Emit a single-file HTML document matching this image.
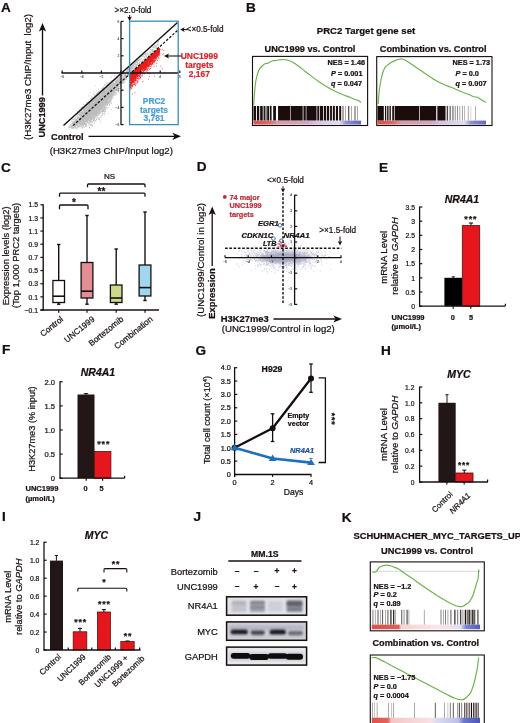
<!DOCTYPE html>
<html lang="en"><head><meta charset="utf-8"><title>Figure</title>
<style>
html,body{margin:0;padding:0;background:#fff}
svg{display:block;font-family:"Liberation Sans",sans-serif;fill:#170f0e}
text{stroke-width:0.22px}
</style></head><body>
<svg width="520" height="723" viewBox="0 0 520 723">
<defs>
<linearGradient id="rwb" x1="0" x2="1" y1="0" y2="0">
<stop offset="0" stop-color="#d9504c"/><stop offset="0.15" stop-color="#dc6a68"/><stop offset="0.22" stop-color="#d998a6"/>
<stop offset="0.5" stop-color="#cfa6c2"/><stop offset="0.58" stop-color="#d6c2dc"/><stop offset="0.8" stop-color="#dedef1"/>
<stop offset="0.86" stop-color="#8d90d0"/><stop offset="1" stop-color="#6368bd"/>
</linearGradient>
<linearGradient id="rwb2" x1="0" x2="1" y1="0" y2="0">
<stop offset="0" stop-color="#dc504b"/><stop offset="0.25" stop-color="#e0605b"/>
<stop offset="0.27" stop-color="#f6d2d2"/><stop offset="0.62" stop-color="#f9e6e8"/>
<stop offset="0.82" stop-color="#dfe0f2"/><stop offset="0.87" stop-color="#7f86d2"/><stop offset="1" stop-color="#5059bd"/>
</linearGradient>
<linearGradient id="rwb3" x1="0" x2="1" y1="0" y2="0">
<stop offset="0" stop-color="#e0504b"/><stop offset="0.15" stop-color="#e4645f"/>
<stop offset="0.18" stop-color="#f5c6c5"/><stop offset="0.55" stop-color="#f8e2e4"/>
<stop offset="0.6" stop-color="#dcdcf1"/><stop offset="0.8" stop-color="#bcc0e8"/><stop offset="0.85" stop-color="#6f77cc"/><stop offset="1" stop-color="#4a54ba"/>
</linearGradient>
<filter id="b1" x="-5%" y="-5%" width="110%" height="110%"><feGaussianBlur stdDeviation="0.35"/></filter>
<filter id="b2" x="-10%" y="-30%" width="120%" height="160%"><feGaussianBlur stdDeviation="1.1"/></filter>
<filter id="soft" filterUnits="userSpaceOnUse" x="0" y="0" width="520" height="723"><feGaussianBlur stdDeviation="0.3"/></filter>
</defs>
<rect width="520" height="723" fill="#fff"/>
<g filter="url(#soft)">
<g id="panelA">
<text x="0.90" y="11.80" font-size="13.6" font-weight="bold" stroke="#170f0e">A</text>
<path d="M81.4 116.1h0.85M109.7 95.1h0.85M80.1 119.6h0.85M103.1 92.2h0.85M81.5 124.9h0.85M106.0 93.7h0.85M116.5 80.6h0.85M95.7 107.2h0.85M129.7 70.6h0.85M87.0 120.2h0.85M98.2 102.4h0.85M92.6 108.6h0.85M100.5 97.0h0.85M111.0 89.9h0.85M74.2 121.6h0.85M78.9 121.1h0.85M78.2 120.9h0.85M87.1 111.8h0.85M96.4 99.7h0.85M80.1 120.7h0.85M105.4 97.5h0.85M101.7 99.6h0.85M84.2 112.3h0.85M86.6 101.9h0.85M90.6 105.8h0.85M97.0 98.5h0.85M89.3 104.9h0.85M95.4 98.0h0.85M104.9 96.6h0.85M87.0 108.4h0.85M103.0 89.0h0.85M92.2 105.2h0.85M103.5 97.0h0.85M99.6 100.9h0.85M89.4 117.4h0.85M91.9 105.2h0.85M116.2 80.9h0.85M110.4 87.6h0.85M105.9 95.5h0.85M106.8 85.6h0.85M92.8 112.3h0.85M122.0 77.8h0.85M109.4 88.2h0.85M119.6 81.6h0.85M118.9 83.6h0.85M106.4 93.9h0.85M99.5 106.2h0.85M92.3 113.3h0.85M89.7 125.8h0.85M106.3 103.7h0.85M98.7 100.3h0.85M91.0 102.0h0.85M119.9 79.7h0.85M88.2 108.4h0.85M116.4 82.3h0.85M88.9 114.1h0.85M104.9 98.8h0.85M87.6 108.9h0.85M81.6 118.8h0.85M104.6 98.1h0.85M92.3 107.5h0.85M113.2 84.6h0.85M82.9 119.1h0.85M124.9 75.1h0.85M99.2 103.2h0.85M110.7 88.3h0.85M99.9 107.3h0.85M109.2 89.6h0.85M74.4 126.2h0.85M81.2 117.3h0.85M100.1 100.4h0.85M96.4 109.6h0.85M86.0 114.7h0.85M85.9 111.7h0.85M97.0 114.1h0.85M91.0 101.4h0.85M84.8 118.2h0.85M75.3 120.1h0.85M91.0 115.0h0.85M71.8 123.9h0.85M87.4 109.7h0.85M89.1 117.4h0.85M108.3 95.7h0.85M93.7 119.8h0.85M82.9 123.8h0.85M110.4 96.5h0.85M90.3 108.9h0.85M92.5 108.4h0.85M93.9 112.8h0.85M88.3 110.8h0.85M116.6 90.5h0.85M97.3 99.9h0.85M92.3 103.3h0.85M97.8 105.5h0.85M89.3 104.6h0.85M121.2 81.5h0.85M85.4 110.3h0.85M89.9 112.7h0.85M89.7 121.0h0.85M106.7 85.7h0.85M83.5 121.9h0.85M108.2 95.3h0.85M103.3 110.7h0.85M97.5 98.2h0.85M80.7 114.7h0.85M93.8 103.9h0.85M109.2 93.6h0.85M105.7 103.7h0.85M106.2 101.3h0.85M97.4 94.7h0.85M102.1 102.0h0.85M81.0 121.8h0.85M118.0 80.9h0.85M97.8 105.0h0.85M97.8 101.5h0.85M88.8 110.4h0.85M100.0 106.3h0.85M86.9 119.4h0.85M83.4 111.2h0.85M89.2 115.1h0.85M98.2 96.3h0.85M98.0 104.4h0.85M89.2 112.0h0.85M108.6 95.8h0.85M82.4 124.2h0.85M82.9 124.6h0.85M111.0 89.2h0.85M94.0 98.0h0.85M88.6 107.1h0.85M107.2 103.9h0.85M77.2 126.0h0.85M108.5 86.7h0.85M81.4 112.5h0.85M92.1 111.1h0.85M90.0 112.6h0.85M81.2 115.6h0.85M92.7 106.8h0.85M86.2 103.6h0.85M83.6 117.6h0.85M101.3 107.9h0.85M102.8 98.4h0.85M82.4 107.3h0.85M101.1 90.6h0.85M105.9 94.1h0.85M107.2 94.5h0.85M90.2 105.9h0.85M109.3 94.5h0.85M98.4 99.4h0.85M101.6 105.4h0.85M95.2 107.1h0.85M93.5 112.4h0.85M92.9 116.7h0.85M113.7 85.3h0.85M91.9 99.2h0.85M94.5 104.3h0.85M112.0 96.5h0.85M102.8 108.3h0.85M110.4 97.2h0.85M91.3 110.2h0.85M92.6 114.4h0.85M89.3 114.4h0.85M98.1 113.8h0.85M106.5 90.7h0.85M88.5 113.5h0.85M104.6 107.8h0.85M77.4 116.1h0.85M113.1 85.5h0.85M98.2 102.0h0.85M116.2 86.8h0.85M107.7 96.5h0.85M92.9 108.4h0.85M90.5 114.8h0.85M96.4 102.5h0.85M111.8 94.4h0.85M101.8 106.7h0.85M105.1 95.1h0.85M104.3 103.9h0.85M83.6 127.2h0.85M92.4 117.7h0.85M80.8 117.7h0.85M117.8 80.1h0.85M71.5 128.0h0.85M107.1 91.8h0.85M96.7 104.0h0.85M117.5 83.8h0.85M102.7 96.1h0.85M85.4 113.8h0.85M90.6 117.7h0.85M108.1 90.5h0.85M97.9 109.2h0.85M71.4 125.1h0.85M95.7 115.9h0.85M96.2 114.5h0.85M96.7 103.8h0.85M101.5 99.1h0.85M99.2 109.5h0.85M92.1 111.8h0.85M94.0 105.4h0.85M104.9 87.7h0.85M108.9 92.9h0.85M85.7 121.6h0.85M100.2 109.2h0.85M104.3 88.6h0.85M98.6 100.8h0.85M90.3 120.0h0.85M103.0 102.5h0.85M101.7 96.5h0.85M110.1 81.0h0.85M99.6 105.6h0.85M72.7 128.3h0.85M87.6 118.6h0.85M88.1 101.0h0.85M94.5 107.3h0.85M125.0 75.4h0.85M74.9 122.1h0.85M85.1 104.9h0.85M81.1 121.4h0.85M76.5 121.9h0.85M84.1 116.1h0.85M92.2 112.4h0.85M109.0 88.2h0.85M97.8 109.3h0.85M83.4 114.8h0.85M127.4 73.7h0.85M87.0 117.5h0.85M83.0 122.2h0.85M94.4 97.8h0.85M97.0 107.6h0.85M76.4 121.5h0.85M96.6 112.3h0.85M83.1 116.8h0.85M109.9 88.9h0.85M99.6 104.1h0.85M101.1 100.9h0.85M124.7 79.0h0.85M92.3 100.7h0.85M93.6 98.5h0.85M96.4 104.0h0.85M92.3 117.1h0.85M105.2 100.7h0.85M98.4 111.7h0.85M108.0 101.6h0.85M94.1 110.3h0.85M104.8 101.8h0.85M83.5 118.2h0.85M116.8 84.7h0.85M99.0 102.5h0.85M100.8 95.3h0.85M114.8 94.1h0.85M114.3 87.2h0.85M94.8 100.8h0.85M89.4 127.5h0.85M101.8 99.9h0.85M112.5 82.1h0.85M89.2 128.1h0.85M104.0 94.9h0.85M81.2 112.7h0.85M108.8 96.9h0.85M99.4 95.1h0.85M102.0 95.2h0.85M106.7 98.9h0.85M84.8 115.7h0.85M113.8 94.9h0.85M107.7 113.6h0.85M88.5 102.2h0.85M90.9 109.5h0.85M103.2 90.4h0.85M83.1 120.4h0.85M88.5 113.1h0.85M116.2 90.4h0.85M90.2 117.3h0.85M81.2 116.8h0.85M105.9 83.7h0.85M93.4 105.4h0.85M98.1 104.3h0.85M110.3 93.5h0.85M92.8 110.3h0.85M95.7 97.6h0.85M106.9 103.2h0.85M91.4 114.3h0.85M107.4 93.7h0.85M108.3 94.3h0.85M72.7 124.1h0.85M99.9 98.7h0.85M80.4 118.5h0.85M88.2 116.3h0.85M101.5 98.3h0.85M85.6 124.9h0.85M111.3 90.9h0.85M102.4 89.3h0.85M111.9 88.2h0.85M99.5 108.7h0.85M91.2 111.5h0.85M87.1 112.7h0.85M92.0 106.7h0.85M115.3 82.9h0.85M102.3 101.2h0.85M77.6 121.9h0.85M103.9 104.5h0.85M113.0 90.3h0.85M101.7 102.3h0.85M81.0 107.5h0.85M82.2 112.3h0.85M89.9 108.9h0.85M86.7 116.0h0.85M108.7 83.0h0.85M86.2 113.8h0.85M109.1 96.5h0.85M106.0 101.0h0.85M104.7 95.0h0.85M112.4 87.6h0.85M81.8 114.1h0.85M83.0 112.5h0.85M116.2 82.5h0.85M89.9 103.2h0.85M99.1 110.2h0.85M92.5 99.6h0.85M93.1 107.0h0.85M92.6 118.7h0.85M90.5 107.9h0.85M99.6 103.1h0.85M69.8 124.4h0.85M106.2 90.4h0.85M113.6 90.1h0.85M89.3 109.2h0.85M118.3 89.4h0.85M94.1 111.4h0.85M104.1 89.2h0.85M93.2 115.4h0.85M97.6 105.6h0.85M77.3 117.6h0.85M90.3 106.0h0.85M80.2 113.5h0.85M78.6 115.4h0.85M73.9 119.2h0.85M92.2 118.2h0.85M94.0 104.9h0.85M84.4 118.4h0.85M100.4 102.4h0.85M102.4 97.8h0.85M109.8 95.8h0.85M129.5 68.1h0.85M101.0 94.2h0.85M109.1 92.5h0.85M89.1 105.0h0.85M102.4 111.4h0.85M82.9 114.1h0.85M98.4 101.4h0.85M105.2 96.4h0.85M117.2 86.5h0.85M91.9 106.9h0.85M106.5 91.5h0.85M115.9 87.4h0.85M111.9 87.7h0.85M83.7 116.8h0.85M123.6 74.3h0.85M91.0 124.5h0.85M87.6 117.0h0.85M98.0 89.2h0.85M106.5 101.3h0.85M107.3 99.6h0.85M96.0 96.2h0.85M95.8 105.3h0.85M98.9 108.6h0.85M99.1 99.7h0.85M77.7 123.4h0.85M92.4 105.4h0.85M106.4 96.8h0.85M122.6 82.6h0.85M95.2 101.1h0.85M96.6 108.2h0.85M95.4 105.7h0.85M96.3 99.8h0.85M74.8 123.1h0.85M92.2 109.8h0.85M117.1 80.2h0.85M105.3 111.5h0.85M103.2 109.4h0.85M84.0 119.2h0.85M118.2 90.5h0.85M111.1 82.9h0.85M109.9 90.5h0.85M112.4 92.2h0.85M95.8 102.8h0.85M87.4 113.7h0.85M101.7 102.6h0.85M110.4 92.6h0.85M85.2 115.8h0.85M91.4 114.7h0.85M105.7 86.0h0.85M92.0 109.3h0.85M95.3 112.8h0.85M111.0 90.5h0.85M113.4 89.0h0.85M97.5 92.9h0.85M95.8 103.1h0.85M114.0 88.7h0.85M109.0 97.6h0.85M94.3 109.9h0.85M107.8 96.6h0.85M88.5 108.7h0.85M116.6 89.5h0.85M123.9 81.0h0.85M89.1 117.0h0.85M117.8 81.5h0.85M100.8 93.3h0.85M107.7 95.5h0.85M89.2 120.8h0.85M111.0 92.8h0.85M93.9 106.5h0.85M104.4 93.5h0.85M109.6 100.0h0.85M95.7 104.3h0.85M73.5 127.6h0.85M104.5 98.7h0.85M98.2 111.2h0.85M108.5 84.2h0.85M94.4 111.2h0.85M82.2 112.4h0.85M98.3 108.1h0.85M112.5 85.6h0.85M104.7 108.2h0.85M95.7 101.7h0.85M81.4 113.1h0.85M115.2 81.6h0.85M87.8 116.8h0.85M109.0 87.9h0.85M112.6 83.3h0.85M95.7 108.0h0.85M73.4 122.1h0.85M126.0 75.4h0.85M90.9 105.7h0.85M101.8 108.7h0.85M87.9 119.2h0.85M122.7 80.1h0.85M107.9 83.9h0.85M121.1 74.5h0.85M117.8 88.4h0.85M92.6 112.8h0.85M93.3 91.4h0.85M75.6 124.9h0.85M93.1 105.5h0.85M87.6 109.0h0.85M91.3 119.8h0.85M86.3 110.7h0.85M111.7 89.0h0.85M98.5 95.3h0.85M131.0 65.0h0.85M90.1 113.7h0.85M114.8 87.1h0.85M84.5 124.3h0.85M84.4 111.5h0.85M97.9 107.0h0.85M98.4 109.2h0.85M107.8 91.4h0.85M110.7 91.9h0.85M113.4 91.5h0.85M112.9 81.9h0.85M101.5 90.8h0.85M122.4 81.1h0.85M88.5 119.2h0.85M106.4 99.7h0.85M77.1 121.8h0.85M82.3 106.7h0.85M96.2 101.2h0.85M86.7 120.8h0.85M103.6 92.3h0.85M88.3 118.6h0.85M94.9 101.8h0.85M90.7 100.6h0.85M103.9 90.3h0.85M84.9 123.3h0.85M84.8 117.8h0.85M113.1 86.4h0.85M99.8 108.9h0.85M101.9 101.7h0.85M99.5 104.8h0.85M82.3 116.9h0.85M107.9 97.7h0.85M102.7 87.0h0.85M108.7 99.0h0.85M107.9 92.8h0.85M117.8 91.3h0.85M85.8 105.3h0.85M110.1 87.4h0.85M108.1 94.0h0.85M96.9 104.3h0.85M107.7 95.5h0.85M101.1 91.8h0.85M82.6 121.2h0.85M104.2 99.7h0.85M102.3 114.2h0.85M97.3 97.2h0.85M94.9 104.8h0.85M107.3 84.6h0.85M84.3 111.7h0.85M119.9 83.5h0.85M108.4 88.6h0.85M120.1 78.2h0.85M96.7 107.3h0.85M90.8 108.3h0.85M94.2 99.0h0.85M109.7 96.8h0.85M122.2 74.7h0.85M82.3 111.7h0.85M111.7 85.2h0.85M91.7 105.1h0.85M101.3 104.0h0.85M115.8 84.7h0.85M104.6 96.9h0.85M115.7 84.6h0.85M85.1 121.5h0.85M74.5 126.6h0.85M92.1 113.2h0.85M124.6 76.8h0.85M88.1 113.9h0.85M92.7 101.5h0.85M95.5 113.2h0.85M94.2 98.8h0.85M101.8 101.2h0.85M106.4 95.3h0.85M91.9 111.2h0.85M117.9 83.2h0.85M107.3 98.5h0.85M102.1 110.6h0.85M116.4 87.5h0.85M97.0 112.8h0.85M90.7 115.7h0.85M111.4 89.2h0.85M82.0 128.1h0.85M96.1 108.2h0.85M82.8 113.5h0.85M94.6 105.8h0.85M89.5 114.5h0.85M91.1 119.5h0.85M105.0 95.0h0.85M75.0 123.2h0.85M111.7 89.0h0.85M113.5 89.4h0.85M97.0 112.4h0.85M85.5 125.7h0.85M85.6 112.9h0.85M103.6 91.4h0.85M98.7 109.1h0.85M102.5 100.5h0.85M119.7 73.8h0.85M109.2 99.0h0.85M90.3 109.1h0.85M87.9 109.1h0.85M105.7 91.8h0.85M99.9 107.3h0.85M86.3 114.6h0.85M113.9 80.4h0.85M109.5 90.8h0.85M105.6 92.0h0.85M113.5 84.2h0.85M77.4 117.2h0.85M101.9 102.9h0.85M103.7 96.7h0.85M96.3 115.5h0.85M98.4 99.7h0.85M96.4 114.8h0.85M102.8 94.8h0.85M99.3 99.7h0.85M92.5 112.4h0.85M103.7 100.7h0.85M106.1 96.8h0.85M87.8 112.6h0.85M113.1 88.3h0.85M111.1 86.4h0.85M92.0 117.9h0.85M127.7 72.8h0.85M94.7 113.8h0.85M107.5 90.1h0.85M101.2 104.9h0.85M82.7 122.4h0.85M100.0 98.4h0.85M86.6 112.7h0.85M88.3 114.3h0.85M103.6 102.1h0.85M94.7 105.2h0.85M105.5 101.9h0.85M99.2 121.0h0.85M110.1 96.3h0.85M74.1 123.4h0.85M109.0 85.8h0.85M105.6 99.9h0.85M104.7 93.8h0.85M97.9 104.0h0.85M109.7 85.0h0.85M87.7 113.3h0.85M109.0 86.1h0.85M121.6 82.8h0.85M113.7 89.5h0.85M69.6 125.7h0.85M98.4 105.1h0.85M100.5 97.2h0.85M89.4 110.1h0.85M81.7 112.7h0.85M101.3 100.5h0.85M100.7 96.3h0.85M110.9 86.7h0.85M99.2 109.4h0.85M104.3 91.7h0.85M112.0 90.3h0.85M117.4 84.9h0.85M90.8 108.4h0.85M106.9 96.9h0.85M84.4 124.5h0.85M113.7 87.3h0.85M107.5 97.1h0.85M104.3 96.6h0.85M97.7 109.2h0.85M85.0 109.0h0.85M115.1 83.6h0.85M92.7 111.6h0.85M79.5 110.1h0.85M89.9 109.8h0.85M114.9 82.5h0.85M104.2 99.7h0.85M99.8 106.0h0.85M104.6 102.6h0.85M97.2 100.8h0.85M107.8 97.8h0.85M98.2 105.7h0.85M88.9 106.8h0.85M103.4 101.9h0.85M100.4 109.7h0.85M87.2 122.1h0.85M90.5 104.0h0.85M98.8 104.3h0.85M100.4 103.1h0.85M99.4 110.5h0.85M97.5 109.4h0.85M99.2 102.5h0.85M99.8 109.4h0.85M119.0 84.7h0.85M93.0 109.8h0.85M89.9 119.0h0.85M100.4 95.8h0.85M93.6 120.5h0.85M83.0 115.6h0.85M79.3 123.6h0.85M88.0 116.6h0.85M102.2 93.7h0.85M115.9 83.2h0.85M98.6 108.3h0.85M96.5 115.7h0.85M123.9 75.3h0.85M103.7 97.2h0.85M116.1 85.2h0.85M97.5 109.9h0.85M93.5 106.9h0.85M111.8 93.7h0.85M84.0 121.1h0.85M85.5 106.6h0.85M107.2 91.6h0.85M89.8 112.8h0.85M77.8 125.9h0.85M90.3 115.5h0.85M86.8 118.9h0.85M92.2 110.9h0.85M117.6 86.4h0.85M95.0 106.1h0.85M108.3 91.1h0.85M110.7 89.9h0.85M100.3 98.9h0.85M99.5 103.1h0.85M91.0 119.8h0.85M103.6 102.3h0.85M97.9 95.2h0.85M77.8 117.8h0.85M100.2 112.6h0.85M95.9 113.0h0.85M109.7 92.6h0.85M117.2 85.7h0.85M107.2 94.6h0.85M72.5 123.6h0.85M82.5 124.8h0.85M106.5 103.7h0.85M80.2 118.3h0.85M90.7 116.5h0.85M110.2 91.4h0.85M105.1 89.4h0.85M84.7 117.5h0.85M84.7 119.2h0.85M81.5 118.6h0.85M90.8 104.9h0.85M99.7 104.3h0.85M104.8 90.2h0.85M99.6 108.0h0.85M98.3 107.3h0.85M118.3 81.0h0.85M88.2 118.8h0.85M108.1 92.7h0.85M109.6 101.6h0.85M90.5 107.8h0.85M103.3 87.6h0.85M115.5 85.9h0.85M111.7 86.9h0.85M104.7 89.9h0.85M99.0 97.3h0.85M111.0 91.5h0.85M106.0 101.9h0.85M98.3 103.3h0.85M107.6 91.7h0.85M100.8 122.1h0.85M101.5 96.7h0.85M121.4 82.8h0.85M98.3 101.1h0.85M85.0 107.7h0.85M102.7 104.2h0.85M82.2 119.6h0.85M126.7 67.6h0.85M105.4 97.6h0.85M89.2 107.5h0.85M98.3 101.5h0.85M100.4 108.0h0.85M113.5 90.2h0.85M111.2 87.2h0.85M97.6 103.0h0.85M96.5 115.9h0.85M93.0 105.2h0.85M110.6 87.3h0.85M77.8 119.1h0.85M96.5 98.9h0.85M93.0 109.2h0.85M87.7 111.4h0.85M95.5 109.6h0.85M92.7 112.7h0.85M104.9 103.5h0.85M77.6 125.8h0.85M110.6 93.9h0.85M105.2 92.9h0.85M90.7 105.3h0.85M103.4 99.0h0.85M88.2 112.4h0.85M81.0 119.8h0.85M89.8 108.0h0.85M101.4 104.4h0.85M107.9 87.9h0.85M97.9 108.1h0.85M103.4 113.6h0.85M89.7 107.2h0.85M122.2 80.8h0.85M120.7 77.5h0.85M94.9 114.3h0.85M107.9 92.5h0.85M106.1 102.6h0.85M104.3 109.4h0.85M127.0 70.7h0.85M111.5 95.5h0.85M109.7 90.7h0.85M114.1 80.6h0.85M80.7 123.0h0.85M86.1 116.8h0.85M94.4 101.7h0.85M80.4 126.3h0.85M102.5 104.9h0.85M103.1 98.0h0.85M114.1 92.4h0.85M90.2 101.8h0.85M100.6 109.1h0.85M102.6 111.4h0.85M80.5 115.5h0.85M108.7 84.7h0.85M96.1 109.1h0.85M116.2 80.8h0.85M96.1 103.0h0.85M92.1 101.5h0.85M96.1 104.0h0.85M121.3 84.3h0.85M72.8 122.5h0.85M94.0 95.5h0.85M107.2 96.2h0.85M87.6 110.2h0.85M83.9 127.3h0.85M91.2 107.8h0.85M106.7 97.1h0.85M93.1 118.1h0.85M89.4 115.7h0.85M97.5 100.1h0.85M73.2 124.7h0.85M81.0 110.6h0.85M84.3 112.3h0.85M106.9 94.3h0.85M99.0 109.6h0.85M118.0 82.1h0.85M91.5 106.7h0.85M108.5 89.4h0.85M82.7 115.2h0.85M94.1 102.7h0.85M96.3 113.7h0.85M78.1 121.4h0.85M88.6 114.9h0.85M85.2 109.2h0.85M98.1 106.9h0.85M113.5 89.3h0.85M114.0 88.5h0.85M89.4 104.4h0.85M111.1 93.4h0.85M98.4 92.2h0.85M117.2 87.0h0.85M89.3 104.4h0.85M89.5 120.4h0.85M90.0 106.4h0.85M91.0 107.8h0.85M87.9 117.2h0.85M102.6 105.2h0.85M82.4 115.4h0.85M108.0 96.2h0.85M94.3 111.1h0.85M87.8 114.9h0.85M104.3 101.6h0.85M108.7 100.0h0.85M68.5 127.5h0.85M81.0 112.8h0.85M85.8 118.2h0.85M109.2 90.8h0.85M94.3 100.2h0.85M107.2 96.6h0.85M90.5 118.8h0.85M97.4 97.6h0.85M115.2 79.2h0.85M96.9 98.0h0.85M84.1 106.5h0.85M107.0 101.5h0.85M91.4 110.1h0.85M101.4 102.2h0.85M88.9 106.9h0.85M93.8 116.3h0.85M81.9 108.0h0.85M99.6 102.5h0.85M87.4 118.0h0.85M87.8 107.2h0.85M89.3 102.7h0.85M91.1 118.7h0.85M111.6 94.8h0.85M81.0 116.5h0.85M96.9 110.5h0.85M100.0 104.1h0.85M89.6 106.7h0.85M96.4 107.2h0.85M102.2 107.9h0.85M109.9 89.5h0.85M100.8 106.1h0.85M82.7 117.2h0.85M87.3 109.2h0.85M77.9 120.8h0.85M90.6 111.0h0.85M97.4 94.5h0.85M73.3 124.5h0.85M95.3 110.4h0.85M109.7 94.9h0.85M95.7 104.3h0.85M86.5 116.8h0.85M96.7 107.6h0.85M94.2 100.5h0.85M105.0 100.1h0.85M118.2 82.7h0.85M110.2 88.5h0.85M100.0 109.3h0.85M101.9 111.8h0.85M103.3 89.3h0.85M112.1 82.4h0.85M124.9 78.3h0.85M95.0 115.6h0.85M80.5 113.6h0.85M94.0 103.4h0.85M97.5 99.8h0.85M78.1 121.6h0.85M89.8 112.2h0.85M96.4 100.9h0.85M103.9 89.8h0.85M93.1 106.7h0.85M93.8 109.4h0.85M99.6 102.3h0.85M103.2 94.1h0.85M91.4 118.3h0.85M98.3 91.9h0.85M76.9 126.9h0.85M90.8 104.7h0.85M89.7 113.8h0.85M116.9 84.5h0.85M109.2 98.5h0.85M103.2 103.1h0.85M107.5 96.6h0.85M98.2 102.2h0.85M93.1 115.5h0.85M94.2 110.4h0.85M102.3 94.9h0.85M104.2 100.8h0.85M110.5 90.5h0.85M118.0 83.6h0.85M97.1 117.7h0.85M115.4 80.1h0.85M97.7 98.0h0.85M94.0 111.8h0.85M89.9 113.3h0.85M113.6 91.5h0.85M91.1 117.0h0.85M97.2 104.1h0.85M92.8 104.1h0.85M102.3 101.1h0.85M119.5 88.1h0.85M108.4 97.5h0.85M103.0 100.2h0.85M94.6 111.2h0.85M118.5 81.2h0.85M79.2 112.1h0.85M104.5 89.7h0.85M102.3 113.2h0.85M87.6 113.5h0.85M94.9 96.7h0.85M88.4 112.5h0.85M96.3 105.5h0.85M83.8 123.1h0.85M94.5 105.3h0.85M83.5 116.2h0.85M84.6 121.3h0.85M101.4 96.5h0.85M104.5 98.0h0.85M92.1 99.9h0.85M113.1 91.6h0.85M83.1 114.4h0.85M101.2 106.4h0.85M126.4 79.5h0.85M86.4 112.2h0.85M109.8 102.0h0.85M91.5 100.2h0.85M115.1 87.4h0.85M97.5 109.4h0.85M102.1 106.4h0.85M97.8 111.9h0.85M111.3 84.1h0.85M109.9 88.7h0.85M111.6 88.9h0.85M108.2 91.5h0.85M107.1 101.0h0.85M88.6 117.9h0.85M107.7 91.8h0.85M87.0 119.3h0.85M89.7 105.3h0.85M95.6 107.1h0.85M88.2 112.8h0.85M117.6 86.4h0.85M92.5 97.7h0.85M106.3 102.8h0.85M111.1 97.3h0.85M104.2 113.4h0.85M84.3 110.0h0.85M89.4 115.5h0.85M97.8 103.7h0.85M91.1 113.8h0.85M120.2 75.1h0.85M101.3 107.7h0.85M90.3 112.0h0.85M103.3 88.8h0.85M90.4 109.2h0.85M91.6 108.2h0.85M88.2 109.7h0.85M112.0 91.8h0.85M92.9 107.2h0.85M80.2 109.7h0.85M79.9 121.2h0.85M85.7 104.9h0.85M90.8 112.9h0.85M121.3 79.7h0.85M87.1 113.1h0.85M99.6 106.7h0.85M94.7 107.6h0.85M106.4 91.7h0.85M107.8 95.2h0.85M107.3 96.2h0.85M112.0 87.8h0.85M91.6 101.4h0.85M77.7 125.8h0.85M86.9 114.0h0.85M81.3 124.6h0.85M72.9 125.1h0.85M107.0 94.5h0.85M88.0 118.0h0.85M100.6 103.2h0.85M96.4 107.5h0.85M104.5 95.0h0.85M95.1 97.6h0.85M109.0 95.7h0.85M94.4 101.3h0.85M96.2 103.5h0.85M93.7 108.4h0.85M92.9 100.1h0.85M100.1 92.3h0.85M94.9 99.6h0.85M79.4 121.8h0.85M96.3 108.9h0.85M95.6 111.3h0.85M95.0 110.2h0.85M97.0 106.1h0.85M84.3 117.9h0.85M97.4 111.9h0.85M98.3 95.4h0.85M94.2 103.4h0.85M105.1 102.0h0.85M114.0 75.9h0.85M84.0 105.5h0.85M85.6 113.2h0.85M96.0 113.5h0.85M98.1 106.8h0.85M80.9 127.8h0.85M77.6 116.6h0.85M105.0 95.9h0.85M96.2 95.6h0.85M113.6 87.0h0.85M96.2 93.6h0.85M101.8 103.0h0.85M82.7 125.2h0.85M86.7 113.4h0.85M96.6 94.8h0.85M106.4 85.4h0.85M93.3 112.3h0.85M103.3 99.5h0.85M98.8 102.2h0.85M87.1 119.5h0.85M89.0 116.1h0.85M113.4 91.5h0.85M99.6 99.3h0.85M91.6 106.3h0.85M104.9 107.8h0.85M99.9 104.1h0.85M105.1 99.8h0.85M88.8 116.3h0.85M95.6 102.8h0.85M91.3 108.8h0.85M107.7 98.9h0.85M115.0 90.1h0.85M77.0 123.7h0.85M95.7 105.1h0.85M87.5 111.4h0.85M109.9 87.2h0.85M96.2 113.5h0.85M119.0 78.2h0.85M96.2 97.9h0.85M113.9 86.8h0.85M85.7 112.8h0.85M84.9 116.8h0.85M113.6 88.3h0.85M82.5 116.7h0.85M95.1 112.1h0.85M108.2 91.0h0.85M122.1 70.8h0.85M89.7 118.6h0.85M121.7 75.5h0.85M112.7 86.1h0.85M94.2 100.7h0.85M111.4 84.5h0.85M83.2 110.5h0.85M92.6 110.4h0.85M101.6 102.4h0.85M126.8 71.6h0.85M100.5 102.4h0.85M100.3 102.9h0.85M104.6 92.5h0.85M107.9 101.4h0.85M92.9 107.4h0.85M81.5 115.9h0.85M95.3 105.5h0.85M102.0 103.8h0.85M117.1 79.8h0.85M90.1 107.5h0.85M106.6 100.2h0.85M92.6 103.9h0.85M101.3 96.7h0.85M85.3 109.4h0.85M125.5 74.0h0.85M96.6 104.2h0.85M84.1 112.3h0.85M99.4 97.6h0.85M115.4 85.8h0.85M99.5 100.1h0.85M119.4 87.0h0.85M97.1 108.1h0.85M98.8 97.6h0.85M98.0 98.8h0.85M99.5 106.5h0.85M88.7 120.2h0.85M100.0 104.1h0.85M107.9 89.0h0.85M85.8 120.9h0.85M104.9 102.6h0.85M99.8 98.0h0.85M92.2 97.4h0.85M87.2 110.3h0.85M91.9 126.7h0.85M94.9 107.1h0.85M104.6 98.5h0.85M87.8 115.6h0.85M93.2 102.9h0.85M93.6 99.6h0.85M108.1 98.2h0.85M110.4 103.3h0.85M97.5 110.0h0.85M95.9 98.1h0.85M97.1 105.2h0.85M113.5 91.6h0.85M86.5 107.4h0.85M105.0 105.8h0.85M99.1 97.6h0.85M95.1 108.5h0.85M98.9 101.3h0.85M88.1 106.9h0.85M77.0 122.3h0.85M124.5 79.0h0.85M96.7 118.7h0.85M86.5 120.7h0.85M97.9 106.6h0.85M120.6 83.4h0.85M96.8 103.2h0.85M105.4 91.7h0.85M77.1 111.8h0.85M93.2 112.1h0.85M76.1 124.6h0.85M74.5 123.4h0.85M89.5 108.9h0.85M87.0 112.6h0.85M125.6 71.2h0.85M99.2 108.5h0.85M115.8 92.9h0.85M79.1 113.7h0.85M89.5 102.6h0.85M104.4 84.6h0.85M119.9 81.8h0.85M104.6 101.2h0.85M76.8 115.9h0.85M95.3 98.8h0.85M111.5 81.0h0.85M106.2 95.1h0.85M74.8 120.2h0.85M85.2 106.6h0.85M90.7 116.0h0.85M97.6 104.6h0.85M99.2 96.6h0.85M116.2 84.2h0.85M115.4 85.0h0.85M77.6 125.4h0.85M95.9 105.9h0.85M105.1 102.7h0.85M81.5 113.5h0.85M84.6 107.3h0.85M91.7 98.6h0.85M91.9 111.4h0.85M105.9 103.2h0.85M102.6 109.6h0.85M100.5 101.3h0.85M105.5 100.8h0.85M92.4 109.5h0.85M101.3 95.1h0.85M100.8 115.9h0.85M91.8 113.1h0.85M86.9 117.1h0.85M102.2 115.3h0.85M102.2 95.0h0.85M106.4 99.9h0.85M77.1 127.9h0.85M85.8 118.2h0.85M95.6 105.4h0.85M92.6 103.6h0.85M110.1 93.2h0.85M117.1 84.6h0.85M85.9 113.1h0.85M78.7 121.9h0.85M83.5 118.8h0.85M99.5 117.4h0.85M102.0 98.4h0.85M94.2 102.4h0.85M101.3 102.8h0.85M84.1 111.4h0.85M106.6 104.3h0.85M87.7 119.9h0.85M107.6 98.0h0.85M81.0 110.5h0.85M102.8 97.9h0.85M100.1 102.8h0.85M97.4 98.5h0.85M102.6 102.3h0.85M98.2 91.8h0.85M89.8 118.9h0.85M98.4 110.3h0.85M130.5 67.5h0.85M104.4 95.7h0.85M122.1 82.0h0.85M96.3 115.4h0.85M112.8 89.3h0.85M119.5 82.4h0.85M83.6 120.3h0.85M107.2 99.9h0.85M100.2 106.1h0.85M87.8 116.0h0.85M117.7 87.8h0.85M101.0 95.9h0.85M87.4 122.3h0.85M116.1 77.7h0.85M93.7 114.8h0.85M108.0 94.6h0.85M86.3 116.2h0.85M81.3 125.3h0.85M104.3 96.4h0.85M118.6 93.0h0.85M88.3 117.3h0.85M113.8 83.0h0.85M98.4 102.7h0.85M87.2 116.3h0.85M91.1 125.4h0.85M121.2 77.0h0.85M123.6 72.9h0.85M103.2 93.9h0.85M75.1 127.9h0.85M107.7 96.8h0.85M76.0 122.9h0.85M80.2 119.2h0.85M116.9 89.2h0.85M91.0 106.3h0.85M96.4 103.8h0.85M85.9 116.3h0.85M113.3 93.8h0.85M94.4 102.4h0.85M112.5 83.7h0.85M85.3 117.3h0.85M119.4 83.4h0.85M100.4 106.8h0.85M89.7 124.7h0.85M83.7 122.0h0.85M114.2 83.9h0.85M101.9 103.5h0.85M78.8 118.1h0.85M86.0 114.9h0.85M108.9 94.5h0.85M96.3 111.4h0.85M110.2 89.2h0.85M105.8 87.2h0.85M75.7 123.1h0.85M105.0 95.5h0.85M100.6 98.4h0.85M76.9 122.5h0.85M111.7 90.6h0.85M94.1 101.8h0.85M74.1 123.0h0.85M116.3 86.2h0.85M86.0 110.9h0.85M90.8 115.1h0.85M98.8 113.4h0.85M105.3 104.4h0.85M89.6 106.5h0.85M96.3 103.6h0.85M114.4 80.2h0.85M123.6 78.6h0.85M108.5 103.0h0.85M107.0 88.1h0.85M87.3 110.2h0.85M107.5 95.9h0.85M88.4 102.6h0.85M79.6 118.9h0.85M109.0 92.1h0.85M117.1 78.0h0.85M102.7 88.4h0.85M106.4 103.5h0.85M92.5 106.8h0.85M99.1 113.3h0.85M126.4 78.1h0.85M82.1 115.1h0.85M99.3 92.9h0.85M99.6 99.9h0.85M106.1 100.8h0.85M80.0 121.8h0.85M109.8 93.9h0.85M112.9 91.6h0.85M106.5 96.0h0.85M107.6 94.9h0.85M99.3 105.4h0.85M112.8 89.2h0.85M103.2 95.0h0.85M85.2 120.0h0.85M96.2 97.2h0.85M83.1 122.6h0.85M84.0 118.3h0.85M83.0 121.5h0.85M103.6 105.5h0.85M96.6 112.2h0.85M94.1 103.7h0.85M70.9 127.2h0.85M99.7 102.5h0.85M100.1 99.2h0.85M80.0 120.0h0.85M105.1 89.6h0.85M79.2 123.1h0.85M79.1 120.3h0.85M83.0 122.4h0.85M106.7 82.9h0.85M70.2 127.3h0.85M92.7 107.8h0.85M130.9 71.6h0.85M92.9 112.5h0.85M120.6 91.2h0.85M115.4 83.4h0.85M107.1 97.0h0.85M92.2 122.1h0.85M85.5 124.1h0.85M105.5 103.4h0.85M87.8 109.2h0.85M109.6 86.1h0.85M85.8 112.8h0.85M110.6 95.9h0.85M93.9 114.9h0.85M88.5 107.5h0.85M98.0 105.9h0.85M89.6 101.4h0.85M106.5 103.2h0.85M124.7 76.9h0.85M94.9 109.4h0.85M89.5 107.1h0.85M78.2 120.8h0.85M92.6 97.4h0.85M101.9 97.5h0.85M103.6 95.0h0.85M98.4 118.5h0.85M102.3 101.8h0.85M105.9 94.8h0.85M89.8 116.3h0.85M83.8 114.4h0.85M95.5 111.3h0.85M92.2 106.5h0.85M88.3 112.9h0.85M89.0 127.6h0.85M98.0 103.2h0.85M107.3 87.8h0.85M87.5 109.0h0.85M100.3 101.1h0.85M107.5 90.0h0.85M80.6 111.1h0.85M94.6 110.7h0.85M88.0 113.8h0.85M82.4 111.1h0.85M102.4 105.4h0.85M107.4 93.7h0.85M97.9 97.7h0.85M95.7 107.2h0.85M103.3 110.3h0.85M81.5 115.3h0.85M110.6 100.1h0.85M97.0 108.6h0.85M93.2 104.0h0.85M116.0 77.7h0.85M109.0 89.8h0.85M98.7 114.6h0.85M101.9 107.5h0.85M82.6 116.4h0.85M76.6 114.4h0.85M104.6 95.6h0.85M103.1 97.6h0.85M97.7 99.4h0.85M88.3 110.4h0.85M99.0 97.8h0.85M82.8 115.5h0.85M95.2 102.1h0.85M103.8 97.3h0.85M102.8 96.6h0.85M114.3 85.8h0.85M103.7 104.3h0.85M94.3 102.1h0.85M110.3 96.8h0.85M96.4 106.7h0.85M97.6 106.9h0.85M91.5 109.7h0.85M98.5 96.8h0.85M86.0 120.1h0.85M107.0 92.7h0.85M94.5 113.8h0.85M110.4 97.3h0.85M111.4 89.3h0.85M95.0 107.3h0.85M107.3 95.0h0.85M74.7 126.9h0.85M69.5 127.3h0.85M108.7 88.0h0.85M79.7 108.9h0.85M120.1 81.1h0.85M90.0 92.8h0.85M70.1 126.0h0.85M107.2 98.0h0.85M94.3 106.3h0.85M92.5 111.8h0.85M89.5 114.7h0.85M112.6 87.2h0.85M109.9 82.6h0.85M109.1 94.3h0.85M89.2 108.8h0.85M90.1 115.7h0.85M92.9 107.7h0.85M97.0 98.9h0.85M97.1 107.3h0.85M94.0 108.8h0.85M95.0 110.5h0.85M76.7 121.3h0.85M115.5 93.9h0.85M87.2 110.4h0.85M88.2 108.9h0.85M96.2 111.9h0.85M94.1 110.2h0.85M103.8 114.1h0.85M102.1 91.7h0.85M98.8 101.4h0.85M90.0 108.5h0.85M95.0 114.2h0.85M102.4 98.6h0.85M110.8 89.9h0.85M105.7 104.6h0.85M73.0 127.6h0.85M92.7 106.0h0.85M95.2 107.1h0.85M97.4 102.5h0.85M99.4 100.3h0.85M90.4 110.8h0.85M78.1 126.3h0.85M93.4 105.0h0.85M87.2 121.8h0.85M109.1 97.6h0.85M74.9 127.8h0.85M91.9 98.4h0.85M87.4 118.0h0.85M111.5 90.1h0.85M95.5 97.3h0.85M81.8 118.1h0.85M103.3 97.7h0.85M81.9 122.8h0.85M119.6 81.7h0.85M93.5 100.8h0.85M74.0 124.8h0.85M74.4 118.7h0.85M84.2 115.0h0.85M85.1 114.1h0.85M100.9 100.9h0.85M92.8 106.6h0.85M93.8 110.4h0.85M104.9 92.4h0.85M79.7 124.7h0.85M87.0 111.4h0.85M79.0 112.6h0.85M97.4 103.1h0.85M108.0 98.4h0.85M101.6 97.8h0.85M113.3 93.3h0.85M114.6 84.3h0.85M100.1 95.1h0.85M93.7 108.5h0.85M107.6 96.8h0.85M110.7 84.3h0.85M99.7 100.9h0.85M88.7 117.4h0.85M115.3 90.7h0.85M98.0 101.7h0.85M85.6 118.6h0.85M93.9 109.0h0.85M124.5 79.2h0.85M88.7 115.3h0.85M92.5 121.5h0.85M98.0 105.2h0.85M90.0 110.6h0.85M103.4 102.3h0.85M86.4 115.4h0.85M107.3 87.0h0.85M97.7 109.4h0.85M79.7 115.8h0.85M95.0 113.0h0.85M101.2 98.8h0.85M108.5 84.8h0.85M78.7 120.3h0.85M88.9 107.0h0.85M110.7 85.5h0.85M82.6 121.4h0.85M99.2 110.9h0.85M121.0 86.3h0.85M81.6 113.5h0.85M87.8 108.0h0.85M84.7 108.7h0.85M89.9 106.0h0.85M110.0 99.7h0.85M86.0 124.7h0.85M83.2 111.1h0.85M96.9 99.1h0.85M115.4 81.4h0.85M106.5 98.3h0.85M92.4 106.3h0.85M108.4 87.8h0.85M101.1 102.4h0.85M96.4 94.5h0.85M88.6 111.1h0.85M93.6 101.1h0.85M93.4 97.7h0.85M114.8 85.4h0.85M100.7 106.4h0.85M99.3 99.4h0.85M117.0 80.8h0.85M95.2 106.6h0.85M80.5 116.8h0.85M95.6 104.2h0.85M86.5 110.8h0.85M108.8 94.2h0.85M119.7 84.8h0.85M91.1 111.0h0.85M99.0 105.2h0.85M91.6 110.1h0.85M107.9 91.3h0.85M122.5 83.1h0.85M97.9 112.5h0.85M75.2 122.3h0.85M93.4 110.7h0.85M84.1 116.9h0.85M77.0 122.7h0.85M90.8 117.3h0.85M102.7 110.6h0.85M103.0 97.3h0.85M104.2 97.0h0.85M107.6 96.0h0.85M83.8 113.6h0.85M87.5 114.7h0.85M99.0 108.1h0.85M110.0 99.8h0.85M113.0 88.6h0.85M119.0 77.5h0.85M106.1 94.5h0.85M99.0 110.9h0.85M90.4 115.7h0.85M88.5 112.4h0.85M87.4 111.7h0.85M94.3 109.4h0.85M102.5 96.4h0.85M80.5 120.2h0.85M97.7 100.7h0.85M86.3 107.5h0.85M117.0 81.6h0.85M95.8 105.0h0.85M73.5 122.6h0.85M93.6 104.6h0.85M102.2 98.2h0.85M124.1 73.2h0.85M89.2 107.2h0.85M105.5 96.4h0.85M115.4 87.4h0.85M75.3 127.7h0.85M102.4 105.5h0.85M99.4 111.3h0.85M102.4 101.0h0.85M86.0 117.2h0.85M94.1 101.1h0.85M100.5 102.3h0.85M99.5 96.4h0.85M103.4 87.7h0.85M88.4 106.6h0.85M99.1 106.2h0.85M105.1 92.1h0.85M109.9 89.5h0.85M86.4 112.4h0.85M102.4 89.2h0.85M99.1 101.4h0.85M117.3 83.4h0.85M91.8 106.9h0.85M107.3 94.0h0.85M76.3 124.1h0.85M110.2 95.4h0.85M108.4 92.8h0.85M87.4 107.6h0.85M77.9 118.5h0.85M94.0 102.9h0.85M96.5 103.7h0.85M90.9 111.9h0.85M110.0 87.9h0.85M80.7 115.5h0.85M123.1 74.8h0.85M85.6 109.6h0.85M100.3 103.2h0.85M109.8 85.7h0.85M90.9 108.7h0.85M92.6 108.0h0.85M117.6 85.1h0.85M104.7 95.8h0.85M98.6 109.6h0.85M105.4 103.2h0.85M106.7 96.1h0.85M99.3 105.0h0.85M86.7 119.4h0.85M97.7 104.1h0.85M101.1 102.3h0.85M107.3 94.1h0.85M99.1 103.8h0.85M97.3 99.9h0.85M88.7 118.8h0.85M102.4 96.8h0.85M97.9 101.9h0.85M81.1 123.2h0.85M97.5 103.9h0.85M81.9 114.9h0.85M73.6 120.0h0.85M84.3 118.5h0.85M84.4 123.1h0.85M93.5 118.8h0.85M93.3 106.4h0.85M93.7 107.1h0.85M80.9 112.9h0.85M101.4 111.2h0.85M118.9 79.5h0.85M111.1 85.6h0.85M113.8 95.3h0.85M98.4 107.6h0.85M121.7 76.4h0.85M97.4 105.4h0.85M71.0 126.8h0.85M86.9 104.7h0.85M106.7 96.0h0.85M92.5 101.4h0.85M90.8 102.9h0.85M100.0 103.2h0.85M102.1 89.1h0.85M77.4 118.1h0.85M106.7 97.0h0.85M115.8 82.5h0.85M104.3 103.8h0.85M104.7 105.0h0.85M103.8 85.2h0.85M86.2 111.8h0.85M88.9 111.2h0.85M111.1 95.1h0.85M83.4 126.8h0.85M129.0 70.9h0.85M99.3 98.8h0.85M101.7 101.7h0.85M72.7 123.0h0.85M99.4 101.7h0.85M119.4 79.2h0.85M91.0 96.7h0.85M116.9 85.3h0.85M82.9 117.0h0.85M75.2 126.8h0.85M96.4 113.9h0.85M94.0 111.0h0.85M113.2 80.8h0.85M124.0 75.8h0.85M105.8 82.8h0.85M89.3 104.6h0.85M76.2 120.2h0.85M82.1 109.5h0.85M106.3 90.6h0.85M76.1 121.2h0.85M98.2 104.2h0.85M72.8 128.1h0.85M80.2 120.8h0.85M85.5 115.9h0.85M93.3 99.6h0.85M85.0 112.7h0.85M83.6 114.4h0.85M110.4 94.4h0.85M82.4 116.8h0.85M97.7 107.5h0.85M102.7 98.7h0.85M105.9 104.3h0.85M106.9 88.3h0.85M100.3 102.4h0.85M79.5 122.5h0.85M106.2 88.6h0.85M105.1 88.8h0.85M103.4 91.0h0.85M87.0 122.0h0.85M82.7 107.0h0.85M91.1 102.7h0.85M96.1 96.7h0.85M98.6 110.9h0.85M77.6 124.8h0.85M97.7 95.5h0.85M95.4 99.4h0.85M79.5 114.2h0.85M96.2 100.1h0.85M89.3 105.7h0.85M97.8 115.2h0.85M129.0 72.4h0.85M103.3 99.9h0.85M91.6 111.2h0.85M109.0 88.1h0.85M109.1 101.6h0.85M107.7 102.8h0.85M126.7 72.2h0.85M111.8 90.0h0.85M99.1 106.7h0.85M122.7 78.8h0.85M111.2 94.6h0.85M95.5 107.9h0.85M96.0 108.2h0.85M105.4 92.9h0.85M77.0 123.8h0.85M80.7 113.0h0.85M81.4 115.4h0.85M99.3 102.5h0.85M72.6 119.5h0.85M95.5 101.3h0.85M110.8 96.1h0.85M84.8 104.6h0.85M122.0 81.2h0.85M96.3 98.9h0.85M95.5 97.4h0.85M105.1 97.6h0.85M105.9 99.1h0.85M113.5 91.1h0.85M114.0 75.9h0.85M75.1 120.8h0.85M92.4 107.2h0.85M92.1 110.9h0.85M115.1 87.4h0.85M81.7 108.2h0.85M97.2 92.2h0.85M106.9 101.7h0.85M97.3 94.6h0.85M100.4 94.0h0.85M100.8 92.8h0.85M88.3 104.6h0.85M110.6 92.8h0.85M86.1 112.8h0.85M80.4 124.4h0.85M105.0 98.1h0.85M107.3 91.1h0.85M89.4 110.3h0.85M84.9 114.9h0.85M97.6 93.8h0.85M92.1 100.4h0.85M95.1 102.7h0.85M99.9 93.7h0.85M102.3 110.8h0.85M74.9 124.6h0.85M105.9 96.0h0.85M104.1 91.2h0.85M99.6 107.3h0.85M102.9 94.1h0.85M93.7 103.8h0.85M83.1 115.5h0.85M98.9 112.5h0.85M80.5 111.2h0.85M103.2 97.9h0.85M116.3 81.6h0.85M79.2 119.9h0.85M104.4 84.7h0.85M91.2 111.4h0.85M95.9 114.5h0.85M117.5 80.5h0.85M103.9 93.4h0.85M102.9 97.3h0.85M110.0 97.7h0.85M84.6 109.2h0.85M106.0 90.6h0.85M101.7 98.5h0.85M87.7 110.5h0.85M88.4 120.5h0.85M111.0 84.5h0.85M97.4 113.6h0.85M92.4 99.4h0.85M90.7 109.2h0.85M105.4 101.8h0.85M98.2 105.9h0.85M95.2 108.2h0.85M84.6 112.4h0.85M99.0 91.6h0.85M87.2 108.5h0.85M88.4 108.2h0.85M96.2 107.3h0.85M98.1 101.6h0.85M100.8 98.3h0.85M80.6 121.3h0.85M97.9 105.7h0.85M91.6 103.6h0.85M109.7 98.2h0.85M79.0 118.9h0.85M90.9 110.9h0.85M103.7 100.0h0.85M97.2 97.9h0.85M82.7 114.6h0.85M83.2 107.2h0.85M84.3 110.4h0.85M76.7 121.3h0.85M108.5 85.1h0.85M104.5 115.2h0.85M103.2 100.6h0.85M110.1 82.8h0.85M72.0 126.0h0.85M70.6 125.2h0.85M92.3 110.2h0.85M93.9 113.9h0.85M96.7 106.7h0.85M95.0 108.6h0.85M98.2 113.2h0.85M108.6 94.3h0.85M100.6 90.9h0.85M104.6 103.3h0.85M91.5 105.1h0.85M108.2 91.6h0.85M99.5 96.5h0.85M103.4 91.2h0.85M115.1 93.2h0.85M80.7 121.6h0.85M94.5 108.5h0.85M121.0 84.1h0.85M87.7 113.9h0.85M94.0 104.9h0.85M109.9 85.2h0.85M91.6 101.5h0.85M101.7 112.3h0.85M112.9 87.9h0.85M105.3 95.7h0.85M97.3 99.7h0.85M72.9 125.2h0.85M98.8 106.9h0.85M92.6 118.5h0.85M78.5 120.7h0.85M86.7 117.5h0.85M90.4 109.8h0.85M87.2 106.7h0.85M83.0 112.7h0.85M89.6 103.0h0.85M92.2 109.0h0.85M115.4 86.9h0.85M102.8 91.1h0.85M101.3 100.5h0.85M102.8 98.7h0.85M90.0 110.3h0.85M86.8 122.7h0.85M119.4 78.1h0.85M75.7 117.3h0.85M94.9 98.3h0.85M90.0 115.3h0.85M91.4 115.1h0.85M108.4 93.7h0.85M115.2 81.5h0.85M81.7 117.7h0.85M100.0 106.2h0.85M107.1 91.3h0.85M83.8 123.8h0.85M95.0 114.9h0.85M90.7 117.2h0.85M91.3 109.1h0.85M103.5 110.6h0.85M106.8 91.2h0.85M93.5 114.1h0.85M90.0 114.2h0.85M99.3 101.8h0.85M91.8 108.3h0.85M107.2 94.2h0.85M105.0 91.0h0.85M104.4 93.8h0.85M113.1 93.9h0.85M86.5 122.1h0.85M99.1 104.5h0.85M110.6 92.7h0.85M88.8 112.5h0.85M80.2 112.1h0.85M94.2 116.9h0.85M90.4 111.6h0.85M108.9 101.2h0.85M105.5 97.6h0.85M86.7 104.8h0.85M96.5 106.8h0.85M100.6 93.0h0.85M98.8 104.4h0.85M79.7 118.5h0.85M83.6 116.5h0.85M79.7 123.8h0.85M85.0 118.8h0.85M82.8 109.7h0.85M107.3 96.8h0.85M84.1 109.1h0.85M94.2 103.1h0.85M110.2 93.8h0.85M103.0 96.2h0.85M91.9 109.8h0.85M92.4 98.0h0.85M110.3 77.5h0.85M98.3 111.6h0.85M102.8 102.9h0.85M98.9 106.8h0.85M107.8 92.7h0.85M92.4 115.2h0.85M93.5 117.8h0.85M89.6 115.3h0.85M90.4 102.1h0.85M92.2 109.7h0.85M112.9 87.8h0.85M94.1 111.2h0.85M85.2 115.6h0.85M104.3 97.2h0.85M110.6 97.5h0.85M105.1 98.3h0.85M114.6 94.9h0.85M100.8 99.5h0.85M88.2 104.4h0.85M94.7 108.8h0.85M105.4 98.5h0.85M83.7 117.8h0.85M88.0 109.2h0.85M89.3 106.6h0.85M87.0 119.7h0.85M106.7 102.8h0.85M94.7 120.5h0.85M85.4 114.7h0.85M91.4 108.2h0.85M96.8 93.7h0.85M104.6 97.9h0.85M100.1 98.4h0.85M110.3 91.1h0.85M94.9 105.7h0.85M98.7 97.8h0.85M100.6 117.5h0.85M98.9 110.0h0.85M81.9 119.5h0.85M88.6 116.6h0.85M107.5 85.1h0.85M115.4 88.9h0.85M97.9 114.8h0.85M98.2 104.5h0.85M113.8 84.9h0.85M102.1 97.1h0.85M111.0 92.4h0.85M88.5 114.9h0.85M81.3 118.1h0.85M82.4 115.4h0.85M99.3 100.0h0.85M93.4 109.9h0.85M102.2 99.3h0.85M88.9 112.6h0.85M95.2 95.5h0.85M90.2 109.2h0.85M87.0 117.8h0.85M77.7 123.0h0.85M108.8 101.5h0.85M97.2 93.4h0.85M102.3 97.8h0.85M88.9 111.7h0.85M87.3 114.8h0.85M109.7 94.3h0.85M109.3 104.6h0.85M76.2 120.5h0.85M84.1 115.4h0.85M110.3 86.4h0.85M114.1 90.7h0.85M90.6 103.1h0.85M89.1 106.5h0.85M97.2 104.9h0.85M81.8 116.9h0.85M109.5 85.8h0.85M96.7 98.4h0.85M97.2 95.8h0.85M79.5 116.6h0.85M77.1 118.2h0.85M91.3 110.3h0.85M87.3 112.7h0.85M96.5 108.4h0.85M92.6 110.5h0.85M98.2 100.2h0.85M124.4 74.8h0.85M108.9 94.4h0.85M117.7 82.9h0.85M95.0 107.8h0.85M97.5 106.3h0.85M99.3 91.6h0.85M98.0 108.0h0.85M74.1 124.8h0.85M84.6 119.7h0.85M98.9 100.6h0.85M102.9 92.2h0.85M85.3 118.5h0.85M86.2 119.9h0.85M89.0 116.5h0.85M105.6 102.9h0.85M124.2 82.3h0.85M107.3 103.6h0.85M91.0 116.9h0.85M97.1 101.4h0.85M91.9 112.8h0.85M84.8 120.1h0.85M86.4 117.7h0.85M97.7 98.5h0.85M88.3 124.2h0.85M92.4 103.6h0.85M84.2 113.6h0.85M82.6 124.0h0.85M99.6 113.3h0.85M91.8 125.3h0.85M83.8 113.9h0.85M90.6 114.4h0.85M103.3 104.5h0.85M82.5 119.4h0.85M95.8 104.8h0.85M94.4 99.7h0.85M103.6 99.6h0.85M125.0 79.8h0.85M99.6 106.9h0.85M123.1 76.6h0.85M106.7 93.7h0.85M114.7 89.4h0.85M107.8 103.9h0.85M103.6 92.0h0.85M107.3 92.0h0.85M73.5 124.8h0.85M92.4 99.5h0.85M103.2 95.3h0.85M112.7 86.8h0.85M79.7 123.6h0.85M70.8 123.6h0.85M94.1 114.8h0.85M102.6 102.2h0.85M92.8 100.5h0.85M95.3 107.6h0.85M110.4 93.6h0.85M102.9 89.1h0.85M79.7 126.7h0.85M87.7 114.0h0.85M83.0 115.5h0.85M87.0 106.7h0.85M102.7 95.5h0.85M99.2 101.5h0.85M76.4 123.6h0.85M74.5 119.1h0.85M82.5 122.3h0.85M102.4 103.5h0.85M115.4 87.9h0.85M106.0 88.0h0.85M104.0 93.2h0.85M88.7 107.8h0.85M92.1 105.9h0.85M92.4 106.8h0.85M100.4 107.0h0.85M93.8 113.5h0.85M122.9 78.7h0.85M90.3 121.7h0.85M122.2 82.4h0.85M82.4 113.3h0.85M108.0 92.1h0.85M88.6 104.1h0.85M118.3 82.4h0.85M108.9 90.8h0.85M72.6 125.1h0.85M92.1 111.2h0.85M92.3 112.4h0.85M87.2 117.2h0.85M110.4 93.2h0.85M95.5 100.4h0.85M108.4 95.2h0.85M97.7 96.1h0.85M107.0 93.0h0.85M94.5 113.7h0.85M90.1 119.1h0.85M100.4 100.3h0.85M101.8 95.5h0.85M101.3 96.0h0.85M99.2 101.5h0.85M75.8 124.1h0.85M100.0 99.4h0.85M96.3 107.5h0.85M106.4 91.0h0.85M90.5 99.7h0.85M81.5 118.2h0.85M94.9 105.2h0.85M102.4 105.2h0.85M99.8 104.5h0.85M82.5 114.2h0.85M99.8 99.9h0.85M124.6 78.4h0.85M113.0 88.7h0.85M95.1 114.4h0.85M89.2 110.7h0.85M88.3 117.2h0.85M95.4 107.4h0.85M95.3 103.0h0.85M98.2 110.4h0.85M92.0 98.3h0.85M86.5 114.2h0.85M96.4 104.7h0.85M100.2 100.9h0.85M122.4 79.8h0.85M78.3 122.6h0.85M107.8 90.9h0.85M87.0 117.3h0.85M90.3 114.9h0.85M92.1 112.2h0.85M83.6 115.8h0.85M92.8 108.4h0.85M98.0 93.7h0.85M104.3 92.0h0.85M114.5 87.3h0.85M94.8 116.9h0.85M109.4 93.8h0.85M80.1 114.0h0.85M111.1 89.9h0.85M94.8 98.5h0.85M94.2 119.0h0.85M77.5 121.8h0.85M113.4 84.9h0.85M112.9 91.6h0.85M81.8 117.3h0.85M90.2 108.3h0.85M104.4 87.8h0.85M93.4 107.7h0.85M79.0 126.3h0.85M92.3 111.7h0.85M104.7 98.8h0.85M82.9 117.1h0.85M102.1 95.7h0.85M100.0 98.3h0.85M114.7 85.1h0.85M92.1 112.7h0.85M109.7 94.0h0.85M68.9 127.2h0.85M88.5 117.4h0.85M96.6 114.9h0.85M95.3 103.7h0.85M94.6 116.7h0.85M91.9 110.7h0.85M96.7 108.5h0.85M102.2 108.0h0.85M93.7 109.1h0.85M83.3 109.4h0.85M99.7 100.9h0.85M75.7 118.8h0.85M90.7 113.2h0.85M118.1 79.2h0.85M107.9 101.6h0.85M102.7 89.5h0.85M104.8 97.3h0.85M108.0 86.7h0.85M97.8 108.6h0.85M119.2 78.3h0.85M124.4 77.2h0.85M92.1 109.8h0.85M95.8 114.3h0.85M107.5 103.0h0.85M83.5 114.7h0.85M82.4 124.6h0.85M93.3 94.5h0.85M95.2 104.7h0.85M82.7 121.5h0.85M112.8 90.5h0.85M93.5 117.8h0.85M106.2 88.8h0.85M88.8 110.0h0.85M95.1 100.2h0.85M95.4 113.6h0.85M95.1 104.1h0.85M102.0 110.1h0.85M108.5 101.9h0.85M106.5 94.2h0.85M86.6 112.3h0.85M100.8 104.8h0.85M110.9 90.6h0.85M99.9 101.4h0.85M83.4 121.2h0.85M92.3 109.1h0.85M82.6 119.5h0.85M94.0 102.9h0.85M105.2 91.6h0.85M85.7 108.2h0.85M92.3 112.9h0.85M89.3 114.1h0.85M96.8 108.8h0.85M79.7 124.1h0.85M101.8 107.4h0.85M128.7 75.0h0.85M100.2 107.2h0.85M95.1 97.4h0.85M102.5 96.8h0.85M112.3 85.5h0.85M75.2 117.4h0.85M102.4 106.8h0.85M91.0 105.1h0.85M102.8 98.3h0.85M104.4 101.5h0.85M132.6 66.3h0.85M80.9 112.3h0.85M109.6 89.6h0.85M95.3 107.0h0.85M107.0 97.9h0.85M94.7 108.6h0.85M101.8 99.0h0.85M104.3 112.0h0.85M110.5 94.6h0.85M115.5 81.7h0.85M74.8 124.2h0.85M86.0 120.0h0.85M100.4 98.4h0.85M108.8 90.6h0.85M97.4 107.2h0.85M120.0 75.8h0.85M100.2 93.4h0.85M85.9 117.3h0.85M92.9 105.2h0.85M92.9 113.6h0.85M78.0 126.2h0.85M108.9 90.7h0.85M79.2 110.9h0.85M90.9 112.6h0.85M94.9 106.0h0.85M92.2 108.8h0.85M106.8 90.5h0.85M88.4 112.9h0.85M87.5 115.4h0.85M95.8 107.4h0.85M104.5 103.3h0.85M101.9 95.5h0.85M93.0 109.8h0.85M104.7 99.9h0.85M92.8 106.8h0.85M100.1 98.1h0.85M79.6 121.8h0.85M102.6 96.1h0.85M89.5 113.7h0.85M116.3 83.8h0.85M112.6 95.5h0.85M102.4 103.0h0.85M90.6 102.2h0.85M83.7 121.5h0.85M88.2 113.6h0.85M97.4 101.5h0.85M112.7 86.8h0.85M119.3 77.6h0.85M103.9 99.2h0.85M114.4 88.5h0.85M109.5 92.4h0.85M90.0 106.5h0.85M105.7 95.0h0.85M110.8 90.6h0.85M87.8 111.9h0.85M120.6 83.6h0.85M74.1 124.5h0.85M84.1 107.9h0.85M99.1 108.3h0.85M96.3 110.8h0.85M103.2 93.3h0.85M112.3 84.4h0.85M96.8 97.3h0.85M103.2 106.7h0.85M114.2 91.3h0.85M89.6 120.4h0.85M86.6 126.4h0.85M81.5 122.4h0.85M82.0 119.6h0.85M107.0 97.1h0.85M102.5 92.8h0.85M89.4 102.0h0.85M96.5 105.2h0.85M101.5 92.1h0.85M81.7 112.8h0.85M90.9 109.2h0.85M111.8 86.4h0.85M83.7 121.3h0.85M81.9 117.9h0.85M122.8 78.2h0.85M75.6 120.1h0.85M85.6 124.1h0.85M101.9 100.1h0.85M99.2 98.1h0.85M109.1 104.1h0.85M99.2 95.4h0.85M112.7 94.0h0.85M101.9 101.3h0.85M107.3 96.1h0.85M81.0 124.3h0.85M94.0 101.9h0.85M115.7 90.0h0.85M102.6 99.9h0.85M82.3 123.7h0.85M116.7 86.4h0.85M95.9 102.6h0.85M101.6 96.1h0.85M86.8 115.7h0.85M100.2 99.4h0.85M87.8 122.9h0.85M107.9 89.8h0.85M109.0 93.9h0.85M74.3 125.9h0.85M122.6 76.9h0.85M100.2 111.6h0.85M88.8 105.6h0.85M101.2 101.5h0.85M112.8 85.5h0.85M103.9 99.3h0.85M102.3 93.3h0.85M101.0 108.6h0.85M94.8 108.1h0.85M102.3 91.9h0.85M96.1 107.8h0.85M106.3 93.5h0.85M87.1 110.2h0.85M99.4 100.2h0.85M109.3 87.6h0.85M80.7 111.1h0.85M82.7 121.4h0.85M124.3 79.9h0.85M105.9 91.8h0.85M111.0 87.6h0.85M100.2 92.1h0.85M96.0 104.6h0.85M102.0 102.0h0.85M95.2 98.5h0.85M117.5 81.2h0.85M95.7 108.6h0.85M92.1 110.9h0.85M91.5 109.8h0.85M94.2 100.2h0.85M79.2 122.0h0.85M107.3 97.3h0.85M91.9 105.5h0.85M96.0 111.1h0.85M99.0 98.7h0.85M75.7 119.2h0.85M75.4 120.4h0.85M80.4 117.7h0.85M96.5 98.4h0.85M96.1 107.7h0.85M87.7 111.2h0.85M94.1 101.5h0.85M102.3 92.0h0.85M106.1 95.3h0.85M96.3 101.1h0.85M106.8 103.1h0.85M102.2 102.0h0.85M101.2 95.7h0.85M72.9 125.9h0.85M109.8 101.2h0.85M100.0 101.6h0.85M90.0 104.9h0.85M108.8 93.2h0.85M115.0 79.9h0.85M99.7 96.7h0.85M108.2 84.6h0.85M107.4 91.1h0.85M98.8 98.3h0.85M117.1 84.3h0.85M96.0 111.1h0.85M129.7 70.9h0.85M91.0 113.0h0.85M112.2 87.7h0.85M71.7 126.0h0.85M120.5 80.4h0.85M105.4 96.0h0.85M118.9 83.8h0.85M95.9 114.5h0.85M126.6 72.5h0.85M90.5 99.9h0.85M82.7 118.5h0.85M103.5 104.0h0.85M101.7 103.3h0.85M90.4 105.7h0.85M109.3 91.3h0.85M130.5 68.9h0.85M103.0 105.6h0.85M106.2 94.6h0.85M98.5 108.2h0.85M108.1 90.9h0.85M91.1 111.0h0.85M85.4 109.1h0.85M96.6 111.1h0.85M106.8 95.9h0.85M97.0 106.9h0.85M110.8 94.5h0.85M107.9 85.5h0.85M102.0 102.2h0.85M120.8 86.1h0.85M83.1 108.7h0.85M93.9 114.9h0.85M88.6 108.3h0.85M105.9 105.8h0.85M101.5 101.2h0.85M79.0 123.5h0.85M97.5 102.7h0.85M114.4 92.0h0.85M94.4 112.1h0.85M75.4 120.4h0.85M114.0 83.5h0.85M93.2 114.4h0.85M114.2 89.2h0.85M103.2 101.6h0.85M88.1 109.4h0.85M75.7 123.0h0.85M124.9 75.6h0.85M117.9 92.0h0.85M94.8 116.3h0.85M108.0 91.3h0.85M91.0 109.5h0.85M107.0 98.6h0.85M97.2 101.6h0.85M85.8 115.5h0.85M114.1 89.5h0.85M90.2 108.8h0.85M115.5 83.8h0.85M85.6 119.0h0.85M83.9 116.1h0.85M100.6 102.4h0.85M99.6 91.1h0.85M92.4 103.3h0.85M87.3 110.8h0.85M97.3 106.9h0.85M78.0 123.6h0.85M85.6 106.1h0.85M86.1 107.1h0.85M105.9 93.5h0.85M80.7 121.3h0.85M93.6 107.0h0.85M72.3 127.9h0.85M95.8 101.2h0.85M90.3 113.4h0.85M101.0 99.4h0.85M78.4 127.7h0.85M99.3 110.6h0.85M114.5 93.3h0.85M95.5 99.6h0.85M127.0 74.0h0.85M85.6 121.1h0.85M93.9 104.8h0.85M92.6 104.3h0.85M84.4 121.8h0.85M105.6 96.8h0.85M106.9 92.3h0.85M109.2 96.0h0.85M99.5 106.0h0.85M83.1 108.5h0.85M91.5 99.6h0.85M81.9 122.3h0.85M108.8 92.5h0.85M109.3 93.4h0.85M92.1 115.4h0.85M87.9 116.6h0.85M95.3 100.8h0.85M99.8 92.5h0.85M102.4 98.0h0.85M100.7 110.2h0.85M96.5 109.0h0.85M94.6 106.6h0.85M93.8 107.4h0.85M101.8 98.1h0.85M88.8 105.8h0.85M98.0 101.1h0.85M119.5 75.0h0.85M125.1 75.8h0.85M102.6 96.3h0.85M98.6 103.7h0.85M107.9 88.0h0.85M125.3 76.4h0.85M103.2 103.4h0.85M93.9 121.6h0.85M124.3 80.8h0.85M98.7 113.7h0.85M93.0 114.1h0.85M94.4 107.3h0.85M72.6 123.4h0.85M93.3 114.5h0.85M116.6 87.5h0.85M100.2 92.1h0.85M98.0 104.0h0.85M109.5 94.8h0.85M98.2 104.2h0.85M92.4 103.7h0.85M100.8 92.2h0.85M102.2 108.4h0.85M102.3 101.4h0.85M94.0 100.9h0.85M102.5 109.3h0.85M122.8 78.1h0.85M76.5 123.8h0.85M103.4 105.6h0.85M86.3 124.8h0.85M100.7 104.3h0.85M116.6 83.4h0.85M100.3 105.2h0.85M109.7 99.5h0.85M100.8 98.0h0.85M87.3 120.2h0.85M111.9 80.9h0.85M102.2 88.4h0.85M103.1 100.1h0.85M92.1 116.1h0.85M108.9 96.3h0.85M89.1 109.0h0.85M103.4 103.3h0.85M99.9 102.7h0.85M98.9 103.5h0.85M91.8 123.9h0.85M89.6 103.4h0.85M93.0 106.7h0.85M104.9 103.4h0.85M98.1 105.0h0.85M101.8 96.4h0.85M98.1 104.6h0.85M109.3 92.2h0.85M78.3 114.7h0.85M102.9 102.7h0.85M96.4 110.7h0.85M98.9 111.8h0.85M110.0 89.6h0.85M84.5 112.3h0.85M78.6 123.0h0.85M84.4 111.3h0.85M106.0 104.3h0.85M99.4 99.1h0.85M120.9 86.2h0.85M93.1 113.4h0.85M96.5 112.1h0.85M111.4 92.3h0.85M84.3 122.3h0.85M91.5 112.0h0.85M84.7 117.8h0.85M87.7 122.3h0.85M100.3 95.8h0.85M102.1 111.9h0.85M90.4 110.3h0.85M93.3 105.8h0.85M85.7 110.3h0.85M89.5 111.7h0.85M105.3 89.1h0.85M84.0 116.4h0.85M83.9 115.6h0.85M89.5 118.4h0.85M111.2 88.9h0.85M97.0 96.2h0.85M76.0 121.1h0.85M117.4 85.2h0.85M85.8 119.2h0.85M112.6 84.0h0.85M101.1 95.1h0.85M88.4 114.4h0.85M107.4 100.2h0.85M99.7 102.3h0.85M86.0 112.8h0.85M80.6 122.2h0.85M85.6 112.3h0.85M97.0 112.3h0.85M111.1 88.0h0.85M118.2 87.1h0.85M104.1 105.8h0.85M86.5 114.0h0.85M104.0 92.6h0.85M105.1 103.8h0.85M119.7 82.0h0.85M80.6 120.7h0.85M72.9 121.6h0.85M101.0 104.3h0.85M112.6 93.3h0.85M83.6 108.8h0.85M79.7 115.9h0.85M79.0 120.4h0.85M120.5 83.9h0.85M84.5 114.6h0.85M92.9 117.0h0.85M109.6 89.0h0.85M93.6 98.6h0.85M102.3 95.2h0.85M96.9 99.5h0.85M73.7 127.9h0.85M85.4 121.4h0.85M97.9 109.7h0.85M80.4 115.7h0.85M102.7 89.4h0.85M120.1 84.3h0.85M123.0 74.6h0.85M98.1 100.2h0.85M88.3 115.9h0.85M104.5 90.4h0.85M81.6 119.4h0.85M79.4 120.3h0.85M100.5 111.1h0.85M90.5 121.3h0.85M79.1 118.8h0.85M101.0 99.2h0.85M78.6 118.4h0.85M82.7 116.6h0.85M104.2 98.7h0.85M96.8 95.8h0.85M89.4 106.7h0.85M116.2 78.0h0.85M81.3 115.6h0.85M95.5 107.9h0.85M85.9 115.2h0.85M110.0 93.7h0.85M98.6 104.2h0.85M106.6 94.8h0.85M86.8 107.5h0.85M89.0 107.8h0.85M82.8 115.8h0.85M103.3 92.0h0.85M82.3 120.7h0.85M96.1 111.9h0.85M92.6 102.2h0.85M89.5 108.7h0.85M103.9 102.3h0.85M80.3 121.1h0.85M106.2 91.8h0.85M107.7 89.5h0.85M93.9 119.2h0.85M102.8 100.4h0.85M78.7 118.6h0.85M75.5 116.1h0.85M71.3 126.7h0.85M108.5 91.5h0.85M89.0 122.6h0.85M71.8 126.3h0.85M97.8 110.1h0.85M93.0 115.1h0.85M117.7 77.7h0.85M112.0 98.4h0.85M99.0 91.9h0.85M111.5 88.9h0.85M92.1 101.7h0.85M85.1 109.7h0.85M77.3 118.5h0.85M91.4 113.5h0.85M100.0 97.4h0.85M90.8 104.1h0.85M75.3 123.6h0.85M106.8 96.1h0.85M92.7 101.0h0.85M115.1 86.1h0.85M113.6 86.5h0.85M86.3 116.9h0.85M108.0 94.6h0.85M103.0 98.8h0.85M98.2 93.2h0.85M96.2 110.9h0.85M102.6 101.9h0.85M99.2 94.5h0.85M74.9 125.2h0.85M90.8 117.3h0.85M100.9 93.2h0.85M99.1 102.9h0.85M91.7 104.4h0.85M96.3 94.3h0.85M92.9 110.6h0.85M89.6 123.1h0.85M99.3 101.9h0.85M75.9 128.2h0.85M82.6 119.1h0.85M83.3 112.3h0.85M111.6 93.7h0.85M96.6 111.6h0.85M113.2 93.9h0.85M86.2 114.1h0.85M110.9 88.4h0.85M81.5 114.7h0.85M101.7 104.5h0.85M109.2 97.3h0.85M83.9 117.6h0.85M112.3 91.7h0.85M85.2 116.0h0.85M87.2 111.7h0.85M87.6 111.0h0.85M107.7 92.1h0.85M115.5 84.7h0.85M119.9 76.4h0.85M92.8 103.5h0.85M86.9 114.8h0.85M95.2 111.2h0.85M100.3 102.4h0.85M121.7 76.4h0.85M93.2 112.2h0.85M89.5 115.6h0.85M86.8 113.6h0.85M79.1 121.8h0.85M102.6 103.4h0.85M82.1 120.5h0.85M107.2 99.7h0.85M116.1 92.6h0.85M86.1 110.5h0.85M113.4 89.4h0.85M75.3 124.8h0.85M84.8 119.5h0.85M91.6 113.2h0.85M95.8 104.9h0.85M92.6 119.6h0.85M94.0 123.5h0.85M97.2 107.1h0.85M113.4 94.1h0.85M102.2 96.4h0.85M94.9 115.2h0.85M112.4 88.3h0.85M106.5 85.5h0.85M95.0 106.4h0.85M95.5 105.1h0.85M119.1 86.3h0.85M96.8 105.0h0.85M106.2 98.0h0.85M84.3 123.7h0.85M91.1 110.7h0.85M97.6 93.9h0.85M105.8 92.7h0.85M108.9 95.6h0.85M107.6 88.2h0.85M83.8 107.6h0.85M81.1 110.8h0.85M100.6 104.6h0.85M83.7 117.8h0.85M117.1 77.7h0.85M87.4 105.7h0.85M126.0 71.5h0.85M116.2 85.9h0.85M109.8 86.6h0.85M82.8 115.6h0.85M98.4 99.6h0.85M106.7 102.1h0.85M96.6 114.9h0.85M83.9 111.6h0.85M90.9 101.2h0.85M76.8 118.9h0.85M93.8 101.4h0.85M100.1 100.8h0.85M97.5 102.8h0.85M85.9 111.3h0.85M99.8 103.2h0.85M102.7 99.7h0.85M102.8 104.4h0.85M97.5 95.5h0.85M95.6 104.8h0.85M110.1 86.2h0.85M96.6 94.2h0.85M88.6 105.6h0.85M94.7 100.2h0.85M105.3 99.4h0.85M72.2 122.5h0.85M74.7 121.7h0.85M85.4 115.7h0.85M93.5 116.3h0.85M64.2 127.0h0.85M117.8 79.0h0.85M93.4 117.2h0.85M76.1 121.5h0.85M115.2 84.4h0.85M105.7 101.2h0.85M95.8 115.0h0.85M75.1 123.6h0.85M90.6 109.7h0.85M75.9 123.9h0.85M104.3 92.2h0.85M98.0 104.3h0.85M104.7 101.8h0.85M84.1 108.8h0.85M87.6 114.9h0.85M104.4 92.6h0.85M128.8 76.3h0.85M93.0 117.2h0.85M86.1 126.6h0.85M100.8 98.1h0.85M98.4 104.2h0.85M84.2 116.5h0.85M112.5 92.5h0.85M97.7 101.5h0.85M81.1 117.2h0.85M80.5 117.4h0.85M108.1 92.2h0.85M102.1 104.4h0.85M100.0 98.1h0.85M120.8 82.7h0.85M87.6 109.6h0.85M79.2 112.5h0.85M123.4 81.3h0.85M108.9 99.6h0.85M119.6 75.3h0.85M107.4 87.1h0.85M94.8 105.0h0.85M91.7 113.1h0.85M103.1 101.5h0.85M90.2 116.1h0.85M106.9 94.2h0.85M89.0 101.5h0.85M101.0 115.2h0.85M101.4 96.8h0.85M89.2 107.4h0.85M102.8 89.4h0.85M112.8 88.7h0.85M104.4 94.0h0.85M93.3 101.0h0.85M116.3 87.6h0.85M96.8 100.6h0.85M82.7 124.2h0.85M94.5 113.8h0.85M95.0 111.6h0.85M116.8 86.6h0.85M102.0 107.3h0.85M109.5 95.6h0.85M110.1 93.6h0.85M107.6 96.2h0.85M80.7 119.3h0.85M73.7 127.2h0.85M101.6 103.5h0.85M92.7 115.4h0.85M91.8 107.2h0.85M129.2 74.7h0.85M94.3 114.7h0.85M106.7 93.3h0.85M94.4 104.3h0.85M88.4 107.8h0.85M92.9 106.8h0.85M118.1 75.7h0.85M88.3 113.6h0.85M85.5 112.6h0.85M89.1 111.0h0.85M96.0 119.7h0.85M103.3 105.9h0.85M77.7 122.3h0.85M93.6 105.6h0.85M74.6 121.9h0.85M95.3 107.4h0.85M98.8 104.5h0.85M89.1 111.8h0.85M94.1 102.6h0.85M82.0 123.3h0.85M108.3 98.3h0.85M100.3 100.9h0.85M102.7 97.7h0.85M101.8 95.5h0.85M111.6 82.5h0.85M87.7 107.0h0.85M98.7 106.7h0.85M93.3 107.6h0.85M87.1 115.2h0.85M86.9 118.7h0.85M78.9 120.2h0.85M90.5 122.7h0.85M129.1 71.5h0.85M104.1 106.7h0.85M99.6 106.0h0.85M104.9 86.6h0.85M94.6 106.0h0.85M96.8 107.9h0.85M101.6 104.6h0.85M100.4 107.3h0.85M79.1 122.9h0.85M95.2 110.1h0.85M93.3 110.9h0.85M97.7 93.0h0.85M104.5 92.7h0.85M109.7 87.9h0.85M102.4 94.4h0.85M110.7 92.0h0.85M93.7 107.3h0.85M96.5 101.9h0.85M91.6 111.6h0.85M100.1 98.6h0.85M95.9 114.3h0.85M94.1 101.7h0.85M94.4 99.0h0.85M90.8 111.2h0.85M107.2 88.7h0.85M93.5 98.5h0.85M99.6 99.6h0.85M119.7 78.0h0.85M94.5 106.8h0.85M85.9 107.3h0.85M101.7 88.8h0.85M112.5 89.0h0.85M89.6 112.6h0.85M113.0 89.2h0.85M111.5 84.2h0.85M116.0 84.2h0.85M106.2 103.4h0.85M101.6 100.0h0.85M108.9 102.4h0.85M93.4 93.4h0.85M117.7 78.1h0.85M108.2 93.6h0.85M99.2 98.3h0.85M93.1 107.8h0.85M105.5 97.7h0.85M92.1 113.9h0.85M111.2 93.9h0.85M75.5 123.1h0.85M84.1 118.2h0.85M107.6 85.9h0.85M87.2 118.0h0.85M111.2 91.1h0.85M96.6 108.4h0.85M85.6 107.7h0.85M94.7 85.7h0.85M84.6 122.8h0.85M94.1 96.4h0.85M106.0 101.4h0.85M80.0 122.3h0.85M97.0 102.5h0.85M103.4 91.9h0.85M80.6 126.5h0.85M96.1 101.4h0.85M90.3 108.4h0.85M96.2 97.9h0.85M94.6 109.2h0.85M103.6 92.4h0.85M89.1 111.8h0.85M88.2 118.8h0.85M127.8 73.6h0.85M93.2 109.7h0.85M87.0 113.9h0.85M96.1 102.8h0.85M90.3 118.7h0.85M95.6 101.2h0.85M113.1 88.8h0.85M93.9 111.5h0.85M116.0 87.8h0.85M90.8 110.0h0.85M94.4 106.2h0.85M102.5 89.1h0.85M103.6 95.9h0.85M78.8 109.6h0.85M103.8 93.0h0.85M93.2 108.1h0.85M92.5 109.2h0.85M92.2 103.6h0.85M110.7 91.4h0.85M93.5 102.2h0.85M94.6 102.9h0.85M89.1 102.6h0.85M91.5 105.7h0.85M118.8 80.6h0.85M94.0 102.3h0.85M116.4 94.0h0.85M92.4 109.1h0.85M108.1 102.2h0.85M107.4 94.5h0.85M104.4 103.8h0.85M105.3 88.9h0.85M116.9 84.9h0.85M99.6 102.0h0.85M101.2 91.8h0.85M103.1 99.8h0.85M87.6 120.7h0.85M124.0 75.1h0.85M92.2 103.1h0.85M101.2 108.2h0.85M93.9 108.6h0.85M91.8 111.4h0.85M106.8 104.4h0.85M86.1 121.1h0.85M120.7 81.1h0.85M94.4 112.3h0.85M101.5 98.8h0.85M98.5 119.1h0.85M74.7 126.6h0.85M99.9 98.2h0.85M97.9 107.3h0.85M106.0 97.9h0.85M96.8 105.7h0.85M89.8 117.8h0.85M100.5 105.6h0.85M117.4 82.3h0.85M119.5 80.8h0.85M79.1 117.8h0.85M100.0 96.4h0.85M115.8 85.1h0.85M71.3 125.4h0.85M103.5 89.9h0.85M104.5 103.6h0.85M112.3 85.9h0.85M112.6 89.9h0.85M110.5 102.1h0.85M80.2 115.9h0.85M117.8 80.9h0.85M99.5 103.1h0.85M92.0 101.8h0.85M74.5 122.9h0.85M116.6 91.6h0.85M97.3 100.6h0.85M90.0 105.5h0.85M90.7 119.7h0.85M110.3 91.6h0.85M88.9 121.6h0.85M106.5 101.0h0.85M80.1 123.1h0.85M104.9 93.7h0.85M113.0 92.7h0.85M116.6 77.8h0.85M102.9 92.6h0.85M118.7 80.7h0.85M86.3 110.3h0.85M102.1 95.4h0.85M131.1 68.2h0.85M94.4 98.8h0.85M97.9 111.1h0.85M101.5 94.0h0.85M76.6 114.6h0.85M122.1 82.2h0.85M100.6 98.5h0.85M104.6 95.8h0.85M106.5 100.2h0.85M94.3 107.1h0.85M108.8 96.1h0.85M99.0 101.7h0.85M96.8 104.2h0.85M93.3 109.3h0.85M111.3 98.2h0.85M102.5 108.3h0.85M88.5 107.1h0.85M101.3 101.7h0.85M111.4 92.6h0.85M100.0 100.3h0.85M100.3 93.1h0.85M103.2 90.8h0.85M93.1 105.0h0.85M113.6 91.9h0.85M97.3 102.5h0.85M87.6 113.3h0.85M100.6 100.5h0.85M125.8 78.9h0.85M99.7 106.9h0.85M97.6 108.3h0.85M109.0 95.5h0.85M111.3 85.7h0.85M99.0 97.4h0.85M106.6 108.2h0.85M91.7 99.9h0.85M77.6 125.0h0.85M100.6 99.4h0.85M91.7 110.6h0.85M100.1 97.7h0.85M77.5 118.8h0.85M93.3 102.6h0.85M80.1 124.5h0.85M93.2 105.4h0.85M87.3 119.2h0.85M93.7 97.4h0.85M82.5 121.5h0.85M104.1 101.8h0.85M114.2 90.6h0.85M81.7 125.8h0.85M94.5 99.5h0.85M97.5 107.4h0.85M77.7 120.0h0.85M82.0 116.0h0.85M89.4 109.4h0.85M105.2 109.4h0.85M91.3 117.8h0.85M121.0 79.2h0.85M105.2 95.0h0.85M72.1 126.5h0.85M99.1 93.0h0.85M99.2 93.1h0.85M94.3 109.2h0.85M103.2 111.3h0.85M94.7 113.9h0.85M93.6 106.7h0.85M104.0 97.8h0.85M107.8 107.5h0.85M102.3 100.3h0.85M106.1 97.2h0.85M107.7 96.4h0.85M99.3 95.8h0.85M105.9 96.5h0.85M106.3 94.0h0.85M83.3 124.1h0.85M89.7 111.4h0.85M68.3 128.2h0.85M95.8 105.5h0.85M94.1 103.4h0.85M103.7 96.1h0.85M102.3 98.5h0.85M120.2 79.7h0.85M82.4 126.0h0.85M90.5 112.2h0.85M94.2 110.8h0.85M99.1 119.3h0.85M103.4 97.0h0.85M107.6 101.8h0.85M87.8 114.6h0.85M109.0 105.5h0.85M105.2 92.1h0.85M90.6 110.8h0.85M94.7 104.8h0.85M115.1 88.8h0.85M110.5 85.0h0.85M95.2 109.8h0.85M82.6 117.2h0.85M94.9 105.3h0.85M85.2 111.8h0.85M100.7 94.9h0.85M124.2 72.9h0.85M86.6 114.2h0.85M80.7 120.7h0.85M79.2 114.3h0.85M69.3 126.8h0.85M99.0 112.1h0.85M107.4 87.6h0.85M120.1 81.6h0.85M107.0 94.2h0.85M115.8 85.4h0.85M111.7 95.1h0.85M88.8 118.2h0.85M95.0 113.9h0.85M99.2 105.8h0.85M79.4 118.6h0.85M111.9 87.3h0.85M101.7 101.6h0.85M95.0 116.0h0.85M122.5 83.5h0.85M85.8 120.5h0.85M83.4 115.3h0.85M87.7 115.9h0.85M101.8 107.6h0.85M82.9 114.0h0.85M90.8 121.2h0.85M104.9 106.0h0.85M97.0 104.2h0.85M100.9 99.2h0.85M91.9 109.0h0.85M75.9 121.7h0.85M72.9 122.8h0.85M87.7 107.1h0.85M96.4 101.7h0.85M91.2 111.0h0.85M103.3 94.7h0.85M92.1 125.7h0.85M98.9 98.2h0.85M113.5 89.3h0.85M110.8 109.4h0.85M91.8 112.9h0.85M123.7 77.4h0.85M130.4 69.0h0.85M91.5 112.8h0.85M86.3 112.9h0.85M99.0 108.8h0.85M119.9 76.9h0.85M93.1 104.4h0.85M94.9 109.3h0.85M86.1 118.1h0.85M119.9 74.5h0.85M95.5 107.7h0.85M111.8 94.2h0.85M106.7 104.6h0.85M102.3 95.0h0.85M107.9 85.5h0.85M112.7 91.0h0.85M83.4 117.1h0.85M106.1 85.9h0.85M105.3 96.4h0.85M87.8 113.3h0.85M94.8 105.4h0.85M94.5 108.7h0.85M95.5 102.9h0.85M94.0 111.1h0.85M93.9 107.7h0.85M86.3 116.0h0.85M104.0 100.4h0.85M82.3 116.9h0.85M95.0 102.5h0.85M93.9 107.1h0.85M107.4 94.7h0.85M89.9 107.3h0.85M93.7 113.5h0.85M83.8 120.9h0.85M89.8 124.6h0.85M78.8 123.2h0.85M92.2 109.4h0.85M104.9 103.8h0.85M117.3 82.2h0.85M84.5 112.0h0.85M120.2 85.8h0.85M98.7 109.5h0.85M78.1 117.7h0.85M108.3 97.7h0.85M92.2 116.2h0.85M88.6 113.1h0.85M95.0 101.4h0.85M99.9 102.0h0.85M98.6 98.8h0.85M104.6 105.9h0.85M94.8 103.5h0.85M87.2 122.1h0.85M84.3 122.8h0.85M94.4 107.5h0.85M104.2 109.8h0.85M103.2 93.7h0.85M131.7 68.4h0.85M107.0 105.4h0.85M111.3 82.1h0.85M100.7 104.8h0.85M116.9 88.4h0.85M120.5 84.2h0.85M103.5 96.6h0.85M99.7 105.6h0.85M84.0 107.4h0.85M103.2 104.4h0.85M80.2 115.0h0.85M114.9 86.7h0.85M91.6 105.4h0.85M103.7 90.7h0.85M95.3 110.2h0.85M96.3 113.4h0.85M83.0 119.7h0.85M95.1 105.5h0.85M78.7 122.1h0.85M123.0 83.1h0.85M92.5 111.3h0.85M105.3 101.8h0.85M126.8 74.7h0.85M100.5 100.2h0.85M115.2 84.2h0.85M79.2 119.7h0.85M89.3 103.8h0.85M104.2 95.8h0.85M96.1 109.7h0.85M110.9 86.2h0.85M126.7 74.0h0.85M111.8 95.3h0.85M104.4 97.7h0.85M83.3 119.9h0.85M98.6 104.3h0.85M93.5 109.1h0.85M97.2 106.9h0.85M75.2 123.0h0.85M119.6 81.9h0.85M99.1 107.6h0.85M86.8 119.3h0.85M79.9 119.2h0.85M85.3 112.6h0.85M98.5 112.0h0.85M125.8 75.4h0.85M98.9 105.5h0.85M82.1 117.6h0.85M103.9 111.3h0.85M97.6 103.0h0.85M120.8 87.1h0.85M87.9 105.2h0.85M87.6 108.6h0.85M84.3 122.4h0.85M106.9 98.7h0.85M83.1 116.4h0.85M112.3 90.0h0.85M126.2 77.5h0.85M118.5 81.3h0.85M108.4 89.7h0.85M93.5 109.3h0.85M79.8 123.2h0.85M87.8 106.1h0.85M91.2 107.3h0.85M74.7 125.8h0.85M108.1 102.1h0.85M84.1 111.4h0.85M94.9 104.2h0.85M101.6 101.5h0.85M79.7 112.5h0.85M105.2 92.0h0.85M82.1 124.8h0.85M115.7 90.5h0.85M85.4 113.3h0.85M105.5 96.3h0.85M130.7 69.1h0.85M66.5 122.0h0.85M96.8 106.2h0.85M90.1 113.0h0.85M93.4 97.8h0.85M100.1 96.1h0.85M108.2 93.9h0.85M94.9 103.3h0.85M107.7 91.4h0.85M123.0 73.7h0.85M96.4 99.0h0.85M118.4 79.8h0.85M98.9 100.4h0.85M77.6 114.0h0.85M109.4 95.6h0.85M92.6 109.4h0.85M114.5 91.4h0.85M86.6 113.0h0.85M88.2 114.1h0.85M87.6 113.9h0.85M103.2 98.6h0.85M100.3 108.0h0.85M78.3 121.3h0.85M96.7 100.6h0.85M79.2 115.5h0.85M95.4 112.6h0.85M89.3 114.1h0.85M114.2 89.4h0.85M101.0 106.4h0.85M79.3 123.6h0.85M75.9 124.4h0.85M93.9 96.4h0.85M90.6 103.2h0.85M105.0 92.6h0.85M99.4 103.3h0.85M103.0 91.9h0.85M86.4 121.6h0.85M89.1 120.4h0.85M91.1 111.7h0.85M87.0 114.5h0.85M112.1 89.5h0.85M111.1 91.7h0.85M98.1 112.0h0.85M112.6 87.7h0.85M115.5 86.4h0.85M119.6 84.3h0.85M84.6 118.6h0.85M86.0 115.0h0.85M101.0 103.4h0.85M108.6 94.0h0.85M80.8 116.0h0.85M90.5 102.3h0.85M121.2 77.1h0.85M117.4 78.6h0.85M111.1 97.7h0.85M97.0 108.3h0.85M92.9 108.9h0.85M96.4 115.8h0.85M100.4 94.9h0.85M112.9 85.0h0.85M95.6 107.7h0.85M77.1 127.9h0.85M109.1 82.6h0.85M96.7 103.6h0.85M115.5 82.2h0.85M105.9 85.8h0.85M92.1 107.7h0.85M101.6 105.4h0.85M97.7 103.3h0.85M92.4 101.8h0.85M80.2 119.0h0.85M97.8 103.4h0.85M107.2 99.1h0.85M92.5 121.3h0.85M79.6 124.2h0.85M98.6 98.8h0.85M106.1 97.2h0.85M90.0 114.4h0.85M90.4 106.3h0.85M109.5 92.8h0.85M91.7 108.4h0.85M100.1 103.8h0.85M101.5 104.5h0.85M97.3 102.3h0.85M77.7 112.1h0.85M89.6 106.6h0.85M96.6 109.2h0.85M98.5 119.2h0.85M99.3 103.8h0.85M101.4 111.2h0.85M101.6 108.2h0.85M112.0 85.3h0.85M84.1 119.0h0.85M97.9 107.5h0.85M84.2 109.8h0.85M128.0 76.6h0.85M104.5 100.9h0.85M83.3 113.1h0.85M92.0 108.2h0.85M77.4 113.7h0.85M78.4 113.8h0.85M108.9 97.4h0.85M127.2 76.3h0.85M114.0 87.2h0.85M107.5 96.2h0.85M92.2 105.9h0.85M109.1 97.8h0.85M82.6 121.1h0.85M109.3 96.7h0.85M83.8 117.9h0.85M79.8 108.1h0.85M88.0 118.1h0.85M112.4 85.7h0.85M110.8 89.6h0.85M100.1 95.7h0.85M98.6 98.6h0.85M91.0 108.4h0.85M96.8 94.7h0.85M116.8 79.6h0.85M89.5 108.7h0.85M98.7 108.8h0.85M96.6 104.5h0.85M81.4 115.3h0.85M103.2 97.1h0.85M108.7 99.4h0.85M86.3 102.5h0.85M93.4 101.0h0.85M102.4 111.4h0.85M95.4 98.3h0.85M82.3 119.9h0.85M75.3 121.9h0.85M96.9 97.9h0.85M84.9 126.3h0.85M96.7 98.9h0.85M87.1 112.1h0.85M99.5 90.6h0.85M85.2 114.4h0.85M108.9 88.8h0.85M104.0 103.2h0.85M77.0 124.9h0.85M86.4 114.0h0.85M87.6 115.9h0.85M85.9 123.7h0.85M104.0 108.2h0.85M104.2 94.7h0.85M88.1 119.9h0.85M107.7 98.3h0.85M101.6 99.4h0.85M112.1 87.9h0.85M95.4 104.2h0.85M100.9 102.2h0.85M84.3 107.2h0.85M93.4 111.5h0.85M110.5 92.8h0.85M102.9 105.0h0.85M112.4 87.1h0.85M89.0 114.3h0.85M107.4 89.5h0.85M103.0 94.2h0.85M104.8 98.5h0.85M102.3 90.9h0.85M86.9 104.0h0.85M104.3 99.9h0.85M87.0 108.1h0.85M80.2 117.8h0.85M94.4 110.0h0.85M83.0 125.2h0.85M88.4 109.3h0.85M96.7 96.2h0.85M103.4 95.9h0.85M90.8 100.8h0.85M96.2 112.8h0.85M104.1 93.6h0.85M112.9 97.6h0.85M102.9 99.0h0.85M107.2 91.7h0.85M106.9 98.4h0.85M82.2 118.7h0.85M103.0 100.6h0.85M118.6 77.0h0.85M132.3 66.2h0.85M90.4 98.6h0.85M97.4 95.1h0.85M102.0 106.3h0.85M96.8 105.6h0.85M95.8 105.4h0.85M72.6 122.9h0.85M99.4 100.1h0.85M89.9 103.8h0.85M94.6 105.9h0.85M98.3 99.1h0.85M104.7 87.9h0.85M91.7 106.4h0.85M108.6 96.7h0.85M94.7 102.6h0.85M99.9 102.3h0.85M91.5 116.4h0.85M103.5 95.4h0.85M81.9 123.2h0.85M78.0 121.1h0.85M107.5 91.7h0.85M92.2 112.1h0.85M109.6 93.5h0.85M76.8 125.3h0.85M89.4 102.2h0.85M94.6 117.1h0.85M92.2 103.5h0.85M85.0 118.2h0.85M80.8 117.5h0.85M97.4 107.5h0.85M98.5 99.9h0.85M88.4 112.4h0.85M104.8 99.2h0.85M76.4 120.0h0.85M95.9 102.9h0.85M99.3 92.7h0.85M79.0 110.5h0.85M103.1 94.7h0.85M85.5 114.3h0.85M95.3 103.1h0.85M75.8 123.2h0.85M72.0 118.9h0.85M88.3 116.1h0.85M90.1 106.7h0.85M108.9 89.9h0.85M74.8 125.4h0.85M99.8 101.2h0.85M107.1 98.3h0.85M92.9 120.5h0.85M95.5 101.9h0.85M99.0 107.7h0.85M96.4 104.9h0.85M85.1 118.1h0.85M99.1 98.6h0.85M121.4 82.6h0.85M92.8 103.0h0.85M90.8 105.0h0.85M73.0 119.1h0.85M109.0 92.6h0.85M80.3 121.2h0.85M86.8 104.7h0.85M90.4 108.6h0.85M104.3 100.1h0.85M88.7 125.4h0.85M107.4 86.8h0.85M99.1 108.2h0.85M103.0 100.8h0.85M71.3 128.0h0.85M82.0 113.0h0.85M77.0 121.3h0.85M95.0 115.9h0.85M97.5 108.2h0.85M84.0 124.3h0.85M96.8 108.4h0.85M94.9 106.5h0.85M115.1 87.5h0.85M97.5 95.6h0.85M90.7 102.6h0.85M102.7 111.3h0.85M115.6 86.5h0.85M82.1 119.0h0.85M98.9 101.4h0.85M123.4 82.6h0.85M100.9 104.4h0.85M91.1 112.5h0.85M87.1 103.3h0.85M98.8 103.2h0.85M100.7 110.7h0.85M94.7 109.7h0.85M84.6 107.3h0.85M99.2 98.8h0.85M89.3 110.6h0.85M96.4 101.3h0.85M98.4 100.4h0.85M87.1 110.1h0.85M102.1 96.9h0.85M93.0 106.6h0.85M95.9 103.6h0.85M96.5 107.9h0.85M90.2 109.7h0.85M95.5 108.2h0.85M99.6 98.6h0.85M101.0 102.6h0.85M98.7 113.4h0.85M103.7 104.1h0.85M86.7 110.6h0.85M88.6 117.6h0.85M93.2 114.1h0.85M106.5 102.5h0.85M95.3 99.5h0.85M86.0 110.2h0.85M92.3 110.3h0.85M93.8 110.1h0.85M95.1 100.8h0.85M117.9 75.1h0.85M107.3 100.2h0.85M88.2 119.5h0.85M102.4 101.5h0.85M103.9 107.6h0.85M93.0 105.6h0.85M112.6 84.1h0.85M118.5 82.4h0.85M84.6 120.8h0.85M120.9 81.1h0.85M99.0 105.8h0.85M85.4 105.6h0.85M113.9 87.0h0.85M105.0 101.8h0.85M95.3 109.3h0.85M109.1 86.6h0.85M89.8 121.4h0.85M106.9 84.2h0.85M84.4 104.8h0.85M100.7 99.6h0.85M77.1 122.7h0.85M78.5 117.7h0.85M125.4 74.2h0.85M87.9 116.3h0.85M95.3 105.1h0.85M114.8 86.3h0.85M98.3 109.6h0.85M85.1 113.6h0.85M95.4 107.0h0.85M103.0 89.5h0.85M85.2 110.8h0.85M108.8 96.3h0.85M80.6 125.2h0.85M98.7 102.3h0.85M101.4 96.5h0.85M109.7 85.7h0.85M117.7 83.6h0.85M99.0 108.2h0.85M82.0 117.7h0.85M83.2 109.2h0.85M87.3 102.8h0.85M87.8 113.4h0.85M110.4 89.7h0.85M114.3 91.1h0.85M106.2 98.8h0.85M102.9 107.6h0.85M86.0 115.9h0.85M102.4 106.1h0.85M85.2 125.6h0.85M89.8 100.9h0.85M89.2 123.1h0.85M79.5 125.3h0.85M91.0 108.1h0.85M107.8 97.4h0.85M104.6 98.3h0.85M105.0 91.3h0.85M106.8 105.0h0.85M106.0 98.6h0.85M93.7 115.0h0.85M72.6 124.0h0.85M100.4 97.5h0.85M88.4 109.0h0.85M97.2 100.6h0.85M88.6 117.1h0.85M91.9 116.6h0.85M105.6 94.8h0.85M95.3 114.5h0.85M106.7 93.9h0.85M79.6 119.9h0.85M99.9 100.8h0.85M113.2 83.5h0.85M86.6 118.5h0.85M89.8 110.7h0.85M99.9 106.5h0.85M95.1 104.0h0.85M94.2 119.2h0.85M110.9 95.6h0.85M91.4 107.7h0.85M108.9 93.4h0.85M75.6 125.5h0.85M104.6 107.7h0.85M76.7 124.6h0.85M72.8 125.3h0.85M94.6 109.5h0.85M89.7 115.4h0.85M76.6 121.3h0.85M89.2 113.7h0.85M102.4 95.1h0.85M79.4 125.6h0.85M91.2 110.1h0.85M83.0 110.6h0.85M125.6 74.0h0.85M82.3 120.8h0.85M93.7 107.1h0.85M101.2 106.5h0.85M77.0 122.2h0.85M105.3 101.4h0.85M101.3 100.4h0.85M87.4 113.2h0.85M109.9 86.9h0.85M81.4 115.9h0.85M101.7 91.6h0.85M103.0 101.2h0.85M90.7 112.4h0.85M121.4 73.9h0.85M103.3 94.6h0.85M80.6 122.3h0.85M116.0 80.5h0.85M89.3 117.2h0.85M82.2 120.2h0.85M97.5 110.4h0.85M98.0 106.5h0.85M83.7 115.8h0.85M105.5 97.0h0.85M80.4 118.5h0.85M88.7 114.6h0.85M99.1 99.9h0.85M107.4 97.1h0.85M128.2 69.2h0.85M106.4 86.1h0.85M111.6 82.5h0.85M112.2 91.5h0.85M108.0 88.0h0.85M107.3 87.6h0.85M105.3 101.8h0.85M94.9 112.0h0.85M80.8 107.9h0.85M108.2 87.1h0.85M80.9 114.2h0.85M91.6 104.6h0.85M106.8 88.2h0.85M87.4 104.8h0.85M110.4 89.5h0.85M83.8 123.0h0.85M107.3 103.9h0.85M87.4 110.8h0.85M91.1 106.5h0.85M112.7 91.4h0.85M105.7 90.4h0.85M97.0 98.0h0.85M96.8 103.2h0.85M109.0 94.2h0.85M95.3 102.3h0.85M110.6 96.6h0.85M111.8 88.9h0.85M100.3 92.7h0.85M85.9 119.4h0.85M83.4 115.2h0.85M103.8 107.2h0.85M103.5 105.7h0.85M111.9 96.8h0.85M111.8 85.6h0.85M93.0 119.2h0.85M104.4 100.9h0.85M97.5 102.8h0.85M108.3 92.0h0.85M97.1 95.1h0.85M82.1 115.3h0.85M87.4 121.2h0.85M121.5 75.6h0.85M101.4 107.2h0.85M112.9 94.9h0.85M93.3 100.3h0.85M88.5 109.9h0.85M111.6 91.5h0.85M124.7 75.1h0.85M91.4 114.6h0.85M82.2 116.9h0.85M89.9 113.2h0.85M94.0 112.3h0.85M102.4 103.6h0.85M107.3 97.8h0.85M96.4 107.3h0.85M96.1 105.7h0.85M93.7 107.8h0.85M97.1 101.4h0.85M82.9 125.9h0.85M102.0 94.9h0.85M102.5 103.3h0.85M98.0 109.1h0.85M100.1 96.4h0.85M110.0 94.5h0.85M99.6 106.4h0.85M95.0 111.1h0.85M92.3 110.2h0.85M80.1 114.6h0.85M97.2 103.9h0.85M85.5 112.9h0.85M71.9 121.2h0.85M87.4 119.1h0.85M103.5 94.2h0.85M102.5 100.4h0.85M119.7 80.0h0.85M79.4 119.3h0.85M83.5 119.7h0.85M87.8 105.0h0.85M98.4 98.0h0.85M86.6 108.5h0.85M89.8 110.8h0.85M104.5 102.5h0.85M101.7 96.2h0.85M104.0 88.1h0.85M90.5 114.0h0.85M101.4 106.0h0.85M97.2 107.9h0.85M90.0 118.2h0.85M81.9 118.3h0.85M105.8 103.6h0.85M90.2 102.0h0.85M81.2 124.3h0.85M100.5 99.4h0.85M80.8 114.9h0.85M105.6 90.3h0.85M109.6 91.1h0.85M79.2 115.3h0.85M101.4 91.2h0.85M99.1 102.5h0.85M88.5 112.3h0.85M93.0 99.2h0.85M120.0 79.7h0.85M115.0 79.5h0.85M88.3 118.3h0.85M100.7 104.1h0.85M101.3 99.0h0.85M81.9 117.1h0.85M82.5 116.7h0.85M106.8 89.0h0.85M110.7 96.2h0.85M96.9 98.6h0.85M95.1 108.7h0.85M104.1 98.9h0.85M106.5 102.0h0.85M96.0 116.8h0.85M101.6 105.4h0.85M111.0 103.1h0.85M94.8 118.1h0.85M80.3 121.2h0.85M103.4 95.8h0.85M119.7 78.8h0.85M103.9 97.0h0.85M93.2 109.5h0.85M84.8 112.6h0.85M127.3 71.5h0.85M90.2 105.1h0.85M110.7 92.0h0.85M100.9 108.9h0.85M98.2 96.6h0.85M111.1 100.1h0.85M95.0 95.2h0.85M84.5 120.4h0.85M101.4 104.6h0.85M87.1 117.6h0.85M99.7 100.3h0.85M101.8 109.3h0.85M76.0 119.4h0.85M95.9 104.6h0.85M102.2 90.8h0.85M111.5 93.1h0.85M107.0 92.5h0.85M115.6 81.8h0.85M126.4 67.4h0.85M101.3 106.3h0.85M104.4 102.3h0.85M96.9 98.0h0.85M89.3 123.2h0.85M89.8 116.9h0.85M76.4 119.8h0.85M104.3 96.3h0.85M111.8 90.8h0.85M124.1 75.4h0.85M109.2 96.8h0.85M103.3 100.7h0.85M82.6 115.5h0.85M85.6 108.3h0.85M114.1 84.5h0.85M93.0 119.8h0.85M88.9 109.9h0.85M122.4 80.2h0.85M119.3 88.2h0.85M118.3 80.0h0.85M88.3 103.4h0.85M98.4 107.9h0.85M92.7 102.6h0.85M90.3 114.6h0.85M95.3 106.7h0.85M81.3 110.4h0.85M121.0 80.1h0.85M103.8 99.5h0.85M83.9 113.8h0.85M84.4 124.4h0.85M90.2 107.7h0.85M91.6 103.7h0.85M106.4 90.3h0.85M115.6 88.0h0.85M107.1 91.5h0.85M102.2 103.0h0.85M104.6 96.5h0.85M107.1 95.8h0.85M90.6 119.0h0.85M96.4 93.5h0.85M100.2 101.3h0.85M87.5 110.5h0.85M98.8 101.6h0.85M94.3 113.1h0.85M86.4 117.4h0.85M85.3 121.1h0.85M101.3 100.5h0.85M91.1 110.4h0.85M111.8 96.0h0.85M105.8 108.5h0.85M117.8 81.2h0.85M125.0 69.8h0.85M99.4 98.1h0.85M103.3 111.0h0.85M109.7 88.2h0.85M108.2 92.5h0.85M82.7 120.6h0.85M87.8 116.0h0.85M111.3 90.6h0.85M78.9 126.2h0.85M84.2 108.3h0.85M80.5 117.1h0.85M105.0 110.1h0.85M115.2 89.4h0.85M118.5 84.3h0.85M116.2 76.2h0.85M89.5 105.0h0.85M118.6 81.9h0.85M103.4 93.9h0.85M85.1 118.6h0.85M99.0 94.3h0.85M88.0 108.2h0.85M87.5 120.1h0.85M98.8 101.8h0.85M98.4 108.0h0.85M90.3 104.5h0.85M78.9 123.4h0.85M82.5 116.7h0.85M113.8 89.6h0.85M88.5 114.1h0.85M98.0 106.5h0.85M85.0 113.0h0.85M116.6 83.7h0.85M88.5 103.7h0.85M97.8 101.2h0.85M95.4 103.1h0.85M80.5 119.1h0.85M95.0 107.6h0.85M84.7 123.8h0.85M124.0 76.8h0.85M111.1 98.9h0.85M96.6 105.6h0.85M83.3 120.3h0.85M74.4 123.0h0.85M109.0 100.5h0.85M88.0 113.7h0.85M95.6 105.3h0.85M109.0 88.3h0.85M83.8 116.9h0.85M113.3 91.9h0.85M128.8 72.7h0.85M72.4 127.5h0.85M101.3 99.7h0.85M89.2 104.9h0.85M79.6 115.4h0.85M84.5 116.3h0.85M94.6 107.1h0.85M103.3 91.8h0.85M103.1 92.4h0.85M102.7 97.2h0.85M103.8 92.7h0.85M84.0 113.1h0.85M109.1 91.5h0.85M93.9 110.5h0.85M103.6 98.0h0.85M104.2 98.7h0.85M85.5 109.1h0.85M96.0 106.8h0.85M85.3 114.4h0.85M92.5 103.6h0.85M96.0 105.6h0.85M85.8 106.6h0.85M98.7 95.3h0.85M112.8 88.6h0.85M101.0 108.9h0.85M92.9 114.1h0.85M81.3 107.1h0.85M105.6 93.4h0.85M77.2 117.9h0.85M97.4 100.5h0.85M122.3 78.7h0.85M109.7 90.2h0.85M117.0 80.9h0.85M106.8 95.5h0.85M84.9 113.9h0.85M112.1 86.8h0.85M116.1 84.0h0.85M88.4 106.2h0.85M100.8 89.0h0.85M98.7 109.1h0.85M88.4 116.9h0.85M90.6 118.3h0.85M92.6 105.3h0.85M88.3 108.0h0.85M108.0 89.8h0.85M100.3 113.6h0.85M95.4 121.3h0.85M77.2 118.9h0.85M89.3 107.0h0.85M114.8 87.0h0.85M84.0 112.2h0.85M80.4 118.8h0.85M96.3 98.2h0.85M74.8 123.0h0.85M121.3 80.0h0.85M121.7 75.7h0.85M76.2 120.2h0.85M101.7 104.6h0.85M94.2 118.3h0.85M119.0 79.9h0.85M93.0 102.6h0.85M116.2 85.6h0.85M96.3 101.2h0.85M95.0 95.1h0.85M110.5 90.4h0.85M91.8 122.1h0.85M82.9 104.4h0.85M96.3 99.3h0.85M92.0 111.8h0.85M72.7 123.6h0.85M81.5 113.2h0.85M78.8 111.0h0.85M84.0 113.2h0.85M91.2 113.4h0.85M109.6 88.3h0.85M72.0 128.0h0.85M96.3 119.0h0.85M90.2 113.6h0.85M114.4 85.1h0.85M84.2 124.1h0.85M105.3 94.7h0.85M107.4 94.8h0.85M101.6 99.9h0.85M121.0 79.7h0.85M84.0 110.4h0.85M107.0 97.2h0.85M114.5 84.4h0.85M87.5 118.1h0.85M118.1 79.1h0.85M81.7 124.2h0.85M111.8 87.3h0.85M99.9 97.7h0.85M68.5 126.2h0.85M107.3 89.9h0.85M82.3 107.1h0.85M85.6 113.3h0.85M101.8 96.5h0.85M91.0 98.6h0.85M111.2 89.2h0.85M111.8 85.1h0.85M109.5 89.2h0.85M102.3 102.0h0.85M104.7 96.1h0.85M82.5 118.6h0.85M95.5 110.3h0.85M107.7 92.7h0.85M89.7 103.4h0.85M101.8 99.8h0.85M100.5 95.8h0.85M106.2 100.4h0.85M101.4 101.1h0.85M93.1 109.8h0.85M111.3 90.1h0.85M130.2 70.9h0.85M108.9 87.1h0.85M92.3 107.8h0.85M111.4 81.1h0.85M95.7 106.5h0.85M101.6 95.7h0.85M92.1 103.0h0.85M103.5 98.2h0.85M84.8 110.5h0.85M73.7 126.2h0.85M94.1 109.0h0.85M88.2 107.3h0.85M101.2 93.0h0.85M102.0 107.4h0.85M72.9 123.3h0.85M100.6 100.7h0.85M107.5 84.7h0.85M108.1 91.1h0.85M103.1 100.1h0.85M93.5 106.9h0.85M86.1 111.6h0.85M80.5 119.2h0.85M119.5 75.5h0.85M85.9 108.5h0.85M104.6 91.7h0.85M102.7 100.9h0.85M112.3 84.1h0.85M81.4 117.6h0.85M92.8 114.4h0.85M98.2 105.3h0.85M70.7 120.9h0.85M98.2 104.1h0.85M99.9 107.5h0.85M86.2 103.0h0.85M91.4 119.9h0.85M101.3 94.8h0.85M87.2 116.7h0.85M113.9 83.4h0.85M80.8 120.9h0.85M91.8 110.0h0.85M79.9 120.3h0.85M83.1 112.4h0.85M99.3 105.4h0.85M92.9 110.8h0.85M108.6 90.9h0.85M105.1 109.7h0.85M105.8 97.2h0.85M91.2 118.2h0.85M111.6 82.4h0.85M97.0 105.3h0.85M87.5 107.4h0.85M97.9 107.9h0.85M113.6 85.5h0.85M100.5 101.6h0.85M93.4 112.5h0.85M90.1 113.7h0.85M108.2 99.3h0.85M116.1 80.5h0.85M88.6 116.5h0.85M74.5 120.6h0.85M106.0 86.9h0.85M100.6 98.6h0.85M92.7 115.8h0.85M105.3 99.0h0.85M96.1 109.9h0.85M103.3 109.3h0.85M80.8 112.8h0.85M104.5 103.6h0.85M100.0 99.4h0.85M110.1 86.3h0.85M109.9 95.1h0.85M121.8 78.7h0.85M105.8 93.1h0.85M116.0 80.7h0.85M95.2 110.7h0.85M109.4 84.6h0.85M113.8 92.5h0.85M103.6 92.7h0.85M106.2 90.8h0.85M131.5 65.8h0.85M102.4 96.0h0.85M101.0 103.2h0.85M96.9 110.0h0.85M84.1 115.1h0.85M85.4 118.2h0.85M88.3 119.0h0.85M114.3 86.2h0.85M87.8 105.4h0.85M101.7 108.8h0.85M95.8 105.0h0.85M85.5 111.1h0.85M78.1 120.8h0.85M106.2 107.2h0.85M104.4 92.7h0.85M85.9 121.2h0.85M94.3 106.8h0.85M94.3 108.7h0.85M82.2 127.4h0.85M87.4 107.1h0.85M106.6 91.8h0.85M94.1 110.6h0.85M90.1 109.4h0.85M78.9 118.5h0.85M102.3 103.5h0.85M108.3 90.1h0.85M95.2 120.4h0.85M104.8 91.8h0.85M103.5 99.6h0.85M115.3 85.8h0.85M100.7 98.2h0.85M111.3 99.1h0.85M108.6 91.8h0.85M115.0 85.6h0.85M95.7 109.7h0.85M97.5 107.6h0.85M103.5 98.4h0.85M87.2 108.8h0.85M96.1 107.6h0.85M114.5 85.1h0.85M102.5 104.2h0.85M113.2 85.7h0.85M81.7 119.4h0.85M113.0 84.2h0.85M95.6 104.3h0.85M99.3 116.8h0.85M106.1 88.1h0.85M89.9 110.0h0.85M109.3 91.5h0.85M110.3 91.5h0.85M93.8 111.4h0.85M95.8 113.4h0.85M81.7 117.3h0.85M85.3 113.8h0.85M95.7 106.5h0.85M103.9 101.2h0.85M83.6 117.7h0.85M94.4 98.5h0.85M109.8 99.2h0.85M104.0 109.5h0.85M108.3 95.8h0.85M111.2 89.6h0.85M85.0 117.4h0.85M99.3 95.2h0.85M93.4 111.2h0.85M98.4 108.0h0.85M103.4 96.5h0.85M108.1 98.9h0.85M111.5 76.4h0.85M114.8 81.7h0.85M97.9 103.8h0.85M75.8 128.0h0.85M127.0 73.9h0.85M117.3 83.7h0.85M95.9 110.8h0.85M98.5 101.9h0.85M92.4 109.1h0.85M94.5 112.1h0.85M88.0 96.0h0.85M80.4 120.5h0.85M85.2 120.1h0.85M89.7 111.6h0.85M90.9 116.9h0.85M92.0 104.4h0.85M90.2 117.9h0.85M108.9 98.3h0.85M87.9 115.9h0.85M91.5 103.6h0.85M104.3 107.6h0.85M93.2 112.2h0.85M89.8 107.2h0.85M87.8 102.0h0.85M104.2 111.9h0.85M92.0 110.4h0.85M98.5 110.5h0.85M109.4 92.0h0.85M115.6 84.9h0.85M115.7 78.8h0.85M98.4 101.4h0.85M109.1 90.6h0.85M95.8 90.9h0.85M112.3 94.8h0.85M90.6 118.6h0.85M101.5 99.0h0.85M90.7 114.5h0.85M108.8 92.1h0.85M142.4 62.3h0.85M149.5 51.2h0.85M132.4 71.1h0.85M149.8 53.0h0.85M127.4 69.2h0.85M146.6 54.1h0.85M143.1 55.7h0.85M144.0 57.4h0.85M127.8 68.8h0.85M130.3 68.6h0.85M138.6 65.4h0.85M129.1 68.2h0.85M138.3 60.3h0.85M126.9 72.4h0.85M134.5 66.8h0.85M137.5 59.9h0.85M135.3 62.0h0.85M127.4 74.5h0.85M153.7 52.2h0.85M146.0 56.4h0.85M137.3 63.3h0.85M131.9 70.7h0.85M136.1 67.3h0.85M133.0 65.1h0.85M142.2 60.4h0.85M136.8 61.6h0.85M127.5 72.8h0.85M128.1 73.8h0.85M135.9 66.1h0.85M130.8 71.9h0.85M130.1 73.1h0.85M127.3 73.7h0.85M131.4 71.6h0.85M140.9 61.8h0.85M138.8 63.8h0.85M131.1 67.8h0.85M143.1 54.9h0.85M131.2 66.4h0.85M128.8 68.8h0.85M127.0 72.7h0.85M134.7 67.2h0.85M156.3 47.3h0.85M142.9 61.2h0.85M156.4 46.1h0.85M151.7 50.0h0.85M135.9 62.6h0.85M146.4 53.4h0.85M131.8 67.6h0.85M126.9 74.6h0.85M126.9 69.7h0.85M153.2 51.2h0.85M126.9 70.2h0.85M134.5 62.2h0.85M130.0 68.5h0.85M157.3 42.4h0.85M144.5 54.7h0.85M141.7 55.8h0.85M146.8 58.0h0.85M127.2 75.5h0.85M151.5 49.3h0.85M136.7 60.1h0.85M128.9 67.3h0.85M132.6 65.5h0.85M127.3 68.8h0.85M129.0 67.3h0.85M128.2 73.7h0.85M134.9 62.3h0.85M151.8 48.1h0.85M129.7 66.5h0.85M150.5 51.3h0.85M140.0 60.9h0.85M151.2 54.0h0.85M148.9 53.3h0.85M144.5 54.8h0.85M151.7 50.7h0.85M127.0 71.0h0.85M155.6 45.6h0.85M127.9 75.0h0.85M134.9 65.8h0.85M133.1 65.2h0.85M132.0 71.0h0.85M136.9 65.1h0.85M141.3 57.9h0.85M153.7 51.9h0.85M128.2 67.9h0.85M145.6 53.3h0.85M151.8 50.4h0.85M137.8 61.2h0.85M139.1 60.2h0.85M126.9 72.6h0.85M152.1 51.4h0.85M136.1 66.8h0.85M127.1 70.0h0.85M133.2 63.3h0.85M127.5 74.0h0.85M136.3 65.2h0.85M129.0 73.5h0.85M154.4 47.0h0.85M129.2 69.2h0.85M131.1 67.8h0.85M144.0 59.3h0.85M153.4 50.0h0.85M149.8 53.3h0.85M127.4 69.5h0.85M130.0 66.7h0.85M130.5 70.4h0.85M146.4 54.9h0.85M138.8 62.9h0.85M144.0 56.8h0.85M133.1 67.1h0.85M140.0 58.1h0.85M135.9 64.4h0.85M147.1 53.0h0.85M156.2 48.2h0.85M141.6 59.5h0.85M128.7 69.6h0.85M131.7 68.0h0.85M127.4 68.4h0.85M158.1 41.4h0.85M131.4 67.6h0.85M157.6 44.2h0.85M131.2 68.5h0.85M141.8 62.0h0.85M144.2 54.1h0.85M153.5 52.0h0.85M127.7 74.0h0.85M154.0 51.0h0.85M154.9 46.4h0.85M142.1 61.0h0.85M150.3 52.6h0.85M152.6 50.9h0.85M133.6 69.7h0.85M134.4 62.8h0.85M154.0 47.6h0.85M148.6 56.1h0.85M148.0 55.2h0.85M132.1 67.9h0.85M133.9 68.4h0.85M131.8 67.6h0.85M147.7 51.2h0.85M148.3 54.0h0.85M143.7 58.9h0.85M130.2 72.3h0.85M141.5 58.5h0.85M127.8 69.4h0.85M127.0 70.7h0.85M128.2 67.8h0.85M127.2 69.2h0.85M129.6 67.0h0.85M131.6 65.3h0.85M128.5 71.5h0.85M133.4 68.0h0.85M129.9 70.8h0.85M131.0 68.2h0.85M130.4 66.3h0.85M158.1 43.1h0.85M126.9 73.2h0.85M127.2 69.2h0.85M129.8 67.6h0.85M133.4 65.5h0.85M131.7 70.2h0.85M133.6 69.4h0.85M144.7 59.5h0.85M135.1 64.0h0.85M140.0 64.5h0.85M127.4 73.2h0.85M149.9 52.5h0.85M128.0 75.0h0.85M132.1 70.8h0.85M136.4 61.2h0.85M138.4 60.8h0.85M131.7 71.0h0.85M153.4 49.6h0.85M142.9 59.5h0.85M135.6 66.7h0.85M141.0 63.6h0.85M148.9 55.8h0.85M127.0 72.0h0.85M128.4 69.6h0.85M127.4 74.6h0.85M135.8 64.9h0.85M150.0 54.0h0.85M151.9 47.0h0.85M127.7 71.5h0.85M140.2 64.2h0.85M132.8 64.6h0.85M130.2 66.7h0.85M146.6 55.4h0.85M130.3 71.2h0.85M133.6 64.2h0.85M127.3 74.0h0.85M150.1 53.5h0.85M156.2 50.0h0.85M126.9 69.7h0.85M137.3 63.3h0.85M132.8 65.1h0.85M130.6 72.5h0.85M137.0 62.9h0.85M146.3 57.0h0.85M148.8 55.2h0.85M131.7 66.3h0.85M137.3 65.0h0.85M130.7 72.0h0.85M128.0 69.5h0.85M133.7 64.0h0.85M128.1 69.9h0.85M126.9 73.1h0.85M138.9 59.2h0.85M146.3 54.7h0.85M138.8 64.7h0.85M137.2 60.4h0.85M132.3 65.1h0.85M152.8 47.7h0.85M127.3 71.6h0.85M132.3 69.6h0.85M127.0 70.3h0.85M131.8 65.2h0.85M137.7 65.8h0.85M154.5 48.8h0.85M126.9 73.3h0.85M128.4 71.3h0.85M141.5 62.8h0.85M139.6 59.4h0.85M127.5 73.7h0.85M132.8 65.8h0.85M138.7 63.3h0.85M140.9 56.5h0.85M150.5 52.8h0.85M152.0 51.6h0.85M142.9 56.6h0.85M132.6 70.5h0.85M131.8 71.0h0.85M130.5 68.8h0.85M156.5 47.4h0.85M137.9 59.1h0.85M134.0 63.4h0.85M139.5 64.8h0.85M130.5 72.3h0.85M154.5 45.7h0.85M152.7 51.2h0.85M128.7 68.2h0.85M141.2 62.5h0.85M131.5 70.3h0.85M142.3 56.1h0.85M144.8 55.1h0.85M128.7 70.4h0.85M127.0 75.0h0.85M127.0 75.8h0.85M157.6 48.3h0.85M140.6 63.9h0.85M127.1 71.2h0.85M136.4 61.5h0.85M144.1 59.6h0.85M135.5 61.5h0.85M132.2 70.3h0.85M157.6 44.6h0.85M126.9 75.0h0.85M144.8 53.3h0.85M137.3 62.3h0.85M157.8 45.8h0.85M154.8 47.3h0.85M132.6 67.5h0.85M127.5 71.1h0.85M131.8 65.7h0.85M150.5 52.2h0.85M145.4 56.9h0.85M129.8 68.2h0.85M129.0 71.4h0.85M131.6 65.5h0.85M149.8 49.6h0.85M157.0 44.6h0.85M143.6 61.3h0.85M130.2 72.3h0.85M132.2 67.9h0.85M135.7 64.9h0.85M143.9 59.3h0.85M133.5 67.9h0.85M152.2 50.2h0.85M136.3 63.9h0.85M129.0 71.3h0.85M130.6 68.2h0.85M154.8 46.3h0.85M132.3 68.8h0.85M140.9 62.6h0.85M128.0 69.6h0.85M128.8 68.0h0.85M134.0 68.1h0.85M150.2 49.6h0.85M145.0 54.2h0.85M135.7 61.9h0.85M130.0 71.9h0.85M145.3 56.1h0.85M152.8 46.8h0.85M131.4 69.7h0.85M128.1 70.9h0.85M134.9 62.9h0.85M130.9 67.1h0.85M138.7 60.8h0.85M139.6 60.0h0.85M145.5 58.8h0.85M141.3 62.1h0.85M136.1 61.3h0.85M153.2 47.0h0.85M127.4 73.7h0.85M127.6 71.8h0.85M134.9 62.0h0.85M135.7 61.8h0.85M144.6 59.3h0.85M134.7 66.0h0.85M133.9 66.9h0.85M156.7 44.3h0.85M140.6 56.8h0.85M154.1 45.2h0.85M134.9 64.3h0.85M138.8 60.1h0.85M128.9 70.8h0.85M149.5 55.9h0.85M134.5 63.8h0.85M132.0 65.1h0.85M152.1 52.4h0.85M128.2 74.2h0.85M137.1 64.1h0.85M141.9 61.0h0.85M129.5 69.0h0.85M138.9 62.7h0.85M145.5 54.0h0.85M129.2 71.6h0.85M134.9 68.8h0.85M156.1 50.1h0.85M157.3 48.5h0.85" stroke="#bdbdbd" stroke-width="0.85" fill="none" opacity="1.0"/>
<path d="M152.2 55.9h0.85M152.3 55.6h0.85M155.8 51.5h0.85M138.4 67.5h0.85M136.7 81.8h0.85M157.0 50.7h0.85M134.1 76.5h0.85M158.9 48.9h0.85M139.1 65.8h0.85M156.1 52.6h0.85M141.9 72.4h0.85M132.1 81.9h0.85M158.1 50.7h0.85M142.0 64.2h0.85M156.1 53.4h0.85M145.9 60.4h0.85M144.2 70.5h0.85M152.6 59.3h0.85M131.8 75.3h0.85M130.8 78.7h0.85M131.3 76.2h0.85M141.5 64.5h0.85M152.1 57.6h0.85M148.9 59.5h0.85M149.3 59.1h0.85M129.7 77.2h0.85M153.7 54.7h0.85M138.3 67.2h0.85M141.0 65.0h0.85M132.7 73.0h0.85M140.4 66.1h0.85M144.9 62.5h0.85M149.3 59.6h0.85M145.0 61.1h0.85M142.8 66.0h0.85M139.6 66.3h0.85M130.2 86.2h0.85M141.7 66.6h0.85M158.3 52.5h0.85M146.1 62.6h0.85M158.6 50.8h0.85M149.1 60.2h0.85M152.9 55.8h0.85M138.6 69.4h0.85M155.3 53.5h0.85M133.1 71.3h0.85M155.8 55.4h0.85M146.2 66.7h0.85M130.0 79.6h0.85M150.3 56.0h0.85M131.0 73.4h0.85M157.1 51.9h0.85M141.1 65.6h0.85M134.6 75.1h0.85M140.5 65.7h0.85M130.8 74.8h0.85M157.6 50.0h0.85M157.5 52.6h0.85M137.2 71.2h0.85M134.5 77.4h0.85M154.3 56.8h0.85M152.0 56.6h0.85M137.1 76.5h0.85M149.7 59.4h0.85M158.9 51.5h0.85M158.0 54.1h0.85M139.0 71.0h0.85M131.8 75.2h0.85M134.3 75.2h0.85M130.3 76.6h0.85M136.0 69.6h0.85M131.0 73.8h0.85M137.4 67.8h0.85M155.9 51.4h0.85M153.7 53.3h0.85M139.2 69.8h0.85M158.5 51.8h0.85M150.2 63.6h0.85M131.1 85.7h0.85M131.4 74.6h0.85M139.4 68.8h0.85M142.2 63.7h0.85M130.6 81.1h0.85M133.2 74.4h0.85M142.1 73.8h0.85M130.5 77.3h0.85M152.9 54.3h0.85M155.5 53.7h0.85M151.0 58.8h0.85M140.4 66.1h0.85M161.8 69.0h0.85M147.4 59.5h0.85M144.8 63.6h0.85M157.3 52.8h0.85M136.8 72.3h0.85M129.8 77.7h0.85M130.0 76.8h0.85M145.0 67.4h0.85M140.5 73.1h0.85M155.9 53.4h0.85M129.9 80.1h0.85M132.1 77.0h0.85M138.4 72.1h0.85M153.9 59.2h0.85M136.0 70.0h0.85M131.1 77.0h0.85M132.8 75.7h0.85M143.8 68.5h0.85M153.9 55.3h0.85M146.1 63.4h0.85M144.0 62.8h0.85M134.4 92.7h0.85M151.6 56.1h0.85M145.8 61.8h0.85M140.1 73.8h0.85M136.7 73.2h0.85M136.5 70.3h0.85M130.5 79.6h0.85M152.3 58.8h0.85M152.2 54.6h0.85M130.5 78.7h0.85M155.5 54.5h0.85M149.7 66.2h0.85M151.4 55.0h0.85M138.8 69.2h0.85M132.9 75.8h0.85M140.2 68.5h0.85M135.5 77.0h0.85M138.1 68.9h0.85M141.8 64.6h0.85M146.3 66.9h0.85M131.1 76.1h0.85M130.4 78.5h0.85M150.6 64.1h0.85M134.1 71.4h0.85M145.7 61.1h0.85M138.9 66.1h0.85M156.4 63.3h0.85M154.1 53.1h0.85M155.5 55.1h0.85M149.5 57.2h0.85M154.1 53.8h0.85M133.0 74.6h0.85M148.8 65.0h0.85M152.9 58.2h0.85M132.6 71.8h0.85M158.0 50.2h0.85M137.3 67.4h0.85M156.6 50.9h0.85M158.3 49.6h0.85M145.0 66.5h0.85M147.6 62.4h0.85M141.3 64.4h0.85M152.5 59.7h0.85M157.7 49.8h0.85M152.5 56.7h0.85M136.6 75.4h0.85M153.3 53.8h0.85M156.7 53.1h0.85M145.6 61.3h0.85M155.3 54.4h0.85M133.3 71.4h0.85M142.2 64.4h0.85M139.1 67.6h0.85M145.5 65.1h0.85M134.9 79.0h0.85M145.6 61.1h0.85M137.5 78.6h0.85M147.2 59.8h0.85M133.4 81.3h0.85M155.9 52.7h0.85M129.6 74.1h0.85M142.1 65.2h0.85M149.0 57.5h0.85M135.2 70.0h0.85M139.0 66.7h0.85M151.4 59.2h0.85M139.8 65.9h0.85M140.4 68.6h0.85M144.4 63.8h0.85M145.4 60.4h0.85M155.4 53.0h0.85M150.9 56.3h0.85M130.7 74.2h0.85M140.0 68.2h0.85M142.4 65.0h0.85M153.3 54.2h0.85M138.6 68.3h0.85M134.9 71.7h0.85M146.9 64.4h0.85M138.2 69.3h0.85M137.0 75.9h0.85M144.9 61.6h0.85M146.0 66.1h0.85M156.5 56.3h0.85M144.5 61.3h0.85M140.1 65.6h0.85M150.8 58.9h0.85M149.4 59.6h0.85M152.1 60.1h0.85M140.3 65.6h0.85M136.7 76.4h0.85M141.2 68.5h0.85M145.6 64.2h0.85M141.0 64.7h0.85M135.6 68.8h0.85M136.5 69.5h0.85M153.4 55.5h0.85M132.7 81.1h0.85M144.8 61.7h0.85M153.7 57.2h0.85M141.0 64.1h0.85M134.0 80.2h0.85M130.7 73.9h0.85M155.2 51.8h0.85M129.8 77.3h0.85M145.2 67.4h0.85M138.5 68.6h0.85M131.4 80.5h0.85M145.2 68.6h0.85M158.8 53.0h0.85M132.8 72.4h0.85M156.7 52.4h0.85M146.7 61.8h0.85M133.6 73.1h0.85M134.5 70.9h0.85M143.3 66.2h0.85M140.8 64.7h0.85M139.7 68.4h0.85M159.4 55.6h0.85M152.2 62.3h0.85M154.8 53.9h0.85M141.4 68.4h0.85M157.2 53.9h0.85M138.2 70.3h0.85M130.9 73.7h0.85M146.9 59.5h0.85M130.0 74.6h0.85M143.5 62.1h0.85M132.7 74.3h0.85M154.3 56.5h0.85M154.9 52.3h0.85M129.7 78.5h0.85M139.8 68.7h0.85M142.5 73.7h0.85M149.8 58.2h0.85M153.8 56.4h0.85M131.1 74.0h0.85M132.8 81.4h0.85M140.5 68.5h0.85M139.6 65.5h0.85M156.2 50.8h0.85M134.4 70.0h0.85M141.5 64.1h0.85M150.8 60.6h0.85M130.1 75.2h0.85M131.8 76.5h0.85M158.4 48.8h0.85M134.0 74.3h0.85M142.2 66.3h0.85M132.7 75.7h0.85M139.6 66.4h0.85M135.1 69.4h0.85M156.9 50.5h0.85M145.7 64.7h0.85M135.3 72.5h0.85M150.6 61.6h0.85M136.5 71.0h0.85M151.5 61.0h0.85M146.2 63.1h0.85M156.8 53.0h0.85M133.6 73.1h0.85M144.8 61.3h0.85M156.8 55.7h0.85M148.1 65.9h0.85M142.7 63.0h0.85M134.7 70.9h0.85M157.7 52.4h0.85M132.7 84.4h0.85M136.8 72.5h0.85M155.6 52.1h0.85M142.4 65.9h0.85M135.1 72.1h0.85M135.9 79.7h0.85M140.4 68.2h0.85M155.9 52.3h0.85M144.0 62.4h0.85M135.7 72.0h0.85M158.7 51.2h0.85M132.7 73.3h0.85M144.6 63.7h0.85M158.5 52.3h0.85M135.1 77.2h0.85M142.5 64.6h0.85M149.8 60.1h0.85M139.0 70.8h0.85M147.6 64.2h0.85M157.4 51.8h0.85M143.9 62.9h0.85M131.8 76.6h0.85M153.3 54.6h0.85M143.4 63.9h0.85M134.7 70.8h0.85M140.7 64.9h0.85M144.8 65.0h0.85M130.0 75.9h0.85M155.9 51.7h0.85M145.1 62.9h0.85M134.6 78.5h0.85M133.2 71.0h0.85M135.6 75.1h0.85M145.5 61.9h0.85M132.2 72.5h0.85M154.2 53.0h0.85M132.6 80.1h0.85M157.6 56.5h0.85M151.6 56.0h0.85M151.0 56.4h0.85M133.7 81.2h0.85M140.0 67.6h0.85M151.6 60.2h0.85M145.6 61.9h0.85M152.2 54.6h0.85M142.2 65.0h0.85M134.7 73.5h0.85M157.2 50.4h0.85M134.7 74.1h0.85M148.9 64.4h0.85M136.4 71.3h0.85M154.5 54.9h0.85M137.0 68.6h0.85M150.6 59.8h0.85M140.8 69.4h0.85M131.8 79.1h0.85M135.0 71.0h0.85M144.2 67.2h0.85M144.1 67.7h0.85M153.1 56.6h0.85M155.4 55.3h0.85M151.3 61.5h0.85M153.8 57.8h0.85M136.8 69.1h0.85M132.2 75.1h0.85M152.3 55.2h0.85M155.1 53.3h0.85M150.4 57.5h0.85M156.5 50.5h0.85M162.5 54.8h0.85M156.0 66.0h0.85M132.7 79.6h0.85M155.0 57.6h0.85M145.5 64.9h0.85M154.7 55.8h0.85M151.8 60.4h0.85M137.5 81.5h0.85M132.8 78.5h0.85M150.9 59.0h0.85M154.5 56.4h0.85M129.9 79.1h0.85M151.0 59.1h0.85M141.5 69.1h0.85M132.0 73.0h0.85M134.2 71.3h0.85M142.2 63.7h0.85M147.2 73.3h0.85M135.9 69.9h0.85M137.4 68.2h0.85M131.9 85.4h0.85M140.7 64.3h0.85M129.9 77.6h0.85M157.3 52.8h0.85M131.4 79.0h0.85M145.6 64.1h0.85M138.1 69.7h0.85M155.9 51.5h0.85M157.9 53.2h0.85M157.3 50.1h0.85M129.9 76.0h0.85M150.9 59.0h0.85M138.4 69.4h0.85M130.3 75.0h0.85M155.2 60.0h0.85M158.8 50.2h0.85M154.7 52.1h0.85M154.4 56.2h0.85M147.2 59.6h0.85M151.5 60.7h0.85M147.1 63.9h0.85M130.2 74.7h0.85M141.8 67.6h0.85M130.6 80.5h0.85M131.7 72.9h0.85M137.6 69.0h0.85M134.9 69.8h0.85M148.6 60.3h0.85M143.9 66.6h0.85M154.8 53.9h0.85M153.0 58.6h0.85M136.1 70.5h0.85M152.9 56.0h0.85M134.2 77.6h0.85M154.2 53.0h0.85M145.8 62.9h0.85M146.3 61.1h0.85M137.3 73.0h0.85M147.0 61.4h0.85M142.8 68.7h0.85M154.1 54.1h0.85M157.4 50.7h0.85M134.7 80.2h0.85M130.3 75.6h0.85M140.1 70.8h0.85M156.1 53.8h0.85M146.2 64.2h0.85M131.5 82.6h0.85M156.6 57.2h0.85M135.6 76.1h0.85M156.7 50.3h0.85M138.9 70.2h0.85M150.2 56.8h0.85M155.1 52.8h0.85M143.7 73.9h0.85M130.5 83.5h0.85M148.7 58.0h0.85M156.6 53.7h0.85M138.0 76.1h0.85M152.1 56.6h0.85M130.0 76.1h0.85M144.0 61.8h0.85M158.3 52.9h0.85M130.4 81.4h0.85M132.1 75.3h0.85M136.6 70.1h0.85M141.2 66.5h0.85M131.2 79.4h0.85M158.2 50.2h0.85M145.5 62.9h0.85M147.5 58.7h0.85M132.8 73.1h0.85M137.5 74.4h0.85M152.7 55.2h0.85M137.0 70.5h0.85M155.6 53.7h0.85M130.1 76.4h0.85M137.1 73.4h0.85M133.8 78.4h0.85M133.7 75.5h0.85M147.6 63.4h0.85M137.8 72.3h0.85M130.2 77.6h0.85M139.1 67.3h0.85M142.4 65.7h0.85M134.1 72.9h0.85M135.1 76.8h0.85M148.2 67.1h0.85M145.0 62.6h0.85M154.8 52.9h0.85M148.4 58.2h0.85M156.6 51.1h0.85M163.4 50.5h0.85M132.3 76.8h0.85M144.3 73.0h0.85M142.4 64.8h0.85M149.6 64.2h0.85M154.2 55.0h0.85M139.9 66.6h0.85M154.4 54.1h0.85M131.6 86.5h0.85M144.4 65.4h0.85M144.1 67.3h0.85M133.6 71.0h0.85M136.9 69.3h0.85M141.1 65.1h0.85M147.1 60.8h0.85M137.6 72.7h0.85M158.8 49.7h0.85M139.7 68.1h0.85M140.0 66.7h0.85M149.2 76.5h0.85M140.1 67.7h0.85M137.3 71.2h0.85M157.2 50.1h0.85M145.6 64.9h0.85M141.2 67.3h0.85M153.4 59.9h0.85M150.9 55.7h0.85M146.1 62.5h0.85M134.8 72.2h0.85M155.6 53.9h0.85M147.7 64.0h0.85M150.0 57.9h0.85M157.8 52.0h0.85M135.0 76.9h0.85M154.1 56.7h0.85M152.4 60.5h0.85M157.7 52.9h0.85M133.8 76.3h0.85M136.6 77.0h0.85M142.7 64.3h0.85M153.6 57.5h0.85M151.7 56.1h0.85M153.1 53.9h0.85M133.4 73.4h0.85M140.3 76.7h0.85M149.7 58.6h0.85M159.0 51.7h0.85M134.5 72.3h0.85M137.8 71.0h0.85M140.1 69.1h0.85M133.2 78.2h0.85M129.8 85.2h0.85M149.0 63.3h0.85M145.8 64.7h0.85M149.7 62.2h0.85M131.3 73.2h0.85M146.7 60.3h0.85M147.5 61.1h0.85M141.5 71.3h0.85M139.8 65.4h0.85M159.8 49.6h0.85M145.7 62.8h0.85M155.5 53.6h0.85M139.1 65.8h0.85M136.1 75.1h0.85M129.7 82.1h0.85M136.2 73.5h0.85M139.9 68.6h0.85M156.4 52.9h0.85M143.9 62.6h0.85M131.9 73.1h0.85M141.7 66.6h0.85M142.6 65.8h0.85M136.9 75.1h0.85M151.4 56.9h0.85M140.1 71.1h0.85M151.4 58.7h0.85M140.4 67.8h0.85M155.1 54.0h0.85M139.9 70.7h0.85M153.4 61.5h0.85M146.0 61.9h0.85M148.6 61.4h0.85M139.2 76.4h0.85M143.2 67.7h0.85M147.1 62.2h0.85M131.2 85.3h0.85M136.4 71.9h0.85M150.5 57.7h0.85M153.5 54.0h0.85M146.4 65.0h0.85M138.1 67.5h0.85M155.1 52.3h0.85M153.3 54.4h0.85M144.7 62.7h0.85M153.5 57.2h0.85M133.1 72.0h0.85M157.4 50.8h0.85M131.7 78.3h0.85M132.8 79.4h0.85M145.1 64.8h0.85M135.6 72.5h0.85M144.6 65.2h0.85M150.1 58.9h0.85M139.7 69.9h0.85M140.0 65.9h0.85M142.7 65.2h0.85M152.1 54.4h0.85M134.6 82.9h0.85M135.8 77.1h0.85M146.9 66.9h0.85M149.4 58.0h0.85M154.2 60.7h0.85M140.0 68.2h0.85M130.2 79.1h0.85M137.1 82.8h0.85M145.7 63.8h0.85M136.5 71.4h0.85M158.7 54.7h0.85M132.5 74.5h0.85M152.7 54.4h0.85M134.9 70.7h0.85M146.7 59.5h0.85M134.4 84.3h0.85M137.6 68.9h0.85M138.5 67.4h0.85M150.6 56.2h0.85M158.0 50.6h0.85M149.1 61.3h0.85M155.4 54.8h0.85M137.0 67.7h0.85M156.6 53.4h0.85M151.5 56.0h0.85M133.8 77.7h0.85M149.7 66.4h0.85M131.2 77.7h0.85M136.7 69.5h0.85M148.6 72.9h0.85M139.6 68.0h0.85M157.5 49.7h0.85M155.4 53.7h0.85M156.5 51.9h0.85M130.9 78.3h0.85M150.3 58.5h0.85M137.9 70.4h0.85M132.7 75.0h0.85M141.5 68.0h0.85M141.2 68.5h0.85M135.6 71.5h0.85M130.6 74.0h0.85M135.4 76.8h0.85M158.3 52.8h0.85M143.8 66.1h0.85M139.7 66.1h0.85M155.3 53.5h0.85M150.8 59.4h0.85M139.2 76.3h0.85M153.3 57.7h0.85M135.9 72.6h0.85M138.4 69.0h0.85M147.7 58.6h0.85M154.9 57.1h0.85M145.7 65.2h0.85M134.4 70.4h0.85M140.4 68.2h0.85M149.3 65.8h0.85M133.5 72.1h0.85M147.1 69.5h0.85M153.5 55.8h0.85M130.1 74.5h0.85M141.1 65.3h0.85M142.0 66.4h0.85M149.9 62.7h0.85M142.5 66.4h0.85M137.7 68.0h0.85M160.5 66.2h0.85M133.0 71.2h0.85M156.0 51.0h0.85M157.7 50.6h0.85M154.0 76.1h0.85M147.6 65.3h0.85M155.3 60.0h0.85M133.7 71.0h0.85M130.7 73.4h0.85M131.4 76.1h0.85M138.9 67.7h0.85M148.4 59.0h0.85M133.0 82.1h0.85M157.1 50.3h0.85M150.0 60.5h0.85M130.5 74.1h0.85M130.1 87.7h0.85M140.9 68.3h0.85M142.9 66.7h0.85M152.9 53.9h0.85M136.6 68.4h0.85M146.7 63.6h0.85M157.6 50.9h0.85M145.8 62.3h0.85M141.0 66.2h0.85M137.1 70.2h0.85M148.8 58.6h0.85M152.5 60.5h0.85M138.8 76.1h0.85M136.2 71.4h0.85M155.3 54.1h0.85M139.1 73.2h0.85M135.7 74.3h0.85M135.6 69.6h0.85M138.1 67.0h0.85M146.6 61.6h0.85M145.1 63.8h0.85M134.8 77.2h0.85M143.8 62.4h0.85M134.3 74.0h0.85M139.7 71.0h0.85M132.6 72.2h0.85M148.5 57.8h0.85M151.6 60.2h0.85M141.1 65.4h0.85M135.6 83.6h0.85M136.3 78.6h0.85M153.9 52.9h0.85M149.5 64.0h0.85M139.2 67.4h0.85M154.0 53.4h0.85M150.1 58.5h0.85M154.3 56.9h0.85M148.3 65.1h0.85M133.7 72.4h0.85M136.6 76.3h0.85M153.1 54.2h0.85M148.4 58.5h0.85M146.7 60.9h0.85M158.7 51.3h0.85M151.0 59.2h0.85M129.8 84.7h0.85M151.1 56.7h0.85M132.5 74.9h0.85M138.7 70.0h0.85M131.8 76.6h0.85M137.1 71.4h0.85M134.5 70.3h0.85M139.0 69.9h0.85M158.7 49.7h0.85M129.6 76.0h0.85M148.0 58.7h0.85M150.1 57.5h0.85M133.6 76.8h0.85M144.9 61.8h0.85M149.3 69.2h0.85M141.6 67.3h0.85M136.9 69.1h0.85M146.5 66.4h0.85M154.6 52.2h0.85M137.9 71.1h0.85M135.3 84.1h0.85M135.6 75.1h0.85M141.4 69.5h0.85M131.7 76.0h0.85M139.6 69.8h0.85M138.3 67.4h0.85M132.6 82.6h0.85M131.4 77.5h0.85M131.6 78.9h0.85M155.6 51.4h0.85M143.0 68.2h0.85M139.1 67.2h0.85M132.5 81.2h0.85M136.1 74.5h0.85M143.7 65.9h0.85M132.5 80.2h0.85M138.8 71.4h0.85M143.2 71.3h0.85M158.4 52.2h0.85M129.9 79.4h0.85M148.5 60.4h0.85M148.4 58.6h0.85M145.3 61.3h0.85M155.1 52.4h0.85M134.8 71.5h0.85M150.3 61.7h0.85M135.9 71.6h0.85M136.7 72.7h0.85M151.6 56.3h0.85M157.5 51.0h0.85M155.8 57.6h0.85M156.9 51.7h0.85M155.3 55.4h0.85M145.5 66.0h0.85M144.4 70.7h0.85M135.5 69.8h0.85M151.7 56.6h0.85M152.5 54.8h0.85M132.2 77.0h0.85M153.1 57.1h0.85M145.3 67.4h0.85M132.6 73.1h0.85M150.9 55.7h0.85M135.4 71.7h0.85M150.8 57.2h0.85M134.6 71.9h0.85M139.2 71.0h0.85M145.6 66.6h0.85M147.5 65.6h0.85M154.0 58.2h0.85M132.9 76.2h0.85M157.1 54.7h0.85M151.4 56.3h0.85M130.6 78.6h0.85M156.5 53.5h0.85M145.6 62.3h0.85M146.4 63.0h0.85M134.5 72.6h0.85M134.6 75.7h0.85M154.5 57.5h0.85M131.0 81.9h0.85M153.3 56.4h0.85M140.7 72.0h0.85M146.6 66.4h0.85M142.8 64.9h0.85M150.3 59.5h0.85M142.3 68.3h0.85M154.6 53.7h0.85M141.7 66.9h0.85M131.7 75.6h0.85M138.2 68.4h0.85M138.7 67.1h0.85M129.8 74.8h0.85M146.3 67.5h0.85M138.6 71.5h0.85M142.7 66.4h0.85M153.3 57.4h0.85M153.6 56.9h0.85M155.7 52.1h0.85M149.8 57.3h0.85M144.8 64.4h0.85M131.1 76.9h0.85M137.8 78.2h0.85M144.3 66.4h0.85M155.1 54.2h0.85M136.4 72.4h0.85M131.0 82.3h0.85M151.4 57.4h0.85M132.6 78.4h0.85M150.6 56.6h0.85M137.8 67.3h0.85M155.3 52.0h0.85M130.1 84.2h0.85M129.8 78.8h0.85M151.3 55.4h0.85M134.8 70.6h0.85M153.2 53.5h0.85M151.5 64.3h0.85M145.5 62.4h0.85M139.3 66.6h0.85M138.4 66.5h0.85M148.3 62.4h0.85M130.0 74.2h0.85M141.8 63.7h0.85M144.7 61.4h0.85M156.1 53.1h0.85M144.5 61.0h0.85M146.0 60.2h0.85M148.7 61.6h0.85M132.8 73.4h0.85M149.7 63.0h0.85M158.2 49.6h0.85M155.2 52.9h0.85M157.8 51.0h0.85M135.1 76.6h0.85M144.8 62.3h0.85M149.2 59.8h0.85M143.1 64.2h0.85M159.0 51.2h0.85M151.5 55.6h0.85M132.4 78.6h0.85M135.3 72.6h0.85M153.6 56.5h0.85M131.6 73.2h0.85M147.1 62.7h0.85M141.4 65.7h0.85M138.5 71.3h0.85M158.6 49.2h0.85M136.9 72.3h0.85M131.4 77.2h0.85M152.5 56.1h0.85M154.1 52.7h0.85M136.2 69.2h0.85M145.7 60.2h0.85M152.5 56.6h0.85M135.9 72.8h0.85M136.6 71.4h0.85M132.1 77.9h0.85M144.4 70.1h0.85M147.3 61.3h0.85M137.5 68.4h0.85M140.5 71.2h0.85M150.8 57.6h0.85M139.1 67.2h0.85M134.6 76.4h0.85M144.5 62.4h0.85M157.1 51.8h0.85M137.1 68.4h0.85M143.4 67.7h0.85M136.2 73.4h0.85M148.5 57.6h0.85M131.5 74.2h0.85M130.9 88.7h0.85M137.2 69.0h0.85M145.0 64.2h0.85M139.0 69.5h0.85M149.0 63.7h0.85M155.3 52.2h0.85M133.2 78.3h0.85M152.6 59.8h0.85M150.5 62.2h0.85M154.6 57.2h0.85M157.1 52.6h0.85M145.7 61.1h0.85M147.6 58.6h0.85M148.9 57.5h0.85M151.9 54.5h0.85M156.0 54.4h0.85M133.4 81.2h0.85M149.7 59.6h0.85M148.2 60.8h0.85M130.3 87.0h0.85M131.6 84.8h0.85M151.5 55.0h0.85M148.5 57.9h0.85M148.1 62.7h0.85M153.6 66.6h0.85M145.0 60.7h0.85M130.1 76.8h0.85M152.4 58.1h0.85M141.8 68.3h0.85M145.3 62.4h0.85M154.4 58.4h0.85M129.7 84.4h0.85M148.8 62.9h0.85M156.0 55.1h0.85M137.2 80.7h0.85M146.1 59.7h0.85M154.1 54.9h0.85M130.1 82.2h0.85M134.1 75.2h0.85M151.6 55.9h0.85M147.0 59.2h0.85M131.2 75.4h0.85M147.0 63.6h0.85M145.9 61.3h0.85M153.9 56.3h0.85M153.0 57.8h0.85M130.4 74.8h0.85M152.5 54.2h0.85M149.4 60.6h0.85M145.8 66.5h0.85M144.4 64.3h0.85M144.5 63.0h0.85M130.3 73.8h0.85M135.4 69.0h0.85M152.7 55.7h0.85M138.7 69.9h0.85M152.7 54.5h0.85M143.1 64.3h0.85M130.4 78.8h0.85M131.2 81.4h0.85M134.5 74.4h0.85M130.0 85.1h0.85M133.9 71.1h0.85M144.5 62.9h0.85M131.4 76.3h0.85M156.6 50.6h0.85M153.8 53.7h0.85M133.6 77.8h0.85M140.9 68.2h0.85M130.8 88.4h0.85M143.5 62.8h0.85M129.6 74.9h0.85M158.8 49.7h0.85M151.1 64.8h0.85M150.7 58.8h0.85M130.5 73.9h0.85M139.2 71.4h0.85M157.2 51.7h0.85M152.0 63.8h0.85M133.2 73.6h0.85M147.4 65.6h0.85M156.9 52.3h0.85M138.2 70.9h0.85M142.5 64.7h0.85M136.0 70.4h0.85M130.4 80.5h0.85M146.2 69.1h0.85M136.9 72.6h0.85M135.7 68.9h0.85M155.7 52.7h0.85M155.3 55.8h0.85M134.1 73.5h0.85M155.3 54.1h0.85M132.4 78.7h0.85M143.0 63.8h0.85M133.4 72.7h0.85M158.4 50.7h0.85M155.7 52.9h0.85M154.6 52.4h0.85M158.1 52.7h0.85M134.1 70.8h0.85M129.9 86.7h0.85M138.3 75.7h0.85M155.2 56.2h0.85M151.4 59.5h0.85M158.7 49.5h0.85M158.8 51.5h0.85M130.9 74.2h0.85M157.3 50.8h0.85M141.5 66.8h0.85M129.8 75.4h0.85M146.7 60.2h0.85M149.6 61.4h0.85M140.9 68.9h0.85M147.4 62.2h0.85M130.2 76.7h0.85M152.3 56.7h0.85M149.9 63.6h0.85M136.0 75.2h0.85M144.7 61.2h0.85M157.1 51.8h0.85M154.8 52.9h0.85M130.5 78.0h0.85M133.7 71.0h0.85M155.1 54.1h0.85M154.9 51.8h0.85M131.5 76.9h0.85M145.8 60.5h0.85M139.9 65.4h0.85M152.8 57.3h0.85M130.4 77.8h0.85M149.0 61.9h0.85M150.3 59.9h0.85M152.1 56.0h0.85M149.8 58.8h0.85M135.0 74.4h0.85M159.0 52.0h0.85M154.4 53.1h0.85M148.9 60.8h0.85M136.0 73.4h0.85M133.4 72.2h0.85M158.2 52.3h0.85M134.3 77.2h0.85M154.0 55.6h0.85M148.3 58.4h0.85M150.3 61.5h0.85M140.0 70.5h0.85M138.4 70.8h0.85M151.7 56.6h0.85M138.6 67.0h0.85M134.8 77.8h0.85M131.9 93.9h0.85M134.8 70.5h0.85M135.9 75.4h0.85M143.9 61.6h0.85M157.8 53.4h0.85M130.1 81.9h0.85M143.9 62.0h0.85M138.1 71.8h0.85M131.3 78.4h0.85M138.0 71.9h0.85M142.2 67.4h0.85M133.1 74.4h0.85M130.2 76.0h0.85M139.9 70.9h0.85M130.4 73.8h0.85M146.7 59.7h0.85M130.5 82.2h0.85M131.2 81.8h0.85M142.8 66.6h0.85M151.3 59.6h0.85M156.6 56.3h0.85M137.5 68.0h0.85M130.7 74.1h0.85M131.7 73.7h0.85M142.2 64.5h0.85M143.9 62.1h0.85M157.0 51.4h0.85M151.3 57.5h0.85M137.7 72.2h0.85M136.1 77.1h0.85M142.3 65.6h0.85M156.4 59.7h0.85M158.1 50.2h0.85M133.7 79.8h0.85M147.1 61.7h0.85M135.3 79.5h0.85M134.2 75.6h0.85M139.9 67.4h0.85M133.7 76.9h0.85M131.8 80.2h0.85M142.1 66.8h0.85M146.7 61.3h0.85M149.8 58.6h0.85M149.3 58.4h0.85M131.6 78.8h0.85M133.0 73.4h0.85M157.9 49.6h0.85M135.6 70.2h0.85M133.8 70.9h0.85M150.0 64.2h0.85M148.4 62.6h0.85M135.6 71.9h0.85M155.4 52.3h0.85M142.5 63.0h0.85M143.6 64.8h0.85M152.5 54.6h0.85M133.6 75.9h0.85M133.7 74.9h0.85M154.0 56.2h0.85M143.9 70.0h0.85M137.5 68.2h0.85M153.6 53.0h0.85M141.9 75.7h0.85M140.7 66.4h0.85M137.5 69.9h0.85M145.0 62.6h0.85M140.4 66.4h0.85M144.1 66.8h0.85M145.9 61.5h0.85M131.6 74.8h0.85M130.9 77.5h0.85M132.8 78.7h0.85M138.8 68.2h0.85M148.6 59.2h0.85M144.0 70.0h0.85M155.0 51.9h0.85M146.2 60.5h0.85M154.7 54.3h0.85M157.4 52.0h0.85M136.0 71.0h0.85M147.0 58.8h0.85M140.6 73.7h0.85M149.7 60.1h0.85M134.5 75.5h0.85M130.7 78.2h0.85M145.5 65.5h0.85M146.2 61.0h0.85M144.5 63.1h0.85M139.4 72.5h0.85M155.8 58.0h0.85M134.9 80.3h0.85M136.6 70.7h0.85M138.7 68.1h0.85M140.3 71.2h0.85M135.4 70.9h0.85M136.9 74.0h0.85M137.1 73.7h0.85M132.7 76.9h0.85M131.5 77.1h0.85M149.7 59.8h0.85M150.5 59.9h0.85M147.7 58.3h0.85M130.4 76.1h0.85M134.6 71.4h0.85M143.4 67.7h0.85M144.2 68.6h0.85M147.1 61.1h0.85M156.0 57.9h0.85M139.9 67.8h0.85M144.1 70.0h0.85M157.6 55.5h0.85M129.8 86.5h0.85M158.7 50.3h0.85M139.7 67.6h0.85M135.4 78.2h0.85M148.7 63.9h0.85M135.6 70.1h0.85M146.7 62.1h0.85M130.3 74.3h0.85M137.9 72.7h0.85M138.7 70.4h0.85M135.8 71.9h0.85M138.5 69.9h0.85M140.2 67.7h0.85M138.7 70.7h0.85M142.1 68.7h0.85M149.1 58.7h0.85M143.7 62.9h0.85M129.9 79.9h0.85M146.5 62.7h0.85M156.8 50.3h0.85M140.0 66.0h0.85M139.3 78.7h0.85M138.9 71.5h0.85M134.6 72.2h0.85M152.6 62.1h0.85M140.3 68.1h0.85M158.0 51.6h0.85M140.3 66.3h0.85M140.8 67.9h0.85M130.1 76.7h0.85M130.2 78.8h0.85M152.8 60.1h0.85M149.4 59.2h0.85M153.5 53.3h0.85M150.7 56.8h0.85M146.8 68.4h0.85M139.5 71.2h0.85M153.9 54.8h0.85M142.6 66.2h0.85M140.8 65.4h0.85M136.2 68.7h0.85M154.1 55.4h0.85M137.9 73.6h0.85M151.4 56.8h0.85M155.1 55.2h0.85M143.7 70.2h0.85M147.7 60.1h0.85M141.6 70.1h0.85M130.8 75.1h0.85M130.6 75.0h0.85M130.0 75.2h0.85M130.6 74.5h0.85M131.3 82.2h0.85M156.6 53.3h0.85M143.6 67.3h0.85M144.8 62.5h0.85M142.9 64.2h0.85M138.6 70.6h0.85M130.3 74.0h0.85M142.7 65.3h0.85M154.2 54.5h0.85M137.9 66.9h0.85M154.3 58.7h0.85M131.1 78.0h0.85M138.9 66.9h0.85M136.5 74.7h0.85M152.4 54.8h0.85M136.4 69.7h0.85M145.0 69.4h0.85M133.3 74.8h0.85M139.8 67.3h0.85M136.3 69.0h0.85M149.0 59.0h0.85M147.2 60.5h0.85M138.7 71.8h0.85M132.0 72.9h0.85M134.5 80.5h0.85M131.9 85.0h0.85M148.2 66.5h0.85M145.0 63.1h0.85M133.1 74.7h0.85M130.1 77.6h0.85M133.5 82.8h0.85M140.1 69.7h0.85M129.9 82.7h0.85M135.7 73.2h0.85M132.8 78.7h0.85M140.2 66.1h0.85M130.1 77.8h0.85M132.6 76.8h0.85M143.9 61.8h0.85M156.4 58.6h0.85M140.6 69.4h0.85M131.7 78.5h0.85M149.0 60.6h0.85M145.8 61.2h0.85M154.9 52.3h0.85M149.4 62.7h0.85M141.5 67.9h0.85M140.6 67.7h0.85M141.5 65.5h0.85M138.5 68.3h0.85M153.2 58.2h0.85M149.2 60.3h0.85M130.4 77.5h0.85M154.5 55.6h0.85M137.2 68.9h0.85M136.2 71.6h0.85M138.6 70.6h0.85M150.1 63.8h0.85M150.0 59.8h0.85M151.0 61.4h0.85M134.4 75.1h0.85M151.8 62.7h0.85M155.0 57.3h0.85M153.1 56.9h0.85M139.9 68.6h0.85M155.5 51.4h0.85M137.9 77.3h0.85M158.3 49.8h0.85M158.9 50.9h0.85M156.4 53.5h0.85M148.5 59.5h0.85M142.0 68.3h0.85M147.3 62.1h0.85M141.1 65.9h0.85M133.0 75.5h0.85M155.3 53.5h0.85M153.8 54.9h0.85M158.8 49.4h0.85M157.0 50.4h0.85M158.6 52.0h0.85M142.9 68.7h0.85M131.8 75.4h0.85M130.7 79.5h0.85M157.7 50.5h0.85M158.6 48.6h0.85M135.7 74.2h0.85M133.1 72.5h0.85M157.8 52.1h0.85M130.2 78.9h0.85M159.0 49.4h0.85M150.8 55.9h0.85M161.9 49.6h0.85M140.7 68.0h0.85M146.9 60.6h0.85M135.6 69.6h0.85M131.3 78.7h0.85M135.4 76.2h0.85M154.5 55.9h0.85M141.8 70.3h0.85M137.1 70.5h0.85M142.4 68.4h0.85M129.9 85.5h0.85M133.8 71.9h0.85M147.1 72.4h0.85M139.7 69.8h0.85M150.3 63.4h0.85M149.5 61.0h0.85M132.3 77.6h0.85M155.4 53.4h0.85M134.4 72.3h0.85M152.9 56.6h0.85M158.0 50.2h0.85M136.8 68.2h0.85M147.3 59.9h0.85M154.3 53.4h0.85M134.1 74.9h0.85M132.7 79.9h0.85M146.4 65.5h0.85M145.2 67.3h0.85M135.1 70.5h0.85M143.8 63.3h0.85M148.7 64.9h0.85M141.3 65.0h0.85M146.9 61.5h0.85M156.8 51.8h0.85M152.9 53.8h0.85M131.7 85.9h0.85M146.3 59.7h0.85M148.3 60.1h0.85M137.5 75.7h0.85M155.6 51.3h0.85M150.6 61.6h0.85M149.5 59.9h0.85M159.5 53.6h0.85M158.4 53.8h0.85M157.4 54.2h0.85M142.0 68.2h0.85M138.9 72.1h0.85M157.9 51.1h0.85M152.7 56.3h0.85M137.8 71.6h0.85M137.8 69.5h0.85M156.4 51.2h0.85M156.1 56.1h0.85M147.0 63.3h0.85M133.0 79.0h0.85M135.0 71.8h0.85M151.6 54.9h0.85M153.3 57.6h0.85M152.0 58.5h0.85M147.8 60.2h0.85M156.3 56.1h0.85M136.0 77.9h0.85M145.3 62.1h0.85M132.4 78.5h0.85M134.8 71.9h0.85M133.7 74.1h0.85M133.3 78.4h0.85M129.7 84.6h0.85M153.3 55.2h0.85M158.0 53.2h0.85M143.2 63.8h0.85M150.3 61.0h0.85M156.4 51.6h0.85M136.9 74.7h0.85M149.9 61.5h0.85M143.9 63.4h0.85M133.8 77.2h0.85M133.3 78.4h0.85M156.2 51.5h0.85M133.6 70.7h0.85M152.0 56.5h0.85M153.9 55.8h0.85M147.9 65.1h0.85M142.5 63.5h0.85M135.5 74.1h0.85M135.0 85.6h0.85M134.3 77.5h0.85M145.3 61.8h0.85M148.6 64.8h0.85M136.9 72.6h0.85M139.0 70.4h0.85M138.5 68.2h0.85M154.6 53.8h0.85M143.7 65.4h0.85M130.5 80.8h0.85M139.7 66.0h0.85M154.8 53.2h0.85M149.5 60.5h0.85M154.8 52.3h0.85M133.5 74.7h0.85M158.7 49.9h0.85M140.4 65.9h0.85M136.3 73.6h0.85M129.7 75.0h0.85M142.1 64.5h0.85M129.7 89.8h0.85M140.5 71.7h0.85M144.3 69.2h0.85M141.5 64.4h0.85M145.7 60.5h0.85M136.2 75.3h0.85M151.9 60.6h0.85M139.6 68.8h0.85M151.0 65.0h0.85M129.8 79.2h0.85M147.2 65.9h0.85M142.1 64.6h0.85M141.6 65.9h0.85M157.7 49.9h0.85M147.9 59.6h0.85M157.0 60.4h0.85M151.7 60.9h0.85M136.2 70.2h0.85M136.3 71.4h0.85M162.8 53.6h0.85M157.5 53.3h0.85M148.4 60.5h0.85M131.3 72.6h0.85M157.3 53.1h0.85M155.9 52.4h0.85M139.1 68.1h0.85M155.0 55.1h0.85M151.7 55.5h0.85M134.5 81.2h0.85M138.0 72.9h0.85M140.1 67.5h0.85M140.6 66.2h0.85M139.3 67.3h0.85M132.8 79.6h0.85M136.1 71.8h0.85M152.2 54.2h0.85M136.4 71.7h0.85M150.6 58.9h0.85M157.1 52.2h0.85M158.2 54.1h0.85M143.6 66.2h0.85M137.8 72.4h0.85M135.8 72.5h0.85M140.6 68.2h0.85M132.9 80.6h0.85M138.6 67.6h0.85M140.7 65.3h0.85M138.0 69.4h0.85M139.7 66.5h0.85M138.5 68.8h0.85M145.3 62.3h0.85M137.0 72.4h0.85M156.4 51.2h0.85M147.8 62.4h0.85M156.8 56.3h0.85M134.4 72.7h0.85M131.2 76.2h0.85M132.4 76.1h0.85M146.9 60.0h0.85M133.7 78.4h0.85M138.1 72.0h0.85M148.5 59.2h0.85M141.5 68.6h0.85M150.4 56.4h0.85M158.0 49.9h0.85M157.1 50.0h0.85M154.9 53.2h0.85M130.1 75.6h0.85M134.0 71.9h0.85M136.8 68.1h0.85M134.1 84.6h0.85M141.7 64.9h0.85M133.3 73.9h0.85M133.9 72.5h0.85M137.1 70.6h0.85M148.9 58.0h0.85M144.5 66.4h0.85M134.4 74.6h0.85M130.5 74.3h0.85M158.7 49.5h0.85M130.3 77.8h0.85M138.9 70.3h0.85M133.5 76.2h0.85M134.1 73.0h0.85M153.3 55.4h0.85M130.6 74.6h0.85M149.3 59.9h0.85M130.9 74.5h0.85M152.3 56.8h0.85M142.6 66.6h0.85M156.8 50.9h0.85M144.2 70.5h0.85M133.7 84.1h0.85M148.3 64.3h0.85M138.8 66.3h0.85M142.4 66.4h0.85M154.9 60.2h0.85M145.9 66.4h0.85M133.9 75.1h0.85M137.4 69.1h0.85M143.2 71.0h0.85M157.8 50.8h0.85M130.5 74.3h0.85M139.8 74.0h0.85M138.5 71.5h0.85M142.2 63.6h0.85M136.1 69.3h0.85M136.1 73.3h0.85M132.0 79.0h0.85M146.1 60.7h0.85M147.6 61.4h0.85M136.1 72.9h0.85M140.2 68.3h0.85M131.9 82.3h0.85M158.0 51.8h0.85M132.7 73.2h0.85M143.9 63.1h0.85M151.6 58.6h0.85M146.1 60.0h0.85M151.1 59.2h0.85M142.1 64.9h0.85M154.5 56.9h0.85M158.0 55.2h0.85M131.5 79.8h0.85M147.1 59.6h0.85M141.2 66.3h0.85M139.5 69.5h0.85M137.8 68.6h0.85M153.2 53.7h0.85M138.7 67.5h0.85M133.4 77.1h0.85M142.3 63.0h0.85M130.6 82.6h0.85M148.9 64.9h0.85M145.6 69.6h0.85M157.1 53.8h0.85M140.3 74.5h0.85M150.6 56.8h0.85M154.8 53.1h0.85M155.3 53.6h0.85M145.3 63.4h0.85M138.4 66.8h0.85M152.9 54.1h0.85M131.8 75.1h0.85M155.7 51.7h0.85M141.4 66.1h0.85M133.2 81.7h0.85M132.1 81.1h0.85M130.5 76.8h0.85M130.4 85.6h0.85M153.1 57.7h0.85M137.7 68.9h0.85M158.2 49.7h0.85M131.7 76.2h0.85M131.4 87.6h0.85M138.7 72.7h0.85M137.9 69.4h0.85M151.8 57.6h0.85M139.9 69.1h0.85M144.4 63.2h0.85M136.1 68.9h0.85M152.1 56.2h0.85M143.3 62.9h0.85M154.6 60.3h0.85M149.8 64.2h0.85M137.2 71.6h0.85M151.3 64.0h0.85M154.6 52.7h0.85M132.9 78.0h0.85M131.7 75.1h0.85M135.8 75.7h0.85M156.0 53.0h0.85M146.3 60.0h0.85M133.8 75.2h0.85M133.2 77.4h0.85M141.6 66.9h0.85M134.9 71.1h0.85M148.9 57.2h0.85M156.8 50.3h0.85M131.6 76.4h0.85M149.1 59.8h0.85M157.6 51.1h0.85M142.7 69.4h0.85M133.8 74.8h0.85M137.3 78.6h0.85M154.6 52.8h0.85M153.5 57.8h0.85M156.8 50.6h0.85M148.5 62.8h0.85M132.6 71.5h0.85M145.1 60.7h0.85M158.0 50.5h0.85M134.7 81.9h0.85M137.8 73.7h0.85M156.6 53.4h0.85M155.0 56.8h0.85M132.8 72.2h0.85M130.4 78.3h0.85M156.9 55.8h0.85M133.2 72.1h0.85M135.5 72.1h0.85M141.6 66.5h0.85M138.8 71.4h0.85M154.5 52.5h0.85M141.8 65.5h0.85M147.8 66.0h0.85M142.9 67.7h0.85M143.6 65.0h0.85M142.7 64.4h0.85M155.5 57.9h0.85M141.7 69.6h0.85M153.5 58.5h0.85M152.5 55.4h0.85M155.9 51.0h0.85M145.7 68.5h0.85M141.6 66.3h0.85M155.6 51.7h0.85M131.2 83.4h0.85M129.6 75.9h0.85M155.0 57.3h0.85M147.2 60.1h0.85M132.5 75.7h0.85M133.1 72.1h0.85M146.0 61.2h0.85M136.7 69.2h0.85M153.3 54.1h0.85M137.7 68.1h0.85M147.9 62.7h0.85M156.0 53.4h0.85M154.2 55.4h0.85M144.4 65.6h0.85M155.8 53.0h0.85M147.6 59.9h0.85M129.8 74.7h0.85M140.3 65.3h0.85M155.5 53.8h0.85M138.8 68.5h0.85M140.7 69.1h0.85M151.3 63.1h0.85M153.9 53.3h0.85M137.7 70.6h0.85M148.8 59.7h0.85M144.8 63.5h0.85M132.3 74.9h0.85M134.9 78.3h0.85M154.2 61.1h0.85M137.0 72.0h0.85M129.7 74.6h0.85M156.0 52.3h0.85M137.1 68.2h0.85M150.4 59.1h0.85M132.4 74.4h0.85M132.2 86.6h0.85M135.2 71.7h0.85M138.7 75.2h0.85M152.7 54.7h0.85M155.2 53.7h0.85M147.1 69.9h0.85M147.0 66.2h0.85M157.7 50.4h0.85M157.3 51.7h0.85M152.0 55.7h0.85M142.9 66.1h0.85M151.8 62.0h0.85M138.3 74.5h0.85M137.2 69.8h0.85M133.7 70.6h0.85M145.7 71.2h0.85M137.8 69.5h0.85M130.7 76.1h0.85M149.2 59.4h0.85M153.0 60.9h0.85M158.9 48.5h0.85M158.3 51.5h0.85M131.3 73.0h0.85M134.1 71.7h0.85M143.6 63.3h0.85M146.0 62.4h0.85M152.7 56.0h0.85M134.2 70.1h0.85M149.7 56.4h0.85M149.9 61.9h0.85M131.2 73.8h0.85M139.1 72.0h0.85M136.3 74.3h0.85M144.1 65.0h0.85M140.4 65.5h0.85M152.8 57.6h0.85M132.9 74.3h0.85M150.4 56.2h0.85M142.7 66.7h0.85M151.2 56.0h0.85M153.9 56.1h0.85M148.0 79.2h0.85M159.0 49.5h0.85M141.2 72.0h0.85M136.4 68.2h0.85M146.2 59.8h0.85M155.1 58.5h0.85M132.3 73.4h0.85M143.5 64.3h0.85M149.4 59.0h0.85M145.3 68.8h0.85M133.6 80.5h0.85M132.4 71.9h0.85M130.1 80.9h0.85M135.7 72.3h0.85M157.2 52.2h0.85M134.1 75.1h0.85M132.0 76.2h0.85M153.4 56.1h0.85M153.1 59.7h0.85M154.9 52.9h0.85M132.8 72.3h0.85M134.7 78.5h0.85M129.7 87.6h0.85M130.4 78.9h0.85M133.3 79.3h0.85M130.6 84.9h0.85M146.5 64.4h0.85M131.9 72.1h0.85M136.2 73.1h0.85M156.5 51.4h0.85M131.5 76.3h0.85M139.1 68.7h0.85M138.4 68.9h0.85M138.3 69.6h0.85M132.4 73.5h0.85M144.7 61.0h0.85M135.2 70.7h0.85M154.1 57.8h0.85M133.1 76.8h0.85M151.6 59.2h0.85M137.4 69.7h0.85M132.2 76.2h0.85M135.1 70.8h0.85M147.6 65.0h0.85M133.7 70.6h0.85M135.1 72.6h0.85M153.0 56.0h0.85M132.1 73.9h0.85M145.1 65.2h0.85M140.2 69.1h0.85M129.7 79.0h0.85M136.5 70.9h0.85M137.5 71.8h0.85M156.8 53.3h0.85M142.7 64.0h0.85M148.3 57.8h0.85M138.5 70.6h0.85M139.3 69.6h0.85M134.0 76.7h0.85M148.5 59.9h0.85M132.8 74.5h0.85M155.7 52.4h0.85M131.2 82.5h0.85M157.1 50.2h0.85M148.6 73.8h0.85M130.2 87.1h0.85M143.1 70.9h0.85M133.9 75.4h0.85M137.9 72.9h0.85M158.6 50.8h0.85M132.4 74.7h0.85M158.4 51.2h0.85M137.3 68.1h0.85M156.0 53.9h0.85M150.2 56.6h0.85M134.0 76.8h0.85M130.2 80.5h0.85M132.6 81.1h0.85M138.2 69.8h0.85M145.4 62.1h0.85M150.7 66.8h0.85M156.6 52.5h0.85M153.9 55.3h0.85M133.6 70.9h0.85M148.8 60.0h0.85M143.1 65.1h0.85M155.2 53.1h0.85M132.7 77.2h0.85M156.8 54.9h0.85M137.7 78.3h0.85M130.0 77.0h0.85M132.5 73.3h0.85M131.4 76.0h0.85M132.0 80.5h0.85M156.3 51.7h0.85M156.9 50.8h0.85M145.4 64.9h0.85M131.3 73.0h0.85M155.8 53.6h0.85M142.7 64.5h0.85M129.8 74.2h0.85M136.9 68.6h0.85M151.3 56.5h0.85M145.9 63.9h0.85M136.9 71.0h0.85M144.0 64.9h0.85M143.9 66.4h0.85M143.7 66.1h0.85M136.0 73.8h0.85M138.0 72.3h0.85M129.7 77.5h0.85M158.2 57.6h0.85M142.5 81.5h0.85M138.4 79.7h0.85M158.4 49.7h0.85M136.4 70.7h0.85M144.3 63.3h0.85M138.6 70.1h0.85M142.5 65.6h0.85M155.6 52.0h0.85M133.8 74.4h0.85M143.6 65.0h0.85M146.2 60.0h0.85M151.1 61.0h0.85M131.1 74.8h0.85M156.1 54.9h0.85M130.4 75.2h0.85M144.8 65.0h0.85M142.1 65.7h0.85M133.3 72.2h0.85M156.1 55.7h0.85M133.7 82.7h0.85M142.0 66.6h0.85M153.8 57.0h0.85M143.3 68.0h0.85M149.2 61.8h0.85M156.8 51.1h0.85M146.8 65.5h0.85M147.1 60.9h0.85M132.5 82.7h0.85M130.2 74.2h0.85M151.1 56.1h0.85M131.5 83.1h0.85M141.9 72.2h0.85M156.2 51.6h0.85M138.3 71.8h0.85M146.2 60.4h0.85M158.7 53.2h0.85M142.8 67.4h0.85M135.5 74.4h0.85M134.7 76.8h0.85M134.6 72.0h0.85M156.3 55.3h0.85M152.7 55.4h0.85M141.6 63.8h0.85M150.0 58.0h0.85M149.9 60.4h0.85M135.1 74.3h0.85M141.3 65.9h0.85M155.6 53.0h0.85M138.6 69.0h0.85M149.1 58.7h0.85M153.1 54.5h0.85M143.7 62.4h0.85M155.8 51.4h0.85M129.9 77.6h0.85M146.6 59.8h0.85M132.5 77.6h0.85M130.6 75.1h0.85M154.9 54.9h0.85M156.2 53.9h0.85M133.5 74.1h0.85M130.0 85.5h0.85M137.6 67.8h0.85M152.4 56.5h0.85M146.9 63.3h0.85M150.0 62.7h0.85M150.8 61.7h0.85M154.9 54.7h0.85M143.1 63.1h0.85M135.0 80.3h0.85M155.1 52.5h0.85M149.1 58.5h0.85M140.3 73.6h0.85M132.7 71.8h0.85M142.8 63.9h0.85M138.0 75.3h0.85M146.1 61.0h0.85M151.0 56.6h0.85M147.6 58.9h0.85M131.2 75.3h0.85M140.6 67.2h0.85M150.1 60.6h0.85M138.1 68.7h0.85M140.2 74.0h0.85M139.2 65.8h0.85M135.7 75.4h0.85M156.6 51.2h0.85M129.9 76.7h0.85M149.7 58.7h0.85M158.6 58.6h0.85M157.2 51.5h0.85M134.4 73.7h0.85M154.1 57.6h0.85M155.4 53.9h0.85M149.9 68.5h0.85M147.1 64.1h0.85M131.1 78.5h0.85M130.1 74.5h0.85M131.5 78.8h0.85M134.6 81.0h0.85M129.7 82.3h0.85M146.3 63.6h0.85M134.3 71.1h0.85M142.8 63.2h0.85M155.2 55.9h0.85M146.1 60.4h0.85M133.4 74.4h0.85M138.5 70.6h0.85M145.3 62.5h0.85M149.3 58.4h0.85M137.0 70.9h0.85M130.1 82.0h0.85M139.7 68.7h0.85M132.0 82.7h0.85M131.3 83.5h0.85M133.0 71.3h0.85M154.6 56.1h0.85M134.3 71.8h0.85M153.9 55.8h0.85M153.5 56.1h0.85M135.4 74.4h0.85M150.1 58.6h0.85M143.9 62.3h0.85M147.2 59.2h0.85M155.5 51.5h0.85M144.2 62.3h0.85M141.8 69.1h0.85M143.1 64.2h0.85M132.2 74.5h0.85M150.8 56.6h0.85M148.8 59.7h0.85M150.4 61.5h0.85M136.9 71.8h0.85M141.7 65.7h0.85M146.5 66.4h0.85M143.1 68.2h0.85M143.5 63.0h0.85M151.1 56.8h0.85M134.0 75.3h0.85M133.2 73.0h0.85M130.6 75.5h0.85M156.9 51.0h0.85M142.3 69.2h0.85M144.1 63.7h0.85M142.1 67.7h0.85M142.0 67.2h0.85M130.6 84.2h0.85M152.7 62.5h0.85M158.8 49.4h0.85M134.9 79.4h0.85M141.9 64.0h0.85M137.1 70.6h0.85M140.4 69.6h0.85M136.7 72.9h0.85M146.0 65.7h0.85M152.9 55.8h0.85M154.8 57.9h0.85M155.2 52.7h0.85M149.1 59.4h0.85M147.5 59.8h0.85M155.9 53.5h0.85M135.1 70.3h0.85M130.9 77.6h0.85M140.9 66.7h0.85M130.4 79.2h0.85M130.4 79.6h0.85M140.5 67.1h0.85M144.5 62.7h0.85M135.7 72.8h0.85M141.3 69.6h0.85M137.5 69.6h0.85M142.7 63.5h0.85M158.1 50.3h0.85M136.7 69.9h0.85M153.3 54.7h0.85M133.0 71.7h0.85M130.4 82.9h0.85M143.5 68.9h0.85M154.4 56.9h0.85M136.7 70.4h0.85M144.5 63.9h0.85M154.3 57.7h0.85M150.8 59.8h0.85M146.4 59.9h0.85M158.2 50.4h0.85M157.5 53.4h0.85M146.0 64.7h0.85M150.4 57.8h0.85M140.3 69.2h0.85M139.6 66.9h0.85M137.1 75.8h0.85M141.9 63.8h0.85M153.7 53.2h0.85M159.0 49.3h0.85M156.7 51.7h0.85M144.7 67.8h0.85M144.3 65.8h0.85M132.4 80.4h0.85M131.5 80.0h0.85M131.0 75.9h0.85M137.6 71.0h0.85M150.3 57.4h0.85M136.0 73.1h0.85M145.2 62.8h0.85M152.0 63.9h0.85M134.7 72.7h0.85M146.9 60.8h0.85M150.9 56.0h0.85M143.6 66.6h0.85M140.3 67.0h0.85M156.5 55.7h0.85M139.7 66.3h0.85M131.7 78.9h0.85M158.3 53.1h0.85M137.7 74.6h0.85M139.0 74.7h0.85M150.1 63.7h0.85M133.3 71.4h0.85M146.3 66.2h0.85M129.9 80.5h0.85M150.2 56.3h0.85M156.8 51.0h0.85M158.2 54.7h0.85M147.7 59.1h0.85M157.8 49.6h0.85M149.5 58.3h0.85M158.1 51.0h0.85M140.5 69.9h0.85M155.3 52.7h0.85M130.7 82.0h0.85M136.9 69.3h0.85M151.9 63.5h0.85M138.0 72.9h0.85M157.1 55.5h0.85M129.6 79.8h0.85M157.0 50.3h0.85M135.9 71.7h0.85M153.0 57.1h0.85M141.3 65.5h0.85M145.6 61.1h0.85M132.7 75.6h0.85M154.3 52.6h0.85M132.8 72.5h0.85M132.0 72.9h0.85M146.7 59.4h0.85M146.3 65.3h0.85M136.0 69.2h0.85M134.0 75.6h0.85M132.7 80.9h0.85M143.3 70.7h0.85M130.4 73.8h0.85M157.9 53.3h0.85M138.2 67.6h0.85M144.5 66.3h0.85M150.5 61.3h0.85M132.6 71.7h0.85M133.5 75.2h0.85M157.9 50.7h0.85M137.5 69.1h0.85M135.4 72.1h0.85M150.0 60.4h0.85M153.5 60.5h0.85M153.8 62.2h0.85M135.7 73.0h0.85M152.2 57.4h0.85M134.7 73.2h0.85M146.9 65.2h0.85M152.0 62.7h0.85M152.4 54.1h0.85M136.7 71.0h0.85M149.9 58.1h0.85M135.6 72.7h0.85M134.3 74.3h0.85M135.6 74.5h0.85M144.0 62.9h0.85M144.4 61.9h0.85M135.3 73.5h0.85M135.9 71.3h0.85M145.2 61.4h0.85M157.0 52.5h0.85M144.4 65.0h0.85M154.5 54.1h0.85M140.1 78.1h0.85M158.4 51.2h0.85M145.7 66.4h0.85M149.6 57.2h0.85M157.7 50.2h0.85M131.8 75.3h0.85M147.3 63.7h0.85M139.0 68.1h0.85M134.0 73.0h0.85M134.6 70.7h0.85M158.4 50.5h0.85M155.0 55.1h0.85M147.7 65.7h0.85M157.4 50.7h0.85M156.4 54.1h0.85M146.5 60.5h0.85M157.4 51.2h0.85M158.3 49.8h0.85M131.9 80.4h0.85M142.9 64.4h0.85M140.3 68.0h0.85M130.2 77.5h0.85M130.3 76.2h0.85M157.9 50.4h0.85M135.2 69.6h0.85M134.6 71.2h0.85M143.2 63.7h0.85M131.1 77.1h0.85M153.2 54.1h0.85M136.0 74.5h0.85M157.9 54.1h0.85M153.5 58.6h0.85M138.2 69.6h0.85M134.9 75.4h0.85M158.0 50.7h0.85M131.1 75.5h0.85M139.2 68.6h0.85M141.9 70.3h0.85M156.7 53.5h0.85M156.0 51.5h0.85M139.4 66.3h0.85M143.4 67.4h0.85M134.0 70.9h0.85M143.8 62.0h0.85M146.4 62.7h0.85M143.3 63.8h0.85M157.1 52.5h0.85M134.1 70.5h0.85M153.8 58.0h0.85M133.2 75.8h0.85M135.1 72.3h0.85M143.6 62.0h0.85M131.5 79.1h0.85M140.0 72.0h0.85M138.2 73.2h0.85M143.9 63.5h0.85M149.2 62.1h0.85M156.0 51.3h0.85M148.9 61.2h0.85M134.1 75.3h0.85M146.4 60.8h0.85M132.0 73.8h0.85M131.6 83.6h0.85M135.8 80.5h0.85M132.7 72.3h0.85M158.2 49.7h0.85M153.5 55.6h0.85M147.1 59.4h0.85M154.6 55.8h0.85M139.2 66.7h0.85M146.0 66.8h0.85M144.3 65.3h0.85M130.0 75.1h0.85M136.3 75.9h0.85M155.4 53.3h0.85M154.4 52.7h0.85M132.8 84.9h0.85M148.8 59.7h0.85M133.3 79.8h0.85M136.3 69.5h0.85M131.9 77.0h0.85M135.8 70.7h0.85M131.3 77.2h0.85M132.9 72.2h0.85M152.5 56.0h0.85M130.5 82.2h0.85M146.7 64.4h0.85M142.2 65.3h0.85M153.8 54.2h0.85M136.4 73.7h0.85M130.5 83.5h0.85M149.6 57.1h0.85M133.4 77.9h0.85M150.7 59.6h0.85M131.4 80.7h0.85M141.2 66.1h0.85M144.5 66.3h0.85M151.1 57.7h0.85M144.7 66.5h0.85M134.5 70.3h0.85M143.2 68.8h0.85M143.8 63.1h0.85M146.5 63.2h0.85M148.0 68.4h0.85M137.6 69.5h0.85M136.7 82.1h0.85M146.9 59.1h0.85M148.2 58.5h0.85M136.1 71.5h0.85M153.6 61.1h0.85M146.3 60.6h0.85M143.1 64.9h0.85M135.5 70.4h0.85M131.4 79.6h0.85M146.2 68.1h0.85M140.2 68.3h0.85M130.9 76.2h0.85M139.7 65.2h0.85M146.0 60.3h0.85M145.6 64.7h0.85M143.2 66.0h0.85M130.8 80.4h0.85M148.9 63.6h0.85M145.0 69.4h0.85M133.8 70.5h0.85M156.5 52.0h0.85M136.4 71.5h0.85M141.1 66.7h0.85M155.8 52.0h0.85M130.8 82.3h0.85M135.1 78.3h0.85M154.3 55.6h0.85M130.0 83.2h0.85M135.0 72.3h0.85M154.1 62.2h0.85M149.3 64.5h0.85M146.1 63.3h0.85M137.4 68.4h0.85M135.0 73.4h0.85M152.0 61.4h0.85M137.8 69.0h0.85M150.5 57.1h0.85M147.3 60.5h0.85M133.2 71.3h0.85M144.8 65.4h0.85M132.6 71.8h0.85M129.6 76.7h0.85M159.2 49.5h0.85M152.0 60.4h0.85M148.5 60.7h0.85M133.3 77.4h0.85M155.9 52.4h0.85M152.0 55.7h0.85M131.0 76.7h0.85M153.0 55.5h0.85M140.1 72.3h0.85M141.6 68.2h0.85M130.4 74.4h0.85M149.7 60.6h0.85M136.8 69.5h0.85M136.7 68.5h0.85M141.8 72.9h0.85M134.3 74.9h0.85M130.0 79.9h0.85M145.2 69.2h0.85M132.6 75.8h0.85M145.7 66.8h0.85M154.5 56.2h0.85M141.5 68.9h0.85M137.5 70.5h0.85M144.4 61.1h0.85M142.5 64.8h0.85M130.5 84.8h0.85M130.1 78.1h0.85M142.0 68.0h0.85M156.6 52.6h0.85M137.3 69.6h0.85M151.4 55.9h0.85M152.2 54.8h0.85M146.4 59.9h0.85M136.9 76.7h0.85M146.8 61.0h0.85M157.6 51.4h0.85M137.8 70.0h0.85M152.8 61.4h0.85M154.0 54.0h0.85M139.8 77.7h0.85M132.2 81.5h0.85M141.1 66.5h0.85M158.1 54.3h0.85M154.2 54.9h0.85M135.3 69.8h0.85M152.2 55.4h0.85M130.6 79.7h0.85M145.0 63.2h0.85M149.6 59.0h0.85M152.9 56.1h0.85M136.1 73.2h0.85M136.4 73.0h0.85M151.9 60.1h0.85M139.3 70.0h0.85M132.5 78.4h0.85M149.1 64.4h0.85M131.7 72.5h0.85M158.9 54.8h0.85M155.0 54.0h0.85M151.0 55.8h0.85M153.4 64.0h0.85M147.1 60.9h0.85M143.2 68.2h0.85M141.9 67.2h0.85M151.5 55.8h0.85M131.5 72.9h0.85M154.4 55.4h0.85M146.5 70.8h0.85M148.6 60.1h0.85M136.9 71.2h0.85M135.0 71.8h0.85M134.0 79.4h0.85M134.3 78.9h0.85M148.4 66.5h0.85M148.0 60.1h0.85M140.9 64.9h0.85M145.5 63.7h0.85M149.6 57.1h0.85M157.0 51.4h0.85M153.1 57.8h0.85M141.8 65.3h0.85M140.0 69.4h0.85M147.1 62.2h0.85M145.3 63.4h0.85M131.3 76.2h0.85M143.6 66.6h0.85M150.4 57.3h0.85M140.3 66.1h0.85M143.4 63.2h0.85M140.3 67.4h0.85" stroke="#e8211d" stroke-width="0.85" fill="none" opacity="1.0"/>
<line x1="121.00" y1="21.50" x2="121.00" y2="125.00" stroke="#170f0e" stroke-width="1.28"/>
<line x1="61.50" y1="73.00" x2="179.00" y2="73.00" stroke="#170f0e" stroke-width="1.28"/>
<line x1="121.00" y1="124.60" x2="123.60" y2="124.60" stroke="#170f0e" stroke-width="1.18"/>
<line x1="62.20" y1="73.00" x2="62.20" y2="70.60" stroke="#170f0e" stroke-width="1.18"/>
<text x="119.20" y="125.80" font-size="3.2" text-anchor="end" fill="#777" stroke="#777">−6</text>
<text x="62.20" y="77.60" font-size="3.2" text-anchor="middle" fill="#777" stroke="#777">−6</text>
<line x1="121.00" y1="107.40" x2="123.60" y2="107.40" stroke="#170f0e" stroke-width="1.18"/>
<line x1="81.80" y1="73.00" x2="81.80" y2="70.60" stroke="#170f0e" stroke-width="1.18"/>
<text x="119.20" y="108.60" font-size="3.2" text-anchor="end" fill="#777" stroke="#777">−4</text>
<text x="81.80" y="77.60" font-size="3.2" text-anchor="middle" fill="#777" stroke="#777">−4</text>
<line x1="121.00" y1="90.20" x2="123.60" y2="90.20" stroke="#170f0e" stroke-width="1.18"/>
<line x1="101.40" y1="73.00" x2="101.40" y2="70.60" stroke="#170f0e" stroke-width="1.18"/>
<text x="119.20" y="91.40" font-size="3.2" text-anchor="end" fill="#777" stroke="#777">−2</text>
<text x="101.40" y="77.60" font-size="3.2" text-anchor="middle" fill="#777" stroke="#777">−2</text>
<line x1="121.00" y1="73.00" x2="123.60" y2="73.00" stroke="#170f0e" stroke-width="1.18"/>
<line x1="121.00" y1="73.00" x2="121.00" y2="70.60" stroke="#170f0e" stroke-width="1.18"/>
<line x1="121.00" y1="55.80" x2="123.60" y2="55.80" stroke="#170f0e" stroke-width="1.18"/>
<line x1="140.60" y1="73.00" x2="140.60" y2="70.60" stroke="#170f0e" stroke-width="1.18"/>
<text x="119.20" y="57.00" font-size="3.2" text-anchor="end" fill="#777" stroke="#777">2</text>
<text x="140.60" y="77.60" font-size="3.2" text-anchor="middle" fill="#777" stroke="#777">2</text>
<line x1="121.00" y1="38.60" x2="123.60" y2="38.60" stroke="#170f0e" stroke-width="1.18"/>
<line x1="160.20" y1="73.00" x2="160.20" y2="70.60" stroke="#170f0e" stroke-width="1.18"/>
<text x="119.20" y="39.80" font-size="3.2" text-anchor="end" fill="#777" stroke="#777">4</text>
<text x="160.20" y="77.60" font-size="3.2" text-anchor="middle" fill="#777" stroke="#777">4</text>
<line x1="121.00" y1="21.40" x2="123.60" y2="21.40" stroke="#170f0e" stroke-width="1.18"/>
<line x1="179.80" y1="73.00" x2="179.80" y2="70.60" stroke="#170f0e" stroke-width="1.18"/>
<text x="119.20" y="22.60" font-size="3.2" text-anchor="end" fill="#777" stroke="#777">6</text>
<text x="179.80" y="77.60" font-size="3.2" text-anchor="middle" fill="#777" stroke="#777">6</text>
<line x1="63.50" y1="125.60" x2="177.50" y2="22.50" stroke="#170f0e" stroke-width="1.38"/>
<line x1="73.00" y1="125.60" x2="177.50" y2="30.50" stroke="#170f0e" stroke-width="1.28" stroke-dasharray="2.6 1.6"/>
<rect x="129.60" y="21.20" width="48.60" height="103.40" fill="none" stroke="#3b8fb5" stroke-width="1.3"/>
<text x="114.50" y="13.30" font-size="8.2" stroke="#170f0e">&gt;×2.0-fold</text>
<line x1="129.60" y1="15.00" x2="129.60" y2="18.10" stroke="#170f0e" stroke-width="1.03"/>
<polygon points="129.60,21.00 127.30,16.60 129.60,17.60 131.90,16.60" fill="#170f0e"/>
<text x="186.60" y="32.40" font-size="8.2" stroke="#170f0e">&lt;×0.5-fold</text>
<line x1="187.50" y1="29.60" x2="183.10" y2="29.60" stroke="#170f0e" stroke-width="1.03"/>
<polygon points="180.20,29.60 184.60,27.30 183.60,29.60 184.60,31.90" fill="#170f0e"/>
<text x="199.30" y="59.00" font-size="8.5" font-weight="bold" text-anchor="middle" fill="#d7262c" stroke="#d7262c">UNC1999</text>
<text x="199.30" y="68.30" font-size="8.5" font-weight="bold" text-anchor="middle" fill="#d7262c" stroke="#d7262c">targets</text>
<text x="199.30" y="77.20" font-size="8.5" font-weight="bold" text-anchor="middle" fill="#d7262c" stroke="#d7262c">2,167</text>
<line x1="181.50" y1="56.00" x2="167.40" y2="56.00" stroke="#170f0e" stroke-width="1.08"/>
<polygon points="164.00,56.00 169.00,53.60 167.90,56.00 169.00,58.40" fill="#170f0e"/>
<text x="154.00" y="104.00" font-size="8.4" font-weight="bold" text-anchor="middle" fill="#4a9ed6" stroke="#4a9ed6">PRC2</text>
<text x="154.00" y="113.00" font-size="8.4" font-weight="bold" text-anchor="middle" fill="#4a9ed6" stroke="#4a9ed6">targets</text>
<text x="154.00" y="121.40" font-size="8.4" font-weight="bold" text-anchor="middle" fill="#4a9ed6" stroke="#4a9ed6">3,781</text>
<text x="30.80" y="77.00" font-size="9.6" text-anchor="middle" stroke="#170f0e" transform="rotate(-90 30.80 77.00)" xml:space="preserve">(H3K27me3 ChIP/Input  log2)</text>
<text x="45.00" y="137.50" font-size="9.2" font-weight="bold" stroke="#170f0e" transform="rotate(-90 45.00 137.50)">UNC1999</text>
<line x1="42.50" y1="95.50" x2="42.50" y2="28.90" stroke="#170f0e" stroke-width="1.33"/>
<polygon points="42.50,23.00 46.10,31.60 42.50,29.40 38.90,31.60" fill="#170f0e"/>
<text x="51.00" y="140.00" font-size="9.2" font-weight="bold" stroke="#170f0e">Control</text>
<line x1="88.50" y1="136.30" x2="175.10" y2="136.30" stroke="#170f0e" stroke-width="1.33"/>
<polygon points="181.00,136.30 172.40,139.90 174.60,136.30 172.40,132.70" fill="#170f0e"/>
<text x="111.30" y="154.00" font-size="9.6" text-anchor="middle" stroke="#170f0e">(H3K27me3 ChIP/Input log2)</text>
</g>
<g id="panelB">
<text x="246.00" y="12.00" font-size="13.6" font-weight="bold" stroke="#170f0e">B</text>
<text x="366.00" y="34.40" font-size="9.6" font-weight="bold" text-anchor="middle" stroke="#170f0e">PRC2 Target gene set</text>
<text x="310.00" y="51.60" font-size="9.2" font-weight="bold" text-anchor="middle" stroke="#170f0e">UNC1999 vs. Control</text>
<text x="433.20" y="51.60" font-size="9.2" font-weight="bold" text-anchor="middle" stroke="#170f0e">Combination vs. Control</text>
<rect x="253.50" y="120.60" width="107.50" height="3.90" fill="url(#rwb)"/>
<path d="M253.46 106.0H256.00V120.6H253.46ZM256.92 106.0H259.23V120.6H256.92ZM260.15 106.0H262.75V120.6H260.15ZM263.56 106.0H264.94V120.6H263.56ZM265.52 106.0H266.50V120.6H265.52ZM267.19 106.0H269.21V120.6H267.19ZM270.02 106.0H271.58V120.6H270.02ZM273.19 106.0H275.96V120.6H273.19ZM278.04 106.0H290.10V120.6H278.04ZM290.68 106.0H302.73V120.6H290.68ZM303.43 106.0H305.79V120.6H303.43ZM306.37 106.0H316.58V120.6H306.37ZM317.27 106.0H319.12V120.6H317.27ZM319.81 106.0H322.99V120.6H319.81ZM323.79 106.0H325.99V120.6H323.79ZM326.79 106.0H329.16V120.6H326.79ZM330.08 106.0H331.93V120.6H330.08ZM332.85 106.0H334.87V120.6H332.85ZM335.91 106.0H338.05V120.6H335.91ZM339.20 106.0H341.16V120.6H339.20ZM342.66 106.0H343.35V120.6H342.66ZM348.32 106.0H349.24V120.6H348.32ZM354.66 106.0H355.35V120.6H354.66Z" fill="#1c1011"/>
<path d="M344.97 106.0H345.66V120.6H344.97ZM351.20 106.0H351.89V120.6H351.20ZM357.20 106.0H357.89V120.6H357.20Z" fill="#8b8587"/>
<path d="M253.7 105.5C253.8 103.2 254.2 96.2 254.6 92.0C255.0 87.8 255.3 83.6 256.0 80.0C256.7 76.4 257.7 72.8 258.7 70.5C259.7 68.2 260.9 67.1 262.0 66.0C263.1 64.9 264.0 64.2 265.0 63.7C266.0 63.2 266.8 63.7 268.0 63.2C269.2 62.8 270.8 61.4 272.0 61.0C273.2 60.6 273.8 60.8 275.0 60.6C276.2 60.4 277.6 60.2 279.0 60.0C280.4 59.8 282.2 59.5 283.7 59.5C285.2 59.5 286.5 59.9 288.0 60.3C289.5 60.7 290.8 61.1 292.5 62.0C294.2 62.9 295.9 64.3 298.0 65.8C300.1 67.3 302.7 69.4 305.0 71.2C307.3 73.0 309.5 74.7 312.0 76.6C314.5 78.5 317.7 80.9 320.0 82.5C322.3 84.1 323.9 85.0 326.0 86.3C328.1 87.5 330.3 88.9 332.5 90.0C334.7 91.1 336.9 92.1 339.0 93.0C341.1 93.9 343.2 94.8 345.0 95.5C346.8 96.2 348.3 96.6 350.0 97.3C351.7 98.0 353.7 99.0 355.0 99.5C356.3 100.0 357.0 99.8 358.0 100.3C359.0 100.8 360.5 102.1 361.0 102.5" fill="none" stroke="#6db24a" stroke-width="1.18" stroke-linejoin="round"/>
<rect x="252.50" y="56.40" width="115.10" height="69.10" fill="none" stroke="#170f0e" stroke-width="1.1"/>
<text x="327.50" y="65.20" font-size="7.3" font-weight="bold" stroke="#170f0e">NES = 1.46</text>
<text x="331.00" y="75.50" font-size="7.3" font-weight="bold" stroke="#170f0e"><tspan font-style="italic">P</tspan> = 0.001</text>
<text x="331.00" y="85.80" font-size="7.3" font-weight="bold" stroke="#170f0e"><tspan font-style="italic">q</tspan> = 0.047</text>
<rect x="377.50" y="120.60" width="108.50" height="3.90" fill="url(#rwb)"/>
<path d="M377.46 106.0H383.81V120.6H377.46ZM384.96 106.0H386.23V120.6H384.96ZM387.15 106.0H388.54V120.6H387.15ZM389.46 106.0H390.85V120.6H389.46ZM392.23 106.0H393.96V120.6H392.23ZM394.66 106.0H419.12V120.6H394.66ZM419.81 106.0H436.20V120.6H419.81ZM437.35 106.0H445.54V120.6H437.35Z" fill="#1c1011"/>
<path d="M446.70 106.0H448.08V120.6H446.70Z" fill="#4a4244"/>
<path d="M449.58 106.0H450.74V120.6H449.58Z" fill="#5a5254"/>
<path d="M452.35 106.0H453.51V120.6H452.35Z" fill="#6a6264"/>
<path d="M454.78 106.0H455.70V120.6H454.78ZM457.08 106.0H458.01V120.6H457.08ZM459.51 106.0H460.20V120.6H459.51ZM467.81 106.0H468.51V120.6H467.81Z" fill="#8b8587"/>
<path d="M461.93 106.0H462.85V120.6H461.93ZM464.35 106.0H465.05V120.6H464.35Z" fill="#9b9597"/>
<path d="M470.70 106.0H471.16V120.6H470.70Z" fill="#aaa"/>
<path d="M475.32 106.0H475.78V120.6H475.32Z" fill="#555"/>
<path d="M378.2 104.0C378.3 102.2 378.6 96.6 379.0 93.0C379.4 89.4 379.9 85.8 380.5 82.5C381.1 79.2 381.8 76.0 382.5 73.5C383.2 71.0 384.2 68.8 385.0 67.5C385.8 66.2 386.0 66.4 387.0 65.6C388.0 64.8 389.7 63.3 391.0 62.5C392.3 61.7 393.5 61.2 395.0 60.6C396.5 60.0 398.7 59.2 400.0 59.0C401.3 58.8 402.2 59.0 403.0 59.2C403.8 59.4 403.5 59.1 405.0 60.0C406.5 60.9 409.5 62.9 412.0 64.6C414.5 66.3 417.3 68.2 420.0 70.0C422.7 71.8 425.5 73.7 428.0 75.4C430.5 77.1 433.0 78.8 435.0 80.0C437.0 81.2 438.3 82.0 440.0 82.8C441.7 83.6 443.2 84.3 445.0 85.0C446.8 85.7 448.9 86.4 451.0 87.2C453.1 88.0 455.3 89.1 457.5 90.0C459.7 90.9 461.9 92.0 464.0 92.8C466.1 93.6 468.3 94.3 470.0 95.0C471.7 95.7 472.8 96.4 474.0 96.8C475.2 97.2 476.3 96.8 477.5 97.3C478.7 97.8 479.6 98.6 481.0 99.5C482.4 100.4 485.2 102.0 486.0 102.5" fill="none" stroke="#6db24a" stroke-width="1.18" stroke-linejoin="round"/>
<rect x="376.70" y="56.60" width="115.30" height="68.90" fill="none" stroke="#170f0e" stroke-width="1.1"/>
<text x="452.50" y="65.20" font-size="7.3" font-weight="bold" stroke="#170f0e">NES = 1.73</text>
<text x="455.50" y="75.50" font-size="7.3" font-weight="bold" stroke="#170f0e"><tspan font-style="italic">P</tspan> = 0.0</text>
<text x="455.50" y="85.80" font-size="7.3" font-weight="bold" stroke="#170f0e"><tspan font-style="italic">q</tspan> = 0.007</text>
</g>
<g id="panelC">
<text x="1.10" y="171.80" font-size="13.6" font-weight="bold" stroke="#170f0e">C</text>
<line x1="43.20" y1="204.30" x2="43.20" y2="310.50" stroke="#170f0e" stroke-width="1.38"/>
<line x1="40.40" y1="310.00" x2="159.00" y2="310.00" stroke="#170f0e" stroke-width="1.38"/>
<line x1="40.40" y1="204.80" x2="43.20" y2="204.80" stroke="#170f0e" stroke-width="1.18"/>
<text x="38.00" y="207.50" font-size="7.6" text-anchor="end" stroke="#170f0e" transform="translate(38.00 207.50) scale(0.9 1) translate(-38.00 -207.50)">1.5</text>
<line x1="40.40" y1="217.95" x2="43.20" y2="217.95" stroke="#170f0e" stroke-width="1.18"/>
<text x="38.00" y="220.65" font-size="7.6" text-anchor="end" stroke="#170f0e" transform="translate(38.00 220.65) scale(0.9 1) translate(-38.00 -220.65)">1.3</text>
<line x1="40.40" y1="231.10" x2="43.20" y2="231.10" stroke="#170f0e" stroke-width="1.18"/>
<text x="38.00" y="233.80" font-size="7.6" text-anchor="end" stroke="#170f0e" transform="translate(38.00 233.80) scale(0.9 1) translate(-38.00 -233.80)">1.1</text>
<line x1="40.40" y1="244.25" x2="43.20" y2="244.25" stroke="#170f0e" stroke-width="1.18"/>
<text x="38.00" y="246.95" font-size="7.6" text-anchor="end" stroke="#170f0e" transform="translate(38.00 246.95) scale(0.9 1) translate(-38.00 -246.95)">0.9</text>
<line x1="40.40" y1="257.40" x2="43.20" y2="257.40" stroke="#170f0e" stroke-width="1.18"/>
<text x="38.00" y="260.10" font-size="7.6" text-anchor="end" stroke="#170f0e" transform="translate(38.00 260.10) scale(0.9 1) translate(-38.00 -260.10)">0.7</text>
<line x1="40.40" y1="270.55" x2="43.20" y2="270.55" stroke="#170f0e" stroke-width="1.18"/>
<text x="38.00" y="273.25" font-size="7.6" text-anchor="end" stroke="#170f0e" transform="translate(38.00 273.25) scale(0.9 1) translate(-38.00 -273.25)">0.5</text>
<line x1="40.40" y1="283.70" x2="43.20" y2="283.70" stroke="#170f0e" stroke-width="1.18"/>
<text x="38.00" y="286.40" font-size="7.6" text-anchor="end" stroke="#170f0e" transform="translate(38.00 286.40) scale(0.9 1) translate(-38.00 -286.40)">0.3</text>
<line x1="40.40" y1="296.85" x2="43.20" y2="296.85" stroke="#170f0e" stroke-width="1.18"/>
<text x="38.00" y="299.55" font-size="7.6" text-anchor="end" stroke="#170f0e" transform="translate(38.00 299.55) scale(0.9 1) translate(-38.00 -299.55)">0.1</text>
<line x1="40.40" y1="310.00" x2="43.20" y2="310.00" stroke="#170f0e" stroke-width="1.18"/>
<text x="38.00" y="312.70" font-size="7.6" text-anchor="end" stroke="#170f0e" transform="translate(38.00 312.70) scale(0.9 1) translate(-38.00 -312.70)">−0.1</text>
<line x1="58.70" y1="244.50" x2="58.70" y2="280.50" stroke="#170f0e" stroke-width="1.38"/>
<line x1="58.70" y1="302.50" x2="58.70" y2="304.20" stroke="#170f0e" stroke-width="1.38"/>
<line x1="57.00" y1="244.50" x2="60.40" y2="244.50" stroke="#170f0e" stroke-width="1.38"/>
<line x1="57.00" y1="304.20" x2="60.40" y2="304.20" stroke="#170f0e" stroke-width="1.38"/>
<rect x="52.90" y="280.50" width="11.60" height="22.00" fill="#ffffff" stroke="#170f0e" stroke-width="1.3"/>
<line x1="52.90" y1="296.20" x2="64.50" y2="296.20" stroke="#170f0e" stroke-width="1.58"/>
<line x1="58.70" y1="310.00" x2="58.70" y2="312.80" stroke="#170f0e" stroke-width="1.18"/>
<line x1="87.00" y1="215.50" x2="87.00" y2="262.50" stroke="#170f0e" stroke-width="1.38"/>
<line x1="87.00" y1="298.00" x2="87.00" y2="304.20" stroke="#170f0e" stroke-width="1.38"/>
<line x1="85.30" y1="215.50" x2="88.70" y2="215.50" stroke="#170f0e" stroke-width="1.38"/>
<line x1="85.30" y1="304.20" x2="88.70" y2="304.20" stroke="#170f0e" stroke-width="1.38"/>
<rect x="81.10" y="262.50" width="11.80" height="35.50" fill="#e38d94" stroke="#170f0e" stroke-width="1.3"/>
<line x1="81.10" y1="291.20" x2="92.90" y2="291.20" stroke="#170f0e" stroke-width="1.58"/>
<line x1="87.00" y1="310.00" x2="87.00" y2="312.80" stroke="#170f0e" stroke-width="1.18"/>
<line x1="116.20" y1="249.00" x2="116.20" y2="285.00" stroke="#170f0e" stroke-width="1.38"/>
<line x1="116.20" y1="302.50" x2="116.20" y2="304.20" stroke="#170f0e" stroke-width="1.38"/>
<line x1="114.50" y1="249.00" x2="117.90" y2="249.00" stroke="#170f0e" stroke-width="1.38"/>
<line x1="114.50" y1="304.20" x2="117.90" y2="304.20" stroke="#170f0e" stroke-width="1.38"/>
<rect x="110.40" y="285.00" width="11.60" height="17.50" fill="#ccd98a" stroke="#170f0e" stroke-width="1.3"/>
<line x1="110.40" y1="298.00" x2="122.00" y2="298.00" stroke="#170f0e" stroke-width="1.58"/>
<line x1="116.20" y1="310.00" x2="116.20" y2="312.80" stroke="#170f0e" stroke-width="1.18"/>
<line x1="145.00" y1="212.00" x2="145.00" y2="265.00" stroke="#170f0e" stroke-width="1.38"/>
<line x1="145.00" y1="296.00" x2="145.00" y2="300.50" stroke="#170f0e" stroke-width="1.38"/>
<line x1="143.30" y1="212.00" x2="146.70" y2="212.00" stroke="#170f0e" stroke-width="1.38"/>
<line x1="143.30" y1="300.50" x2="146.70" y2="300.50" stroke="#170f0e" stroke-width="1.38"/>
<rect x="139.10" y="265.00" width="11.80" height="31.00" fill="#9fd7ef" stroke="#170f0e" stroke-width="1.3"/>
<line x1="139.10" y1="287.60" x2="150.90" y2="287.60" stroke="#170f0e" stroke-width="1.58"/>
<line x1="145.00" y1="310.00" x2="145.00" y2="312.80" stroke="#170f0e" stroke-width="1.18"/>
<path d="M87.5 187.2V185Q87.5 184 88.5 184H144Q145 184 145 185V187.2" fill="none" stroke="#170f0e" stroke-width="1.28"/>
<path d="M59.5 196.79999999999998V194.2Q59.5 193.2 60.5 193.2H144Q145 193.2 145 194.2V196.79999999999998" fill="none" stroke="#170f0e" stroke-width="1.28"/>
<path d="M59.5 209.2V206Q59.5 205 60.5 205H87Q88 205 88 206V209.2" fill="none" stroke="#170f0e" stroke-width="1.28"/>
<text x="109.60" y="178.80" font-size="8" text-anchor="middle" stroke="#170f0e">NS</text>
<text x="101.40" y="194.60" font-size="10" font-weight="bold" text-anchor="middle" stroke="#170f0e">**</text>
<text x="74.00" y="205.80" font-size="10" font-weight="bold" text-anchor="middle" stroke="#170f0e">*</text>
<text x="63.80" y="320.20" font-size="8.3" text-anchor="end" stroke="#170f0e" transform="rotate(-39 63.80 320.20)">Control</text>
<text x="95.30" y="320.20" font-size="8.3" text-anchor="end" stroke="#170f0e" transform="rotate(-39 95.30 320.20)">UNC1999</text>
<text x="124.00" y="320.20" font-size="8.3" text-anchor="end" stroke="#170f0e" transform="rotate(-39 124.00 320.20)">Bortezomib</text>
<text x="153.30" y="320.20" font-size="8.3" text-anchor="end" stroke="#170f0e" transform="rotate(-39 153.30 320.20)">Combination</text>
<text x="8.70" y="255.80" font-size="9.3" text-anchor="middle" stroke="#170f0e" transform="rotate(-90 8.70 255.80)">Expression levels (log2)</text>
<text x="19.40" y="255.50" font-size="9.3" text-anchor="middle" stroke="#170f0e" transform="rotate(-90 19.40 255.50)">(Top 1,000 PRC2 targets)</text>
</g>
<g id="panelD">
<text x="196.70" y="171.30" font-size="13.6" font-weight="bold" stroke="#170f0e">D</text>
<path d="M284.7 254.0h0.85M321.6 256.7h0.85M283.1 255.4h0.85M260.8 256.4h0.85M279.1 258.4h0.85M293.6 259.7h0.85M281.5 258.1h0.85M299.0 262.4h0.85M278.7 262.6h0.85M294.3 258.6h0.85M256.8 255.2h0.85M304.8 258.9h0.85M276.4 258.9h0.85M275.0 255.7h0.85M260.8 260.2h0.85M305.2 259.5h0.85M280.1 258.7h0.85M309.3 258.6h0.85M281.7 259.1h0.85M320.4 271.1h0.85M302.2 254.8h0.85M289.5 255.5h0.85M286.1 257.9h0.85M302.2 256.1h0.85M308.7 262.4h0.85M280.1 258.4h0.85M287.6 254.7h0.85M285.6 256.6h0.85M271.6 251.1h0.85M273.8 255.2h0.85M273.4 260.1h0.85M262.5 261.6h0.85M267.0 242.9h0.85M261.8 253.8h0.85M300.3 256.8h0.85M299.5 255.9h0.85M278.7 259.5h0.85M261.4 270.5h0.85M283.5 254.4h0.85M278.6 255.0h0.85M272.4 254.7h0.85M255.0 261.5h0.85M280.4 255.5h0.85M284.1 255.6h0.85M281.8 258.5h0.85M272.0 252.9h0.85M288.1 258.6h0.85M268.7 261.8h0.85M284.5 256.0h0.85M291.6 252.8h0.85M287.6 255.3h0.85M269.7 261.0h0.85M290.5 255.7h0.85M282.1 254.9h0.85M272.6 256.0h0.85M284.2 257.1h0.85M309.7 262.6h0.85M283.1 268.3h0.85M276.5 254.2h0.85M286.4 259.2h0.85M299.0 259.6h0.85M304.4 260.7h0.85M275.2 249.7h0.85M271.1 257.7h0.85M298.7 262.5h0.85M248.7 259.8h0.85M293.8 253.2h0.85M257.0 265.7h0.85M263.8 258.6h0.85M293.8 256.6h0.85M286.8 256.6h0.85M286.7 258.2h0.85M279.3 255.2h0.85M273.8 260.1h0.85M254.8 260.6h0.85M265.4 252.1h0.85M286.0 259.8h0.85M274.3 259.3h0.85M264.6 257.2h0.85M254.5 259.5h0.85M295.1 256.1h0.85M304.4 261.6h0.85M274.3 257.0h0.85M290.5 260.9h0.85M288.3 261.1h0.85M278.3 257.8h0.85M290.4 257.2h0.85M293.2 260.0h0.85M300.6 264.6h0.85M299.1 262.9h0.85M284.6 258.0h0.85M283.9 270.7h0.85M293.6 256.4h0.85M284.2 249.8h0.85M283.9 259.9h0.85M274.6 255.8h0.85M296.0 255.7h0.85M272.1 266.4h0.85M276.8 260.1h0.85M311.1 252.3h0.85M296.3 258.9h0.85M292.4 250.5h0.85M280.1 255.5h0.85M293.3 257.9h0.85M263.2 254.6h0.85M264.9 256.9h0.85M289.0 255.1h0.85M284.6 258.7h0.85M267.2 256.8h0.85M295.0 261.5h0.85M264.3 256.8h0.85M267.5 254.8h0.85M278.2 265.9h0.85M289.8 253.6h0.85M290.9 253.5h0.85M291.1 258.5h0.85M278.6 254.7h0.85M288.2 256.7h0.85M280.6 254.9h0.85M282.9 257.6h0.85M241.9 264.7h0.85M279.6 249.4h0.85M302.9 253.7h0.85M307.4 253.7h0.85M271.3 264.9h0.85M286.9 259.2h0.85M301.3 258.2h0.85M294.3 255.3h0.85M279.9 261.2h0.85M290.9 253.8h0.85M294.6 252.3h0.85M268.7 249.8h0.85M270.9 259.2h0.85M312.6 253.9h0.85M284.0 260.6h0.85M277.5 255.7h0.85M286.1 257.8h0.85M283.9 252.7h0.85M277.4 254.9h0.85M285.1 259.7h0.85M310.2 251.3h0.85M256.0 253.0h0.85M291.7 261.3h0.85M259.0 258.9h0.85M286.3 255.4h0.85M305.1 256.4h0.85M295.0 258.1h0.85M268.6 259.2h0.85M279.6 259.4h0.85M267.1 256.9h0.85M304.5 257.2h0.85M268.8 257.1h0.85M255.7 257.6h0.85M268.8 256.1h0.85M288.7 258.2h0.85M280.8 257.9h0.85M284.1 256.2h0.85M293.3 258.3h0.85M281.4 258.6h0.85M261.2 260.9h0.85M282.9 259.7h0.85M305.6 259.5h0.85M291.8 257.0h0.85M285.8 255.8h0.85M278.8 260.4h0.85M277.4 259.1h0.85M309.5 262.9h0.85M275.7 255.4h0.85M292.9 248.1h0.85M287.2 254.3h0.85M293.4 255.4h0.85M265.0 255.8h0.85M282.4 258.1h0.85M281.3 256.9h0.85M284.6 256.1h0.85M292.3 254.1h0.85M286.4 256.7h0.85M280.2 252.7h0.85M280.6 247.3h0.85M262.7 271.1h0.85M294.3 255.8h0.85M287.5 257.1h0.85M290.2 258.3h0.85M261.8 256.6h0.85M286.6 257.5h0.85M273.8 247.1h0.85M292.7 255.5h0.85M282.1 266.7h0.85M291.5 260.2h0.85M288.3 263.9h0.85M282.7 255.7h0.85M268.5 259.9h0.85M276.6 257.2h0.85M297.1 256.9h0.85M299.9 264.3h0.85M301.4 261.0h0.85M299.4 259.9h0.85M280.4 256.5h0.85M289.1 257.6h0.85M287.4 256.6h0.85M268.1 263.5h0.85M292.4 257.1h0.85M286.5 253.9h0.85M286.8 260.8h0.85M316.5 252.6h0.85M285.6 256.9h0.85M270.5 256.7h0.85M291.6 260.5h0.85M285.3 262.6h0.85M297.7 264.1h0.85M286.9 258.9h0.85M271.3 252.3h0.85M297.5 255.8h0.85M268.0 255.5h0.85M286.1 254.9h0.85M286.5 254.3h0.85M301.4 259.1h0.85M300.3 257.6h0.85M271.2 257.9h0.85M308.0 261.0h0.85M285.4 260.0h0.85M292.5 258.3h0.85M285.8 256.2h0.85M279.5 254.2h0.85M267.6 255.5h0.85M297.4 254.7h0.85M286.6 266.3h0.85M317.2 258.4h0.85M278.5 256.2h0.85M269.1 256.5h0.85M244.1 254.9h0.85M285.1 258.3h0.85M293.7 254.9h0.85M286.9 263.8h0.85M304.8 257.9h0.85M267.8 255.5h0.85M278.5 253.7h0.85M304.3 256.0h0.85M270.9 260.1h0.85M286.0 267.5h0.85M260.6 257.6h0.85M258.0 267.0h0.85M294.9 258.9h0.85M303.7 259.4h0.85M296.4 249.8h0.85M298.9 257.5h0.85M275.6 254.9h0.85M274.7 251.3h0.85M263.4 254.6h0.85M261.9 260.8h0.85M273.7 257.1h0.85M288.4 257.9h0.85M273.5 255.0h0.85M295.1 259.3h0.85M266.6 254.0h0.85M279.7 250.9h0.85M294.3 254.5h0.85M286.6 255.4h0.85M263.8 258.0h0.85M274.1 243.6h0.85M292.3 256.4h0.85M288.5 243.5h0.85M313.7 258.0h0.85M284.9 261.1h0.85M292.0 252.7h0.85M313.1 255.3h0.85M279.3 256.4h0.85M290.4 255.3h0.85M300.8 245.2h0.85M254.6 246.7h0.85M264.7 256.9h0.85M294.7 257.0h0.85M286.7 260.7h0.85M270.8 258.0h0.85M287.6 258.8h0.85M320.9 260.0h0.85M323.8 256.6h0.85M293.9 265.2h0.85M263.6 259.1h0.85M293.6 254.4h0.85M271.8 257.4h0.85M273.2 254.5h0.85M305.9 259.3h0.85M300.8 253.0h0.85M282.3 259.7h0.85M277.2 250.5h0.85M268.7 256.8h0.85M298.5 257.6h0.85M280.2 258.0h0.85M296.0 262.0h0.85M245.1 261.1h0.85M261.4 255.1h0.85M276.9 255.6h0.85M274.1 255.8h0.85M287.7 252.3h0.85M277.3 253.5h0.85M298.5 256.7h0.85M264.1 258.2h0.85M297.7 262.3h0.85M281.0 258.5h0.85M273.6 255.2h0.85M281.8 255.6h0.85M282.7 257.0h0.85M266.1 253.3h0.85M268.0 255.7h0.85M278.5 256.8h0.85M281.7 258.3h0.85M306.7 257.2h0.85M260.8 254.6h0.85M277.4 254.9h0.85M289.7 258.5h0.85M306.2 260.3h0.85M246.0 255.4h0.85M273.9 257.8h0.85M271.5 246.1h0.85M293.6 254.9h0.85M270.8 253.7h0.85M303.7 255.4h0.85M280.5 255.7h0.85M288.4 252.5h0.85M303.3 253.3h0.85M264.7 257.6h0.85M268.2 254.4h0.85M278.0 262.4h0.85M290.2 256.1h0.85M275.2 258.1h0.85M287.5 253.4h0.85M292.7 253.3h0.85M267.6 258.2h0.85M279.7 257.0h0.85M292.6 259.7h0.85M280.6 251.7h0.85M287.5 252.5h0.85M260.9 250.1h0.85M292.0 253.5h0.85M246.3 259.5h0.85M268.6 256.8h0.85M270.2 256.3h0.85M285.9 264.7h0.85M275.2 252.0h0.85M248.4 259.3h0.85M270.2 265.8h0.85M275.4 254.8h0.85M283.6 253.2h0.85M279.2 256.4h0.85M273.9 255.3h0.85M305.5 255.4h0.85M303.9 253.5h0.85M305.3 259.8h0.85M265.7 245.3h0.85M305.5 253.0h0.85M274.9 256.5h0.85M289.8 254.1h0.85M286.3 255.5h0.85M288.6 261.5h0.85M299.0 254.9h0.85M285.7 254.4h0.85M276.4 261.5h0.85M271.8 257.4h0.85M283.1 260.4h0.85M259.0 259.6h0.85M275.5 260.6h0.85M284.3 260.4h0.85M294.9 260.8h0.85M298.5 256.4h0.85M316.3 258.7h0.85M256.0 259.9h0.85M255.2 265.8h0.85M288.5 263.1h0.85M246.1 255.0h0.85M278.1 249.1h0.85M285.1 256.7h0.85M290.5 262.9h0.85M288.1 260.0h0.85M279.6 255.6h0.85M276.5 256.3h0.85M277.2 254.1h0.85M301.9 256.8h0.85M286.2 265.2h0.85M273.2 261.0h0.85M290.6 264.0h0.85M306.1 253.7h0.85M296.1 257.6h0.85M261.6 257.6h0.85M284.0 251.3h0.85M273.9 268.5h0.85M286.7 257.8h0.85M278.9 254.5h0.85M281.4 256.0h0.85M296.7 258.4h0.85M301.0 255.1h0.85M285.3 260.4h0.85M299.4 255.3h0.85M264.0 269.1h0.85M266.7 255.3h0.85M273.0 255.4h0.85M293.8 256.9h0.85M266.3 251.2h0.85M282.4 263.9h0.85M285.9 250.2h0.85M294.3 255.6h0.85M274.2 257.3h0.85M273.4 258.2h0.85M302.7 256.2h0.85M286.9 253.6h0.85M289.0 253.9h0.85M282.8 258.5h0.85M271.8 256.9h0.85M276.2 256.6h0.85M271.9 260.6h0.85M292.4 252.0h0.85M291.2 269.5h0.85M295.4 254.8h0.85M277.2 252.3h0.85M294.1 262.8h0.85M278.3 254.7h0.85M283.5 256.8h0.85M278.7 254.9h0.85M282.6 256.2h0.85M283.9 255.4h0.85M287.0 251.6h0.85M280.8 255.5h0.85M272.2 258.3h0.85M276.7 252.5h0.85M284.1 253.8h0.85M301.6 251.5h0.85M278.1 256.8h0.85M296.6 258.9h0.85M292.9 258.4h0.85M304.0 253.8h0.85M273.6 254.1h0.85M283.5 255.9h0.85M308.0 256.5h0.85M274.1 251.2h0.85M250.0 256.8h0.85M264.3 255.6h0.85M289.0 256.2h0.85M271.7 257.0h0.85M290.3 259.4h0.85M282.4 257.0h0.85M269.4 256.9h0.85M293.8 257.9h0.85M288.6 258.5h0.85M283.3 256.2h0.85M296.1 261.6h0.85M287.6 257.4h0.85M299.6 254.5h0.85M282.8 262.0h0.85M272.6 262.1h0.85M316.0 252.2h0.85M291.8 249.0h0.85M297.7 256.5h0.85M287.8 253.2h0.85M268.4 260.4h0.85M291.5 257.1h0.85M291.9 257.6h0.85M299.9 253.6h0.85M279.5 267.6h0.85M305.7 247.2h0.85M272.4 256.3h0.85M280.2 259.5h0.85M324.6 251.8h0.85M281.5 260.8h0.85M299.0 254.5h0.85M274.2 258.8h0.85M275.6 259.7h0.85M270.0 259.5h0.85M269.6 257.7h0.85M288.6 259.4h0.85M270.5 257.0h0.85M260.2 260.4h0.85M305.1 259.2h0.85M274.3 258.2h0.85M262.9 255.2h0.85M304.3 256.0h0.85M279.0 253.7h0.85M259.5 257.2h0.85M281.1 256.5h0.85M273.7 254.8h0.85M316.2 251.5h0.85M275.7 258.2h0.85M280.7 258.0h0.85M280.8 253.5h0.85M298.2 261.0h0.85M291.2 255.0h0.85M309.2 255.2h0.85M300.7 259.0h0.85M293.1 257.6h0.85M289.1 256.1h0.85M300.2 254.8h0.85M298.4 260.4h0.85M270.0 253.2h0.85M271.6 262.1h0.85M300.5 259.1h0.85M263.4 257.5h0.85M275.8 255.5h0.85M270.6 262.8h0.85M288.9 254.0h0.85M308.2 258.6h0.85M301.6 267.0h0.85M304.1 257.5h0.85M285.3 264.9h0.85M288.8 259.5h0.85M298.4 259.5h0.85M271.5 258.3h0.85M273.6 257.5h0.85M295.1 249.1h0.85M279.7 264.3h0.85M272.2 254.8h0.85M271.5 260.8h0.85M295.7 255.1h0.85M274.7 260.2h0.85M304.8 256.4h0.85M274.5 258.4h0.85M316.6 261.8h0.85M263.4 256.5h0.85M276.4 257.5h0.85M285.5 258.4h0.85M247.9 252.1h0.85M276.1 258.9h0.85M267.6 252.8h0.85M283.5 248.0h0.85M295.0 255.1h0.85M274.1 258.6h0.85M290.9 260.4h0.85M278.1 254.9h0.85M289.6 247.8h0.85M285.8 255.7h0.85M299.9 250.9h0.85M288.7 263.3h0.85M284.2 256.5h0.85M274.0 258.1h0.85M260.0 248.2h0.85M274.4 261.2h0.85M286.8 257.9h0.85M267.3 260.7h0.85M290.4 256.6h0.85M289.4 257.1h0.85M300.9 260.9h0.85M260.2 259.1h0.85M296.8 255.3h0.85M277.6 257.0h0.85M265.8 259.3h0.85M287.4 251.8h0.85M282.9 255.9h0.85M300.4 260.3h0.85M255.7 253.1h0.85M298.4 258.4h0.85M293.0 261.7h0.85M288.9 259.9h0.85M300.2 259.4h0.85M278.1 248.9h0.85M300.7 257.6h0.85M292.0 261.1h0.85M283.5 255.7h0.85M289.3 253.1h0.85M270.1 258.9h0.85M288.8 255.6h0.85M287.8 253.4h0.85M259.7 252.9h0.85M297.6 258.4h0.85M280.3 258.9h0.85M271.7 258.7h0.85M301.8 259.8h0.85M295.4 254.0h0.85M303.0 258.4h0.85M279.1 260.7h0.85M269.1 256.0h0.85M262.5 258.3h0.85M279.6 260.8h0.85M287.2 258.0h0.85M276.3 258.6h0.85M290.8 256.2h0.85M299.1 254.2h0.85M282.1 265.0h0.85M273.5 259.6h0.85M297.0 256.5h0.85M274.6 259.0h0.85M303.8 259.0h0.85M289.6 256.3h0.85M288.8 255.0h0.85M273.0 254.2h0.85M288.1 260.9h0.85M277.2 253.8h0.85M271.5 258.9h0.85M289.0 253.3h0.85M292.6 256.8h0.85M303.1 254.9h0.85M293.9 261.5h0.85M274.9 255.8h0.85M313.2 250.2h0.85M283.8 254.9h0.85M271.7 258.2h0.85M276.1 254.7h0.85M283.9 255.6h0.85M273.2 252.2h0.85M299.1 261.9h0.85M291.5 259.7h0.85M267.5 258.5h0.85M302.3 268.4h0.85M275.0 258.1h0.85M285.8 255.7h0.85M295.6 258.0h0.85M263.4 250.7h0.85M283.8 258.3h0.85M282.1 257.1h0.85M287.0 257.6h0.85M292.5 258.7h0.85M286.0 260.1h0.85M298.5 261.4h0.85M289.9 253.5h0.85M267.9 256.9h0.85M292.2 251.8h0.85M309.8 252.8h0.85M265.7 248.4h0.85M279.6 251.5h0.85M289.7 258.3h0.85M288.3 256.2h0.85M277.7 253.0h0.85M287.6 257.9h0.85M293.6 257.6h0.85M285.1 256.9h0.85M286.5 259.8h0.85M273.3 258.1h0.85M264.5 260.4h0.85M281.1 253.6h0.85M292.0 256.6h0.85M273.8 257.4h0.85M282.7 251.5h0.85M292.9 246.2h0.85M272.2 255.9h0.85M273.2 251.7h0.85M286.0 248.3h0.85M273.0 259.0h0.85M296.3 262.8h0.85M266.8 251.7h0.85M282.0 256.8h0.85M270.8 259.6h0.85M294.0 263.0h0.85M245.2 252.3h0.85M285.0 253.8h0.85M263.4 257.2h0.85M271.5 261.5h0.85M275.8 258.6h0.85M280.9 257.9h0.85M292.4 262.3h0.85M287.1 255.3h0.85M274.5 255.8h0.85M286.6 254.2h0.85M297.4 255.4h0.85M278.1 262.5h0.85M302.6 253.8h0.85M287.5 261.0h0.85M266.4 258.7h0.85M298.8 261.3h0.85M287.6 254.1h0.85M269.0 253.1h0.85M277.7 260.3h0.85M306.9 262.1h0.85M282.2 255.6h0.85M298.9 261.8h0.85M265.0 255.7h0.85M274.0 256.5h0.85M292.8 256.9h0.85M287.3 256.5h0.85M273.1 255.0h0.85M281.4 259.6h0.85M307.2 257.3h0.85M276.3 258.9h0.85M271.8 254.8h0.85M286.0 271.0h0.85M284.2 255.6h0.85M289.8 257.6h0.85M292.2 258.2h0.85M277.3 252.8h0.85M277.4 257.1h0.85M297.0 255.3h0.85M303.7 257.4h0.85M283.6 258.7h0.85M306.2 258.9h0.85M291.7 261.1h0.85M282.9 256.8h0.85M284.3 255.1h0.85M274.4 254.8h0.85M324.5 251.6h0.85M271.5 260.1h0.85M309.9 257.2h0.85M275.0 259.2h0.85M280.7 263.7h0.85M290.0 255.2h0.85M272.2 254.7h0.85M269.6 261.0h0.85M303.3 261.9h0.85M288.7 257.1h0.85M296.7 260.4h0.85M277.7 257.6h0.85M291.8 257.3h0.85M294.0 260.4h0.85M285.1 253.0h0.85M292.4 259.2h0.85M288.0 259.7h0.85M278.9 266.9h0.85M287.8 257.0h0.85M262.7 261.2h0.85M269.7 253.1h0.85M265.6 257.6h0.85M295.4 251.3h0.85M269.9 258.2h0.85M282.3 256.3h0.85M288.1 258.0h0.85M253.0 250.5h0.85M282.4 255.5h0.85M305.4 257.9h0.85M263.1 258.5h0.85M288.7 259.2h0.85M295.0 250.1h0.85M259.3 254.6h0.85M281.4 258.7h0.85M276.9 263.0h0.85M282.3 254.2h0.85M282.1 262.5h0.85M277.6 262.1h0.85M301.6 256.3h0.85M276.5 262.4h0.85M265.1 260.8h0.85M291.3 255.9h0.85M276.5 254.7h0.85M275.1 261.6h0.85M297.5 251.8h0.85M278.9 257.5h0.85M273.3 257.1h0.85M294.3 258.2h0.85M273.4 256.5h0.85M281.3 254.1h0.85M237.4 253.8h0.85M280.2 248.2h0.85M272.9 265.6h0.85M284.3 254.1h0.85M281.8 254.0h0.85M257.6 257.9h0.85M261.9 257.9h0.85M287.9 254.5h0.85M268.7 254.1h0.85M292.0 257.6h0.85M330.1 252.0h0.85M330.5 269.4h0.85M273.3 262.7h0.85M280.7 255.7h0.85M324.9 254.6h0.85M296.5 261.3h0.85M269.1 256.3h0.85M278.8 254.3h0.85M250.5 251.0h0.85M280.5 249.8h0.85M294.3 255.5h0.85M268.0 254.4h0.85M279.8 252.9h0.85M270.2 259.3h0.85M265.9 264.8h0.85M258.4 256.0h0.85M268.6 258.4h0.85M263.0 258.9h0.85M275.5 262.2h0.85M287.0 251.5h0.85M280.1 257.3h0.85M284.9 255.2h0.85M265.9 258.7h0.85M284.7 263.4h0.85M270.5 254.5h0.85M285.6 265.8h0.85M293.0 269.3h0.85M289.5 257.5h0.85M284.9 258.7h0.85M276.7 246.9h0.85M265.0 259.7h0.85M297.3 253.1h0.85M266.5 255.6h0.85M282.4 253.3h0.85M283.2 255.7h0.85M279.2 261.1h0.85M299.9 260.0h0.85M283.1 261.2h0.85M289.5 255.0h0.85M283.6 259.5h0.85M298.2 255.7h0.85M296.0 258.3h0.85M281.3 254.6h0.85M300.9 259.7h0.85M287.6 259.6h0.85M276.8 255.4h0.85M280.3 259.5h0.85M263.8 259.2h0.85M270.0 255.7h0.85M303.9 256.2h0.85M293.2 260.2h0.85M288.4 250.7h0.85M259.7 251.9h0.85M283.4 255.8h0.85M292.7 251.9h0.85M295.1 259.4h0.85M283.4 256.4h0.85M284.6 256.2h0.85M267.9 258.1h0.85M267.6 264.7h0.85M285.0 255.3h0.85M304.1 255.5h0.85M292.9 254.5h0.85M294.5 255.8h0.85M313.5 257.7h0.85M281.9 257.4h0.85M284.7 252.8h0.85M289.7 255.6h0.85M294.0 254.7h0.85M276.4 261.1h0.85M296.7 258.5h0.85M297.7 267.2h0.85M293.7 265.8h0.85M270.7 254.4h0.85M303.7 257.1h0.85M300.8 261.3h0.85M278.9 258.1h0.85M292.8 252.5h0.85M295.7 258.7h0.85M276.0 247.9h0.85M276.3 255.6h0.85M260.0 255.5h0.85M289.9 259.7h0.85M249.1 255.0h0.85M301.1 263.6h0.85M277.3 256.4h0.85M261.1 258.1h0.85M288.0 257.2h0.85M284.7 253.9h0.85M284.4 259.2h0.85M260.4 257.2h0.85M287.1 261.2h0.85M285.3 254.1h0.85M268.5 259.3h0.85M283.5 256.9h0.85M284.5 266.4h0.85M307.2 251.3h0.85M281.3 259.6h0.85M267.4 255.9h0.85M286.7 254.9h0.85M295.0 259.5h0.85M273.9 255.0h0.85M281.6 260.0h0.85M297.5 261.7h0.85M289.6 254.8h0.85M292.2 262.1h0.85M304.9 257.3h0.85M278.0 256.8h0.85M286.6 262.7h0.85M284.9 258.3h0.85M280.8 257.1h0.85M279.8 252.7h0.85M282.4 254.9h0.85M284.2 256.9h0.85M284.9 255.3h0.85M285.5 262.0h0.85M300.0 254.7h0.85M283.0 254.0h0.85M325.1 255.6h0.85M286.5 258.8h0.85M290.7 253.2h0.85M258.1 261.0h0.85M274.6 272.8h0.85M260.8 255.6h0.85M281.7 254.4h0.85M269.2 256.9h0.85M291.7 254.9h0.85M262.5 256.6h0.85M300.6 254.5h0.85M271.9 258.3h0.85M302.0 259.3h0.85M268.9 251.9h0.85M287.1 257.8h0.85M270.9 255.7h0.85M276.3 255.4h0.85M295.4 259.2h0.85M280.6 253.4h0.85M274.7 270.7h0.85M256.1 255.9h0.85M258.0 255.0h0.85M290.1 256.8h0.85M281.3 256.5h0.85M271.4 252.2h0.85M288.8 254.7h0.85M269.0 258.4h0.85M314.9 261.5h0.85M297.0 264.4h0.85M281.2 260.0h0.85M317.1 249.3h0.85M282.8 256.3h0.85M292.4 255.3h0.85M284.9 254.5h0.85M309.1 258.8h0.85M289.1 257.7h0.85M295.7 255.9h0.85M281.5 262.5h0.85M300.0 258.3h0.85M289.5 251.9h0.85M285.7 259.6h0.85M258.2 252.7h0.85M279.9 258.9h0.85M281.1 259.3h0.85M268.5 259.1h0.85M277.7 259.6h0.85M274.6 253.4h0.85M284.9 262.9h0.85M307.0 256.9h0.85M302.0 255.5h0.85M296.9 261.4h0.85M292.4 259.0h0.85M278.7 259.2h0.85M288.5 258.6h0.85M296.1 261.4h0.85M279.4 256.8h0.85M275.3 252.3h0.85M269.4 256.1h0.85M275.6 258.1h0.85M288.2 258.6h0.85M274.2 258.6h0.85M286.5 259.6h0.85M282.5 260.5h0.85M275.4 254.3h0.85M292.7 258.7h0.85M292.1 258.7h0.85M280.4 254.4h0.85M280.3 258.4h0.85M284.4 257.7h0.85M290.5 256.5h0.85M276.1 255.0h0.85M261.1 252.9h0.85M292.3 255.2h0.85M286.7 258.0h0.85M268.1 259.9h0.85M299.3 257.5h0.85M289.5 254.5h0.85M279.5 261.3h0.85M294.9 258.4h0.85M304.3 258.6h0.85M257.3 252.0h0.85M275.6 255.5h0.85M292.0 256.3h0.85M275.8 251.3h0.85M272.3 251.4h0.85M281.6 255.9h0.85M314.2 257.1h0.85M278.2 260.0h0.85M281.7 254.8h0.85M274.0 259.1h0.85M286.4 253.4h0.85M292.0 253.1h0.85M284.3 255.9h0.85M291.7 262.6h0.85M293.5 257.3h0.85M276.8 257.1h0.85M280.3 259.3h0.85M283.5 256.7h0.85M280.9 253.4h0.85M279.3 255.3h0.85M279.8 257.2h0.85M281.3 256.1h0.85M281.4 263.0h0.85M284.5 265.1h0.85M270.3 253.5h0.85M285.8 256.7h0.85M286.5 262.1h0.85M299.9 261.6h0.85M288.3 251.0h0.85M298.8 262.0h0.85M288.6 256.7h0.85M273.8 258.1h0.85M295.8 257.1h0.85M265.6 260.4h0.85M305.8 262.3h0.85M273.8 258.9h0.85M285.3 255.3h0.85M301.8 258.2h0.85M272.4 257.0h0.85M289.0 263.4h0.85M294.3 258.3h0.85M289.4 248.1h0.85M283.9 256.3h0.85M274.8 253.8h0.85M300.3 245.5h0.85M292.6 259.0h0.85M285.5 257.0h0.85M288.2 257.7h0.85M284.1 257.7h0.85M282.1 252.9h0.85M270.3 263.6h0.85M281.0 255.6h0.85M272.6 256.0h0.85M276.3 263.2h0.85M287.9 251.9h0.85M291.9 252.5h0.85M292.2 257.5h0.85M294.1 259.3h0.85M278.2 255.0h0.85M290.9 259.6h0.85M278.0 255.7h0.85M299.3 262.2h0.85M283.9 260.3h0.85M290.4 257.9h0.85M292.2 257.2h0.85M307.8 257.0h0.85M286.7 252.9h0.85M255.6 257.5h0.85M276.1 253.0h0.85M264.3 268.4h0.85M272.6 260.6h0.85M278.6 256.6h0.85M275.2 252.8h0.85M294.3 257.7h0.85M285.6 257.6h0.85M287.7 256.7h0.85M281.5 258.9h0.85M285.7 256.8h0.85M285.1 265.7h0.85M266.2 248.3h0.85M294.7 262.4h0.85M287.4 260.7h0.85M280.8 257.4h0.85M296.0 260.0h0.85M250.6 270.6h0.85M278.1 253.4h0.85M259.5 259.5h0.85M278.9 241.7h0.85M298.4 259.4h0.85M297.4 257.2h0.85M287.2 257.0h0.85M290.1 257.2h0.85M288.5 255.7h0.85M288.1 256.3h0.85M283.2 258.4h0.85M275.3 260.5h0.85M293.6 255.6h0.85M298.1 256.6h0.85M270.6 253.8h0.85M274.9 256.0h0.85M284.4 260.5h0.85M272.9 253.7h0.85M301.6 263.2h0.85M290.0 261.5h0.85M268.0 253.2h0.85M286.3 252.7h0.85M275.3 254.1h0.85M276.1 264.1h0.85M285.5 259.7h0.85M262.4 257.6h0.85M294.7 262.1h0.85M264.5 257.3h0.85M311.5 258.4h0.85M281.4 258.4h0.85M303.6 265.7h0.85M241.4 256.3h0.85M318.2 251.9h0.85M299.5 262.3h0.85M273.3 253.0h0.85M273.1 253.7h0.85M280.6 247.6h0.85M287.7 256.7h0.85M271.3 256.8h0.85M292.6 258.9h0.85M301.2 253.3h0.85M276.6 255.8h0.85M284.7 265.0h0.85M268.1 260.4h0.85M287.0 258.7h0.85M310.7 260.2h0.85M269.2 257.2h0.85M277.8 258.7h0.85M296.0 261.0h0.85M278.6 259.4h0.85M281.9 258.8h0.85M279.7 256.9h0.85M259.9 258.6h0.85M296.7 263.2h0.85M277.6 259.6h0.85M285.0 255.0h0.85M284.3 256.5h0.85M275.4 256.5h0.85M283.3 255.6h0.85M291.6 252.5h0.85M295.3 254.1h0.85M278.1 254.1h0.85M257.8 250.7h0.85M270.9 255.7h0.85M287.0 257.2h0.85M273.1 255.5h0.85M283.0 258.0h0.85M262.1 258.7h0.85M267.3 253.5h0.85M296.7 259.0h0.85M318.4 247.3h0.85M281.7 257.8h0.85M283.7 258.1h0.85M290.2 254.5h0.85M272.3 257.1h0.85M263.1 262.1h0.85M305.6 257.6h0.85M267.2 252.7h0.85M276.8 252.9h0.85M296.5 256.3h0.85M261.7 258.3h0.85M286.6 259.4h0.85M253.7 249.7h0.85M298.3 265.0h0.85M276.3 257.5h0.85M292.8 258.6h0.85M293.8 258.2h0.85M297.5 255.6h0.85M280.6 259.9h0.85M285.0 256.0h0.85M287.0 254.1h0.85M275.1 254.1h0.85M284.3 257.7h0.85M296.5 259.3h0.85M252.6 258.0h0.85M269.9 258.0h0.85M279.3 259.7h0.85M288.8 259.0h0.85M276.3 253.9h0.85M296.8 258.1h0.85M274.3 257.3h0.85M275.9 269.5h0.85M309.6 263.9h0.85M284.8 256.2h0.85M271.3 255.8h0.85M284.8 255.3h0.85M290.5 254.9h0.85M282.7 255.9h0.85M304.2 254.6h0.85M283.8 256.9h0.85M303.8 256.7h0.85M280.6 258.9h0.85M283.0 253.7h0.85M253.1 251.8h0.85M287.2 259.8h0.85M275.0 254.8h0.85M294.7 258.2h0.85M249.4 254.0h0.85M271.7 260.3h0.85M268.2 248.2h0.85M263.5 257.2h0.85M247.9 250.5h0.85M259.4 257.4h0.85M288.5 257.4h0.85M283.3 255.4h0.85M249.0 253.0h0.85M268.0 255.8h0.85M281.3 255.0h0.85M272.7 251.2h0.85M261.0 261.8h0.85M286.7 256.8h0.85M273.3 267.1h0.85M281.9 252.8h0.85M298.5 255.1h0.85M284.5 258.8h0.85M286.7 257.2h0.85M304.6 257.8h0.85M272.1 257.3h0.85M298.9 261.8h0.85M276.3 258.4h0.85M287.4 252.7h0.85M312.9 262.0h0.85M300.7 269.4h0.85M285.8 256.7h0.85M272.8 254.1h0.85M297.3 258.4h0.85M301.3 259.7h0.85M294.6 258.7h0.85M319.8 249.7h0.85M264.6 256.1h0.85M273.0 250.3h0.85M247.4 262.1h0.85M278.7 263.2h0.85M288.7 256.5h0.85M293.5 256.9h0.85M286.1 255.9h0.85M281.7 260.7h0.85M279.2 257.2h0.85M287.0 259.8h0.85M312.7 262.4h0.85M264.8 253.8h0.85M286.5 254.4h0.85M310.4 257.9h0.85M268.5 260.9h0.85M290.3 259.4h0.85M294.9 260.8h0.85M288.3 256.3h0.85M257.8 257.2h0.85M295.2 267.3h0.85M287.4 258.2h0.85M265.9 264.8h0.85M299.4 256.1h0.85M295.1 255.9h0.85M292.0 258.2h0.85M279.6 259.4h0.85M267.8 253.6h0.85M284.4 258.8h0.85M255.5 251.3h0.85M263.1 264.3h0.85M280.5 255.4h0.85M299.2 253.9h0.85M297.5 256.5h0.85M287.2 255.2h0.85M301.3 256.6h0.85M284.4 254.5h0.85M282.2 255.7h0.85M302.1 258.6h0.85M265.4 259.1h0.85M271.3 261.7h0.85M288.4 260.8h0.85M285.4 257.0h0.85M292.8 253.4h0.85M328.5 256.6h0.85M268.6 254.3h0.85M287.0 257.2h0.85M272.3 261.9h0.85M286.6 259.0h0.85M298.5 257.7h0.85M307.5 255.6h0.85M285.6 261.0h0.85M319.5 253.8h0.85M291.3 253.1h0.85M291.9 252.3h0.85M281.5 251.6h0.85M291.1 264.8h0.85M284.0 254.6h0.85M277.7 259.8h0.85M244.7 257.1h0.85M284.2 255.2h0.85M299.7 251.6h0.85M288.6 253.2h0.85M314.9 257.2h0.85M283.0 259.6h0.85M285.3 261.4h0.85M291.5 258.3h0.85M276.1 258.9h0.85M279.3 254.7h0.85M289.3 260.6h0.85M290.6 258.3h0.85M278.3 256.9h0.85M284.2 258.0h0.85M268.7 255.0h0.85M281.6 258.1h0.85M276.5 256.9h0.85M249.4 259.9h0.85M302.5 255.4h0.85M272.6 260.1h0.85M275.4 263.1h0.85M273.2 262.5h0.85M287.1 258.6h0.85M265.9 257.5h0.85M251.4 251.7h0.85M272.0 257.7h0.85M293.0 259.5h0.85M280.0 259.2h0.85M308.9 254.8h0.85M284.1 253.8h0.85M254.5 256.0h0.85M263.8 256.7h0.85M298.1 258.7h0.85M258.4 260.1h0.85M303.6 256.6h0.85M286.4 255.5h0.85M298.2 259.6h0.85M273.5 258.4h0.85M275.8 258.0h0.85M296.4 253.8h0.85M252.4 257.7h0.85M311.1 252.3h0.85M281.4 253.8h0.85M308.1 254.7h0.85M287.2 268.8h0.85M279.6 253.9h0.85M271.5 256.5h0.85M236.7 263.9h0.85M267.8 254.7h0.85M274.8 255.4h0.85M281.9 256.6h0.85M269.2 259.1h0.85M283.3 254.1h0.85M291.3 256.6h0.85M282.7 249.1h0.85M289.8 257.8h0.85M298.4 258.1h0.85M286.0 255.1h0.85M304.1 257.2h0.85M292.1 260.4h0.85M308.0 258.1h0.85M305.2 259.3h0.85M280.0 254.7h0.85M269.0 256.1h0.85M278.1 257.0h0.85M267.3 258.2h0.85M303.2 259.4h0.85M288.5 254.3h0.85M266.2 259.5h0.85M285.6 258.8h0.85M264.6 264.8h0.85M262.7 255.3h0.85M295.2 260.1h0.85M299.9 258.8h0.85M303.4 255.8h0.85M280.8 255.2h0.85M268.8 260.2h0.85M284.2 256.4h0.85M282.3 254.9h0.85M291.4 258.6h0.85M271.2 260.8h0.85M253.1 255.3h0.85M292.7 258.7h0.85M282.4 258.1h0.85M287.0 258.5h0.85M257.4 254.7h0.85M297.1 256.3h0.85M264.1 263.2h0.85M282.8 254.9h0.85M302.0 259.8h0.85M303.8 254.5h0.85M303.4 261.9h0.85M293.1 261.7h0.85M265.3 248.8h0.85M262.1 254.0h0.85M285.5 254.2h0.85M273.5 260.8h0.85M259.5 265.4h0.85M279.8 257.1h0.85M296.4 251.1h0.85M283.6 260.2h0.85M293.4 256.2h0.85M266.9 255.1h0.85M281.3 256.5h0.85M257.3 253.3h0.85M290.8 262.4h0.85M298.6 261.2h0.85M275.3 255.6h0.85M287.1 255.3h0.85M306.0 256.6h0.85M268.4 261.6h0.85M266.8 260.2h0.85M276.9 257.7h0.85M282.1 259.5h0.85M285.1 256.1h0.85M314.0 259.5h0.85M282.7 256.3h0.85M300.7 259.3h0.85M264.7 256.6h0.85M277.3 258.0h0.85M280.9 259.3h0.85M273.4 254.0h0.85M311.6 254.0h0.85M300.8 254.8h0.85M276.5 255.0h0.85M271.3 258.0h0.85M271.8 258.7h0.85M272.2 256.6h0.85M286.1 255.7h0.85M262.6 256.6h0.85M304.5 255.7h0.85M293.7 257.9h0.85M312.4 248.6h0.85M280.9 255.3h0.85M276.9 255.7h0.85M291.5 257.4h0.85M272.9 262.3h0.85M264.7 257.3h0.85M266.7 254.1h0.85M299.1 268.0h0.85M311.7 254.4h0.85M271.5 258.3h0.85M291.1 258.5h0.85M277.2 258.2h0.85M290.1 256.9h0.85M296.0 256.7h0.85M278.5 257.8h0.85M273.4 253.0h0.85M265.7 259.8h0.85M302.7 257.9h0.85M293.2 253.8h0.85M302.7 252.7h0.85M289.2 250.4h0.85M261.6 256.7h0.85M299.7 257.8h0.85M299.6 254.3h0.85M289.3 258.7h0.85M285.9 263.0h0.85M290.7 255.5h0.85M278.1 254.6h0.85M280.8 259.8h0.85M269.1 258.3h0.85M278.8 258.6h0.85M246.6 254.3h0.85M282.2 255.0h0.85M282.2 262.3h0.85M278.8 261.4h0.85M291.3 258.9h0.85M285.2 257.8h0.85M281.9 256.6h0.85M290.2 255.9h0.85M276.3 257.9h0.85M324.6 257.6h0.85M284.8 256.9h0.85M280.3 256.2h0.85M285.6 256.3h0.85M284.4 254.9h0.85M300.2 257.4h0.85M310.1 268.2h0.85M290.1 259.6h0.85M277.5 252.8h0.85M286.0 256.3h0.85M264.4 259.3h0.85M256.8 249.3h0.85M295.8 268.6h0.85M280.9 257.2h0.85M295.3 258.2h0.85M301.2 259.2h0.85M274.7 259.0h0.85M299.8 258.8h0.85M270.1 260.3h0.85M271.7 258.7h0.85M283.3 258.2h0.85M290.7 259.8h0.85M275.8 261.6h0.85M265.6 260.2h0.85M293.7 248.8h0.85M281.2 258.0h0.85M301.6 256.9h0.85M266.9 255.6h0.85M291.4 257.8h0.85M283.3 256.2h0.85M292.8 257.9h0.85M241.5 254.6h0.85M293.3 259.5h0.85M294.6 256.1h0.85M291.4 256.9h0.85M291.2 257.1h0.85M289.1 254.4h0.85M260.3 258.8h0.85M270.5 261.1h0.85M280.9 259.2h0.85M261.2 256.1h0.85M265.8 258.6h0.85M278.9 247.9h0.85M267.9 257.5h0.85M275.1 259.3h0.85M285.0 258.2h0.85M274.4 256.5h0.85M259.4 250.3h0.85M285.9 255.5h0.85M298.6 255.9h0.85M250.1 259.2h0.85M279.9 253.1h0.85M301.4 259.3h0.85M275.8 259.3h0.85M241.7 258.3h0.85M282.2 257.7h0.85M291.1 256.7h0.85M305.0 256.6h0.85M300.7 258.1h0.85M284.9 255.0h0.85M287.5 258.8h0.85M278.4 258.8h0.85M289.5 258.1h0.85M277.6 253.9h0.85M286.0 254.2h0.85M278.5 262.4h0.85M287.4 259.5h0.85M283.9 253.5h0.85M276.8 252.7h0.85M299.9 257.2h0.85M303.5 255.3h0.85M289.6 257.8h0.85M269.8 253.2h0.85M270.4 257.2h0.85M246.5 256.3h0.85M287.5 261.9h0.85M260.4 256.9h0.85M270.8 253.7h0.85M277.0 257.9h0.85M277.2 254.8h0.85M285.9 264.5h0.85M278.5 259.2h0.85M275.5 259.0h0.85M278.0 254.3h0.85M286.6 254.6h0.85M295.7 258.4h0.85M278.9 257.8h0.85M249.2 260.6h0.85M276.7 262.3h0.85M277.2 252.0h0.85M274.9 255.9h0.85M282.2 256.6h0.85M298.2 261.2h0.85M263.4 255.9h0.85M268.6 255.9h0.85M268.2 257.2h0.85M275.9 251.4h0.85M286.5 260.9h0.85M299.6 256.1h0.85M275.2 253.7h0.85M273.5 257.1h0.85M304.7 251.1h0.85M294.1 260.1h0.85M278.2 251.6h0.85M265.0 256.6h0.85M274.0 258.6h0.85M291.6 254.5h0.85M298.7 264.1h0.85M275.7 259.5h0.85M266.1 253.5h0.85M284.1 254.5h0.85M321.3 255.6h0.85M266.3 250.1h0.85M273.8 259.6h0.85M277.6 256.6h0.85M282.7 257.8h0.85M269.2 258.6h0.85M280.7 257.8h0.85M305.2 259.8h0.85M294.7 254.5h0.85M287.6 260.1h0.85M301.7 257.8h0.85M288.4 256.1h0.85M284.7 258.0h0.85M283.6 260.1h0.85M301.4 256.9h0.85M274.7 252.3h0.85M298.0 249.9h0.85M262.3 249.3h0.85M278.5 255.5h0.85M272.0 259.5h0.85M299.2 262.6h0.85M308.6 261.3h0.85M291.9 255.0h0.85M275.8 256.7h0.85M286.8 256.5h0.85M296.0 257.1h0.85M287.0 259.7h0.85M278.8 258.5h0.85M287.8 254.8h0.85M311.7 259.6h0.85M296.0 256.6h0.85M273.9 255.2h0.85M283.8 270.7h0.85M273.2 261.3h0.85M292.2 258.4h0.85M268.9 256.9h0.85M310.4 264.1h0.85M299.9 256.0h0.85M271.4 260.1h0.85M279.5 254.0h0.85M273.0 256.2h0.85M292.4 257.4h0.85M267.5 259.6h0.85M286.7 259.6h0.85M315.0 253.9h0.85M283.6 251.1h0.85M310.1 256.7h0.85M265.4 258.9h0.85M304.1 260.3h0.85M255.7 257.4h0.85M271.6 253.6h0.85M293.8 260.1h0.85M309.0 257.7h0.85M275.6 256.5h0.85M276.1 262.9h0.85M316.1 260.9h0.85M263.7 263.9h0.85M262.0 246.4h0.85M282.2 260.8h0.85M282.9 256.7h0.85M277.1 255.4h0.85M265.4 254.9h0.85M296.1 259.3h0.85M271.0 271.6h0.85M281.1 261.3h0.85M299.1 257.0h0.85M281.1 260.0h0.85M279.7 256.5h0.85M279.0 252.0h0.85M308.6 256.6h0.85M254.1 253.1h0.85M289.9 252.5h0.85M278.3 270.0h0.85M274.8 257.3h0.85M280.5 257.1h0.85M261.2 255.7h0.85M281.4 253.9h0.85M276.6 254.0h0.85M298.8 252.9h0.85M287.5 250.9h0.85M291.7 251.3h0.85M303.4 254.9h0.85M270.3 257.6h0.85M267.4 257.4h0.85M267.1 262.8h0.85M282.1 261.1h0.85M297.0 269.6h0.85M276.1 260.0h0.85M263.4 258.5h0.85M246.0 261.3h0.85M280.7 254.2h0.85M291.2 255.8h0.85M274.4 255.2h0.85M269.9 259.5h0.85M297.0 259.7h0.85M294.6 258.9h0.85M298.6 255.4h0.85M286.1 267.4h0.85M279.4 259.0h0.85M261.6 259.0h0.85M276.1 260.0h0.85M298.1 254.2h0.85M270.1 259.7h0.85M280.2 258.5h0.85M285.9 259.2h0.85M290.8 256.1h0.85M262.3 257.1h0.85M284.0 259.6h0.85M296.3 255.4h0.85M271.9 258.4h0.85M284.3 260.0h0.85M279.9 258.9h0.85M291.7 255.9h0.85M271.5 257.2h0.85M280.5 252.5h0.85M286.2 255.2h0.85M268.5 258.8h0.85M287.9 255.9h0.85M309.6 250.3h0.85M286.0 262.1h0.85M284.3 259.3h0.85M259.6 264.5h0.85M294.3 254.9h0.85M268.2 254.7h0.85M276.4 251.9h0.85M300.5 263.2h0.85M287.2 255.7h0.85M305.8 261.2h0.85M271.9 259.8h0.85M290.0 257.5h0.85M275.0 258.9h0.85M305.2 256.1h0.85M291.8 256.2h0.85M299.4 258.6h0.85M294.5 255.9h0.85M239.1 250.6h0.85M278.9 244.6h0.85M290.5 255.9h0.85M263.4 255.8h0.85M287.4 260.2h0.85M273.6 254.4h0.85M277.0 256.4h0.85M266.7 252.2h0.85M303.8 253.8h0.85M275.7 258.5h0.85M277.4 251.7h0.85M293.5 256.2h0.85M286.4 259.1h0.85M279.2 263.0h0.85M276.0 259.5h0.85M237.7 265.4h0.85M288.6 257.6h0.85M300.7 260.8h0.85M288.1 257.8h0.85M288.1 259.8h0.85M296.6 262.0h0.85M275.7 259.4h0.85M283.9 255.2h0.85M284.0 257.3h0.85M289.5 256.3h0.85M266.6 259.7h0.85M311.1 255.3h0.85M294.6 252.6h0.85M276.4 254.5h0.85M283.6 260.5h0.85M295.1 256.2h0.85M265.9 255.6h0.85M279.8 250.5h0.85M286.0 256.1h0.85M299.7 259.4h0.85M266.1 257.2h0.85M292.5 256.5h0.85M273.0 254.9h0.85M293.9 260.0h0.85M278.0 255.4h0.85M277.1 258.7h0.85M287.1 251.6h0.85M292.3 257.2h0.85M286.4 258.1h0.85M294.7 252.0h0.85M294.8 258.9h0.85M295.8 257.1h0.85M297.0 258.6h0.85M267.4 256.1h0.85M295.2 254.8h0.85M241.2 250.8h0.85M274.8 256.8h0.85M277.9 257.2h0.85M308.2 250.3h0.85M290.7 254.4h0.85M267.8 261.5h0.85M278.8 263.1h0.85M275.8 257.6h0.85M285.3 259.3h0.85M273.0 255.4h0.85M258.7 261.7h0.85M287.3 249.9h0.85M255.7 260.0h0.85M320.9 251.2h0.85M278.9 258.6h0.85M328.9 256.1h0.85M269.3 256.3h0.85M270.9 258.4h0.85M272.9 257.7h0.85M271.8 257.8h0.85M272.4 257.7h0.85M281.2 256.2h0.85M267.0 255.0h0.85M305.7 261.6h0.85M278.5 253.2h0.85M269.7 257.8h0.85M286.7 258.3h0.85M288.3 255.5h0.85M281.6 256.2h0.85M302.3 255.9h0.85M282.8 257.4h0.85M264.3 251.4h0.85M243.4 260.7h0.85M296.6 260.4h0.85M278.0 261.4h0.85M290.0 258.4h0.85M260.7 256.2h0.85M302.4 257.6h0.85M296.5 257.4h0.85M271.4 258.2h0.85M280.5 256.4h0.85M283.4 252.2h0.85M282.0 256.6h0.85M286.5 254.8h0.85M287.6 257.6h0.85M302.1 260.5h0.85M295.2 248.1h0.85M272.9 255.4h0.85M303.5 260.5h0.85M283.1 261.3h0.85M271.8 255.5h0.85M276.6 258.3h0.85M283.3 259.4h0.85M285.7 261.1h0.85M298.6 255.0h0.85M289.3 256.2h0.85M305.1 262.2h0.85M286.4 253.3h0.85M266.6 248.0h0.85M289.3 258.4h0.85M292.9 255.9h0.85M290.5 255.4h0.85M263.4 255.9h0.85M288.0 265.5h0.85M312.4 247.9h0.85M272.3 257.6h0.85M289.0 250.4h0.85M285.6 252.9h0.85M263.4 258.3h0.85M293.1 258.5h0.85M296.3 260.9h0.85M296.6 259.9h0.85M279.8 258.9h0.85M282.8 261.3h0.85M299.5 256.7h0.85M296.0 259.7h0.85M285.1 255.6h0.85M301.7 255.5h0.85M293.2 252.7h0.85M295.5 264.3h0.85M268.0 256.2h0.85M273.8 258.1h0.85M269.3 256.0h0.85M273.8 259.0h0.85M266.1 263.9h0.85M289.5 251.7h0.85M290.7 259.6h0.85M283.2 254.0h0.85M279.0 254.4h0.85M254.4 259.7h0.85M260.8 257.8h0.85M292.5 257.0h0.85M291.5 253.1h0.85M266.9 264.0h0.85M286.3 261.7h0.85M284.6 260.2h0.85M289.5 259.5h0.85M279.1 257.3h0.85M264.1 260.9h0.85M304.8 264.8h0.85M291.5 258.5h0.85M277.8 257.7h0.85M306.7 259.5h0.85M296.4 255.7h0.85M277.6 257.5h0.85M287.5 271.3h0.85M282.1 254.1h0.85M291.2 254.5h0.85M291.8 260.3h0.85M282.2 258.7h0.85M268.0 257.2h0.85M272.5 258.6h0.85M288.9 258.6h0.85M274.3 244.2h0.85M275.8 252.5h0.85M305.6 254.0h0.85M308.4 256.1h0.85M294.0 255.8h0.85M287.0 253.7h0.85M279.3 258.8h0.85M278.3 258.3h0.85M304.8 259.2h0.85M279.5 257.5h0.85M266.0 264.9h0.85M280.7 258.4h0.85M294.4 255.9h0.85M289.1 255.3h0.85M312.4 247.5h0.85M283.6 257.0h0.85M268.0 257.7h0.85M279.7 254.0h0.85M288.0 253.8h0.85M283.4 260.0h0.85M277.4 259.3h0.85M271.6 260.5h0.85M285.6 256.5h0.85M294.8 256.5h0.85M279.8 263.3h0.85M273.8 260.6h0.85M316.4 260.5h0.85M270.6 254.6h0.85M267.3 250.2h0.85M285.7 253.8h0.85M295.6 254.3h0.85M280.3 261.3h0.85M298.8 256.3h0.85M269.0 256.2h0.85M243.1 251.5h0.85M306.0 253.7h0.85M257.8 255.4h0.85M270.8 251.7h0.85M305.1 256.4h0.85M278.8 254.7h0.85M316.7 256.3h0.85M305.2 259.1h0.85M313.5 253.1h0.85M266.1 257.7h0.85M282.2 255.5h0.85M268.6 256.6h0.85M283.3 258.4h0.85M291.4 257.5h0.85M268.1 263.3h0.85M274.2 267.1h0.85M296.9 262.4h0.85M297.9 257.1h0.85M295.9 255.9h0.85M290.0 260.3h0.85M291.8 252.1h0.85M286.9 260.5h0.85M285.7 255.0h0.85M299.2 255.5h0.85M273.4 265.1h0.85M289.1 255.2h0.85M307.9 255.5h0.85M291.6 251.4h0.85M277.8 255.0h0.85M290.6 251.8h0.85M272.1 258.5h0.85M256.0 256.7h0.85M284.1 260.4h0.85M309.3 257.7h0.85M299.5 257.6h0.85M284.5 257.8h0.85M289.3 261.0h0.85M273.3 254.8h0.85M280.1 254.7h0.85M286.5 266.4h0.85M318.1 248.2h0.85M277.0 259.7h0.85M321.3 255.8h0.85M284.5 257.6h0.85M307.3 258.9h0.85M295.3 261.4h0.85M254.6 250.1h0.85M291.9 255.9h0.85M298.1 257.7h0.85M303.0 247.5h0.85M276.4 254.8h0.85M317.1 256.1h0.85M289.5 257.9h0.85M287.8 261.5h0.85M293.5 262.6h0.85M283.7 259.0h0.85M279.6 258.9h0.85M298.5 254.2h0.85M294.2 257.1h0.85M272.5 255.2h0.85M296.4 256.1h0.85M298.2 265.6h0.85M291.4 257.1h0.85M278.9 255.3h0.85M238.1 248.5h0.85M273.1 260.0h0.85M283.2 258.0h0.85M295.7 257.1h0.85M264.3 256.7h0.85M262.9 254.9h0.85M299.9 259.2h0.85M290.2 251.7h0.85M270.5 254.1h0.85M293.9 249.4h0.85M274.5 257.2h0.85M286.4 251.8h0.85M271.7 258.3h0.85M280.8 258.0h0.85M295.4 260.9h0.85M280.1 251.7h0.85M269.4 253.7h0.85M286.9 253.7h0.85M285.9 262.0h0.85M288.4 263.7h0.85M280.0 255.0h0.85M259.6 260.3h0.85M278.3 255.6h0.85M289.4 261.9h0.85M292.7 256.3h0.85M285.2 258.9h0.85M287.7 264.9h0.85M287.2 257.5h0.85M238.4 251.5h0.85M271.5 258.6h0.85M278.6 257.2h0.85M266.1 268.6h0.85M287.1 255.0h0.85M280.5 253.4h0.85M266.5 253.7h0.85M282.4 259.3h0.85M269.7 254.1h0.85M277.7 256.4h0.85M275.9 258.1h0.85M281.4 261.2h0.85M274.0 262.9h0.85M284.7 259.4h0.85M274.7 259.1h0.85M265.4 252.4h0.85M261.6 256.8h0.85M297.8 263.4h0.85M275.0 258.4h0.85M283.9 252.2h0.85M292.4 257.2h0.85M301.4 261.1h0.85M288.6 253.6h0.85M270.4 256.6h0.85M288.9 258.1h0.85M312.5 259.4h0.85M293.7 258.7h0.85M284.1 259.2h0.85M302.4 256.3h0.85M280.2 253.9h0.85M285.0 254.4h0.85M287.3 258.8h0.85M274.8 254.3h0.85M303.9 266.1h0.85M282.6 247.3h0.85M286.9 255.6h0.85M298.3 258.3h0.85M296.9 251.5h0.85M294.6 249.5h0.85M286.3 250.8h0.85M277.8 253.0h0.85M284.3 261.4h0.85M290.6 253.9h0.85M287.4 259.6h0.85M284.4 257.6h0.85M286.4 261.9h0.85M281.6 255.0h0.85M300.4 252.4h0.85M268.3 253.8h0.85M303.1 267.0h0.85M265.9 263.0h0.85M284.2 255.7h0.85M280.1 258.6h0.85M264.7 250.4h0.85M282.4 255.2h0.85M269.2 258.7h0.85M284.5 256.7h0.85M288.5 251.8h0.85M266.1 252.6h0.85M290.3 261.5h0.85M287.5 259.7h0.85M278.5 252.3h0.85M324.1 256.0h0.85M291.7 254.2h0.85M274.8 256.8h0.85M292.3 256.8h0.85M294.5 257.5h0.85M314.0 259.6h0.85M277.2 259.8h0.85M288.3 263.0h0.85M265.9 261.4h0.85M286.5 255.9h0.85M286.5 260.7h0.85M290.3 257.6h0.85M302.4 253.8h0.85M273.4 257.9h0.85M286.0 260.9h0.85M274.5 259.9h0.85M316.0 262.8h0.85M290.4 258.0h0.85M278.7 254.6h0.85M276.5 255.4h0.85M298.1 259.0h0.85M268.3 254.7h0.85M287.0 254.8h0.85M284.0 254.0h0.85M271.8 255.2h0.85M287.3 255.3h0.85M302.7 253.1h0.85M285.8 258.9h0.85M261.7 264.3h0.85M272.7 249.4h0.85M287.2 259.2h0.85M284.3 256.4h0.85M294.8 255.0h0.85M279.8 256.1h0.85M279.7 256.8h0.85M272.6 256.1h0.85M292.6 258.4h0.85M309.1 263.2h0.85M267.8 258.9h0.85M279.8 253.3h0.85M301.8 256.8h0.85M271.8 256.5h0.85M300.7 257.9h0.85M283.9 257.8h0.85M275.3 256.1h0.85M282.1 259.8h0.85M288.9 256.8h0.85M285.9 261.3h0.85M267.3 251.8h0.85M297.5 257.0h0.85M273.6 257.7h0.85M272.7 256.6h0.85M279.6 255.0h0.85M275.8 251.8h0.85M311.2 252.9h0.85M277.8 255.7h0.85M292.4 257.2h0.85M296.0 257.7h0.85M280.5 258.0h0.85M292.2 262.9h0.85M266.6 257.9h0.85M295.8 262.1h0.85M262.0 253.5h0.85M300.5 258.9h0.85M283.1 260.3h0.85M290.6 257.9h0.85M269.9 259.8h0.85M280.6 256.6h0.85M302.2 259.2h0.85M259.5 260.4h0.85M264.9 259.0h0.85M287.2 256.0h0.85M281.0 254.7h0.85M284.9 258.2h0.85M304.9 249.9h0.85M294.6 258.7h0.85M281.5 256.4h0.85M274.7 255.7h0.85M250.4 260.0h0.85M297.9 257.0h0.85M276.0 257.1h0.85M286.2 259.9h0.85M281.8 251.6h0.85M282.9 259.4h0.85M299.5 257.0h0.85M283.0 255.7h0.85M274.0 262.3h0.85M266.5 258.2h0.85M271.7 259.2h0.85M303.5 257.4h0.85M254.3 257.3h0.85M269.9 256.5h0.85M266.7 252.6h0.85M300.1 256.8h0.85M296.9 255.9h0.85M282.5 254.9h0.85M273.3 256.1h0.85M295.3 257.3h0.85M278.4 257.7h0.85M283.9 256.7h0.85M269.6 265.4h0.85M291.1 258.9h0.85M303.3 254.5h0.85M280.0 266.0h0.85M280.0 256.1h0.85M285.8 259.0h0.85M276.4 257.4h0.85M283.7 256.2h0.85M291.8 254.8h0.85M250.9 259.8h0.85M292.5 258.5h0.85M308.0 265.3h0.85M259.9 252.4h0.85M286.1 258.0h0.85M275.3 263.3h0.85M276.1 254.8h0.85M291.0 255.6h0.85M285.0 255.2h0.85M301.6 259.5h0.85M273.8 252.0h0.85M279.6 261.4h0.85M304.5 263.2h0.85M278.3 254.9h0.85M297.2 263.5h0.85M286.4 258.7h0.85M307.3 258.6h0.85M274.4 257.4h0.85M270.5 257.4h0.85M271.5 262.6h0.85M285.8 258.6h0.85M278.7 256.9h0.85M270.8 260.3h0.85M285.9 268.7h0.85M284.8 256.0h0.85M281.5 256.0h0.85M275.0 259.1h0.85M267.0 257.7h0.85M254.5 259.4h0.85M305.9 249.5h0.85M273.8 251.9h0.85M259.7 253.9h0.85M287.4 255.5h0.85M289.6 263.5h0.85M305.1 269.0h0.85M283.0 254.5h0.85M270.0 259.8h0.85M266.5 258.6h0.85M290.3 254.4h0.85M319.2 258.3h0.85M264.9 254.1h0.85M302.5 256.5h0.85M290.0 253.7h0.85M285.1 254.8h0.85M290.6 257.9h0.85M272.3 252.8h0.85M281.6 254.1h0.85M290.2 249.0h0.85M271.0 252.1h0.85M303.0 260.6h0.85M266.1 258.3h0.85M303.5 259.1h0.85M285.1 260.7h0.85M258.2 255.5h0.85M278.9 256.6h0.85M296.8 256.9h0.85M285.5 255.8h0.85M290.6 263.5h0.85M282.6 255.3h0.85M284.2 262.9h0.85M305.5 257.5h0.85M283.2 259.8h0.85M273.6 260.5h0.85M271.4 254.7h0.85M289.4 253.3h0.85M272.0 257.8h0.85M303.0 251.0h0.85M285.3 258.1h0.85M305.5 261.6h0.85M269.9 256.9h0.85M298.4 257.8h0.85M292.4 261.9h0.85M313.7 255.2h0.85M306.2 256.0h0.85M297.6 258.9h0.85M276.0 254.3h0.85M280.2 254.7h0.85M284.4 255.8h0.85M275.7 253.6h0.85M278.8 258.7h0.85M292.1 258.4h0.85M278.2 251.9h0.85M303.3 256.7h0.85M278.4 254.8h0.85M303.4 257.1h0.85M296.5 256.1h0.85M295.1 263.9h0.85M279.9 261.1h0.85M276.4 256.9h0.85M292.9 256.4h0.85M277.9 254.6h0.85M292.1 260.5h0.85M276.8 253.9h0.85M290.0 255.1h0.85M293.1 251.6h0.85M296.4 256.5h0.85M306.0 256.7h0.85M239.2 267.4h0.85M279.6 257.0h0.85M287.9 260.0h0.85M288.7 252.6h0.85M288.8 254.8h0.85M287.6 256.4h0.85M238.9 258.9h0.85M282.3 258.2h0.85M277.9 257.0h0.85M269.3 256.6h0.85M276.7 255.3h0.85M280.4 257.0h0.85M298.0 260.9h0.85M285.1 257.7h0.85M299.2 261.8h0.85M298.0 259.1h0.85M268.2 255.3h0.85M282.4 258.2h0.85M287.6 261.1h0.85M275.7 257.3h0.85M285.0 259.3h0.85M289.7 260.8h0.85M274.1 260.8h0.85M284.0 256.2h0.85M280.9 266.6h0.85M279.2 256.0h0.85M282.6 255.7h0.85M284.3 260.4h0.85M295.3 255.0h0.85M283.4 258.8h0.85M267.4 258.0h0.85M275.8 252.9h0.85M292.3 257.9h0.85M287.7 264.8h0.85M253.6 245.6h0.85M289.1 260.2h0.85M295.5 263.7h0.85M309.9 256.5h0.85M272.8 256.6h0.85M302.9 256.9h0.85M296.3 252.3h0.85M293.5 257.8h0.85M307.8 258.0h0.85M276.6 254.8h0.85M306.3 252.5h0.85M292.7 258.9h0.85M298.9 263.4h0.85M300.4 260.9h0.85M291.1 252.9h0.85M285.8 250.5h0.85M296.3 256.5h0.85M282.3 252.1h0.85M267.1 257.1h0.85M280.9 259.3h0.85M279.3 255.6h0.85M273.3 258.3h0.85M295.4 254.8h0.85M282.8 275.0h0.85M266.9 249.4h0.85M297.3 250.6h0.85M290.1 256.0h0.85M290.4 262.7h0.85M265.2 252.2h0.85M294.1 255.4h0.85M293.3 254.5h0.85M295.0 261.1h0.85M282.7 251.3h0.85M299.9 247.1h0.85M291.2 254.9h0.85M264.0 251.9h0.85M307.4 252.4h0.85M298.7 253.2h0.85M274.7 256.8h0.85M269.5 253.4h0.85M290.2 260.1h0.85M288.0 253.0h0.85M302.2 261.2h0.85M267.2 259.4h0.85M291.8 254.6h0.85M305.6 250.7h0.85M281.8 257.8h0.85M275.0 257.3h0.85M272.4 258.3h0.85M279.1 253.6h0.85M277.8 256.4h0.85M269.8 253.2h0.85M290.3 258.9h0.85M278.3 263.8h0.85M267.6 258.8h0.85M294.7 255.8h0.85M274.5 260.2h0.85M278.0 258.9h0.85M296.0 243.7h0.85M315.2 255.6h0.85M288.2 254.5h0.85M289.2 256.4h0.85M274.3 260.9h0.85M260.5 252.5h0.85M300.2 263.2h0.85M293.8 258.9h0.85M289.3 258.0h0.85M276.6 261.7h0.85M305.5 258.4h0.85M296.7 258.9h0.85M278.9 258.1h0.85M276.1 258.6h0.85M274.6 263.3h0.85M267.3 257.8h0.85M282.5 258.3h0.85M284.1 258.8h0.85M254.8 268.9h0.85M281.1 259.9h0.85M279.2 259.9h0.85M268.9 260.5h0.85M269.6 255.0h0.85M274.5 259.0h0.85M286.5 259.3h0.85M274.8 257.4h0.85M292.4 253.4h0.85M294.7 256.1h0.85M282.6 257.1h0.85M283.3 251.1h0.85M267.7 264.6h0.85M254.6 258.7h0.85M288.0 255.2h0.85M293.2 256.0h0.85M263.1 253.6h0.85M273.3 256.7h0.85M297.9 257.8h0.85M277.5 254.7h0.85M257.4 254.5h0.85M278.0 253.9h0.85M252.9 257.9h0.85M274.4 257.6h0.85M281.2 260.0h0.85M261.3 258.4h0.85M290.1 258.1h0.85M317.5 257.9h0.85M250.0 257.3h0.85M287.8 253.5h0.85M278.3 258.7h0.85M266.5 271.4h0.85M275.1 250.7h0.85M272.9 257.3h0.85M277.8 258.8h0.85M273.7 260.4h0.85M285.0 254.4h0.85M295.6 255.3h0.85M264.0 259.5h0.85M274.9 259.1h0.85M258.1 255.3h0.85M285.9 254.4h0.85M262.6 256.0h0.85M278.8 257.5h0.85M279.9 258.7h0.85M275.0 256.2h0.85M257.6 258.4h0.85M256.4 257.3h0.85M276.8 260.6h0.85M271.8 257.7h0.85M272.3 257.2h0.85M281.6 258.1h0.85M273.3 258.6h0.85M296.1 256.3h0.85M270.9 256.5h0.85M275.1 260.9h0.85M299.4 249.3h0.85M274.7 257.6h0.85M316.1 256.2h0.85M278.4 254.6h0.85M281.3 254.2h0.85M284.8 258.3h0.85M273.2 253.9h0.85M316.4 261.2h0.85M282.9 258.2h0.85M270.7 249.5h0.85M270.7 253.4h0.85M274.6 255.2h0.85M289.2 257.8h0.85M284.1 255.2h0.85M289.6 249.3h0.85M280.3 259.2h0.85M299.7 262.1h0.85M295.4 255.5h0.85M283.9 262.1h0.85M304.1 253.2h0.85M269.8 258.8h0.85M262.6 255.4h0.85M284.1 255.3h0.85M264.7 250.8h0.85M278.2 254.7h0.85M276.8 255.3h0.85M276.3 261.1h0.85M276.6 256.1h0.85M298.2 254.7h0.85M282.9 258.5h0.85M280.5 256.4h0.85M279.5 256.7h0.85M288.5 260.4h0.85M287.6 256.4h0.85M270.0 262.7h0.85M273.6 255.3h0.85M280.4 258.5h0.85M265.6 258.3h0.85M294.6 256.5h0.85M273.5 261.1h0.85M284.2 257.3h0.85M281.3 256.1h0.85M278.4 258.6h0.85M275.4 258.4h0.85M282.9 251.6h0.85M295.5 259.4h0.85M287.4 254.8h0.85M292.2 257.5h0.85M304.9 254.0h0.85M294.8 253.9h0.85M308.6 256.6h0.85M292.5 254.3h0.85M281.0 254.9h0.85M296.7 261.0h0.85M282.5 255.2h0.85M291.2 255.3h0.85M279.5 253.5h0.85M298.1 252.9h0.85M295.5 259.8h0.85M289.7 258.4h0.85M288.0 258.6h0.85M264.9 260.9h0.85M287.8 255.1h0.85M281.3 250.8h0.85M275.5 253.8h0.85M274.6 256.1h0.85M289.6 255.6h0.85M277.5 254.3h0.85M284.1 256.4h0.85M272.0 261.1h0.85M266.9 259.1h0.85M285.8 254.5h0.85M296.9 262.9h0.85M284.9 253.9h0.85M302.4 257.8h0.85M286.9 256.9h0.85M268.9 260.6h0.85M301.8 258.3h0.85M284.2 260.3h0.85M274.2 255.5h0.85M279.2 255.8h0.85M277.3 257.0h0.85M288.7 254.9h0.85M270.8 258.3h0.85M295.2 259.1h0.85M304.0 252.2h0.85M270.4 259.2h0.85M258.3 259.5h0.85M278.2 253.9h0.85M299.6 259.8h0.85M299.5 259.1h0.85M295.3 261.6h0.85M282.5 262.9h0.85M279.6 256.2h0.85M303.1 266.4h0.85M286.3 255.3h0.85M277.6 270.4h0.85M297.3 256.6h0.85M277.1 261.7h0.85M274.9 260.7h0.85M292.3 268.3h0.85M272.2 257.8h0.85M274.9 251.9h0.85M256.2 257.8h0.85M285.6 261.0h0.85M274.9 253.1h0.85M312.8 254.6h0.85M283.4 255.5h0.85M250.9 255.4h0.85M278.3 253.6h0.85M293.2 253.6h0.85M292.2 261.8h0.85M311.9 256.9h0.85M290.8 257.4h0.85M295.6 258.2h0.85M280.1 263.1h0.85M291.6 256.1h0.85M279.7 261.2h0.85M281.9 261.4h0.85M273.0 254.3h0.85M280.8 258.6h0.85M279.2 253.0h0.85M301.0 256.8h0.85M297.0 257.3h0.85M314.7 262.7h0.85M293.1 250.2h0.85M310.9 256.9h0.85M276.0 259.1h0.85M293.1 255.7h0.85M286.8 253.9h0.85M305.0 254.0h0.85M301.8 260.8h0.85M282.1 260.4h0.85M271.7 259.8h0.85M278.9 256.7h0.85M277.6 258.9h0.85M295.5 256.3h0.85M282.7 260.0h0.85M265.6 258.1h0.85M267.3 265.1h0.85M294.0 261.7h0.85M288.1 252.6h0.85M291.9 265.1h0.85M284.6 257.8h0.85M283.6 257.9h0.85M309.4 258.6h0.85M284.9 257.3h0.85M289.9 259.9h0.85M283.7 255.5h0.85M264.9 253.2h0.85M295.1 259.1h0.85M293.2 256.6h0.85M271.6 255.5h0.85M271.4 250.6h0.85M314.9 254.7h0.85M272.1 258.6h0.85M271.5 255.9h0.85M279.9 262.0h0.85M281.5 256.0h0.85M279.5 258.7h0.85M282.1 264.7h0.85M299.5 257.7h0.85M288.1 255.7h0.85M291.8 252.9h0.85M256.3 256.1h0.85M269.1 255.1h0.85M285.6 258.5h0.85M267.3 251.5h0.85M275.9 257.5h0.85M286.5 257.4h0.85M266.5 252.4h0.85M295.5 258.4h0.85M267.1 261.5h0.85M294.0 256.0h0.85M293.2 250.0h0.85M296.0 257.1h0.85M282.6 258.8h0.85M270.3 257.0h0.85M293.4 259.9h0.85M292.8 253.4h0.85M291.1 257.4h0.85M277.6 256.7h0.85M316.3 255.1h0.85M291.3 254.9h0.85M282.9 258.7h0.85M305.1 258.8h0.85M290.4 255.9h0.85M249.1 248.9h0.85M304.4 258.3h0.85M274.6 257.6h0.85M297.4 258.6h0.85M287.6 257.7h0.85M293.5 258.9h0.85M295.2 260.2h0.85M274.8 256.6h0.85M293.6 258.7h0.85M244.3 252.6h0.85M240.8 254.6h0.85M292.1 254.1h0.85M294.2 259.7h0.85M281.2 256.4h0.85M297.6 254.3h0.85M277.4 253.8h0.85M284.3 256.8h0.85M280.8 254.9h0.85M307.0 262.1h0.85M281.4 257.1h0.85M302.6 254.4h0.85M293.5 259.6h0.85M304.6 260.1h0.85M253.8 258.8h0.85M319.6 258.5h0.85M302.0 257.5h0.85M299.1 255.9h0.85M268.3 244.9h0.85M288.2 256.5h0.85M273.3 257.7h0.85M256.4 260.1h0.85M296.0 257.9h0.85M300.1 256.7h0.85M299.5 258.8h0.85M289.4 256.2h0.85M284.8 257.9h0.85M275.8 258.6h0.85M269.7 260.1h0.85M276.7 252.1h0.85M292.5 255.2h0.85M285.5 262.7h0.85M281.7 256.2h0.85M269.7 254.2h0.85M292.0 257.9h0.85M274.2 257.8h0.85M308.1 254.2h0.85M279.7 255.5h0.85M265.5 252.4h0.85M282.9 261.0h0.85M280.2 257.5h0.85M297.6 254.6h0.85M285.2 256.5h0.85M279.8 255.5h0.85M304.4 251.9h0.85M311.8 265.0h0.85M287.9 258.5h0.85M282.3 254.2h0.85M294.5 258.6h0.85M280.7 258.1h0.85M282.2 249.3h0.85M284.0 257.4h0.85M274.7 258.4h0.85M276.6 255.5h0.85M296.9 261.4h0.85M285.5 254.8h0.85M276.0 261.6h0.85M278.1 248.6h0.85M295.0 260.2h0.85M290.9 254.4h0.85M291.3 253.6h0.85M274.6 258.5h0.85M308.9 257.2h0.85M277.6 259.0h0.85M275.6 254.8h0.85M274.6 259.7h0.85M287.4 258.8h0.85M288.9 259.5h0.85M284.5 254.9h0.85M304.8 264.4h0.85M311.1 268.0h0.85M278.2 260.6h0.85M284.2 255.5h0.85M290.5 253.4h0.85M285.9 260.0h0.85M301.7 259.6h0.85M285.9 257.3h0.85M300.3 256.6h0.85M279.9 261.7h0.85M281.2 254.6h0.85M293.6 265.1h0.85M274.9 258.2h0.85M291.8 256.4h0.85M296.7 266.6h0.85M268.1 258.1h0.85M302.0 258.0h0.85M291.9 263.6h0.85M282.5 258.7h0.85M279.5 255.0h0.85M288.4 261.6h0.85M307.5 258.3h0.85M255.1 253.2h0.85M266.6 257.5h0.85M286.4 264.3h0.85M264.0 250.6h0.85M284.0 257.1h0.85M270.0 255.4h0.85M285.1 258.5h0.85M274.0 259.0h0.85M269.8 253.5h0.85M268.6 261.2h0.85M292.0 258.0h0.85M290.9 250.1h0.85M282.7 261.1h0.85M256.7 261.9h0.85M259.5 258.3h0.85M277.3 255.8h0.85M302.9 263.8h0.85M287.4 256.7h0.85M285.0 263.4h0.85M299.1 261.7h0.85M297.9 259.9h0.85M295.4 255.9h0.85M286.5 260.7h0.85M287.7 259.2h0.85M261.2 266.5h0.85M270.6 259.7h0.85M282.1 257.1h0.85M277.6 259.6h0.85M287.2 259.3h0.85M289.7 257.3h0.85M275.4 256.4h0.85M276.9 255.3h0.85M252.1 254.3h0.85M286.5 259.5h0.85M257.4 260.2h0.85M279.1 259.2h0.85M284.1 257.2h0.85M298.9 251.5h0.85M276.4 259.2h0.85M326.4 259.4h0.85M280.0 257.1h0.85M288.2 261.5h0.85M280.7 258.9h0.85M281.9 257.2h0.85M291.8 261.3h0.85M284.8 257.6h0.85M290.4 249.4h0.85M285.3 256.6h0.85M265.6 256.4h0.85M289.7 258.0h0.85M295.5 253.5h0.85M318.6 261.1h0.85M278.9 262.1h0.85M282.3 247.1h0.85M279.6 260.0h0.85M282.1 259.8h0.85M277.6 258.5h0.85M297.1 254.9h0.85M293.9 255.2h0.85M267.6 248.9h0.85M308.0 257.3h0.85M244.0 258.6h0.85M302.7 260.8h0.85M285.2 255.9h0.85M268.0 251.8h0.85M279.8 253.6h0.85M291.0 256.7h0.85M278.4 259.4h0.85M280.9 256.6h0.85M295.9 258.9h0.85M294.0 260.2h0.85M288.9 257.3h0.85M272.6 255.5h0.85M274.7 256.6h0.85M300.0 259.1h0.85M302.9 258.5h0.85M297.7 265.0h0.85M257.3 264.8h0.85M307.8 267.1h0.85M280.7 253.5h0.85M284.3 257.6h0.85M296.5 257.5h0.85M286.7 260.0h0.85M266.3 260.1h0.85M305.6 255.4h0.85M285.4 254.0h0.85M285.0 258.7h0.85M275.7 254.5h0.85M281.8 256.9h0.85M275.3 259.6h0.85M302.1 255.8h0.85M275.8 261.1h0.85M272.9 256.3h0.85M297.6 256.9h0.85M265.5 255.5h0.85M301.7 260.0h0.85M278.9 255.4h0.85M289.1 259.7h0.85M291.1 253.2h0.85M300.7 257.4h0.85M289.8 259.0h0.85M262.5 256.1h0.85M291.7 259.3h0.85M275.1 250.1h0.85M283.9 262.9h0.85M290.0 263.6h0.85M291.6 252.9h0.85M270.7 259.9h0.85M278.2 260.9h0.85M299.1 260.6h0.85M264.7 260.2h0.85M283.5 253.2h0.85M290.0 257.3h0.85M314.2 265.6h0.85M284.3 261.2h0.85M284.5 253.1h0.85M298.3 257.4h0.85M269.4 257.6h0.85M282.0 259.8h0.85M295.3 264.7h0.85M256.4 256.6h0.85M285.4 259.8h0.85M284.0 257.1h0.85M273.1 256.4h0.85M302.1 256.9h0.85M281.4 260.4h0.85M294.7 255.5h0.85M290.2 257.6h0.85M288.3 258.5h0.85M265.2 253.2h0.85M270.5 245.7h0.85M287.3 261.5h0.85M281.1 260.2h0.85M293.9 262.2h0.85M316.3 256.5h0.85M295.7 252.3h0.85M287.0 261.4h0.85M270.1 260.3h0.85M287.4 254.2h0.85M316.4 254.4h0.85M282.6 255.3h0.85M292.3 255.1h0.85M307.4 254.4h0.85M280.0 257.2h0.85M278.3 256.5h0.85M272.7 256.6h0.85M275.6 254.4h0.85M287.8 256.5h0.85M277.5 250.5h0.85M253.8 257.0h0.85M290.4 256.3h0.85M294.8 260.8h0.85M275.9 257.2h0.85M286.9 255.2h0.85M287.4 254.2h0.85M310.0 257.5h0.85M282.3 257.3h0.85M289.2 265.3h0.85M282.7 254.9h0.85M291.4 255.8h0.85M304.5 255.5h0.85M282.6 257.9h0.85M262.4 258.4h0.85M283.1 265.3h0.85M277.4 258.2h0.85M281.6 258.6h0.85M297.0 257.8h0.85M283.7 260.0h0.85M287.8 254.9h0.85M284.2 258.6h0.85M294.1 258.4h0.85M303.2 264.2h0.85M274.8 255.1h0.85M277.3 258.4h0.85M291.9 260.3h0.85M277.3 253.0h0.85M289.9 257.4h0.85M282.1 258.3h0.85M279.7 254.0h0.85M284.5 254.9h0.85M269.7 259.6h0.85M283.3 255.1h0.85M289.5 264.4h0.85M291.4 254.8h0.85M283.9 257.6h0.85M274.9 255.7h0.85M271.8 240.0h0.85M300.2 256.2h0.85M271.9 258.6h0.85M274.1 257.5h0.85M277.2 253.6h0.85M296.7 258.8h0.85M249.8 254.1h0.85M285.4 256.7h0.85M269.6 252.0h0.85M252.3 260.7h0.85M258.0 255.2h0.85M268.3 253.1h0.85M320.9 265.2h0.85M286.2 260.0h0.85M267.1 259.2h0.85M267.6 256.0h0.85M293.5 258.8h0.85M273.0 260.8h0.85M269.9 257.3h0.85M277.5 257.2h0.85M284.0 257.2h0.85M282.8 265.4h0.85M282.3 256.7h0.85M287.5 259.5h0.85M284.1 257.7h0.85M286.5 259.1h0.85M305.5 258.5h0.85M291.0 255.5h0.85M277.0 254.0h0.85M297.9 258.1h0.85M265.8 261.9h0.85M261.2 247.7h0.85M277.0 261.6h0.85M277.9 257.7h0.85M280.7 259.3h0.85M268.9 256.0h0.85M303.8 257.3h0.85M302.4 257.4h0.85M264.8 256.7h0.85M272.2 257.0h0.85M256.6 256.4h0.85M314.2 254.3h0.85M271.0 257.5h0.85M267.5 260.5h0.85M269.9 262.4h0.85M301.4 257.3h0.85M262.1 258.5h0.85M270.9 254.2h0.85M301.9 261.8h0.85M275.7 258.6h0.85M294.0 251.4h0.85M299.6 247.8h0.85M310.5 263.2h0.85M281.9 257.7h0.85M306.8 255.2h0.85M268.2 256.2h0.85M267.9 258.7h0.85M284.7 260.3h0.85M300.7 255.2h0.85M292.0 261.1h0.85M298.4 257.1h0.85M292.8 258.1h0.85M303.5 259.1h0.85M266.1 261.3h0.85M296.7 262.3h0.85M275.5 250.5h0.85M302.0 252.2h0.85M284.5 257.6h0.85M296.5 256.3h0.85M278.6 267.4h0.85M286.1 264.1h0.85M275.6 257.6h0.85M295.4 256.0h0.85M277.0 257.7h0.85M285.2 254.6h0.85M276.6 262.3h0.85M262.8 260.0h0.85M320.7 262.7h0.85M309.4 260.6h0.85M284.8 253.2h0.85M299.9 259.2h0.85M294.6 248.3h0.85M279.8 252.8h0.85M280.1 258.0h0.85M283.9 260.1h0.85M293.7 255.5h0.85M269.3 258.4h0.85M297.8 259.8h0.85M282.6 268.8h0.85M285.2 261.3h0.85M278.1 256.6h0.85M274.0 259.3h0.85M279.3 260.5h0.85M273.1 254.6h0.85M288.5 261.2h0.85M287.5 258.6h0.85M271.6 256.4h0.85M290.0 259.1h0.85M291.4 257.6h0.85M286.8 253.4h0.85M275.2 254.1h0.85M282.0 259.3h0.85M283.5 254.3h0.85M300.4 255.5h0.85M284.3 258.3h0.85M274.7 259.9h0.85M298.2 254.8h0.85M269.1 255.3h0.85M279.6 257.4h0.85M278.0 260.2h0.85M268.1 255.9h0.85M299.7 253.9h0.85M286.4 258.1h0.85M279.7 255.4h0.85M273.8 260.6h0.85M289.0 258.7h0.85M298.3 264.1h0.85M296.5 257.6h0.85M299.6 257.4h0.85M300.1 258.5h0.85M291.2 255.9h0.85M264.8 259.1h0.85M308.9 261.2h0.85M295.4 254.9h0.85M316.5 256.3h0.85M288.5 254.4h0.85M294.6 258.1h0.85M283.6 252.6h0.85M255.5 247.0h0.85M278.3 259.0h0.85M263.1 251.6h0.85M289.5 257.2h0.85M290.0 258.2h0.85M286.8 258.7h0.85M298.7 257.5h0.85M255.4 261.4h0.85M246.2 247.5h0.85M298.1 257.6h0.85M299.8 256.6h0.85M286.5 259.4h0.85M286.4 249.1h0.85M289.9 257.5h0.85M272.6 259.1h0.85M281.4 252.4h0.85M318.9 257.5h0.85M271.0 268.3h0.85M312.3 254.7h0.85M286.4 258.6h0.85M301.6 259.3h0.85M281.9 256.1h0.85M285.6 254.3h0.85M283.1 256.7h0.85M286.2 256.7h0.85M279.5 263.4h0.85M287.0 258.5h0.85M293.8 259.3h0.85M286.4 254.9h0.85M293.2 252.5h0.85M291.6 253.4h0.85M268.4 255.7h0.85M324.0 255.2h0.85M266.5 260.2h0.85M271.9 259.8h0.85M295.2 256.6h0.85M311.5 265.9h0.85M285.7 263.6h0.85M284.0 248.1h0.85M272.4 253.8h0.85M309.9 266.1h0.85M274.0 257.2h0.85M291.1 255.5h0.85M303.4 248.7h0.85M278.7 258.7h0.85M291.5 259.0h0.85M282.0 258.9h0.85M285.2 256.6h0.85M268.4 259.0h0.85M288.3 258.1h0.85M268.2 261.6h0.85M289.2 254.3h0.85M283.3 266.8h0.85M299.8 257.5h0.85M276.9 262.3h0.85M291.2 255.2h0.85M296.5 259.0h0.85M276.8 262.3h0.85M299.1 258.3h0.85M292.2 257.4h0.85M284.0 255.4h0.85M285.1 257.3h0.85M290.0 254.3h0.85M260.4 264.8h0.85M281.8 261.2h0.85M271.5 257.8h0.85M286.6 261.4h0.85M287.1 254.4h0.85M285.0 258.4h0.85M271.9 255.8h0.85M246.7 260.0h0.85M294.4 260.2h0.85M316.5 256.8h0.85M266.4 260.1h0.85M249.6 256.6h0.85M295.6 260.2h0.85M301.7 249.8h0.85M283.0 258.4h0.85M247.4 251.0h0.85M297.6 260.8h0.85M294.9 256.6h0.85M321.5 253.3h0.85M266.8 255.6h0.85M305.6 261.9h0.85M272.9 250.8h0.85M273.3 257.9h0.85M282.3 263.4h0.85M270.4 257.1h0.85M270.9 259.8h0.85M264.3 257.6h0.85M274.2 251.4h0.85M245.4 249.4h0.85M314.8 258.0h0.85M268.5 258.4h0.85M299.6 262.1h0.85M266.1 253.1h0.85M300.9 261.4h0.85M272.8 264.3h0.85M285.6 257.5h0.85M301.5 256.1h0.85M267.4 259.4h0.85M279.5 251.8h0.85M275.6 258.2h0.85M295.7 254.7h0.85M269.2 262.9h0.85M272.3 264.2h0.85M291.3 258.9h0.85M274.5 251.7h0.85M293.5 256.4h0.85M305.0 264.5h0.85M265.8 256.2h0.85M304.1 255.9h0.85M295.4 264.3h0.85M291.1 263.4h0.85M276.3 261.9h0.85M267.6 253.4h0.85M275.6 261.1h0.85M276.4 261.9h0.85M263.0 256.9h0.85M300.0 258.3h0.85M277.4 257.6h0.85M288.3 253.9h0.85M288.1 255.7h0.85M278.9 255.5h0.85M306.3 262.0h0.85M298.2 258.0h0.85M292.0 258.5h0.85M311.4 258.5h0.85M296.0 252.1h0.85M297.8 254.1h0.85M285.9 257.8h0.85M293.1 253.1h0.85M284.4 263.9h0.85M283.0 260.6h0.85M275.1 258.5h0.85M302.1 255.5h0.85M278.1 256.3h0.85M287.6 253.2h0.85M281.9 259.1h0.85M283.5 262.0h0.85M281.5 268.2h0.85M282.9 254.5h0.85M271.3 250.4h0.85M262.1 255.8h0.85M271.5 255.9h0.85M268.3 247.4h0.85M304.2 252.5h0.85M288.4 258.1h0.85M273.0 252.5h0.85M287.1 259.6h0.85M316.0 256.0h0.85M287.8 255.1h0.85M281.5 261.6h0.85M296.7 251.4h0.85M282.7 256.1h0.85M278.2 256.6h0.85M289.4 259.8h0.85M280.8 259.2h0.85M288.5 254.4h0.85M291.4 260.5h0.85M275.6 255.0h0.85M284.6 259.9h0.85M288.3 261.0h0.85M282.4 257.8h0.85M282.3 259.6h0.85M260.4 258.8h0.85M269.5 257.6h0.85M291.7 260.5h0.85M284.8 259.6h0.85M268.7 257.9h0.85M283.2 259.6h0.85M264.2 260.0h0.85M268.7 255.3h0.85M304.7 268.2h0.85M277.6 254.4h0.85M276.8 253.6h0.85M292.9 262.1h0.85M293.8 247.4h0.85M287.7 253.7h0.85M300.9 259.4h0.85M294.5 261.8h0.85M290.8 257.2h0.85M280.2 260.3h0.85M322.1 255.3h0.85M279.8 264.4h0.85M298.5 249.6h0.85M295.4 262.3h0.85M272.3 253.7h0.85M274.7 260.5h0.85M280.3 264.0h0.85M305.5 252.7h0.85M271.0 258.7h0.85M310.8 253.7h0.85M325.9 262.6h0.85M289.0 255.9h0.85M278.8 254.1h0.85M284.2 257.3h0.85M268.0 252.1h0.85M294.5 257.5h0.85M273.5 261.1h0.85M286.6 261.8h0.85M274.0 262.7h0.85M319.9 258.9h0.85M295.0 253.3h0.85M291.7 254.9h0.85M260.2 250.4h0.85M299.2 254.6h0.85M283.4 256.3h0.85M273.5 259.9h0.85M291.0 266.3h0.85M269.4 258.7h0.85M274.3 255.1h0.85M297.3 251.3h0.85M271.7 258.4h0.85M287.5 257.8h0.85M269.4 259.8h0.85M293.6 260.4h0.85M294.4 255.7h0.85M296.9 254.9h0.85M273.4 262.8h0.85M290.9 243.7h0.85M274.0 257.9h0.85M269.3 261.6h0.85M267.7 254.5h0.85M282.1 264.3h0.85M284.9 256.6h0.85M285.4 256.2h0.85M290.5 257.1h0.85M303.5 252.0h0.85M277.2 258.4h0.85M278.0 255.7h0.85M260.5 259.3h0.85M280.0 256.5h0.85M253.0 256.4h0.85M269.3 258.3h0.85M296.7 255.2h0.85M281.9 256.4h0.85M289.2 257.9h0.85M294.9 260.1h0.85M290.5 253.0h0.85M284.1 258.4h0.85M287.1 259.2h0.85M284.4 260.0h0.85M297.6 255.4h0.85M288.4 253.1h0.85M265.9 259.1h0.85M293.8 260.6h0.85M279.0 258.8h0.85M289.7 258.3h0.85M268.9 255.3h0.85M279.3 261.4h0.85M277.2 257.8h0.85M250.9 249.7h0.85M293.3 254.3h0.85M310.1 258.6h0.85M287.9 243.3h0.85M250.3 254.8h0.85M283.7 259.5h0.85M275.3 257.5h0.85M291.1 256.1h0.85M263.5 242.4h0.85M324.0 258.9h0.85M305.2 253.9h0.85M288.6 260.2h0.85M266.8 251.6h0.85M279.5 254.7h0.85M261.4 256.4h0.85M301.7 257.2h0.85M289.3 260.5h0.85M288.5 256.9h0.85M278.4 263.8h0.85M271.9 263.7h0.85M270.0 266.3h0.85M265.1 253.1h0.85M266.7 257.1h0.85M277.0 261.2h0.85M304.4 255.1h0.85M285.7 256.1h0.85M297.1 259.0h0.85M317.1 252.8h0.85M280.5 262.7h0.85M278.5 261.1h0.85M305.3 259.3h0.85M267.8 258.8h0.85M264.1 261.4h0.85M295.4 250.5h0.85M270.8 262.4h0.85M288.1 257.9h0.85M295.4 259.8h0.85M290.6 257.4h0.85M288.8 252.6h0.85M244.6 253.2h0.85M304.9 259.7h0.85M288.2 261.2h0.85M273.8 254.6h0.85M277.5 260.5h0.85M295.3 256.7h0.85M278.1 256.9h0.85M277.3 257.3h0.85M275.2 255.5h0.85M253.8 258.0h0.85M286.6 254.6h0.85M279.6 266.5h0.85M293.4 257.8h0.85M281.7 255.9h0.85M280.7 256.4h0.85M314.0 255.7h0.85M285.6 260.0h0.85M306.9 256.0h0.85M276.6 259.0h0.85M251.3 256.3h0.85M287.6 260.4h0.85M281.9 252.4h0.85M273.3 267.4h0.85M290.7 254.9h0.85M282.3 257.5h0.85M298.5 257.4h0.85M274.0 249.1h0.85M285.8 260.7h0.85M265.1 258.9h0.85M290.7 255.7h0.85M275.8 254.7h0.85M271.0 257.4h0.85M272.8 255.9h0.85M296.4 254.7h0.85M280.8 252.3h0.85M292.6 258.8h0.85M267.2 273.0h0.85M270.1 258.3h0.85M265.1 258.6h0.85M274.3 254.6h0.85M280.8 251.7h0.85M283.4 262.3h0.85M258.3 257.9h0.85M262.1 257.6h0.85M274.4 259.5h0.85M293.2 258.1h0.85M266.3 261.4h0.85M283.1 265.2h0.85M319.1 262.2h0.85M283.7 254.3h0.85M302.8 256.3h0.85M284.3 255.5h0.85M281.7 254.1h0.85M291.7 256.5h0.85M282.9 264.6h0.85M282.7 255.6h0.85M294.1 258.4h0.85M306.7 255.2h0.85M269.4 258.2h0.85M288.2 258.3h0.85M267.3 258.2h0.85M287.9 261.0h0.85M296.8 258.1h0.85M304.5 262.8h0.85M278.6 260.6h0.85M296.5 260.8h0.85M279.3 255.6h0.85M285.6 253.9h0.85M289.5 270.6h0.85M269.7 261.4h0.85M264.5 257.8h0.85M288.6 260.1h0.85M290.7 256.4h0.85M288.8 258.6h0.85M313.6 265.5h0.85M281.3 253.0h0.85M294.0 257.1h0.85M293.4 256.0h0.85M291.7 249.1h0.85M277.5 254.5h0.85M273.0 258.1h0.85M303.2 258.1h0.85M293.5 254.4h0.85M281.3 258.9h0.85M289.9 261.3h0.85M295.8 257.7h0.85M278.5 253.4h0.85M295.2 256.7h0.85M275.7 262.7h0.85M290.8 258.5h0.85M284.3 267.2h0.85M274.1 258.4h0.85M284.8 258.9h0.85M302.9 260.3h0.85M268.7 256.1h0.85M259.7 259.9h0.85M297.8 261.0h0.85M302.6 255.4h0.85M279.5 255.2h0.85M290.3 265.4h0.85M262.2 255.8h0.85M283.4 261.3h0.85M303.5 253.6h0.85M294.7 261.7h0.85M276.3 257.7h0.85M292.1 261.7h0.85M266.2 254.6h0.85M293.8 256.6h0.85M291.3 254.5h0.85M288.4 257.9h0.85M299.7 261.8h0.85M286.2 254.9h0.85M315.2 266.6h0.85M267.5 265.4h0.85M282.1 257.1h0.85M282.7 257.0h0.85M271.3 255.5h0.85M285.2 255.9h0.85M296.0 258.2h0.85M286.2 255.7h0.85M257.7 257.5h0.85M284.6 255.8h0.85M288.4 258.5h0.85M276.6 258.1h0.85M248.1 254.0h0.85M281.1 258.9h0.85M312.9 271.5h0.85M294.5 254.4h0.85M285.2 257.6h0.85M292.0 257.0h0.85M274.3 259.5h0.85M299.7 252.5h0.85M281.6 256.6h0.85M283.7 254.2h0.85M315.9 259.6h0.85M270.9 253.7h0.85M299.7 257.6h0.85M278.8 254.2h0.85M277.7 258.4h0.85M282.7 251.0h0.85M291.4 244.9h0.85M271.0 254.9h0.85M308.6 260.1h0.85M294.9 259.2h0.85M288.9 261.3h0.85M275.2 256.6h0.85M295.6 255.3h0.85M286.1 261.9h0.85M256.2 254.0h0.85M301.5 253.7h0.85M298.1 261.1h0.85M258.8 254.5h0.85M263.4 261.6h0.85M306.8 252.8h0.85M303.5 262.4h0.85M267.9 259.6h0.85M293.2 261.4h0.85M293.5 256.7h0.85M291.8 260.3h0.85M257.3 260.8h0.85M290.6 259.3h0.85M278.7 260.6h0.85M285.4 258.8h0.85M277.2 260.9h0.85M268.7 254.3h0.85M272.2 254.7h0.85M280.3 253.8h0.85M293.6 260.7h0.85M278.9 256.9h0.85M277.2 246.3h0.85M298.7 254.0h0.85M293.3 256.2h0.85M287.1 256.9h0.85M284.5 258.2h0.85M280.8 257.9h0.85M293.4 255.9h0.85M272.0 256.8h0.85M295.2 255.2h0.85M289.5 260.0h0.85M298.3 258.5h0.85M286.3 258.3h0.85M271.4 259.6h0.85M283.0 262.9h0.85M280.6 253.1h0.85M268.0 259.1h0.85M276.1 254.2h0.85M277.0 261.8h0.85M278.5 259.3h0.85M292.5 257.2h0.85M290.1 261.1h0.85M307.1 257.8h0.85M284.9 259.3h0.85M260.7 262.0h0.85M266.3 257.5h0.85M296.7 254.8h0.85M298.1 260.0h0.85M276.7 262.4h0.85M317.8 252.0h0.85M282.7 259.9h0.85M266.5 246.7h0.85M267.9 256.1h0.85M281.7 260.0h0.85M284.1 255.9h0.85M266.5 260.3h0.85M270.0 257.2h0.85M289.1 257.4h0.85M288.9 258.1h0.85M262.9 258.4h0.85M283.0 261.9h0.85M246.3 255.0h0.85M277.0 258.8h0.85M288.9 260.1h0.85M303.9 256.0h0.85M287.3 258.9h0.85M285.4 256.1h0.85M276.7 257.1h0.85M281.8 254.8h0.85M297.0 262.9h0.85M268.9 258.7h0.85M278.6 261.4h0.85M286.8 252.3h0.85M276.5 260.1h0.85M259.0 263.7h0.85M278.6 255.2h0.85M298.6 261.6h0.85M268.4 253.8h0.85M268.8 252.2h0.85M310.4 258.6h0.85M278.3 261.2h0.85M272.0 255.4h0.85M274.0 256.2h0.85M285.3 254.8h0.85M270.6 256.1h0.85M288.6 260.0h0.85M284.3 254.9h0.85M283.1 261.0h0.85M252.0 258.5h0.85M281.1 257.0h0.85M275.0 254.2h0.85M253.0 255.1h0.85M280.6 253.2h0.85M280.7 258.6h0.85M289.6 256.3h0.85M266.1 255.6h0.85M280.3 253.1h0.85M290.2 257.6h0.85M270.1 257.3h0.85M282.3 259.6h0.85M306.2 250.7h0.85M287.9 255.7h0.85M286.2 258.7h0.85M270.9 254.7h0.85M276.2 256.0h0.85M289.7 256.0h0.85M292.5 257.3h0.85M269.2 269.1h0.85M254.5 254.1h0.85M298.5 255.1h0.85M331.1 258.0h0.85M267.3 259.5h0.85M280.4 260.6h0.85M274.4 246.9h0.85M284.1 257.5h0.85M298.1 261.0h0.85M312.8 251.6h0.85M292.1 260.2h0.85M271.0 258.1h0.85M289.8 257.0h0.85M286.4 258.2h0.85M288.0 264.0h0.85M288.7 258.1h0.85M295.4 265.8h0.85M269.2 256.4h0.85M275.5 259.8h0.85M299.2 252.6h0.85M288.9 253.8h0.85M284.8 254.1h0.85M291.9 255.5h0.85M271.3 254.8h0.85M271.6 258.6h0.85M300.6 257.8h0.85M299.0 253.1h0.85M291.0 254.6h0.85M289.6 257.2h0.85M297.5 256.7h0.85M290.6 266.3h0.85M281.9 255.7h0.85M279.1 263.8h0.85M296.1 254.9h0.85M290.6 258.1h0.85M290.6 254.1h0.85M266.5 255.0h0.85M289.2 260.4h0.85M281.9 259.6h0.85M278.1 253.4h0.85M265.1 257.6h0.85M250.6 253.3h0.85M250.6 250.8h0.85M279.0 254.6h0.85M282.0 257.0h0.85M288.4 257.1h0.85M293.9 258.6h0.85M321.1 260.8h0.85M280.7 258.4h0.85M293.5 262.3h0.85M267.7 259.3h0.85M293.9 259.6h0.85M295.8 257.6h0.85M284.2 257.2h0.85M283.1 258.4h0.85M298.9 255.3h0.85M300.0 253.3h0.85M282.6 263.0h0.85M290.3 259.1h0.85M282.8 256.1h0.85M275.3 263.8h0.85M287.8 257.6h0.85M271.0 256.0h0.85M306.6 257.0h0.85M307.0 256.8h0.85M257.6 265.1h0.85M290.0 255.7h0.85M297.0 256.7h0.85M281.2 256.9h0.85M269.1 258.4h0.85M270.2 252.7h0.85M286.1 253.4h0.85M275.1 256.9h0.85M280.3 258.7h0.85M266.4 263.6h0.85M269.6 258.4h0.85M280.5 258.2h0.85M272.4 257.7h0.85M290.7 260.7h0.85" stroke="#bfc2d3" stroke-width="0.85" fill="none" opacity="0.95"/>
<path d="M272.6 255.3h0.85M298.0 257.9h0.85M289.0 255.1h0.85M282.7 256.2h0.85M291.6 254.9h0.85M293.6 257.1h0.85M282.6 258.3h0.85M292.2 256.3h0.85M271.5 254.7h0.85M307.5 256.7h0.85M290.7 259.1h0.85M271.0 259.1h0.85M274.3 258.8h0.85M287.2 256.8h0.85M272.2 257.4h0.85M284.6 257.1h0.85M281.2 257.9h0.85M279.2 257.6h0.85M277.1 255.8h0.85M278.8 260.0h0.85M280.6 260.1h0.85M278.7 257.5h0.85M298.8 256.8h0.85M271.9 257.7h0.85M286.8 257.6h0.85M295.5 257.5h0.85M284.7 258.2h0.85M300.3 257.3h0.85M287.3 256.8h0.85M299.0 257.8h0.85M293.8 258.6h0.85M277.8 262.0h0.85M291.7 257.8h0.85M273.8 258.9h0.85M298.5 257.6h0.85M285.0 257.2h0.85M293.7 257.5h0.85M283.6 259.6h0.85M275.3 258.8h0.85M293.9 259.0h0.85M297.7 259.8h0.85M276.9 254.8h0.85M290.8 257.8h0.85M279.3 260.4h0.85M294.1 256.1h0.85M290.4 257.3h0.85M294.3 255.8h0.85M284.5 259.4h0.85M289.6 258.4h0.85M288.5 254.9h0.85M290.4 258.0h0.85M293.9 259.8h0.85M289.3 254.9h0.85M278.9 261.9h0.85M278.3 257.8h0.85M293.7 259.2h0.85M286.7 260.1h0.85M290.5 259.9h0.85M277.9 258.4h0.85M265.9 258.7h0.85M302.8 256.8h0.85M278.0 255.7h0.85M278.9 256.8h0.85M289.6 257.1h0.85M273.4 254.2h0.85M279.2 258.6h0.85M279.7 256.7h0.85M286.8 257.5h0.85M280.6 257.6h0.85M284.0 259.8h0.85M281.3 258.7h0.85M295.4 259.0h0.85M289.4 257.6h0.85M265.0 255.3h0.85M294.4 255.6h0.85M299.0 257.6h0.85M302.9 258.2h0.85M294.9 256.1h0.85M287.8 255.7h0.85M285.7 258.5h0.85M269.5 257.7h0.85M264.7 258.9h0.85M281.3 258.5h0.85M288.1 257.4h0.85M290.2 257.6h0.85M296.7 256.1h0.85M302.3 257.5h0.85M270.5 257.5h0.85M293.6 255.3h0.85M282.9 259.2h0.85M287.4 258.5h0.85M283.1 259.7h0.85M276.7 255.9h0.85M285.2 257.9h0.85M271.7 257.1h0.85M297.0 255.8h0.85M284.8 253.1h0.85M264.2 258.4h0.85M281.2 259.1h0.85M283.0 259.7h0.85M291.9 256.8h0.85M283.4 257.7h0.85M291.1 254.8h0.85M289.4 260.6h0.85M304.0 260.0h0.85M296.4 255.1h0.85M282.7 258.2h0.85M285.3 259.6h0.85M275.2 254.4h0.85M283.9 255.3h0.85M284.5 257.1h0.85M286.1 256.5h0.85M296.1 254.7h0.85M278.6 255.8h0.85M300.7 258.4h0.85M302.8 258.2h0.85M282.6 259.3h0.85M261.1 260.5h0.85M275.5 255.6h0.85M275.7 257.5h0.85M282.3 256.8h0.85M274.6 257.7h0.85M282.6 257.5h0.85M294.8 256.5h0.85M292.6 258.7h0.85M294.6 260.0h0.85M279.1 255.4h0.85M289.9 254.1h0.85M297.9 258.5h0.85M282.2 257.6h0.85M272.9 257.8h0.85M281.8 258.3h0.85M290.1 255.7h0.85M274.7 259.1h0.85M284.0 258.3h0.85M275.3 261.2h0.85M281.6 258.3h0.85M300.9 257.6h0.85M290.6 258.3h0.85M287.0 260.4h0.85M288.1 258.6h0.85M266.2 255.9h0.85M288.6 258.6h0.85M276.3 259.4h0.85M274.4 259.7h0.85M289.1 257.8h0.85M291.7 257.5h0.85M292.0 258.8h0.85M285.3 261.3h0.85M305.5 257.0h0.85M285.7 256.6h0.85M290.6 260.0h0.85M284.2 256.5h0.85M272.6 255.5h0.85M286.3 257.2h0.85M283.5 257.9h0.85M277.4 259.1h0.85M288.3 256.1h0.85M283.5 256.7h0.85M282.2 258.2h0.85M292.2 257.7h0.85M288.7 260.4h0.85M285.6 260.7h0.85M281.5 255.8h0.85M281.6 257.4h0.85M288.2 255.2h0.85M280.4 256.0h0.85M274.7 258.6h0.85M290.9 257.4h0.85M280.5 257.9h0.85M287.1 256.9h0.85M288.9 257.4h0.85M282.9 258.5h0.85M294.8 256.4h0.85M287.1 259.6h0.85M287.2 258.5h0.85M280.8 259.5h0.85M289.2 259.2h0.85M280.3 255.8h0.85M289.7 257.5h0.85M292.0 257.9h0.85M280.7 259.8h0.85M287.9 257.9h0.85M282.2 253.9h0.85M277.0 257.1h0.85M289.3 261.4h0.85M281.7 259.3h0.85M285.0 259.0h0.85M286.3 259.5h0.85M276.5 257.0h0.85M288.8 258.9h0.85M290.8 257.7h0.85M288.0 259.5h0.85M307.8 258.6h0.85M299.0 257.8h0.85M268.9 256.2h0.85M272.3 255.4h0.85M287.5 258.0h0.85M295.1 256.2h0.85M267.4 257.1h0.85M289.2 258.8h0.85M281.6 258.3h0.85M285.2 256.3h0.85M292.6 255.3h0.85M293.7 257.8h0.85M299.2 255.9h0.85M276.1 258.9h0.85M270.9 257.5h0.85M280.5 257.3h0.85M302.6 256.0h0.85M280.0 254.5h0.85M287.7 256.6h0.85M302.9 257.3h0.85M284.2 256.9h0.85M276.7 257.8h0.85M286.0 257.0h0.85M290.6 260.8h0.85M290.8 256.9h0.85M306.3 257.6h0.85M282.1 258.7h0.85M282.2 258.5h0.85M297.4 258.8h0.85M272.6 259.8h0.85M295.8 257.7h0.85M274.6 256.5h0.85M285.2 257.2h0.85M279.1 257.3h0.85M273.9 256.1h0.85M289.8 256.9h0.85M271.4 257.8h0.85M273.4 258.7h0.85M286.2 258.0h0.85M281.7 258.4h0.85M287.0 257.0h0.85M274.0 257.1h0.85M281.5 254.4h0.85M291.4 258.0h0.85M272.2 256.1h0.85M294.4 258.9h0.85M280.4 258.2h0.85M281.2 254.3h0.85M290.7 254.7h0.85M293.3 258.6h0.85M278.9 254.4h0.85M278.5 254.1h0.85M299.5 257.5h0.85M286.5 254.9h0.85M295.6 257.5h0.85M282.5 256.8h0.85M272.3 260.0h0.85M273.7 256.5h0.85M268.8 257.7h0.85M284.3 256.3h0.85M288.7 255.8h0.85M286.1 257.8h0.85M276.3 258.9h0.85M299.3 257.7h0.85M269.6 257.0h0.85M266.1 256.5h0.85M288.3 257.4h0.85M298.2 257.3h0.85M289.7 258.9h0.85M286.2 259.3h0.85M284.7 258.3h0.85M285.1 259.1h0.85M287.8 258.0h0.85M273.2 259.1h0.85M278.6 259.2h0.85M288.2 258.0h0.85M280.8 256.1h0.85M279.6 260.3h0.85M287.4 256.9h0.85M288.8 259.3h0.85M274.6 252.3h0.85M286.7 255.8h0.85M293.3 257.5h0.85M269.8 260.7h0.85M278.6 259.0h0.85M288.9 257.0h0.85M282.9 259.5h0.85M286.8 254.9h0.85M292.7 258.4h0.85M280.2 259.1h0.85M279.8 256.8h0.85M276.9 260.1h0.85M292.1 259.2h0.85M295.8 258.8h0.85M272.2 259.9h0.85M271.4 255.4h0.85M278.1 253.3h0.85M286.6 257.7h0.85M274.4 256.3h0.85M297.0 255.9h0.85M271.4 255.9h0.85M292.0 256.4h0.85M269.8 255.5h0.85M289.3 261.7h0.85M296.1 259.8h0.85M280.8 255.1h0.85M291.4 260.2h0.85M283.0 256.2h0.85M282.7 253.8h0.85M287.6 259.9h0.85M304.5 258.0h0.85M299.0 254.2h0.85M284.1 257.8h0.85M285.5 257.9h0.85M282.9 257.0h0.85M293.7 256.5h0.85M290.1 255.9h0.85M284.8 254.5h0.85M291.3 256.9h0.85M271.2 258.2h0.85M274.5 255.6h0.85M303.8 256.6h0.85M279.6 257.9h0.85M294.1 252.9h0.85M304.9 256.3h0.85M274.1 256.7h0.85M278.6 257.9h0.85M279.5 258.6h0.85M276.3 258.8h0.85M287.3 258.3h0.85M276.5 257.0h0.85M289.4 259.3h0.85M284.5 256.7h0.85M280.6 260.8h0.85M273.5 257.1h0.85M286.1 259.9h0.85M271.6 251.7h0.85M283.3 258.4h0.85M285.3 257.4h0.85M292.8 256.9h0.85M282.2 254.9h0.85M291.4 259.5h0.85M290.7 257.6h0.85M290.1 257.8h0.85M296.4 262.4h0.85M266.2 255.7h0.85M276.4 258.3h0.85M282.8 256.8h0.85M294.6 258.9h0.85M294.8 255.8h0.85M295.7 257.9h0.85M303.0 257.9h0.85M279.3 259.3h0.85M281.5 258.1h0.85M286.3 258.0h0.85M286.2 260.0h0.85M284.4 258.4h0.85M290.9 256.5h0.85M290.0 259.7h0.85M293.3 256.8h0.85M283.6 257.2h0.85M280.2 254.4h0.85M286.1 255.0h0.85M297.2 257.8h0.85M294.3 258.5h0.85M286.7 257.2h0.85M281.1 256.2h0.85M275.2 263.2h0.85M282.3 259.5h0.85M286.7 257.6h0.85M282.0 256.9h0.85M279.0 259.6h0.85M289.2 256.1h0.85M293.6 259.6h0.85M273.1 259.4h0.85M294.6 256.8h0.85M294.6 256.9h0.85M280.0 256.2h0.85M281.9 257.7h0.85M272.9 259.6h0.85M293.3 259.8h0.85M297.0 258.5h0.85M278.9 257.3h0.85M279.8 258.5h0.85M261.4 257.7h0.85M277.7 260.7h0.85M270.4 258.8h0.85M277.0 260.4h0.85M276.5 259.2h0.85M274.5 257.6h0.85M291.1 257.8h0.85M282.1 254.5h0.85M288.4 259.0h0.85M289.8 256.3h0.85M284.9 258.0h0.85M299.1 253.8h0.85M274.0 257.3h0.85M286.8 258.6h0.85M278.7 257.2h0.85M271.5 257.8h0.85M299.5 256.5h0.85M277.7 257.7h0.85M288.0 256.4h0.85M283.2 257.6h0.85M262.0 257.8h0.85M274.7 257.4h0.85M291.0 259.8h0.85M293.4 255.0h0.85M291.4 257.2h0.85M287.3 258.6h0.85M272.1 256.5h0.85M284.0 261.2h0.85M286.2 254.7h0.85M283.1 260.1h0.85M287.5 257.8h0.85M273.9 256.7h0.85M294.2 259.4h0.85M273.8 257.8h0.85M290.0 255.5h0.85M287.1 261.1h0.85M286.7 258.3h0.85M286.3 259.3h0.85M298.6 259.4h0.85M297.7 258.6h0.85M284.3 257.8h0.85M302.4 256.3h0.85M277.1 257.3h0.85M281.6 256.5h0.85M287.7 257.4h0.85M283.0 261.3h0.85M279.1 256.4h0.85M278.9 257.7h0.85M283.3 255.7h0.85M286.2 260.5h0.85M289.1 257.0h0.85M299.9 256.1h0.85M290.4 255.4h0.85M296.7 256.2h0.85M285.3 255.1h0.85M288.7 258.5h0.85M295.2 257.3h0.85M281.3 254.9h0.85M283.8 257.5h0.85M280.5 260.7h0.85M299.0 257.8h0.85M280.4 258.2h0.85M293.3 257.3h0.85M276.1 257.3h0.85M291.3 255.3h0.85M286.5 258.2h0.85M287.3 258.4h0.85M275.1 256.0h0.85M275.4 259.8h0.85M286.5 256.0h0.85M279.6 259.7h0.85M262.8 257.9h0.85M288.5 254.6h0.85M285.7 257.7h0.85M294.3 260.0h0.85M279.7 256.3h0.85M264.6 258.6h0.85M294.3 255.2h0.85M281.6 258.2h0.85M290.5 257.9h0.85M295.8 255.2h0.85M275.6 257.0h0.85M283.9 257.1h0.85M277.1 257.5h0.85M271.6 256.1h0.85M288.0 259.6h0.85M279.6 256.5h0.85M287.7 257.3h0.85M292.2 258.3h0.85M288.3 259.2h0.85M291.9 254.7h0.85M283.4 259.4h0.85M262.8 256.2h0.85M274.2 257.8h0.85M276.4 254.7h0.85M286.0 256.7h0.85M273.8 256.0h0.85M296.5 258.9h0.85M278.3 260.1h0.85M279.3 255.3h0.85M289.5 255.4h0.85M290.1 255.8h0.85M281.9 256.1h0.85M276.9 257.8h0.85M298.9 254.3h0.85M280.5 256.8h0.85M279.3 256.0h0.85M296.8 258.3h0.85M294.6 261.1h0.85M274.8 256.1h0.85M280.6 258.1h0.85M273.9 258.2h0.85M289.8 257.5h0.85M283.5 260.8h0.85M285.4 258.4h0.85M297.2 259.6h0.85M282.3 257.6h0.85M294.5 258.4h0.85M284.4 257.7h0.85M309.6 256.7h0.85M284.1 257.8h0.85M272.0 258.6h0.85M272.3 255.7h0.85M283.7 255.1h0.85M273.6 258.0h0.85M293.2 256.8h0.85M304.9 258.0h0.85M297.1 256.2h0.85M279.7 258.6h0.85M280.2 258.4h0.85M270.8 259.2h0.85M291.2 258.8h0.85M285.3 254.8h0.85M274.7 257.6h0.85M286.4 254.6h0.85M280.6 259.2h0.85M297.2 259.0h0.85M273.1 255.4h0.85M280.9 255.8h0.85M287.5 257.5h0.85M276.6 258.9h0.85M287.2 259.8h0.85M283.6 260.1h0.85M287.6 257.1h0.85M284.5 259.1h0.85M282.6 258.6h0.85M271.8 259.9h0.85M282.3 260.6h0.85M281.6 259.2h0.85M281.3 256.8h0.85M287.0 257.0h0.85M286.3 257.1h0.85M266.1 257.9h0.85M283.5 258.2h0.85M277.6 258.9h0.85M294.2 254.8h0.85M293.2 255.9h0.85M275.1 256.7h0.85M279.8 258.7h0.85M270.6 261.1h0.85M278.3 255.8h0.85M280.4 257.7h0.85M278.1 257.5h0.85M295.7 260.3h0.85M282.7 256.4h0.85M265.7 260.8h0.85M285.8 258.2h0.85M279.2 258.5h0.85M278.7 255.6h0.85M280.0 258.8h0.85M290.0 254.4h0.85M274.5 256.2h0.85M273.4 256.2h0.85M291.9 259.9h0.85M283.7 256.4h0.85M280.6 257.7h0.85M293.3 256.5h0.85M278.0 253.8h0.85M290.5 257.7h0.85M291.4 260.1h0.85M292.2 255.7h0.85M288.8 259.8h0.85M283.0 251.7h0.85M284.4 259.7h0.85M283.6 258.2h0.85M291.2 258.6h0.85M281.5 256.7h0.85M286.7 257.8h0.85M286.6 260.7h0.85M276.6 257.5h0.85M276.5 256.4h0.85M291.8 260.7h0.85M283.2 258.4h0.85M291.3 256.9h0.85M276.7 260.9h0.85M294.1 257.4h0.85M280.3 258.4h0.85M289.0 256.1h0.85M289.2 256.5h0.85M287.7 257.2h0.85M290.0 254.6h0.85M278.9 258.2h0.85M280.6 256.4h0.85M296.0 258.9h0.85M279.9 258.0h0.85M275.8 259.3h0.85M285.2 258.4h0.85M292.1 260.5h0.85M302.2 258.0h0.85M276.5 258.6h0.85M283.2 254.2h0.85M278.8 260.6h0.85M279.2 256.4h0.85M287.7 257.6h0.85M305.2 259.9h0.85M269.0 257.3h0.85M298.9 258.3h0.85M277.2 259.6h0.85M294.2 259.7h0.85M281.6 256.4h0.85M283.7 258.3h0.85M284.9 257.3h0.85M285.2 259.1h0.85M299.7 258.6h0.85M293.3 259.0h0.85M289.2 254.6h0.85M271.7 259.9h0.85M299.6 256.9h0.85M279.4 256.6h0.85M288.1 259.2h0.85M290.6 258.4h0.85M291.9 257.7h0.85M293.4 256.9h0.85M280.7 257.2h0.85M274.5 256.6h0.85M280.1 257.7h0.85M291.7 258.6h0.85M281.9 256.7h0.85M285.8 259.0h0.85M299.8 258.3h0.85M294.3 256.3h0.85M282.0 255.5h0.85M267.4 258.8h0.85M282.9 258.2h0.85M269.3 256.2h0.85M282.3 257.4h0.85M298.3 259.1h0.85M280.4 255.5h0.85M301.2 258.7h0.85M278.5 256.4h0.85M282.9 258.5h0.85M287.0 258.4h0.85M291.9 257.5h0.85M280.5 260.9h0.85M283.9 257.7h0.85M285.5 256.4h0.85M288.1 257.9h0.85M281.2 261.5h0.85M277.3 255.4h0.85M295.9 255.3h0.85M259.9 258.9h0.85M273.7 257.1h0.85M296.2 256.0h0.85M270.0 258.1h0.85M274.7 256.0h0.85M275.8 258.5h0.85M292.2 257.1h0.85M285.6 257.2h0.85M277.3 257.6h0.85M287.3 255.4h0.85M276.1 257.7h0.85M280.7 259.6h0.85M279.0 253.9h0.85M287.0 255.2h0.85M285.2 256.8h0.85M265.3 257.6h0.85M271.2 256.4h0.85M284.6 258.8h0.85M291.8 257.0h0.85M289.3 256.2h0.85M285.4 254.7h0.85M290.9 258.3h0.85M284.4 257.9h0.85M292.2 259.0h0.85M284.7 259.4h0.85M296.6 257.0h0.85M269.5 259.3h0.85M295.6 255.7h0.85M270.1 257.4h0.85M276.4 261.4h0.85M274.5 258.3h0.85M266.9 255.6h0.85M281.6 258.5h0.85M296.7 258.2h0.85M288.9 257.0h0.85M286.8 258.2h0.85M292.7 257.3h0.85M292.5 257.3h0.85M263.8 256.2h0.85M286.8 257.6h0.85M286.6 253.8h0.85M290.7 255.8h0.85M264.0 258.8h0.85M290.5 258.0h0.85M288.9 259.9h0.85M286.2 255.1h0.85M308.4 256.1h0.85M286.1 255.5h0.85M289.5 261.5h0.85M293.1 259.0h0.85M262.4 257.7h0.85M271.3 256.6h0.85M276.1 258.6h0.85M292.3 254.8h0.85M281.5 256.7h0.85M278.5 258.6h0.85M282.9 259.2h0.85M285.5 258.6h0.85M279.6 257.2h0.85M276.4 258.1h0.85M277.2 259.6h0.85M285.2 257.1h0.85M289.0 258.6h0.85M276.6 260.9h0.85M292.8 254.7h0.85M277.3 254.0h0.85M276.0 256.3h0.85M279.0 259.5h0.85M269.4 257.1h0.85M279.6 260.1h0.85M270.3 258.3h0.85M286.5 257.6h0.85M277.2 258.2h0.85M277.1 255.1h0.85M274.5 256.7h0.85M278.6 257.2h0.85M276.2 257.3h0.85M293.1 255.8h0.85M281.0 255.7h0.85M283.4 261.1h0.85M280.8 256.0h0.85M282.5 259.2h0.85M278.1 257.7h0.85M275.6 257.7h0.85M272.8 255.0h0.85M291.5 255.1h0.85M288.9 257.4h0.85M292.9 257.4h0.85M289.5 256.8h0.85M274.1 258.0h0.85M275.8 257.7h0.85M282.1 257.6h0.85M269.0 259.4h0.85M277.3 256.4h0.85M286.1 257.9h0.85M291.0 258.1h0.85M271.4 259.8h0.85M278.8 259.7h0.85M278.6 262.0h0.85M275.2 255.9h0.85M275.4 258.5h0.85M280.4 260.2h0.85M290.8 255.5h0.85M285.7 258.8h0.85M295.3 257.6h0.85M287.0 259.5h0.85M296.8 257.7h0.85M278.3 254.9h0.85M281.9 257.3h0.85M277.8 255.1h0.85M270.2 258.0h0.85M287.4 257.3h0.85M280.8 257.1h0.85M277.0 255.5h0.85M290.7 258.3h0.85M303.8 258.4h0.85M279.4 258.8h0.85M278.5 254.5h0.85M271.6 260.0h0.85M298.7 255.1h0.85M274.4 261.0h0.85M281.7 253.7h0.85M291.8 258.8h0.85M277.4 260.2h0.85M275.3 257.6h0.85M284.0 259.6h0.85M276.2 257.9h0.85M296.8 258.9h0.85M273.3 256.1h0.85M268.1 257.0h0.85M275.3 256.9h0.85M282.9 255.2h0.85M289.5 255.4h0.85M290.6 255.2h0.85M275.5 253.0h0.85M291.2 260.1h0.85M279.2 258.7h0.85M279.2 255.4h0.85M285.7 257.9h0.85M271.0 255.3h0.85M293.5 255.7h0.85M289.5 256.6h0.85M277.6 258.0h0.85M287.0 254.2h0.85M283.2 256.2h0.85M293.4 258.4h0.85M285.2 255.8h0.85M286.4 259.6h0.85M295.9 257.8h0.85M288.9 255.8h0.85M285.3 257.5h0.85M272.5 257.3h0.85M287.0 255.7h0.85M282.8 258.5h0.85M291.0 258.1h0.85M268.3 259.9h0.85M296.6 260.3h0.85M284.7 257.9h0.85M274.8 259.7h0.85M283.8 256.4h0.85M293.1 260.0h0.85M275.7 258.0h0.85M295.8 259.9h0.85M293.1 259.9h0.85M294.4 260.4h0.85M290.2 258.6h0.85M285.5 257.8h0.85M295.5 258.5h0.85M287.8 256.2h0.85M277.5 256.3h0.85M284.1 255.9h0.85M296.9 256.2h0.85M290.0 259.4h0.85M270.9 256.5h0.85M270.3 257.8h0.85M293.9 255.1h0.85M272.5 259.5h0.85M289.1 259.3h0.85M275.5 258.7h0.85M291.1 259.5h0.85M280.1 257.9h0.85M286.9 256.9h0.85M282.8 257.2h0.85M273.0 259.2h0.85M286.0 261.7h0.85M271.0 256.6h0.85M274.3 256.3h0.85M276.8 259.6h0.85M300.0 257.7h0.85M280.9 258.2h0.85M291.6 258.0h0.85M282.1 256.9h0.85M274.6 259.6h0.85M297.0 257.8h0.85M285.4 254.5h0.85M292.3 260.9h0.85M284.4 255.9h0.85M278.4 258.1h0.85M293.6 259.3h0.85M278.4 254.8h0.85M290.9 258.6h0.85M291.9 259.1h0.85M272.6 257.6h0.85M296.4 255.3h0.85M292.5 254.5h0.85M281.9 257.1h0.85M278.3 255.3h0.85M280.3 257.1h0.85M276.4 258.0h0.85M289.9 259.8h0.85M288.7 260.0h0.85M285.9 259.8h0.85M283.8 256.3h0.85M293.8 256.1h0.85M278.2 258.3h0.85M279.0 257.8h0.85M293.1 258.3h0.85M286.3 258.3h0.85M273.5 257.5h0.85M287.2 258.2h0.85M279.7 259.9h0.85M281.9 257.5h0.85M284.6 256.3h0.85M291.8 258.6h0.85M288.5 256.5h0.85M292.7 259.6h0.85M276.5 255.2h0.85M286.5 258.5h0.85M280.6 253.3h0.85M285.1 257.6h0.85M268.8 258.2h0.85M280.1 254.3h0.85M287.1 258.3h0.85M279.7 257.8h0.85M304.3 256.1h0.85M266.0 251.5h0.85M279.2 257.7h0.85M299.3 254.7h0.85M295.7 254.5h0.85M279.9 255.5h0.85M292.8 257.6h0.85M285.4 257.4h0.85M275.2 257.7h0.85M280.3 260.5h0.85M291.5 260.5h0.85M286.9 258.5h0.85M278.0 259.4h0.85M284.2 261.0h0.85M286.4 255.4h0.85M295.4 257.2h0.85M303.6 259.1h0.85M285.1 259.6h0.85M265.6 255.8h0.85M288.5 256.8h0.85M269.8 257.7h0.85M287.6 257.0h0.85M278.0 257.0h0.85M280.2 259.2h0.85M279.2 256.9h0.85M284.3 259.9h0.85M273.8 258.6h0.85M294.5 259.0h0.85M291.8 257.0h0.85M291.8 255.4h0.85M267.9 258.8h0.85M281.8 259.5h0.85M287.4 259.5h0.85M275.3 259.0h0.85M284.3 256.8h0.85M272.1 257.0h0.85M290.0 256.5h0.85M286.5 259.5h0.85M288.3 257.5h0.85M283.3 259.4h0.85M285.2 255.6h0.85M287.2 258.3h0.85M293.5 255.9h0.85M291.3 255.4h0.85M263.2 260.4h0.85M283.7 256.0h0.85M285.8 255.2h0.85M278.7 255.4h0.85M292.8 254.8h0.85M285.6 258.7h0.85M287.5 258.1h0.85M294.7 256.7h0.85M292.6 256.6h0.85M290.1 255.9h0.85M266.8 257.4h0.85M276.8 257.8h0.85M287.8 256.9h0.85M265.5 259.1h0.85M295.1 256.8h0.85M277.0 259.2h0.85M276.7 256.7h0.85M277.7 256.3h0.85M284.3 258.3h0.85M289.8 256.7h0.85M269.1 259.1h0.85M290.6 258.8h0.85M286.3 259.9h0.85M292.0 257.3h0.85M273.8 259.2h0.85M287.6 257.7h0.85M292.9 258.1h0.85M263.9 257.1h0.85M278.1 258.2h0.85M266.3 256.8h0.85M272.1 256.9h0.85M289.6 258.6h0.85M266.0 258.8h0.85M279.2 256.9h0.85M286.2 257.1h0.85M283.4 257.3h0.85M291.9 259.4h0.85M282.7 257.5h0.85M275.4 256.6h0.85M284.6 254.5h0.85M279.1 259.2h0.85M296.7 257.3h0.85M293.1 257.2h0.85M281.9 258.3h0.85M275.2 259.1h0.85M304.2 255.9h0.85M289.0 257.3h0.85M281.5 259.8h0.85M282.2 258.5h0.85M275.2 260.7h0.85M255.3 255.2h0.85M286.2 261.2h0.85M291.8 255.8h0.85M272.9 256.6h0.85M265.8 261.9h0.85M292.2 258.3h0.85M286.7 256.4h0.85M291.3 255.1h0.85M294.6 255.7h0.85M284.9 258.9h0.85M284.2 257.4h0.85M293.0 257.0h0.85M261.6 257.1h0.85M267.3 256.3h0.85M277.4 257.3h0.85M282.8 259.7h0.85M284.9 255.8h0.85M291.4 257.5h0.85M285.9 258.7h0.85M273.8 258.6h0.85M272.9 256.9h0.85M310.4 255.9h0.85M286.6 256.3h0.85M271.1 256.4h0.85M270.1 259.1h0.85M288.9 255.6h0.85M280.2 257.7h0.85M287.4 255.9h0.85M279.1 257.1h0.85M286.9 257.3h0.85M294.5 259.3h0.85M288.2 258.0h0.85M263.9 257.0h0.85M291.7 259.0h0.85M281.7 255.5h0.85M284.4 258.8h0.85M286.7 255.9h0.85M286.0 255.6h0.85M282.6 257.4h0.85M273.1 258.6h0.85M274.2 257.7h0.85M286.1 256.2h0.85M282.1 257.9h0.85M268.2 258.0h0.85M283.8 261.4h0.85M289.2 255.6h0.85M287.8 255.9h0.85M270.2 258.0h0.85M274.9 256.0h0.85M290.9 259.4h0.85M266.3 254.7h0.85M279.0 257.2h0.85M281.7 257.9h0.85M292.4 256.1h0.85M306.0 257.5h0.85M282.7 258.3h0.85M278.6 255.3h0.85M266.6 259.8h0.85M273.5 259.1h0.85M290.4 260.6h0.85M282.3 261.7h0.85M275.2 260.2h0.85M272.1 258.3h0.85M277.2 256.5h0.85M279.2 256.9h0.85M291.6 258.9h0.85M263.2 260.0h0.85M282.0 257.5h0.85M288.0 258.9h0.85M280.3 256.3h0.85M280.8 260.9h0.85M288.1 255.2h0.85M294.3 258.0h0.85M281.2 258.1h0.85M277.4 257.9h0.85M272.3 261.9h0.85M294.5 258.4h0.85M268.6 261.4h0.85M291.2 254.7h0.85M287.0 256.8h0.85M281.0 256.2h0.85M274.5 258.0h0.85M283.3 254.8h0.85M273.6 259.1h0.85M282.0 258.9h0.85M281.3 256.8h0.85M269.5 258.1h0.85M293.2 257.6h0.85M283.1 258.5h0.85M280.1 256.5h0.85M278.1 257.5h0.85M286.6 257.3h0.85M290.3 257.3h0.85M276.6 255.0h0.85M300.0 261.4h0.85M290.1 257.2h0.85M267.5 258.0h0.85M276.6 256.4h0.85M291.8 258.5h0.85M291.0 257.0h0.85M283.9 257.4h0.85M285.2 258.7h0.85M279.1 258.9h0.85M281.3 258.2h0.85M290.9 255.8h0.85M298.6 259.0h0.85M295.5 255.4h0.85M295.1 258.3h0.85M261.3 254.8h0.85M280.5 256.7h0.85M270.6 257.5h0.85M292.8 255.4h0.85M285.1 259.2h0.85M299.6 255.1h0.85M285.4 258.9h0.85M271.7 258.5h0.85M296.2 258.6h0.85M303.1 258.2h0.85M283.4 256.1h0.85M291.4 256.7h0.85M271.7 258.5h0.85M287.7 260.4h0.85M294.1 261.0h0.85M290.6 259.5h0.85M291.5 259.1h0.85M285.2 257.0h0.85M288.5 258.5h0.85M273.0 254.7h0.85M289.4 260.0h0.85M299.2 258.3h0.85M286.3 258.9h0.85M285.6 258.6h0.85M298.1 260.4h0.85M286.4 256.3h0.85M283.7 260.7h0.85M276.5 258.1h0.85M281.1 258.0h0.85M287.4 255.4h0.85M278.6 255.7h0.85M290.1 259.3h0.85M291.9 260.3h0.85M273.9 261.3h0.85M271.2 258.0h0.85M291.0 257.9h0.85M277.0 258.1h0.85M277.3 257.7h0.85M283.2 257.7h0.85M300.7 258.1h0.85M285.7 257.8h0.85M292.3 256.3h0.85M280.9 259.1h0.85M262.5 261.1h0.85M271.7 257.6h0.85M289.0 256.5h0.85M276.0 259.0h0.85M288.2 257.9h0.85M276.2 256.8h0.85M269.6 259.5h0.85M278.7 259.5h0.85M289.8 262.0h0.85M290.5 256.8h0.85M280.7 256.0h0.85M291.9 259.2h0.85M279.7 259.7h0.85M290.9 256.7h0.85M287.3 259.4h0.85M273.8 260.2h0.85M291.0 257.8h0.85M286.4 256.7h0.85M289.2 258.2h0.85M288.1 256.4h0.85M286.0 257.9h0.85M281.6 256.6h0.85M293.9 257.8h0.85M287.1 261.5h0.85M287.5 256.5h0.85M281.1 258.5h0.85M276.4 256.8h0.85M272.9 254.2h0.85M276.7 255.6h0.85M292.9 256.1h0.85M286.8 260.3h0.85M279.0 257.0h0.85M290.4 259.9h0.85M291.5 254.3h0.85M284.4 259.2h0.85M300.3 257.2h0.85M270.6 257.3h0.85M297.1 258.2h0.85M274.9 257.4h0.85M285.5 259.2h0.85M278.4 258.0h0.85M296.6 258.1h0.85M291.8 256.3h0.85M282.7 257.1h0.85M270.5 254.6h0.85M285.0 257.0h0.85M259.0 257.1h0.85M280.2 257.1h0.85M280.2 259.7h0.85M256.7 255.8h0.85M280.6 263.0h0.85M282.4 258.9h0.85M290.2 257.4h0.85M292.6 259.7h0.85M269.0 255.9h0.85M300.2 258.5h0.85M274.3 254.6h0.85M286.5 260.4h0.85M282.0 258.9h0.85M295.4 258.5h0.85M267.4 259.6h0.85M271.0 257.7h0.85M289.9 255.7h0.85M276.4 255.5h0.85M284.5 256.0h0.85M287.7 255.6h0.85M298.0 255.9h0.85M285.6 257.9h0.85M284.0 256.0h0.85M271.9 260.0h0.85M271.9 257.0h0.85M285.0 257.8h0.85M291.0 256.7h0.85M285.3 259.3h0.85M274.1 257.8h0.85M288.9 257.9h0.85M277.2 256.8h0.85M286.5 259.0h0.85M282.4 258.4h0.85M295.2 256.8h0.85M283.5 257.3h0.85M287.8 258.1h0.85M286.7 256.2h0.85M284.6 256.5h0.85M298.1 255.1h0.85M288.2 257.5h0.85M279.5 258.5h0.85M293.1 258.7h0.85M284.1 257.9h0.85M277.9 256.5h0.85M270.2 260.2h0.85M280.3 257.0h0.85M275.6 256.7h0.85M280.6 257.9h0.85M282.9 256.3h0.85M280.0 257.0h0.85M279.4 257.6h0.85M276.3 260.3h0.85M291.6 255.6h0.85M280.2 256.7h0.85M286.0 258.6h0.85M288.4 259.5h0.85M272.4 256.5h0.85M278.3 259.4h0.85M287.3 258.5h0.85M278.0 257.9h0.85M269.6 258.2h0.85M303.1 258.7h0.85M284.8 256.4h0.85M268.5 255.4h0.85M295.1 260.1h0.85M278.7 258.0h0.85M297.0 256.9h0.85M283.0 255.9h0.85M301.2 257.6h0.85M296.6 257.6h0.85M278.8 260.3h0.85M279.5 254.8h0.85M292.3 257.0h0.85M280.5 256.9h0.85M266.8 257.5h0.85M276.8 258.3h0.85M265.2 257.9h0.85M294.4 254.9h0.85M279.8 255.8h0.85M298.8 255.6h0.85M274.3 260.2h0.85M289.9 256.3h0.85M283.1 255.7h0.85M274.2 261.3h0.85M279.7 257.6h0.85M270.7 256.8h0.85M290.9 256.0h0.85M283.6 257.9h0.85M299.7 257.3h0.85M277.3 259.9h0.85M298.6 258.5h0.85M267.5 259.1h0.85M302.3 258.1h0.85M289.7 257.9h0.85M289.7 257.9h0.85M282.8 257.4h0.85M285.3 256.5h0.85M289.4 257.3h0.85M281.7 257.2h0.85M280.1 260.0h0.85M282.5 259.0h0.85M287.6 259.3h0.85M272.7 260.4h0.85M298.6 258.5h0.85M284.6 255.5h0.85M293.1 256.4h0.85M281.2 261.5h0.85M288.6 254.7h0.85M281.1 256.6h0.85M273.0 257.9h0.85M266.6 257.2h0.85M289.4 258.0h0.85M299.9 258.8h0.85M296.1 258.9h0.85M274.8 257.8h0.85M268.5 257.9h0.85M280.9 259.6h0.85M294.3 259.9h0.85M283.0 253.0h0.85M294.8 259.4h0.85M280.6 260.1h0.85M288.8 258.7h0.85M286.4 257.1h0.85M277.4 257.8h0.85M279.1 256.6h0.85M285.2 257.5h0.85M284.8 257.9h0.85M282.5 259.3h0.85M285.4 260.9h0.85M292.0 260.0h0.85M273.4 258.2h0.85M285.0 256.8h0.85M289.6 256.7h0.85M279.4 254.9h0.85M284.2 256.1h0.85M286.7 256.3h0.85M291.6 257.1h0.85M263.8 255.7h0.85M281.2 256.6h0.85M268.0 257.9h0.85M276.8 258.4h0.85M265.1 259.6h0.85M283.4 255.7h0.85M283.3 254.8h0.85M277.6 258.2h0.85M276.9 258.6h0.85M282.5 258.1h0.85M289.3 257.1h0.85M296.9 256.7h0.85M298.2 256.0h0.85M285.6 260.1h0.85M270.9 258.6h0.85M275.0 258.2h0.85M272.7 256.3h0.85M292.0 256.9h0.85M305.5 257.0h0.85M291.7 256.5h0.85M276.1 258.3h0.85M284.1 255.6h0.85M284.1 257.3h0.85M281.9 258.9h0.85M271.9 256.5h0.85M289.6 259.7h0.85M289.1 258.4h0.85M267.7 255.8h0.85M289.4 256.8h0.85M281.2 258.7h0.85M285.0 257.5h0.85M293.3 259.4h0.85M283.5 253.6h0.85M269.0 258.5h0.85M294.6 255.8h0.85M281.1 253.4h0.85M290.4 257.0h0.85M281.9 254.9h0.85M266.5 258.4h0.85M276.7 257.5h0.85M274.7 259.0h0.85M298.9 260.1h0.85M274.8 256.9h0.85M283.7 255.5h0.85M284.9 259.7h0.85M288.2 255.4h0.85M285.4 257.8h0.85M274.8 259.2h0.85M277.8 258.5h0.85M277.6 258.1h0.85M277.3 255.3h0.85M278.4 258.5h0.85M276.6 259.5h0.85M291.1 257.8h0.85M275.2 257.3h0.85M261.7 255.2h0.85M273.7 261.3h0.85M267.8 258.8h0.85M282.8 260.8h0.85M280.2 258.7h0.85M287.8 255.8h0.85M286.4 258.8h0.85M277.1 257.7h0.85M276.8 257.1h0.85M290.3 257.7h0.85M290.6 256.2h0.85M262.3 259.5h0.85M285.1 257.0h0.85M278.4 256.9h0.85M277.7 255.4h0.85M294.7 256.5h0.85M293.3 257.8h0.85M283.5 258.5h0.85M278.8 257.6h0.85M287.6 257.4h0.85M282.5 258.0h0.85M295.5 258.9h0.85M291.0 260.2h0.85M295.0 256.9h0.85M279.0 256.7h0.85M287.8 257.3h0.85M278.9 255.2h0.85M271.5 259.3h0.85M285.0 255.4h0.85M275.2 258.4h0.85M287.4 257.3h0.85M281.0 255.7h0.85M277.6 257.3h0.85M305.6 258.6h0.85M281.0 254.2h0.85M282.1 257.9h0.85M288.6 256.9h0.85M285.1 257.9h0.85M280.6 257.0h0.85M274.9 260.0h0.85M279.5 258.2h0.85M295.8 260.1h0.85M267.2 257.0h0.85M278.5 256.8h0.85M280.6 259.4h0.85M290.3 256.8h0.85M285.6 256.9h0.85M285.9 253.4h0.85M281.4 260.1h0.85M269.4 260.5h0.85M281.9 257.1h0.85M283.5 256.2h0.85M291.8 256.4h0.85M301.2 257.4h0.85M286.1 257.9h0.85M294.6 258.1h0.85M278.8 255.5h0.85M279.2 259.7h0.85M300.7 258.2h0.85M298.0 257.3h0.85M286.6 255.2h0.85M278.7 257.3h0.85M287.9 259.0h0.85M289.8 255.6h0.85M270.8 257.2h0.85M273.8 258.0h0.85M289.3 258.1h0.85M295.6 256.8h0.85M278.6 253.3h0.85M281.8 258.6h0.85M279.2 256.4h0.85M284.7 257.7h0.85M275.1 258.8h0.85M280.6 258.3h0.85M278.5 256.4h0.85M283.5 259.5h0.85M288.1 257.6h0.85M295.2 257.5h0.85M278.5 258.3h0.85M280.9 257.9h0.85M275.4 255.4h0.85M278.5 259.0h0.85M270.3 260.9h0.85M275.4 260.5h0.85M290.9 256.3h0.85M271.4 254.2h0.85M305.1 256.5h0.85M280.4 257.1h0.85M287.8 258.3h0.85M277.0 257.4h0.85M292.5 256.6h0.85M273.0 258.8h0.85M300.4 260.1h0.85M291.1 256.8h0.85M278.8 256.9h0.85M294.6 256.7h0.85M275.9 259.5h0.85M294.2 254.7h0.85M277.0 255.0h0.85M286.8 255.8h0.85M273.6 259.2h0.85M292.3 257.9h0.85M264.5 255.6h0.85M284.9 256.7h0.85M280.8 258.8h0.85M291.6 255.9h0.85M276.8 257.7h0.85M292.2 255.6h0.85M288.3 255.8h0.85M297.8 258.3h0.85M256.7 257.1h0.85M297.5 258.1h0.85M284.6 259.7h0.85M308.6 255.0h0.85M285.5 255.8h0.85M273.7 256.3h0.85M274.3 256.0h0.85M289.6 255.7h0.85M289.4 256.7h0.85M283.8 263.1h0.85M277.7 261.0h0.85M288.9 258.6h0.85M273.6 258.3h0.85M284.2 257.6h0.85M289.7 257.8h0.85M276.4 257.3h0.85M278.3 260.9h0.85M273.4 260.8h0.85M260.4 259.0h0.85M292.0 257.5h0.85M296.5 253.7h0.85M291.2 257.4h0.85M286.2 256.8h0.85M283.2 256.5h0.85M279.9 256.9h0.85M279.1 254.0h0.85M290.2 256.2h0.85M281.8 259.3h0.85M284.9 256.6h0.85M284.6 259.0h0.85M273.8 258.2h0.85M292.2 259.0h0.85M286.2 256.4h0.85M294.4 253.5h0.85M293.7 259.0h0.85M284.2 261.0h0.85M297.0 253.9h0.85M291.3 259.8h0.85M289.3 257.6h0.85M274.6 259.2h0.85M270.6 256.1h0.85M255.4 257.3h0.85M297.1 257.5h0.85M276.2 257.5h0.85M272.3 261.1h0.85M284.1 255.5h0.85M281.8 256.6h0.85M286.2 255.4h0.85M280.8 257.2h0.85M279.0 261.4h0.85M282.7 256.9h0.85M275.9 258.2h0.85M279.2 257.8h0.85M292.3 257.4h0.85M273.8 257.6h0.85M277.7 255.1h0.85M274.6 255.5h0.85M290.0 260.2h0.85M291.5 255.1h0.85M272.9 258.8h0.85M298.3 261.2h0.85M281.1 261.3h0.85M287.8 256.5h0.85M276.1 261.3h0.85M280.5 257.2h0.85M273.2 257.2h0.85M285.7 258.8h0.85M279.1 259.3h0.85M260.3 256.0h0.85M277.7 255.6h0.85M283.7 256.5h0.85M291.6 259.6h0.85M300.6 257.9h0.85M277.2 261.5h0.85M283.0 259.7h0.85M282.9 257.8h0.85M289.3 259.5h0.85M282.8 257.6h0.85M285.2 257.6h0.85M276.1 258.3h0.85M279.7 260.4h0.85M285.3 258.2h0.85M280.6 257.6h0.85M294.8 256.9h0.85M281.6 254.6h0.85M273.1 258.1h0.85M286.1 257.6h0.85M276.4 259.0h0.85M272.0 257.8h0.85M291.0 258.3h0.85M267.4 257.1h0.85M283.3 256.2h0.85M274.1 258.5h0.85M286.7 256.6h0.85M278.2 257.5h0.85M266.3 256.9h0.85M285.0 258.4h0.85M303.5 257.9h0.85M289.4 259.9h0.85M290.5 258.3h0.85M275.3 254.9h0.85M274.1 255.9h0.85M281.1 259.3h0.85M285.9 257.0h0.85M284.8 257.1h0.85M279.0 258.8h0.85M276.7 256.3h0.85M284.1 261.3h0.85M278.2 258.5h0.85M283.8 259.6h0.85M292.1 257.3h0.85M290.1 257.6h0.85M295.8 254.8h0.85M292.2 258.8h0.85M270.0 258.3h0.85M285.7 258.5h0.85M273.7 259.4h0.85M280.3 256.7h0.85M288.9 259.1h0.85M292.8 260.4h0.85M287.6 256.4h0.85M289.9 259.7h0.85M277.2 257.8h0.85M275.1 259.9h0.85M282.1 256.6h0.85M300.8 256.3h0.85M285.7 253.0h0.85M292.2 256.9h0.85M295.0 256.9h0.85M293.4 257.5h0.85M302.0 256.4h0.85M287.0 255.0h0.85M273.7 256.5h0.85M269.7 257.0h0.85M284.5 257.1h0.85M283.3 255.8h0.85M289.5 257.1h0.85M280.6 255.1h0.85M290.3 257.0h0.85M287.1 256.4h0.85M279.2 259.6h0.85M287.1 256.2h0.85M286.1 258.7h0.85M280.9 255.9h0.85M286.9 258.2h0.85M280.3 261.3h0.85M284.6 256.4h0.85M289.0 257.5h0.85M273.1 255.8h0.85M281.3 258.7h0.85M285.8 259.5h0.85M291.2 259.3h0.85M279.4 253.6h0.85M270.5 255.5h0.85M287.2 258.4h0.85M293.8 258.8h0.85M298.8 260.8h0.85M284.4 257.3h0.85M285.8 256.0h0.85M293.7 258.3h0.85M274.3 257.1h0.85M280.1 257.3h0.85M297.0 261.9h0.85M285.1 258.4h0.85M290.5 258.3h0.85M280.9 257.3h0.85M275.2 258.9h0.85M298.1 258.2h0.85M294.5 259.5h0.85M274.8 259.2h0.85M263.3 255.7h0.85M293.2 259.3h0.85M290.0 256.7h0.85M285.9 253.9h0.85M272.6 258.4h0.85M282.8 260.0h0.85M267.1 260.4h0.85M281.1 260.3h0.85M285.3 258.7h0.85M278.7 257.0h0.85M293.7 256.9h0.85M276.7 258.7h0.85M281.2 256.7h0.85M284.4 258.9h0.85M291.7 257.7h0.85M291.4 259.4h0.85M282.5 260.4h0.85M271.1 253.9h0.85M277.2 258.8h0.85M282.0 255.5h0.85M282.3 257.5h0.85M278.1 257.3h0.85M280.3 256.6h0.85M284.5 256.1h0.85M275.1 255.1h0.85M294.3 254.1h0.85M288.9 258.7h0.85M295.1 257.7h0.85M296.5 256.5h0.85M297.4 259.1h0.85M273.7 258.1h0.85M284.0 257.4h0.85M279.0 257.5h0.85M290.7 258.7h0.85M297.4 257.4h0.85M285.4 258.7h0.85M283.2 256.0h0.85M289.9 258.7h0.85M305.1 260.7h0.85M281.3 260.2h0.85M288.3 253.8h0.85M290.9 260.4h0.85M279.1 257.2h0.85M280.8 256.4h0.85M286.2 257.0h0.85M267.4 259.9h0.85M299.9 256.6h0.85M296.2 257.4h0.85M280.3 257.7h0.85M278.2 257.0h0.85M294.9 256.6h0.85M283.2 255.9h0.85M281.4 255.2h0.85M282.1 256.2h0.85M293.3 258.2h0.85M298.1 258.0h0.85M277.6 257.6h0.85M283.9 261.4h0.85M277.8 259.2h0.85M285.1 258.2h0.85M284.1 258.3h0.85M283.8 258.6h0.85M281.1 255.9h0.85M297.4 258.8h0.85M266.5 252.5h0.85M275.2 257.3h0.85M283.9 256.5h0.85M280.9 257.1h0.85M286.9 258.1h0.85M287.8 256.2h0.85M285.1 255.9h0.85M297.8 259.2h0.85M271.9 255.1h0.85M276.2 260.0h0.85M296.6 257.0h0.85M263.2 257.3h0.85M283.9 259.3h0.85M280.4 255.9h0.85M285.6 253.7h0.85M295.7 257.3h0.85M286.4 256.8h0.85M280.6 257.2h0.85M287.1 258.6h0.85M264.0 257.9h0.85M296.2 257.5h0.85M287.3 259.6h0.85M277.3 258.0h0.85M293.3 258.4h0.85M277.7 255.8h0.85M288.7 255.3h0.85M289.3 256.7h0.85M291.4 257.0h0.85M272.0 259.8h0.85M292.5 259.0h0.85M295.6 257.8h0.85M287.9 257.2h0.85M289.3 256.6h0.85M274.3 257.9h0.85M294.0 257.1h0.85M281.2 256.0h0.85M279.0 257.9h0.85M286.4 261.1h0.85M280.9 254.2h0.85M301.2 257.3h0.85M285.6 257.5h0.85M294.5 259.3h0.85M271.3 258.7h0.85M285.8 254.8h0.85M287.1 257.9h0.85M276.9 255.7h0.85M299.1 258.7h0.85M281.8 257.1h0.85M286.1 258.4h0.85M294.0 257.0h0.85M273.0 259.1h0.85M283.2 255.6h0.85M267.8 256.5h0.85M283.2 254.7h0.85M277.6 256.2h0.85M262.4 256.9h0.85M290.3 258.3h0.85M273.7 257.9h0.85M285.7 256.2h0.85M292.9 256.4h0.85M292.9 255.8h0.85M289.2 260.0h0.85M281.4 256.5h0.85M284.7 256.8h0.85M275.2 259.0h0.85M284.9 260.1h0.85M294.7 259.3h0.85M285.8 260.8h0.85M288.6 256.0h0.85M289.1 259.1h0.85M282.4 257.3h0.85M267.6 258.4h0.85M282.3 257.7h0.85M280.7 255.9h0.85M281.7 257.6h0.85M287.0 256.0h0.85M289.7 256.3h0.85M274.4 258.2h0.85M312.5 254.6h0.85M281.7 258.3h0.85M273.3 258.3h0.85M272.0 255.0h0.85M294.3 259.8h0.85M276.8 258.6h0.85M269.0 259.2h0.85M293.8 256.7h0.85M281.7 258.0h0.85M281.3 258.2h0.85M281.2 255.6h0.85M279.0 256.4h0.85M273.5 257.7h0.85M290.4 257.7h0.85M282.7 257.9h0.85M286.5 257.2h0.85M281.9 257.4h0.85M284.8 254.1h0.85M292.9 256.8h0.85M285.4 254.8h0.85M294.8 257.6h0.85M277.5 257.7h0.85M276.1 259.8h0.85M284.0 260.7h0.85M281.0 256.9h0.85M279.3 254.3h0.85M275.5 261.6h0.85M290.5 258.5h0.85M272.3 256.1h0.85M291.7 256.5h0.85M284.5 255.9h0.85M280.7 255.4h0.85M286.7 257.4h0.85M284.8 256.7h0.85M303.9 256.3h0.85M270.1 256.6h0.85M277.5 255.6h0.85M283.1 258.7h0.85M281.7 259.2h0.85M286.1 255.0h0.85M292.2 256.7h0.85M269.3 260.0h0.85M280.4 254.9h0.85M276.0 260.7h0.85M281.9 256.8h0.85M279.7 261.7h0.85M273.0 257.7h0.85M278.0 256.9h0.85M295.6 259.1h0.85M282.6 257.4h0.85M283.1 255.2h0.85M295.2 261.0h0.85M268.8 258.0h0.85M293.3 258.2h0.85M274.9 259.6h0.85M272.9 259.1h0.85M273.7 257.7h0.85M273.4 255.3h0.85M293.1 254.5h0.85M289.8 260.0h0.85M278.4 258.6h0.85M288.9 256.0h0.85M261.8 258.1h0.85M278.7 261.4h0.85M272.4 257.2h0.85M289.2 256.0h0.85M293.6 258.8h0.85M289.5 256.1h0.85M283.7 257.5h0.85M279.4 257.6h0.85M288.8 261.1h0.85M292.0 256.6h0.85M289.0 256.6h0.85M295.0 257.5h0.85M282.5 256.6h0.85M285.7 258.3h0.85M274.9 258.4h0.85M285.8 259.4h0.85M277.8 257.3h0.85M280.5 257.6h0.85M284.7 255.2h0.85M273.5 258.3h0.85M288.0 255.4h0.85M285.7 260.5h0.85M285.4 256.7h0.85M295.5 255.9h0.85M274.9 261.0h0.85M298.7 258.4h0.85M280.7 257.0h0.85M281.6 256.5h0.85M293.2 256.8h0.85M278.6 256.5h0.85M292.1 258.6h0.85M285.4 257.0h0.85M279.6 258.5h0.85M282.8 257.6h0.85M276.5 257.4h0.85M291.8 257.4h0.85M278.7 260.3h0.85M303.6 259.0h0.85M286.9 255.5h0.85M294.4 258.5h0.85M279.0 258.2h0.85M287.4 256.9h0.85M275.0 260.3h0.85M294.5 258.1h0.85M289.9 259.9h0.85M290.0 257.6h0.85M281.6 257.9h0.85M287.7 258.8h0.85M288.1 256.1h0.85M281.2 254.9h0.85M283.5 260.0h0.85M289.3 258.2h0.85M296.2 256.6h0.85M289.1 259.4h0.85M264.5 259.0h0.85M299.1 258.3h0.85M279.3 257.7h0.85M290.7 256.8h0.85M286.0 259.6h0.85M276.1 254.2h0.85M291.8 257.0h0.85M294.5 258.0h0.85" stroke="#a9adc4" stroke-width="0.85" fill="none" opacity="0.95"/>
<path d="M279.7 245.7h1.0M285.1 246.3h1.0M282.8 246.3h1.0M278.2 246.7h1.0M285.5 246.7h1.0M280.3 245.9h1.0M280.8 245.7h1.0M280.2 244.0h1.0M283.0 245.7h1.0M280.6 245.5h1.0M284.4 243.8h1.0M282.0 246.7h1.0M278.3 241.9h1.0M284.2 245.9h1.0M283.3 245.7h1.0M279.9 241.4h1.0M284.6 245.4h1.0M284.1 245.9h1.0M278.9 244.1h1.0M286.0 246.2h1.0M281.5 246.1h1.0M282.1 245.5h1.0M286.2 246.4h1.0M280.3 244.8h1.0M282.9 244.4h1.0M277.7 243.8h1.0M284.1 244.5h1.0M281.2 246.7h1.0M281.7 244.4h1.0M278.6 244.1h1.0M283.0 246.4h1.0M279.9 246.8h1.0M283.1 245.0h1.0M285.3 245.7h1.0M280.9 243.9h1.0M278.8 244.0h1.0M283.4 242.5h1.0M276.4 244.6h1.0M278.2 246.5h1.0M280.0 245.6h1.0" stroke="#c8485a" stroke-width="1.0" fill="none" opacity="0.9"/>
<line x1="294.60" y1="194.80" x2="294.60" y2="304.80" stroke="#170f0e" stroke-width="1.28"/>
<line x1="225.00" y1="257.60" x2="341.50" y2="257.60" stroke="#170f0e" stroke-width="1.28"/>
<line x1="294.60" y1="304.40" x2="297.20" y2="304.40" stroke="#170f0e" stroke-width="1.18"/>
<text x="292.10" y="305.60" font-size="3.2" text-anchor="end" fill="#666" stroke="#666">−3</text>
<line x1="294.60" y1="288.80" x2="297.20" y2="288.80" stroke="#170f0e" stroke-width="1.18"/>
<text x="292.10" y="290.00" font-size="3.2" text-anchor="end" fill="#666" stroke="#666">−2</text>
<line x1="294.60" y1="273.20" x2="297.20" y2="273.20" stroke="#170f0e" stroke-width="1.18"/>
<text x="292.10" y="274.40" font-size="3.2" text-anchor="end" fill="#666" stroke="#666">−1</text>
<line x1="294.60" y1="257.60" x2="297.20" y2="257.60" stroke="#170f0e" stroke-width="1.18"/>
<line x1="294.60" y1="242.00" x2="297.20" y2="242.00" stroke="#170f0e" stroke-width="1.18"/>
<text x="292.10" y="243.20" font-size="3.2" text-anchor="end" fill="#666" stroke="#666">1</text>
<line x1="294.60" y1="226.40" x2="297.20" y2="226.40" stroke="#170f0e" stroke-width="1.18"/>
<text x="292.10" y="227.60" font-size="3.2" text-anchor="end" fill="#666" stroke="#666">2</text>
<line x1="294.60" y1="210.80" x2="297.20" y2="210.80" stroke="#170f0e" stroke-width="1.18"/>
<text x="292.10" y="212.00" font-size="3.2" text-anchor="end" fill="#666" stroke="#666">3</text>
<line x1="294.60" y1="195.20" x2="297.20" y2="195.20" stroke="#170f0e" stroke-width="1.18"/>
<text x="292.10" y="196.40" font-size="3.2" text-anchor="end" fill="#666" stroke="#666">4</text>
<line x1="225.00" y1="257.60" x2="225.00" y2="255.20" stroke="#170f0e" stroke-width="1.18"/>
<text x="225.00" y="262.80" font-size="3.2" text-anchor="middle" fill="#666" stroke="#666">−6</text>
<line x1="248.20" y1="257.60" x2="248.20" y2="255.20" stroke="#170f0e" stroke-width="1.18"/>
<text x="248.20" y="262.80" font-size="3.2" text-anchor="middle" fill="#666" stroke="#666">−4</text>
<line x1="271.40" y1="257.60" x2="271.40" y2="255.20" stroke="#170f0e" stroke-width="1.18"/>
<text x="271.40" y="262.80" font-size="3.2" text-anchor="middle" fill="#666" stroke="#666">−2</text>
<line x1="294.60" y1="257.60" x2="294.60" y2="255.20" stroke="#170f0e" stroke-width="1.18"/>
<line x1="317.80" y1="257.60" x2="317.80" y2="255.20" stroke="#170f0e" stroke-width="1.18"/>
<text x="317.80" y="262.80" font-size="3.2" text-anchor="middle" fill="#666" stroke="#666">2</text>
<line x1="341.00" y1="257.60" x2="341.00" y2="255.20" stroke="#170f0e" stroke-width="1.18"/>
<text x="341.00" y="262.80" font-size="3.2" text-anchor="middle" fill="#666" stroke="#666">4</text>
<line x1="283.00" y1="193.00" x2="283.00" y2="304.80" stroke="#170f0e" stroke-width="1.48" stroke-dasharray="2.6 1.7"/>
<line x1="225.00" y1="248.20" x2="341.50" y2="248.20" stroke="#170f0e" stroke-width="1.48" stroke-dasharray="2.6 1.7"/>
<circle cx="279.9" cy="225.3" r="1.8" fill="none" stroke="#2f5c9e" stroke-width="0.9"/>
<circle cx="273.4" cy="238.6" r="1.8" fill="none" stroke="#2f5c9e" stroke-width="0.9"/>
<circle cx="281.3" cy="240.8" r="1.8" fill="none" stroke="#2f5c9e" stroke-width="0.9"/>
<text x="267.00" y="182.90" font-size="8.2" stroke="#170f0e">&lt;×0.5-fold</text>
<line x1="283.00" y1="186.20" x2="283.00" y2="189.70" stroke="#170f0e" stroke-width="1.03"/>
<polygon points="283.00,192.60 280.70,188.20 283.00,189.20 285.30,188.20" fill="#170f0e"/>
<text x="319.30" y="232.90" font-size="8.2" stroke="#170f0e">&gt;×1.5-fold</text>
<line x1="340.00" y1="236.50" x2="340.00" y2="242.60" stroke="#170f0e" stroke-width="1.03"/>
<polygon points="340.00,245.50 337.70,241.10 340.00,242.10 342.30,241.10" fill="#170f0e"/>
<circle cx="224.8" cy="196.9" r="1.9" fill="#c22a38"/>
<text x="229.50" y="199.80" font-size="7.3" font-weight="bold" fill="#c22a38" stroke="#c22a38">74 major</text>
<text x="229.50" y="208.30" font-size="7.3" font-weight="bold" fill="#c22a38" stroke="#c22a38">UNC1999</text>
<text x="229.50" y="216.80" font-size="7.3" font-weight="bold" fill="#c22a38" stroke="#c22a38">targets</text>
<text x="258.00" y="225.80" font-size="7.6" font-weight="bold" font-style="italic" stroke="#170f0e">EGR1</text>
<text x="241.50" y="237.50" font-size="7.6" font-weight="bold" font-style="italic" stroke="#170f0e">CDKN1C</text>
<text x="283.50" y="237.50" font-size="8" font-weight="bold" font-style="italic" stroke="#170f0e">NR4A1</text>
<text x="263.00" y="245.80" font-size="7.2" font-weight="bold" font-style="italic" stroke="#170f0e">LTB</text>
<text x="203.80" y="260.00" font-size="9.7" text-anchor="middle" stroke="#170f0e" transform="rotate(-90 203.80 260.00)">(UNC1999/Control in log2)</text>
<text x="215.20" y="318.80" font-size="9.4" font-weight="bold" stroke="#170f0e" transform="rotate(-90 215.20 318.80)">Expression</text>
<line x1="212.20" y1="266.00" x2="212.20" y2="212.40" stroke="#170f0e" stroke-width="1.33"/>
<polygon points="212.20,206.50 215.80,215.10 212.20,212.90 208.60,215.10" fill="#170f0e"/>
<text x="220.80" y="322.40" font-size="9.4" font-weight="bold" stroke="#170f0e">H3K27me3</text>
<line x1="273.50" y1="319.00" x2="336.10" y2="319.00" stroke="#170f0e" stroke-width="1.33"/>
<polygon points="342.00,319.00 333.40,322.60 335.60,319.00 333.40,315.40" fill="#170f0e"/>
<text x="278.30" y="332.40" font-size="9.6" text-anchor="middle" stroke="#170f0e">(UNC1999/Control in log2)</text>
</g>
<g id="panelE">
<text x="379.00" y="172.00" font-size="13.6" font-weight="bold" stroke="#170f0e">E</text>
<text x="462.00" y="202.60" font-size="10.5" font-weight="bold" font-style="italic" text-anchor="middle" stroke="#170f0e">NR4A1</text>
<line x1="419.60" y1="207.00" x2="422.30" y2="207.00" stroke="#170f0e" stroke-width="1.18"/>
<text x="415.00" y="209.70" font-size="7.6" text-anchor="end" stroke="#170f0e" transform="translate(415.00 209.70) scale(0.9 1) translate(-415.00 -209.70)">3.5</text>
<line x1="419.60" y1="221.17" x2="422.30" y2="221.17" stroke="#170f0e" stroke-width="1.18"/>
<text x="415.00" y="223.87" font-size="7.6" text-anchor="end" stroke="#170f0e" transform="translate(415.00 223.87) scale(0.9 1) translate(-415.00 -223.87)">3</text>
<line x1="419.60" y1="235.34" x2="422.30" y2="235.34" stroke="#170f0e" stroke-width="1.18"/>
<text x="415.00" y="238.04" font-size="7.6" text-anchor="end" stroke="#170f0e" transform="translate(415.00 238.04) scale(0.9 1) translate(-415.00 -238.04)">2.5</text>
<line x1="419.60" y1="249.51" x2="422.30" y2="249.51" stroke="#170f0e" stroke-width="1.18"/>
<text x="415.00" y="252.21" font-size="7.6" text-anchor="end" stroke="#170f0e" transform="translate(415.00 252.21) scale(0.9 1) translate(-415.00 -252.21)">2</text>
<line x1="419.60" y1="263.69" x2="422.30" y2="263.69" stroke="#170f0e" stroke-width="1.18"/>
<text x="415.00" y="266.39" font-size="7.6" text-anchor="end" stroke="#170f0e" transform="translate(415.00 266.39) scale(0.9 1) translate(-415.00 -266.39)">1.5</text>
<line x1="419.60" y1="277.86" x2="422.30" y2="277.86" stroke="#170f0e" stroke-width="1.18"/>
<text x="415.00" y="280.56" font-size="7.6" text-anchor="end" stroke="#170f0e" transform="translate(415.00 280.56) scale(0.9 1) translate(-415.00 -280.56)">1</text>
<line x1="419.60" y1="292.03" x2="422.30" y2="292.03" stroke="#170f0e" stroke-width="1.18"/>
<text x="415.00" y="294.73" font-size="7.6" text-anchor="end" stroke="#170f0e" transform="translate(415.00 294.73) scale(0.9 1) translate(-415.00 -294.73)">0.5</text>
<line x1="419.60" y1="306.20" x2="422.30" y2="306.20" stroke="#170f0e" stroke-width="1.18"/>
<text x="415.00" y="308.90" font-size="7.6" text-anchor="end" stroke="#170f0e" transform="translate(415.00 308.90) scale(0.9 1) translate(-415.00 -308.90)">0</text>
<rect x="444.40" y="277.80" width="17.90" height="28.40" fill="#000"/>
<line x1="453.30" y1="276.80" x2="453.30" y2="278.00" stroke="#170f0e" stroke-width="0.98"/>
<line x1="451.80" y1="276.80" x2="454.80" y2="276.80" stroke="#170f0e" stroke-width="0.98"/>
<rect x="462.30" y="225.60" width="17.40" height="80.60" fill="#e5141f" stroke="#5e0a0e" stroke-width="0.8"/>
<line x1="471.00" y1="223.00" x2="471.00" y2="225.60" stroke="#170f0e" stroke-width="1.08"/>
<line x1="468.90" y1="223.00" x2="473.10" y2="223.00" stroke="#170f0e" stroke-width="1.08"/>
<line x1="419.60" y1="206.50" x2="419.60" y2="306.70" stroke="#170f0e" stroke-width="1.28"/>
<line x1="419.05" y1="306.20" x2="505.00" y2="306.20" stroke="#170f0e" stroke-width="1.28"/>
<line x1="505.40" y1="306.20" x2="505.40" y2="303.80" stroke="#170f0e" stroke-width="1.18"/>
<line x1="453.20" y1="306.20" x2="453.20" y2="308.80" stroke="#170f0e" stroke-width="1.18"/>
<line x1="470.80" y1="306.20" x2="470.80" y2="308.80" stroke="#170f0e" stroke-width="1.18"/>
<text x="470.85" y="222.00" font-size="8.8" font-weight="bold" text-anchor="middle" stroke="#170f0e" letter-spacing="0.9">***</text>
<text x="391.60" y="319.80" font-size="7.5" font-weight="bold" stroke="#170f0e">UNC1999</text>
<text x="391.60" y="329.40" font-size="7.5" font-weight="bold" stroke="#170f0e">(µmol/L)</text>
<text x="452.80" y="319.80" font-size="7.3" font-weight="bold" text-anchor="middle" stroke="#170f0e">0</text>
<text x="471.00" y="319.80" font-size="7.3" font-weight="bold" text-anchor="middle" stroke="#170f0e">5</text>
<text x="387.40" y="257.30" font-size="9.5" text-anchor="middle" stroke="#170f0e" transform="rotate(-90 387.40 257.30)">mRNA Level</text>
<text x="398.40" y="256.00" font-size="9.5" text-anchor="middle" stroke="#170f0e" transform="rotate(-90 398.40 256.00)">relative to <tspan font-style="italic">GAPDH</tspan></text>
</g>
<g id="panelF">
<text x="2.00" y="354.10" font-size="13.6" font-weight="bold" stroke="#170f0e">F</text>
<text x="98.00" y="375.60" font-size="10.5" font-weight="bold" font-style="italic" text-anchor="middle" stroke="#170f0e">NR4A1</text>
<line x1="60.00" y1="381.80" x2="62.70" y2="381.80" stroke="#170f0e" stroke-width="1.18"/>
<text x="55.00" y="384.50" font-size="7.6" text-anchor="end" stroke="#170f0e">2.0</text>
<line x1="60.00" y1="405.90" x2="62.70" y2="405.90" stroke="#170f0e" stroke-width="1.18"/>
<text x="55.00" y="408.60" font-size="7.6" text-anchor="end" stroke="#170f0e">1.5</text>
<line x1="60.00" y1="430.00" x2="62.70" y2="430.00" stroke="#170f0e" stroke-width="1.18"/>
<text x="55.00" y="432.70" font-size="7.6" text-anchor="end" stroke="#170f0e">1.0</text>
<line x1="60.00" y1="454.10" x2="62.70" y2="454.10" stroke="#170f0e" stroke-width="1.18"/>
<text x="55.00" y="456.80" font-size="7.6" text-anchor="end" stroke="#170f0e">0.5</text>
<line x1="60.00" y1="478.20" x2="62.70" y2="478.20" stroke="#170f0e" stroke-width="1.18"/>
<text x="55.00" y="480.90" font-size="7.6" text-anchor="end" stroke="#170f0e">0</text>
<rect x="77.50" y="394.50" width="17.00" height="83.70" fill="#231815"/>
<line x1="86.00" y1="393.60" x2="86.00" y2="395.00" stroke="#170f0e" stroke-width="0.98"/>
<line x1="83.80" y1="393.60" x2="88.20" y2="393.60" stroke="#170f0e" stroke-width="0.98"/>
<rect x="94.50" y="451.40" width="16.40" height="26.80" fill="#e5141f" stroke="#5e0a0e" stroke-width="0.8"/>
<line x1="60.00" y1="381.30" x2="60.00" y2="478.70" stroke="#170f0e" stroke-width="1.28"/>
<line x1="59.45" y1="478.20" x2="124.60" y2="478.20" stroke="#170f0e" stroke-width="1.28"/>
<line x1="124.60" y1="478.20" x2="124.60" y2="475.80" stroke="#170f0e" stroke-width="1.18"/>
<line x1="86.20" y1="478.20" x2="86.20" y2="480.80" stroke="#170f0e" stroke-width="1.18"/>
<line x1="102.60" y1="478.20" x2="102.60" y2="480.80" stroke="#170f0e" stroke-width="1.18"/>
<text x="103.75" y="447.40" font-size="8.8" font-weight="bold" text-anchor="middle" stroke="#170f0e" letter-spacing="0.9">***</text>
<text x="25.50" y="490.80" font-size="7.5" font-weight="bold" stroke="#170f0e">UNC1999</text>
<text x="25.50" y="500.60" font-size="7.5" font-weight="bold" stroke="#170f0e">(µmol/L)</text>
<text x="85.50" y="490.80" font-size="7.3" font-weight="bold" text-anchor="middle" stroke="#170f0e">0</text>
<text x="101.50" y="490.80" font-size="7.3" font-weight="bold" text-anchor="middle" stroke="#170f0e">5</text>
<text x="34.90" y="429.00" font-size="9.2" text-anchor="middle" stroke="#170f0e" transform="rotate(-90 34.90 429.00)">H3K27me3 (% input)</text>
</g>
<g id="panelG">
<text x="195.40" y="355.40" font-size="13.6" font-weight="bold" stroke="#170f0e">G</text>
<line x1="234.60" y1="367.70" x2="237.30" y2="367.70" stroke="#170f0e" stroke-width="1.18"/>
<text x="230.80" y="370.40" font-size="7.3" text-anchor="end" stroke="#170f0e">4.0</text>
<line x1="234.60" y1="381.05" x2="237.30" y2="381.05" stroke="#170f0e" stroke-width="1.18"/>
<text x="230.80" y="383.75" font-size="7.3" text-anchor="end" stroke="#170f0e">3.5</text>
<line x1="234.60" y1="394.40" x2="237.30" y2="394.40" stroke="#170f0e" stroke-width="1.18"/>
<text x="230.80" y="397.10" font-size="7.3" text-anchor="end" stroke="#170f0e">3.0</text>
<line x1="234.60" y1="407.75" x2="237.30" y2="407.75" stroke="#170f0e" stroke-width="1.18"/>
<text x="230.80" y="410.45" font-size="7.3" text-anchor="end" stroke="#170f0e">2.5</text>
<line x1="234.60" y1="421.10" x2="237.30" y2="421.10" stroke="#170f0e" stroke-width="1.18"/>
<text x="230.80" y="423.80" font-size="7.3" text-anchor="end" stroke="#170f0e">2.0</text>
<line x1="234.60" y1="434.45" x2="237.30" y2="434.45" stroke="#170f0e" stroke-width="1.18"/>
<text x="230.80" y="437.15" font-size="7.3" text-anchor="end" stroke="#170f0e">1.5</text>
<line x1="234.60" y1="447.80" x2="237.30" y2="447.80" stroke="#170f0e" stroke-width="1.18"/>
<text x="230.80" y="450.50" font-size="7.3" text-anchor="end" stroke="#170f0e">1.0</text>
<line x1="234.60" y1="461.15" x2="237.30" y2="461.15" stroke="#170f0e" stroke-width="1.18"/>
<text x="230.80" y="463.85" font-size="7.3" text-anchor="end" stroke="#170f0e">0.5</text>
<line x1="234.60" y1="474.50" x2="237.30" y2="474.50" stroke="#170f0e" stroke-width="1.18"/>
<text x="230.80" y="477.20" font-size="7.3" text-anchor="end" stroke="#170f0e">0</text>
<line x1="234.60" y1="367.20" x2="234.60" y2="477.10" stroke="#170f0e" stroke-width="1.28"/>
<line x1="234.05" y1="474.50" x2="311.50" y2="474.50" stroke="#170f0e" stroke-width="1.28"/>
<line x1="234.60" y1="474.50" x2="234.60" y2="477.10" stroke="#170f0e" stroke-width="1.08"/>
<text x="234.60" y="485.00" font-size="7.3" text-anchor="middle" stroke="#170f0e">0</text>
<line x1="272.60" y1="474.50" x2="272.60" y2="477.10" stroke="#170f0e" stroke-width="1.08"/>
<text x="272.60" y="485.00" font-size="7.3" text-anchor="middle" stroke="#170f0e">2</text>
<line x1="311.00" y1="474.50" x2="311.00" y2="477.10" stroke="#170f0e" stroke-width="1.08"/>
<text x="311.00" y="485.00" font-size="7.3" text-anchor="middle" stroke="#170f0e">4</text>
<text x="293.50" y="494.80" font-size="8.6" text-anchor="middle" stroke="#170f0e">Days</text>
<text x="272.00" y="372.20" font-size="8.7" font-weight="bold" text-anchor="middle" stroke="#170f0e">H929</text>
<path d="M234.6 447.8L272.6 428.3L311.0 378.5" fill="none" stroke="#170f0e" stroke-width="2.28" stroke-linejoin="round"/>
<line x1="272.60" y1="413.80" x2="272.60" y2="441.50" stroke="#170f0e" stroke-width="1.28"/>
<line x1="270.80" y1="413.80" x2="274.40" y2="413.80" stroke="#170f0e" stroke-width="1.28"/>
<line x1="270.80" y1="441.50" x2="274.40" y2="441.50" stroke="#170f0e" stroke-width="1.28"/>
<line x1="311.00" y1="364.00" x2="311.00" y2="392.30" stroke="#170f0e" stroke-width="1.28"/>
<line x1="309.20" y1="364.00" x2="312.80" y2="364.00" stroke="#170f0e" stroke-width="1.28"/>
<line x1="309.20" y1="392.30" x2="312.80" y2="392.30" stroke="#170f0e" stroke-width="1.28"/>
<circle cx="234.6" cy="447.8" r="3" fill="#170f0e"/>
<circle cx="272.6" cy="428.3" r="3" fill="#170f0e"/>
<circle cx="311.0" cy="378.5" r="3" fill="#170f0e"/>
<path d="M234.6 447.8L272.6 458.5L311.0 462.6" fill="none" stroke="#1f6fc0" stroke-width="2.58" stroke-linejoin="round"/>
<line x1="309.40" y1="458.40" x2="312.60" y2="458.40" stroke="#1f6fc0" stroke-width="0.98"/>
<polygon points="234.60,443.90 238.50,450.30 230.70,450.30" fill="#1f6fc0"/>
<polygon points="272.60,454.60 276.50,461.00 268.70,461.00" fill="#1f6fc0"/>
<polygon points="311.00,458.70 314.90,465.10 307.10,465.10" fill="#1f6fc0"/>
<text x="298.40" y="417.60" font-size="7.1" font-weight="bold" text-anchor="middle" stroke="#170f0e">Empty</text>
<text x="298.40" y="426.00" font-size="7.1" font-weight="bold" text-anchor="middle" stroke="#170f0e">vector</text>
<text x="290.00" y="452.60" font-size="7.4" font-weight="bold" font-style="italic" fill="#20509f" stroke="#20509f">NR4A1</text>
<path d="M318.6 377.8H325.4V462.5H318.6" fill="none" stroke="#170f0e" stroke-width="1.28"/>
<text x="329.30" y="419.20" font-size="8.8" font-weight="bold" text-anchor="middle" stroke="#170f0e" transform="rotate(90 329.30 419.20)" letter-spacing="0.9">***</text>
<text x="210.20" y="420.00" font-size="9.2" text-anchor="middle" stroke="#170f0e" transform="rotate(-90 210.20 420.00)">Total cell count (×10<tspan font-size="5.4" dy="-3.2">4</tspan><tspan dy="3.2">)</tspan></text>
</g>
<g id="panelH">
<text x="381.00" y="354.70" font-size="13.6" font-weight="bold" stroke="#170f0e">H</text>
<text x="459.00" y="377.60" font-size="10.5" font-weight="bold" font-style="italic" text-anchor="middle" stroke="#170f0e">MYC</text>
<line x1="419.60" y1="387.00" x2="422.30" y2="387.00" stroke="#170f0e" stroke-width="1.18"/>
<text x="414.40" y="389.70" font-size="7.6" text-anchor="end" stroke="#170f0e" transform="translate(414.40 389.70) scale(0.88 1) translate(-414.40 -389.70)">1.2</text>
<line x1="419.60" y1="402.83" x2="422.30" y2="402.83" stroke="#170f0e" stroke-width="1.18"/>
<text x="414.40" y="405.53" font-size="7.6" text-anchor="end" stroke="#170f0e" transform="translate(414.40 405.53) scale(0.88 1) translate(-414.40 -405.53)">1.0</text>
<line x1="419.60" y1="418.67" x2="422.30" y2="418.67" stroke="#170f0e" stroke-width="1.18"/>
<text x="414.40" y="421.37" font-size="7.6" text-anchor="end" stroke="#170f0e" transform="translate(414.40 421.37) scale(0.88 1) translate(-414.40 -421.37)">0.8</text>
<line x1="419.60" y1="434.50" x2="422.30" y2="434.50" stroke="#170f0e" stroke-width="1.18"/>
<text x="414.40" y="437.20" font-size="7.6" text-anchor="end" stroke="#170f0e" transform="translate(414.40 437.20) scale(0.88 1) translate(-414.40 -437.20)">0.6</text>
<line x1="419.60" y1="450.33" x2="422.30" y2="450.33" stroke="#170f0e" stroke-width="1.18"/>
<text x="414.40" y="453.03" font-size="7.6" text-anchor="end" stroke="#170f0e" transform="translate(414.40 453.03) scale(0.88 1) translate(-414.40 -453.03)">0.4</text>
<line x1="419.60" y1="466.17" x2="422.30" y2="466.17" stroke="#170f0e" stroke-width="1.18"/>
<text x="414.40" y="468.87" font-size="7.6" text-anchor="end" stroke="#170f0e" transform="translate(414.40 468.87) scale(0.88 1) translate(-414.40 -468.87)">0.2</text>
<line x1="419.60" y1="482.00" x2="422.30" y2="482.00" stroke="#170f0e" stroke-width="1.18"/>
<text x="414.40" y="484.70" font-size="7.6" text-anchor="end" stroke="#170f0e" transform="translate(414.40 484.70) scale(0.88 1) translate(-414.40 -484.70)">0</text>
<rect x="438.40" y="402.80" width="17.30" height="79.20" fill="#231815"/>
<line x1="447.00" y1="394.70" x2="447.00" y2="403.00" stroke="#170f0e" stroke-width="0.98"/>
<line x1="445.40" y1="394.70" x2="448.60" y2="394.70" stroke="#170f0e" stroke-width="0.98"/>
<rect x="455.70" y="473.00" width="17.30" height="9.00" fill="#e5141f" stroke="#5e0a0e" stroke-width="0.8"/>
<line x1="464.30" y1="470.20" x2="464.30" y2="473.00" stroke="#170f0e" stroke-width="1.08"/>
<line x1="462.30" y1="470.20" x2="466.30" y2="470.20" stroke="#170f0e" stroke-width="1.08"/>
<line x1="419.60" y1="386.50" x2="419.60" y2="482.50" stroke="#170f0e" stroke-width="1.28"/>
<line x1="419.05" y1="482.00" x2="488.00" y2="482.00" stroke="#170f0e" stroke-width="1.28"/>
<line x1="446.80" y1="482.00" x2="446.80" y2="484.60" stroke="#170f0e" stroke-width="1.18"/>
<line x1="464.20" y1="482.00" x2="464.20" y2="484.60" stroke="#170f0e" stroke-width="1.18"/>
<line x1="487.60" y1="482.00" x2="487.60" y2="479.60" stroke="#170f0e" stroke-width="1.18"/>
<text x="464.05" y="468.40" font-size="8.2" font-weight="bold" text-anchor="middle" stroke="#170f0e" letter-spacing="0.9">***</text>
<text x="453.20" y="494.80" font-size="8" text-anchor="end" stroke="#170f0e" transform="rotate(-45 453.20 494.80)">Control</text>
<text x="471.00" y="496.00" font-size="8" font-style="italic" text-anchor="end" stroke="#170f0e" transform="rotate(-45 471.00 496.00)">NR4A1</text>
<text x="387.40" y="434.50" font-size="9.5" text-anchor="middle" stroke="#170f0e" transform="rotate(-90 387.40 434.50)">mRNA Level</text>
<text x="398.40" y="434.50" font-size="9.5" text-anchor="middle" stroke="#170f0e" transform="rotate(-90 398.40 434.50)">relative to <tspan font-style="italic">GAPDH</tspan></text>
</g>
<g id="panelI">
<text x="2.00" y="521.00" font-size="13.6" font-weight="bold" stroke="#170f0e">I</text>
<text x="96.50" y="539.00" font-size="10.5" font-weight="bold" font-style="italic" text-anchor="middle" stroke="#170f0e">MYC</text>
<line x1="44.00" y1="542.30" x2="46.70" y2="542.30" stroke="#170f0e" stroke-width="1.18"/>
<text x="39.40" y="545.00" font-size="7.6" text-anchor="end" stroke="#170f0e" transform="translate(39.40 545.00) scale(0.9 1) translate(-39.40 -545.00)">1.2</text>
<line x1="44.00" y1="560.25" x2="46.70" y2="560.25" stroke="#170f0e" stroke-width="1.18"/>
<text x="39.40" y="562.95" font-size="7.6" text-anchor="end" stroke="#170f0e" transform="translate(39.40 562.95) scale(0.9 1) translate(-39.40 -562.95)">1.0</text>
<line x1="44.00" y1="578.20" x2="46.70" y2="578.20" stroke="#170f0e" stroke-width="1.18"/>
<text x="39.40" y="580.90" font-size="7.6" text-anchor="end" stroke="#170f0e" transform="translate(39.40 580.90) scale(0.9 1) translate(-39.40 -580.90)">0.8</text>
<line x1="44.00" y1="596.15" x2="46.70" y2="596.15" stroke="#170f0e" stroke-width="1.18"/>
<text x="39.40" y="598.85" font-size="7.6" text-anchor="end" stroke="#170f0e" transform="translate(39.40 598.85) scale(0.9 1) translate(-39.40 -598.85)">0.6</text>
<line x1="44.00" y1="614.10" x2="46.70" y2="614.10" stroke="#170f0e" stroke-width="1.18"/>
<text x="39.40" y="616.80" font-size="7.6" text-anchor="end" stroke="#170f0e" transform="translate(39.40 616.80) scale(0.9 1) translate(-39.40 -616.80)">0.4</text>
<line x1="44.00" y1="632.05" x2="46.70" y2="632.05" stroke="#170f0e" stroke-width="1.18"/>
<text x="39.40" y="634.75" font-size="7.6" text-anchor="end" stroke="#170f0e" transform="translate(39.40 634.75) scale(0.9 1) translate(-39.40 -634.75)">0.2</text>
<line x1="44.00" y1="650.00" x2="46.70" y2="650.00" stroke="#170f0e" stroke-width="1.18"/>
<text x="39.40" y="652.70" font-size="7.6" text-anchor="end" stroke="#170f0e" transform="translate(39.40 652.70) scale(0.9 1) translate(-39.40 -652.70)">0</text>
<rect x="50.00" y="560.60" width="13.00" height="89.40" fill="#231815"/>
<line x1="56.40" y1="555.50" x2="56.40" y2="560.80" stroke="#170f0e" stroke-width="0.98"/>
<line x1="54.90" y1="555.50" x2="57.90" y2="555.50" stroke="#170f0e" stroke-width="0.98"/>
<rect x="73.20" y="631.80" width="13.60" height="18.20" fill="#e5141f" stroke="#5e0a0e" stroke-width="0.8"/>
<line x1="80.00" y1="628.40" x2="80.00" y2="631.80" stroke="#170f0e" stroke-width="1.08"/>
<line x1="78.00" y1="628.40" x2="82.00" y2="628.40" stroke="#170f0e" stroke-width="1.08"/>
<rect x="97.40" y="612.00" width="13.00" height="38.00" fill="#e5141f" stroke="#5e0a0e" stroke-width="0.8"/>
<line x1="103.90" y1="609.60" x2="103.90" y2="612.00" stroke="#170f0e" stroke-width="1.08"/>
<line x1="101.90" y1="609.60" x2="105.90" y2="609.60" stroke="#170f0e" stroke-width="1.08"/>
<rect x="120.80" y="641.60" width="13.40" height="8.40" fill="#e5141f" stroke="#5e0a0e" stroke-width="0.8"/>
<line x1="127.50" y1="641.00" x2="127.50" y2="641.60" stroke="#170f0e" stroke-width="1.08"/>
<line x1="125.50" y1="641.00" x2="129.50" y2="641.00" stroke="#170f0e" stroke-width="1.08"/>
<line x1="44.00" y1="541.80" x2="44.00" y2="650.50" stroke="#170f0e" stroke-width="1.28"/>
<line x1="43.45" y1="650.00" x2="140.60" y2="650.00" stroke="#170f0e" stroke-width="1.28"/>
<line x1="68.20" y1="650.00" x2="68.20" y2="647.60" stroke="#170f0e" stroke-width="1.18"/>
<line x1="91.80" y1="650.00" x2="91.80" y2="647.60" stroke="#170f0e" stroke-width="1.18"/>
<line x1="115.40" y1="650.00" x2="115.40" y2="647.60" stroke="#170f0e" stroke-width="1.18"/>
<line x1="139.60" y1="650.00" x2="139.60" y2="647.60" stroke="#170f0e" stroke-width="1.18"/>
<text x="80.65" y="625.40" font-size="8.8" font-weight="bold" text-anchor="middle" stroke="#170f0e" letter-spacing="0.9">***</text>
<text x="104.45" y="607.40" font-size="8.8" font-weight="bold" text-anchor="middle" stroke="#170f0e" letter-spacing="0.9">***</text>
<text x="128.05" y="638.60" font-size="8.8" font-weight="bold" text-anchor="middle" stroke="#170f0e" letter-spacing="0.9">**</text>
<path d="M77.8 591.6V589.2Q77.8 588.2 78.8 588.2H125.8Q126.8 588.2 126.8 589.2V591.6" fill="none" stroke="#170f0e" stroke-width="1.08"/>
<path d="M104 572.6V569.6Q104 568.6 105 568.6H125.8Q126.8 568.6 126.8 569.6V572.6" fill="none" stroke="#170f0e" stroke-width="1.08"/>
<text x="104.45" y="585.40" font-size="8.8" font-weight="bold" text-anchor="middle" stroke="#170f0e" letter-spacing="0.9">*</text>
<text x="116.05" y="566.60" font-size="8.8" font-weight="bold" text-anchor="middle" stroke="#170f0e" letter-spacing="0.9">**</text>
<text x="61.50" y="657.60" font-size="8.1" text-anchor="end" stroke="#170f0e" transform="rotate(-43.5 61.50 657.60)">Control</text>
<text x="86.20" y="657.60" font-size="8.1" text-anchor="end" stroke="#170f0e" transform="rotate(-43.5 86.20 657.60)">UNC1999</text>
<text x="111.50" y="657.60" font-size="8.1" text-anchor="end" stroke="#170f0e" transform="rotate(-43.5 111.50 657.60)">Bortezomib</text>
<text x="128.70" y="658.60" font-size="8.1" text-anchor="end" stroke="#170f0e" transform="rotate(-43.5 128.70 658.60)">UNC1999 +</text>
<text x="145.00" y="659.20" font-size="8.1" text-anchor="end" stroke="#170f0e" transform="rotate(-43.5 145.00 659.20)">Bortezomib</text>
<text x="11.30" y="596.70" font-size="9.4" text-anchor="middle" stroke="#170f0e" transform="rotate(-90 11.30 596.70)">mRNA Level</text>
<text x="22.00" y="596.70" font-size="9.4" text-anchor="middle" stroke="#170f0e" transform="rotate(-90 22.00 596.70)">relative to <tspan font-style="italic">GAPDH</tspan></text>
</g>
<g id="panelJ">
<text x="193.60" y="521.40" font-size="13.6" font-weight="bold" stroke="#170f0e">J</text>
<text x="264.80" y="557.00" font-size="8.7" font-weight="bold" text-anchor="middle" stroke="#170f0e">MM.1S</text>
<line x1="228.30" y1="561.00" x2="301.50" y2="561.00" stroke="#170f0e" stroke-width="1.38"/>
<text x="217.80" y="574.60" font-size="9.3" text-anchor="end" stroke="#170f0e">Bortezomib</text>
<text x="217.80" y="590.20" font-size="9.3" text-anchor="end" stroke="#170f0e">UNC1999</text>
<text x="237.00" y="573.60" font-size="8.4" font-weight="bold" text-anchor="middle" stroke="#170f0e">–</text>
<text x="256.00" y="573.60" font-size="8.4" font-weight="bold" text-anchor="middle" stroke="#170f0e">–</text>
<text x="277.00" y="574.40" font-size="8.4" font-weight="bold" text-anchor="middle" stroke="#170f0e">+</text>
<text x="294.50" y="574.40" font-size="8.4" font-weight="bold" text-anchor="middle" stroke="#170f0e">+</text>
<text x="237.00" y="589.20" font-size="8.4" font-weight="bold" text-anchor="middle" stroke="#170f0e">–</text>
<text x="256.00" y="590.00" font-size="8.4" font-weight="bold" text-anchor="middle" stroke="#170f0e">+</text>
<text x="277.00" y="589.20" font-size="8.4" font-weight="bold" text-anchor="middle" stroke="#170f0e">–</text>
<text x="294.50" y="590.00" font-size="8.4" font-weight="bold" text-anchor="middle" stroke="#170f0e">+</text>
<text x="217.80" y="608.80" font-size="9.3" text-anchor="end" stroke="#170f0e">NR4A1</text>
<text x="217.80" y="634.60" font-size="9.3" text-anchor="end" stroke="#170f0e">MYC</text>
<text x="217.80" y="660.20" font-size="9.3" text-anchor="end" stroke="#170f0e">GAPDH</text>
<clipPath id="cj0"><rect x="226.6" y="596.8" width="80.00000000000003" height="18.40000000000009"/></clipPath>
<clipPath id="cj1"><rect x="226.6" y="621.9" width="80.00000000000003" height="18.399999999999977"/></clipPath>
<clipPath id="cj2"><rect x="226.6" y="647.1" width="80.00000000000003" height="18.0"/></clipPath>
<g clip-path="url(#cj0)">
<rect x="226.60" y="596.80" width="80.00" height="18.40" fill="#e2e2e8"/>
<g filter="url(#b2)">
<rect x="231.5" y="600.5" width="15" height="11.5" rx="1.5" fill="#a9a9b4" opacity="0.55"/>
<rect x="232" y="601.5" width="14" height="3" rx="1.5" fill="#8c8c98" opacity="0.35"/>
<rect x="250" y="600.5" width="15" height="11.5" rx="1.5" fill="#85858f" opacity="0.7"/>
<rect x="250" y="601.2" width="15" height="2.6" rx="1.5" fill="#60606a" opacity="0.5"/>
<rect x="250" y="606" width="15" height="2.4" rx="1.5" fill="#666670" opacity="0.45"/>
<rect x="268" y="601" width="14.5" height="10.5" rx="1.5" fill="#bdbdc7" opacity="0.5"/>
<rect x="286.5" y="600" width="16" height="12" rx="1.5" fill="#787882" opacity="0.8"/>
<rect x="286.5" y="601.6" width="16" height="4.2" rx="1.5" fill="#4c4c56" opacity="0.7"/>
<rect x="287" y="608" width="15" height="2.4" rx="1.5" fill="#63636d" opacity="0.45"/>
</g></g>
<g clip-path="url(#cj1)">
<rect x="226.60" y="621.90" width="80.00" height="18.40" fill="#d0d0d9"/>
<g filter="url(#b2)">
<rect x="229" y="625" width="75" height="5.5" rx="1.5" fill="#a6a6b2" opacity="0.55"/>
<rect x="229" y="634.5" width="75" height="4" rx="1.5" fill="#c4c4cd" opacity="0.5"/>
<rect x="230.5" y="629.2" width="17.5" height="5.6" rx="2.6" fill="#1d1d26" opacity="0.97"/>
<rect x="250.5" y="630.2" width="14.5" height="5.0" rx="2.4" fill="#3a3a44" opacity="0.88"/>
<rect x="269.5" y="629.3" width="16.5" height="5.8" rx="2.6" fill="#1d1d26" opacity="0.97"/>
<rect x="288" y="630.9" width="15" height="4.6" rx="2.2" fill="#5a5a64" opacity="0.85"/>
</g></g>
<g clip-path="url(#cj2)">
<rect x="226.60" y="647.10" width="80.00" height="18.00" fill="#e7e7ec"/>
<g filter="url(#b1)">
<g filter="url(#b2)"><rect x="229" y="652" width="75" height="9" fill="#b9b9c2" opacity="0.5"/></g>
<rect x="230.8" y="652.9" width="19.5" height="5.8" rx="2.9" fill="#0c0809" opacity="1"/>
<rect x="249.3" y="654.1" width="19.5" height="5.8" rx="2.9" fill="#0c0809" opacity="1"/>
<rect x="267.8" y="653.2" width="19.5" height="5.6" rx="2.8" fill="#0c0809" opacity="1"/>
<rect x="285.5" y="653.8" width="17.5" height="6.0" rx="3.0" fill="#0c0809" opacity="1"/>
</g></g>
<rect x="226.60" y="596.80" width="80.00" height="18.40" fill="none" stroke="#140c0c" stroke-width="1.5"/>
<rect x="226.60" y="621.90" width="80.00" height="18.40" fill="none" stroke="#140c0c" stroke-width="1.5"/>
<rect x="226.60" y="647.10" width="80.00" height="18.00" fill="none" stroke="#140c0c" stroke-width="1.5"/>
</g>
<g id="panelK">
<text x="341.80" y="522.00" font-size="13.6" font-weight="bold" stroke="#170f0e">K</text>
<text x="353.50" y="539.20" font-size="9.35" font-weight="bold" stroke="#170f0e">SCHUHMACHER_MYC_TARGETS_UP</text>
<text x="427.00" y="554.00" font-size="9.3" font-weight="bold" text-anchor="middle" stroke="#170f0e">UNC1999 vs. Control</text>
<text x="425.80" y="645.80" font-size="9.2" font-weight="bold" text-anchor="middle" stroke="#170f0e">Combination vs. Control</text>
<rect x="371.80" y="624.60" width="108.20" height="4.60" fill="url(#rwb2)"/>
<line x1="371.80" y1="571.30" x2="480.00" y2="571.30" stroke="#c4c4c4" stroke-width="0.68"/>
<path d="M372.58 609.8H373.27V624.6H372.58ZM377.54 609.8H378.46V624.6H377.54ZM382.16 609.8H383.08V624.6H382.16ZM387.46 609.8H388.39V624.6H387.46ZM401.31 609.8H402.23V624.6H401.31ZM406.50 609.8H407.66V624.6H406.50ZM423.93 609.8H424.39V624.6H423.93ZM440.66 609.8H441.35V624.6H440.66ZM445.28 609.8H445.97V624.6H445.28ZM450.47 609.8H451.39V624.6H450.47ZM454.16 609.8H455.55V624.6H454.16ZM459.93 609.8H461.32V624.6H459.93ZM466.85 609.8H467.78V624.6H466.85ZM470.55 609.8H471.47V624.6H470.55ZM474.12 609.8H475.28V624.6H474.12Z" fill="#4d4547"/>
<path d="M374.89 609.8H375.58V624.6H374.89ZM379.96 609.8H380.65V624.6H379.96ZM385.27 609.8H385.96V624.6H385.27ZM394.96 609.8H395.66V624.6H394.96ZM403.62 609.8H404.54V624.6H403.62ZM408.58 609.8H409.27V624.6H408.58ZM442.97 609.8H443.66V624.6H442.97ZM447.58 609.8H448.28V624.6H447.58ZM457.05 609.8H458.20V624.6H457.05ZM462.47 609.8H463.39V624.6H462.47Z" fill="#8b8587"/>
<path d="M390.35 609.8H391.50V624.6H390.35ZM393.12 609.8H394.27V624.6H393.12ZM464.78 609.8H466.16V624.6H464.78ZM468.47 609.8H469.85V624.6H468.47ZM472.16 609.8H473.55V624.6H472.16ZM477.47 609.8H478.39V624.6H477.47Z" fill="#1c1011"/>
<path d="M372.2 571.8C372.6 571.9 373.8 572.5 374.6 572.3C375.4 572.1 376.2 571.5 377.0 570.6C377.8 569.8 378.4 568.0 379.4 567.2C380.4 566.4 381.8 566.1 383.0 565.8C384.2 565.4 385.4 565.1 386.6 565.1C387.8 565.1 389.0 565.5 390.2 565.8C391.4 566.1 392.4 566.5 393.8 567.0C395.2 567.5 396.6 567.8 398.6 569.0C400.6 570.2 403.5 572.5 405.9 574.2C408.3 575.9 409.8 576.8 413.0 579.0C416.2 581.2 421.0 584.8 425.0 587.5C429.0 590.2 433.4 593.1 437.0 595.4C440.6 597.7 443.9 599.6 446.7 601.2C449.5 602.8 452.0 604.1 454.0 605.0C456.0 605.9 457.5 606.1 458.7 606.4C459.9 606.7 460.4 606.8 461.2 606.7C462.0 606.6 462.8 606.4 463.6 606.0C464.4 605.6 465.2 604.8 466.0 604.3C466.8 603.8 467.6 603.6 468.4 602.8C469.2 602.0 470.0 600.9 470.8 599.5C471.6 598.1 472.5 596.5 473.2 594.7C473.9 592.9 474.4 590.7 475.0 588.7C475.6 586.7 476.3 584.2 476.8 582.6C477.3 581.0 477.7 580.4 478.0 579.0C478.3 577.6 478.4 575.8 478.5 574.2C478.6 572.6 478.7 570.2 478.7 569.4" fill="none" stroke="#6db24a" stroke-width="1.18" stroke-linejoin="round"/>
<rect x="370.30" y="561.90" width="114.00" height="68.90" fill="none" stroke="#170f0e" stroke-width="1.1"/>
<text x="373.60" y="588.60" font-size="7.3" font-weight="bold" stroke="#170f0e">NES = −1.2</text>
<text x="373.60" y="597.30" font-size="7.3" font-weight="bold" stroke="#170f0e"><tspan font-style="italic">P</tspan> = 0.2</text>
<text x="373.60" y="606.00" font-size="7.3" font-weight="bold" stroke="#170f0e"><tspan font-style="italic">q</tspan> = 0.89</text>
<rect x="371.80" y="717.70" width="108.20" height="6.30" fill="url(#rwb3)"/>
<path d="M372.00 702.8H372.46V717.7H372.00ZM376.85 702.8H377.31V717.7H376.85ZM388.16 702.8H388.62V717.7H388.16ZM393.46 702.8H393.93V717.7H393.46ZM414.23 702.8H414.70V717.7H414.23ZM444.24 702.8H444.70V717.7H444.24ZM449.89 702.8H450.58V717.7H449.89ZM457.51 702.8H458.20V717.7H457.51ZM461.43 702.8H462.12V717.7H461.43Z" fill="#4d4547"/>
<path d="M374.54 702.8H375.00V717.7H374.54ZM391.16 702.8H391.62V717.7H391.16ZM447.70 702.8H448.16V717.7H447.70Z" fill="#8b8587"/>
<path d="M434.89 702.8H435.58V717.7H434.89ZM452.89 702.8H453.58V717.7H452.89ZM459.12 702.8H459.81V717.7H459.12ZM464.32 702.8H465.24V717.7H464.32ZM466.39 702.8H467.32V717.7H466.39ZM468.70 702.8H469.62V717.7H468.70ZM470.89 702.8H472.05V717.7H470.89ZM473.20 702.8H474.35V717.7H473.20ZM475.51 702.8H476.66V717.7H475.51ZM477.70 702.8H478.62V717.7H477.70Z" fill="#1c1011"/>
<path d="M371.7 657.6C372.2 657.6 373.5 657.4 374.6 657.6C375.7 657.8 375.8 657.5 378.2 658.6C380.6 659.7 385.2 662.3 389.0 664.3C392.8 666.3 397.0 668.5 401.0 670.6C405.0 672.7 409.0 674.7 413.0 676.8C417.0 678.9 421.0 681.0 425.0 683.1C429.0 685.2 433.1 687.2 437.1 689.3C441.1 691.4 445.9 694.0 449.1 695.6C452.3 697.2 454.5 698.0 456.3 698.7C458.1 699.4 458.7 699.6 459.9 699.7C461.1 699.8 462.6 699.7 463.6 699.4C464.6 699.1 465.3 698.4 466.0 697.8C466.7 697.2 467.2 696.6 467.9 695.8C468.6 695.0 469.6 694.4 470.3 693.2C471.0 692.1 471.6 690.6 472.2 688.9C472.8 687.2 473.5 685.1 474.1 682.9C474.7 680.7 475.3 678.0 475.8 675.6C476.3 673.2 476.9 670.8 477.3 668.4C477.7 666.0 478.0 663.0 478.2 661.2C478.4 659.4 478.6 658.2 478.7 657.6" fill="none" stroke="#6db24a" stroke-width="1.18" stroke-linejoin="round"/>
<rect x="370.30" y="655.00" width="114.00" height="75.00" fill="none" stroke="#170f0e" stroke-width="1.1"/>
<text x="373.60" y="680.40" font-size="7.3" font-weight="bold" stroke="#170f0e">NES = −1.75</text>
<text x="373.60" y="689.10" font-size="7.3" font-weight="bold" stroke="#170f0e"><tspan font-style="italic">P</tspan> = 0.0</text>
<text x="373.60" y="697.80" font-size="7.3" font-weight="bold" stroke="#170f0e"><tspan font-style="italic">q</tspan> = 0.0004</text>
</g>
</g>
</svg>
</body></html>
